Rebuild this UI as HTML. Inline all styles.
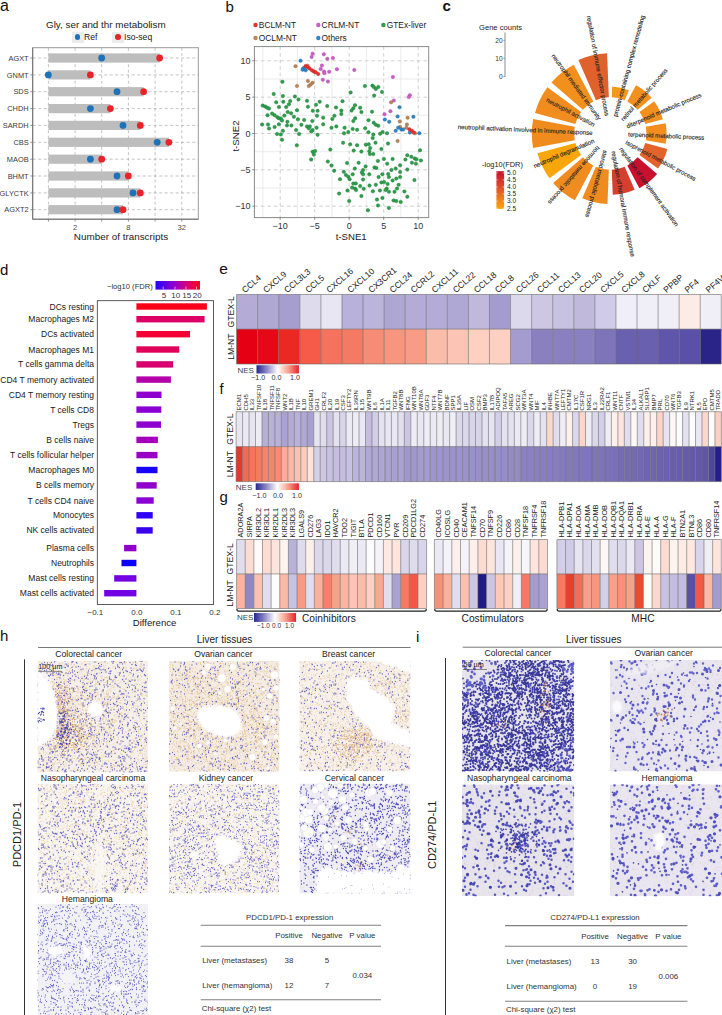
<!DOCTYPE html>
<html><head><meta charset="utf-8"><style>
html,body{margin:0;padding:0;background:#fff;}
body{width:722px;height:1015px;position:relative;overflow:hidden;font-family:"Liberation Sans",sans-serif;}
svg{font-family:"Liberation Sans",sans-serif;overflow:visible;}
.t{position:absolute;white-space:nowrap;line-height:1;color:#111;}
</style></head><body>
<div class="t" style="left:0px;top:-1.6px;font-size:16px;">a</div>
<div class="t" style="left:46px;top:19.6px;font-size:9.85px;color:#1a1a1a;">Gly, ser and thr metabolism</div>
<div style="position:absolute;left:72px;top:32px;width:12px;height:11px;background:#ececec"></div>
<div style="position:absolute;left:75.1px;top:34.2px;width:5.4px;height:5.4px;border-radius:50%;background:#1f72b8"></div>
<div class="t" style="left:84px;top:32.5px;font-size:8.6px;color:#1a1a1a;">Ref</div>
<div style="position:absolute;left:112px;top:32px;width:12px;height:11px;background:#ececec"></div>
<div style="position:absolute;left:115.2px;top:34.2px;width:5.4px;height:5.4px;border-radius:50%;background:#e8242b"></div>
<div class="t" style="left:124px;top:32.5px;font-size:8.6px;color:#1a1a1a;">Iso-seq</div>
<svg style="position:absolute;left:0;top:0" width="222" height="250" viewBox="0 0 222 250"><line x1="48.4" y1="47.7" x2="48.4" y2="219.2" stroke="#9a9a9a" stroke-width="0.6" stroke-dasharray="3,2.5"/><line x1="75.1" y1="47.7" x2="75.1" y2="219.2" stroke="#9a9a9a" stroke-width="0.6" stroke-dasharray="3,2.5"/><line x1="101.7" y1="47.7" x2="101.7" y2="219.2" stroke="#9a9a9a" stroke-width="0.6" stroke-dasharray="3,2.5"/><line x1="128.4" y1="47.7" x2="128.4" y2="219.2" stroke="#9a9a9a" stroke-width="0.6" stroke-dasharray="3,2.5"/><line x1="155.1" y1="47.7" x2="155.1" y2="219.2" stroke="#9a9a9a" stroke-width="0.6" stroke-dasharray="3,2.5"/><line x1="181.8" y1="47.7" x2="181.8" y2="219.2" stroke="#9a9a9a" stroke-width="0.6" stroke-dasharray="3,2.5"/><line x1="32.7" y1="58.0" x2="198.3" y2="58.0" stroke="#9a9a9a" stroke-width="0.6" stroke-dasharray="3,2.5"/><line x1="32.7" y1="74.9" x2="198.3" y2="74.9" stroke="#9a9a9a" stroke-width="0.6" stroke-dasharray="3,2.5"/><line x1="32.7" y1="91.7" x2="198.3" y2="91.7" stroke="#9a9a9a" stroke-width="0.6" stroke-dasharray="3,2.5"/><line x1="32.7" y1="108.6" x2="198.3" y2="108.6" stroke="#9a9a9a" stroke-width="0.6" stroke-dasharray="3,2.5"/><line x1="32.7" y1="125.4" x2="198.3" y2="125.4" stroke="#9a9a9a" stroke-width="0.6" stroke-dasharray="3,2.5"/><line x1="32.7" y1="142.3" x2="198.3" y2="142.3" stroke="#9a9a9a" stroke-width="0.6" stroke-dasharray="3,2.5"/><line x1="32.7" y1="159.2" x2="198.3" y2="159.2" stroke="#9a9a9a" stroke-width="0.6" stroke-dasharray="3,2.5"/><line x1="32.7" y1="176.0" x2="198.3" y2="176.0" stroke="#9a9a9a" stroke-width="0.6" stroke-dasharray="3,2.5"/><line x1="32.7" y1="192.9" x2="198.3" y2="192.9" stroke="#9a9a9a" stroke-width="0.6" stroke-dasharray="3,2.5"/><line x1="32.7" y1="209.7" x2="198.3" y2="209.7" stroke="#9a9a9a" stroke-width="0.6" stroke-dasharray="3,2.5"/><rect x="48.4" y="53.4" width="111.2" height="9.2" fill="#bdbdbd"/><circle cx="101.7" cy="58.0" r="3.4" fill="#1f72b8"/><circle cx="159.6" cy="58.0" r="3.4" fill="#e8242b"/><line x1="30.3" y1="58.0" x2="32.7" y2="58.0" stroke="#444" stroke-width="0.6"/><rect x="48.4" y="70.3" width="42.0" height="9.2" fill="#bdbdbd"/><circle cx="48.3" cy="74.9" r="3.4" fill="#1f72b8"/><circle cx="90.4" cy="74.9" r="3.4" fill="#e8242b"/><line x1="30.3" y1="74.9" x2="32.7" y2="74.9" stroke="#444" stroke-width="0.6"/><rect x="48.4" y="87.1" width="95.2" height="9.2" fill="#bdbdbd"/><circle cx="117" cy="91.7" r="3.4" fill="#1f72b8"/><circle cx="143.6" cy="91.7" r="3.4" fill="#e8242b"/><line x1="30.3" y1="91.7" x2="32.7" y2="91.7" stroke="#444" stroke-width="0.6"/><rect x="48.4" y="104.0" width="62.0" height="9.2" fill="#bdbdbd"/><circle cx="90.4" cy="108.6" r="3.4" fill="#1f72b8"/><circle cx="110.4" cy="108.6" r="3.4" fill="#e8242b"/><line x1="30.3" y1="108.6" x2="32.7" y2="108.6" stroke="#444" stroke-width="0.6"/><rect x="48.4" y="120.8" width="91.9" height="9.2" fill="#bdbdbd"/><circle cx="123" cy="125.4" r="3.4" fill="#1f72b8"/><circle cx="140.3" cy="125.4" r="3.4" fill="#e8242b"/><line x1="30.3" y1="125.4" x2="32.7" y2="125.4" stroke="#444" stroke-width="0.6"/><rect x="48.4" y="137.7" width="120.5" height="9.2" fill="#bdbdbd"/><circle cx="157.2" cy="142.3" r="3.4" fill="#1f72b8"/><circle cx="168.9" cy="142.3" r="3.4" fill="#e8242b"/><line x1="30.3" y1="142.3" x2="32.7" y2="142.3" stroke="#444" stroke-width="0.6"/><rect x="48.4" y="154.6" width="53.3" height="9.2" fill="#bdbdbd"/><circle cx="90.4" cy="159.2" r="3.4" fill="#1f72b8"/><circle cx="101.7" cy="159.2" r="3.4" fill="#e8242b"/><line x1="30.3" y1="159.2" x2="32.7" y2="159.2" stroke="#444" stroke-width="0.6"/><rect x="48.4" y="171.4" width="79.9" height="9.2" fill="#bdbdbd"/><circle cx="117" cy="176.0" r="3.4" fill="#1f72b8"/><circle cx="128.3" cy="176.0" r="3.4" fill="#e8242b"/><line x1="30.3" y1="176.0" x2="32.7" y2="176.0" stroke="#444" stroke-width="0.6"/><rect x="48.4" y="188.3" width="91.9" height="9.2" fill="#bdbdbd"/><circle cx="133" cy="192.9" r="3.4" fill="#1f72b8"/><circle cx="140.3" cy="192.9" r="3.4" fill="#e8242b"/><line x1="30.3" y1="192.9" x2="32.7" y2="192.9" stroke="#444" stroke-width="0.6"/><rect x="48.4" y="205.1" width="74.6" height="9.2" fill="#bdbdbd"/><circle cx="117" cy="209.7" r="3.4" fill="#1f72b8"/><circle cx="123" cy="209.7" r="3.4" fill="#e8242b"/><line x1="30.3" y1="209.7" x2="32.7" y2="209.7" stroke="#444" stroke-width="0.6"/><line x1="48.4" y1="219.2" x2="48.4" y2="221.6" stroke="#444" stroke-width="0.6"/><line x1="75.1" y1="219.2" x2="75.1" y2="221.6" stroke="#444" stroke-width="0.6"/><line x1="101.7" y1="219.2" x2="101.7" y2="221.6" stroke="#444" stroke-width="0.6"/><line x1="128.4" y1="219.2" x2="128.4" y2="221.6" stroke="#444" stroke-width="0.6"/><line x1="155.1" y1="219.2" x2="155.1" y2="221.6" stroke="#444" stroke-width="0.6"/><line x1="181.8" y1="219.2" x2="181.8" y2="221.6" stroke="#444" stroke-width="0.6"/><rect x="32.7" y="47.7" width="165.6" height="171.5" fill="none" stroke="#9a9a9a" stroke-width="1"/><path d="M32.7,47.7 V219.2 H198.3" fill="none" stroke="#6a6a6a" stroke-width="0.9"/><text x="28.6" y="60.7" text-anchor="end" font-size="7.4" fill="#3a3a3a">AGXT</text><text x="28.6" y="77.6" text-anchor="end" font-size="7.4" fill="#3a3a3a">GNMT</text><text x="28.6" y="94.4" text-anchor="end" font-size="7.4" fill="#3a3a3a">SDS</text><text x="28.6" y="111.3" text-anchor="end" font-size="7.4" fill="#3a3a3a">CHDH</text><text x="28.6" y="128.1" text-anchor="end" font-size="7.4" fill="#3a3a3a">SARDH</text><text x="28.6" y="145.0" text-anchor="end" font-size="7.4" fill="#3a3a3a">CBS</text><text x="28.6" y="161.9" text-anchor="end" font-size="7.4" fill="#3a3a3a">MAOB</text><text x="28.6" y="178.7" text-anchor="end" font-size="7.4" fill="#3a3a3a">BHMT</text><text x="28.6" y="195.6" text-anchor="end" font-size="7.4" fill="#3a3a3a">GLYCTK</text><text x="28.6" y="212.4" text-anchor="end" font-size="7.4" fill="#3a3a3a">AGXT2</text><text x="75" y="230" text-anchor="middle" font-size="7.6" fill="#4d4d4d">2</text><text x="128.3" y="230" text-anchor="middle" font-size="7.6" fill="#4d4d4d">8</text><text x="181.7" y="230" text-anchor="middle" font-size="7.6" fill="#4d4d4d">32</text><text x="121" y="239.6" text-anchor="middle" font-size="9.9" fill="#1a1a1a">Number of transcripts</text></svg><div class="t" style="left:225.5px;top:-1px;font-size:15px;">b</div>
<svg style="position:absolute;left:0;top:0" width="722" height="250"><circle cx="255.5" cy="25" r="2.2" fill="#e8302f"/><text x="258.8" y="28.0" font-size="8.4" fill="#1a1a1a">BCLM-NT</text><circle cx="318.3" cy="25" r="2.2" fill="#c761c4"/><text x="321.6" y="28.0" font-size="8.4" fill="#1a1a1a">CRLM-NT</text><circle cx="383.4" cy="25" r="2.2" fill="#2c9b4b"/><text x="386.7" y="28.0" font-size="8.4" fill="#1a1a1a">GTEx-liver</text><circle cx="255.5" cy="38" r="2.2" fill="#b8865a"/><text x="258.8" y="41.0" font-size="8.4" fill="#1a1a1a">OCLM-NT</text><circle cx="318.3" cy="38" r="2.2" fill="#2f86c6"/><text x="321.6" y="41.0" font-size="8.4" fill="#1a1a1a">Others</text><line x1="262.9" y1="46.6" x2="262.9" y2="217.6" stroke="#e4e4e4" stroke-width="0.7"/><line x1="297.4" y1="46.6" x2="297.4" y2="217.6" stroke="#e4e4e4" stroke-width="0.7"/><line x1="331.9" y1="46.6" x2="331.9" y2="217.6" stroke="#e4e4e4" stroke-width="0.7"/><line x1="366.4" y1="46.6" x2="366.4" y2="217.6" stroke="#e4e4e4" stroke-width="0.7"/><line x1="400.9" y1="46.6" x2="400.9" y2="217.6" stroke="#e4e4e4" stroke-width="0.7"/><line x1="254.4" y1="188.0" x2="428.7" y2="188.0" stroke="#e4e4e4" stroke-width="0.7"/><line x1="254.4" y1="151.7" x2="428.7" y2="151.7" stroke="#e4e4e4" stroke-width="0.7"/><line x1="254.4" y1="115.3" x2="428.7" y2="115.3" stroke="#e4e4e4" stroke-width="0.7"/><line x1="254.4" y1="79.0" x2="428.7" y2="79.0" stroke="#e4e4e4" stroke-width="0.7"/><line x1="280.2" y1="46.6" x2="280.2" y2="217.6" stroke="#bcbcbc" stroke-width="0.7" stroke-dasharray="3.5,3"/><line x1="254.4" y1="206.2" x2="428.7" y2="206.2" stroke="#bcbcbc" stroke-width="0.7" stroke-dasharray="3.5,3"/><line x1="314.7" y1="46.6" x2="314.7" y2="217.6" stroke="#bcbcbc" stroke-width="0.7" stroke-dasharray="3.5,3"/><line x1="254.4" y1="169.8" x2="428.7" y2="169.8" stroke="#bcbcbc" stroke-width="0.7" stroke-dasharray="3.5,3"/><line x1="349.2" y1="46.6" x2="349.2" y2="217.6" stroke="#bcbcbc" stroke-width="0.7" stroke-dasharray="3.5,3"/><line x1="254.4" y1="133.5" x2="428.7" y2="133.5" stroke="#bcbcbc" stroke-width="0.7" stroke-dasharray="3.5,3"/><line x1="383.7" y1="46.6" x2="383.7" y2="217.6" stroke="#bcbcbc" stroke-width="0.7" stroke-dasharray="3.5,3"/><line x1="254.4" y1="97.2" x2="428.7" y2="97.2" stroke="#bcbcbc" stroke-width="0.7" stroke-dasharray="3.5,3"/><line x1="418.2" y1="46.6" x2="418.2" y2="217.6" stroke="#bcbcbc" stroke-width="0.7" stroke-dasharray="3.5,3"/><line x1="254.4" y1="60.8" x2="428.7" y2="60.8" stroke="#bcbcbc" stroke-width="0.7" stroke-dasharray="3.5,3"/><circle cx="282.4" cy="81.8" r="1.75" fill="#2e9e4c" stroke="#1f7a37" stroke-width="0.4"/><circle cx="273.7" cy="94" r="1.75" fill="#2e9e4c" stroke="#1f7a37" stroke-width="0.4"/><circle cx="282.9" cy="96.1" r="1.75" fill="#2e9e4c" stroke="#1f7a37" stroke-width="0.4"/><circle cx="294.9" cy="96.5" r="1.75" fill="#2e9e4c" stroke="#1f7a37" stroke-width="0.4"/><circle cx="298.5" cy="99.4" r="1.75" fill="#2e9e4c" stroke="#1f7a37" stroke-width="0.4"/><circle cx="290.2" cy="101.1" r="1.75" fill="#2e9e4c" stroke="#1f7a37" stroke-width="0.4"/><circle cx="283.3" cy="101.8" r="1.75" fill="#2e9e4c" stroke="#1f7a37" stroke-width="0.4"/><circle cx="276.2" cy="102.3" r="1.75" fill="#2e9e4c" stroke="#1f7a37" stroke-width="0.4"/><circle cx="307" cy="100.8" r="1.75" fill="#2e9e4c" stroke="#1f7a37" stroke-width="0.4"/><circle cx="319.7" cy="101.7" r="1.75" fill="#2e9e4c" stroke="#1f7a37" stroke-width="0.4"/><circle cx="342.5" cy="101.2" r="1.75" fill="#2e9e4c" stroke="#1f7a37" stroke-width="0.4"/><circle cx="262.7" cy="105.6" r="1.75" fill="#2e9e4c" stroke="#1f7a37" stroke-width="0.4"/><circle cx="265.2" cy="106.5" r="1.75" fill="#2e9e4c" stroke="#1f7a37" stroke-width="0.4"/><circle cx="267.1" cy="107.7" r="1.75" fill="#2e9e4c" stroke="#1f7a37" stroke-width="0.4"/><circle cx="269" cy="108.6" r="1.75" fill="#2e9e4c" stroke="#1f7a37" stroke-width="0.4"/><circle cx="278.9" cy="107.1" r="1.75" fill="#2e9e4c" stroke="#1f7a37" stroke-width="0.4"/><circle cx="286.2" cy="107.1" r="1.75" fill="#2e9e4c" stroke="#1f7a37" stroke-width="0.4"/><circle cx="288.9" cy="104.3" r="1.75" fill="#2e9e4c" stroke="#1f7a37" stroke-width="0.4"/><circle cx="307.9" cy="106.8" r="1.75" fill="#2e9e4c" stroke="#1f7a37" stroke-width="0.4"/><circle cx="316" cy="104.8" r="1.75" fill="#2e9e4c" stroke="#1f7a37" stroke-width="0.4"/><circle cx="327.2" cy="106.1" r="1.75" fill="#2e9e4c" stroke="#1f7a37" stroke-width="0.4"/><circle cx="336" cy="107.5" r="1.75" fill="#2e9e4c" stroke="#1f7a37" stroke-width="0.4"/><circle cx="341.3" cy="110.6" r="1.75" fill="#2e9e4c" stroke="#1f7a37" stroke-width="0.4"/><circle cx="341.3" cy="113.9" r="1.75" fill="#2e9e4c" stroke="#1f7a37" stroke-width="0.4"/><circle cx="297" cy="110.2" r="1.75" fill="#2e9e4c" stroke="#1f7a37" stroke-width="0.4"/><circle cx="287.7" cy="112.1" r="1.75" fill="#2e9e4c" stroke="#1f7a37" stroke-width="0.4"/><circle cx="291.1" cy="113.3" r="1.75" fill="#2e9e4c" stroke="#1f7a37" stroke-width="0.4"/><circle cx="312.8" cy="110.8" r="1.75" fill="#2e9e4c" stroke="#1f7a37" stroke-width="0.4"/><circle cx="317.6" cy="110.8" r="1.75" fill="#2e9e4c" stroke="#1f7a37" stroke-width="0.4"/><circle cx="267.5" cy="115.2" r="1.75" fill="#2e9e4c" stroke="#1f7a37" stroke-width="0.4"/><circle cx="272.1" cy="113.6" r="1.75" fill="#2e9e4c" stroke="#1f7a37" stroke-width="0.4"/><circle cx="274.6" cy="115.2" r="1.75" fill="#2e9e4c" stroke="#1f7a37" stroke-width="0.4"/><circle cx="277.4" cy="117.3" r="1.75" fill="#2e9e4c" stroke="#1f7a37" stroke-width="0.4"/><circle cx="278.9" cy="118.3" r="1.75" fill="#2e9e4c" stroke="#1f7a37" stroke-width="0.4"/><circle cx="280.8" cy="118.5" r="1.75" fill="#2e9e4c" stroke="#1f7a37" stroke-width="0.4"/><circle cx="282" cy="120.5" r="1.75" fill="#2e9e4c" stroke="#1f7a37" stroke-width="0.4"/><circle cx="284.3" cy="115.6" r="1.75" fill="#2e9e4c" stroke="#1f7a37" stroke-width="0.4"/><circle cx="293.9" cy="116.8" r="1.75" fill="#2e9e4c" stroke="#1f7a37" stroke-width="0.4"/><circle cx="297.9" cy="119.3" r="1.75" fill="#2e9e4c" stroke="#1f7a37" stroke-width="0.4"/><circle cx="304.1" cy="119.9" r="1.75" fill="#2e9e4c" stroke="#1f7a37" stroke-width="0.4"/><circle cx="312.3" cy="121" r="1.75" fill="#2e9e4c" stroke="#1f7a37" stroke-width="0.4"/><circle cx="317" cy="115.8" r="1.75" fill="#2e9e4c" stroke="#1f7a37" stroke-width="0.4"/><circle cx="323.2" cy="117.7" r="1.75" fill="#2e9e4c" stroke="#1f7a37" stroke-width="0.4"/><circle cx="332.3" cy="118.9" r="1.75" fill="#2e9e4c" stroke="#1f7a37" stroke-width="0.4"/><circle cx="334.4" cy="115.8" r="1.75" fill="#2e9e4c" stroke="#1f7a37" stroke-width="0.4"/><circle cx="262.1" cy="124.5" r="1.75" fill="#2e9e4c" stroke="#1f7a37" stroke-width="0.4"/><circle cx="268" cy="124.5" r="1.75" fill="#2e9e4c" stroke="#1f7a37" stroke-width="0.4"/><circle cx="269" cy="128.5" r="1.75" fill="#2e9e4c" stroke="#1f7a37" stroke-width="0.4"/><circle cx="274.6" cy="127" r="1.75" fill="#2e9e4c" stroke="#1f7a37" stroke-width="0.4"/><circle cx="278.9" cy="124.3" r="1.75" fill="#2e9e4c" stroke="#1f7a37" stroke-width="0.4"/><circle cx="287.4" cy="121.8" r="1.75" fill="#2e9e4c" stroke="#1f7a37" stroke-width="0.4"/><circle cx="287" cy="125.4" r="1.75" fill="#2e9e4c" stroke="#1f7a37" stroke-width="0.4"/><circle cx="291.4" cy="125.4" r="1.75" fill="#2e9e4c" stroke="#1f7a37" stroke-width="0.4"/><circle cx="301.4" cy="124.8" r="1.75" fill="#2e9e4c" stroke="#1f7a37" stroke-width="0.4"/><circle cx="307" cy="126.4" r="1.75" fill="#2e9e4c" stroke="#1f7a37" stroke-width="0.4"/><circle cx="309.8" cy="126.4" r="1.75" fill="#2e9e4c" stroke="#1f7a37" stroke-width="0.4"/><circle cx="308.8" cy="128.3" r="1.75" fill="#2e9e4c" stroke="#1f7a37" stroke-width="0.4"/><circle cx="312.6" cy="130.1" r="1.75" fill="#2e9e4c" stroke="#1f7a37" stroke-width="0.4"/><circle cx="316.6" cy="127.7" r="1.75" fill="#2e9e4c" stroke="#1f7a37" stroke-width="0.4"/><circle cx="323.2" cy="124.3" r="1.75" fill="#2e9e4c" stroke="#1f7a37" stroke-width="0.4"/><circle cx="331.5" cy="127.7" r="1.75" fill="#2e9e4c" stroke="#1f7a37" stroke-width="0.4"/><circle cx="336.3" cy="126.4" r="1.75" fill="#2e9e4c" stroke="#1f7a37" stroke-width="0.4"/><circle cx="282.9" cy="130.8" r="1.75" fill="#2e9e4c" stroke="#1f7a37" stroke-width="0.4"/><circle cx="296.1" cy="130.1" r="1.75" fill="#2e9e4c" stroke="#1f7a37" stroke-width="0.4"/><circle cx="277.1" cy="133.9" r="1.75" fill="#2e9e4c" stroke="#1f7a37" stroke-width="0.4"/><circle cx="280.8" cy="134.5" r="1.75" fill="#2e9e4c" stroke="#1f7a37" stroke-width="0.4"/><circle cx="299.1" cy="133.9" r="1.75" fill="#2e9e4c" stroke="#1f7a37" stroke-width="0.4"/><circle cx="317.6" cy="134.8" r="1.75" fill="#2e9e4c" stroke="#1f7a37" stroke-width="0.4"/><circle cx="364.9" cy="86.1" r="1.75" fill="#2e9e4c" stroke="#1f7a37" stroke-width="0.4"/><circle cx="372.4" cy="85.6" r="1.75" fill="#2e9e4c" stroke="#1f7a37" stroke-width="0.4"/><circle cx="373.9" cy="87.1" r="1.75" fill="#2e9e4c" stroke="#1f7a37" stroke-width="0.4"/><circle cx="375.8" cy="89" r="1.75" fill="#2e9e4c" stroke="#1f7a37" stroke-width="0.4"/><circle cx="378.3" cy="86.9" r="1.75" fill="#2e9e4c" stroke="#1f7a37" stroke-width="0.4"/><circle cx="382" cy="91.9" r="1.75" fill="#2e9e4c" stroke="#1f7a37" stroke-width="0.4"/><circle cx="350.6" cy="92.4" r="1.75" fill="#2e9e4c" stroke="#1f7a37" stroke-width="0.4"/><circle cx="374.2" cy="95.6" r="1.75" fill="#2e9e4c" stroke="#1f7a37" stroke-width="0.4"/><circle cx="355" cy="105.2" r="1.75" fill="#2e9e4c" stroke="#1f7a37" stroke-width="0.4"/><circle cx="353.3" cy="108.3" r="1.75" fill="#2e9e4c" stroke="#1f7a37" stroke-width="0.4"/><circle cx="351.5" cy="110.6" r="1.75" fill="#2e9e4c" stroke="#1f7a37" stroke-width="0.4"/><circle cx="360.2" cy="107.7" r="1.75" fill="#2e9e4c" stroke="#1f7a37" stroke-width="0.4"/><circle cx="361.4" cy="112.1" r="1.75" fill="#2e9e4c" stroke="#1f7a37" stroke-width="0.4"/><circle cx="372" cy="111.7" r="1.75" fill="#2e9e4c" stroke="#1f7a37" stroke-width="0.4"/><circle cx="355.2" cy="118.3" r="1.75" fill="#2e9e4c" stroke="#1f7a37" stroke-width="0.4"/><circle cx="353.3" cy="121" r="1.75" fill="#2e9e4c" stroke="#1f7a37" stroke-width="0.4"/><circle cx="368.5" cy="120.2" r="1.75" fill="#2e9e4c" stroke="#1f7a37" stroke-width="0.4"/><circle cx="373.7" cy="122.7" r="1.75" fill="#2e9e4c" stroke="#1f7a37" stroke-width="0.4"/><circle cx="375.8" cy="124.8" r="1.75" fill="#2e9e4c" stroke="#1f7a37" stroke-width="0.4"/><circle cx="378.3" cy="125.8" r="1.75" fill="#2e9e4c" stroke="#1f7a37" stroke-width="0.4"/><circle cx="344.6" cy="127.7" r="1.75" fill="#2e9e4c" stroke="#1f7a37" stroke-width="0.4"/><circle cx="352.7" cy="128.9" r="1.75" fill="#2e9e4c" stroke="#1f7a37" stroke-width="0.4"/><circle cx="357.1" cy="129.8" r="1.75" fill="#2e9e4c" stroke="#1f7a37" stroke-width="0.4"/><circle cx="365.2" cy="128.3" r="1.75" fill="#2e9e4c" stroke="#1f7a37" stroke-width="0.4"/><circle cx="348.3" cy="132" r="1.75" fill="#2e9e4c" stroke="#1f7a37" stroke-width="0.4"/><circle cx="368.5" cy="132.3" r="1.75" fill="#2e9e4c" stroke="#1f7a37" stroke-width="0.4"/><circle cx="382.6" cy="132" r="1.75" fill="#2e9e4c" stroke="#1f7a37" stroke-width="0.4"/><circle cx="387" cy="133.3" r="1.75" fill="#2e9e4c" stroke="#1f7a37" stroke-width="0.4"/><circle cx="344" cy="133.3" r="1.75" fill="#2e9e4c" stroke="#1f7a37" stroke-width="0.4"/><circle cx="373.3" cy="134.5" r="1.75" fill="#2e9e4c" stroke="#1f7a37" stroke-width="0.4"/><circle cx="282" cy="139.7" r="1.75" fill="#2e9e4c" stroke="#1f7a37" stroke-width="0.4"/><circle cx="311.3" cy="131.5" r="1.75" fill="#2e9e4c" stroke="#1f7a37" stroke-width="0.4"/><circle cx="343.1" cy="142.8" r="1.75" fill="#2e9e4c" stroke="#1f7a37" stroke-width="0.4"/><circle cx="296.8" cy="145.3" r="1.75" fill="#2e9e4c" stroke="#1f7a37" stroke-width="0.4"/><circle cx="312.6" cy="151.8" r="1.75" fill="#2e9e4c" stroke="#1f7a37" stroke-width="0.4"/><circle cx="315.1" cy="150.9" r="1.75" fill="#2e9e4c" stroke="#1f7a37" stroke-width="0.4"/><circle cx="313.8" cy="154.6" r="1.75" fill="#2e9e4c" stroke="#1f7a37" stroke-width="0.4"/><circle cx="311.1" cy="159.5" r="1.75" fill="#2e9e4c" stroke="#1f7a37" stroke-width="0.4"/><circle cx="330.3" cy="149.6" r="1.75" fill="#2e9e4c" stroke="#1f7a37" stroke-width="0.4"/><circle cx="327.8" cy="161.5" r="1.75" fill="#2e9e4c" stroke="#1f7a37" stroke-width="0.4"/><circle cx="331.5" cy="165.5" r="1.75" fill="#2e9e4c" stroke="#1f7a37" stroke-width="0.4"/><circle cx="334.2" cy="170.8" r="1.75" fill="#2e9e4c" stroke="#1f7a37" stroke-width="0.4"/><circle cx="343.8" cy="171.8" r="1.75" fill="#2e9e4c" stroke="#1f7a37" stroke-width="0.4"/><circle cx="340" cy="179.2" r="1.75" fill="#2e9e4c" stroke="#1f7a37" stroke-width="0.4"/><circle cx="339.1" cy="193.6" r="1.75" fill="#2e9e4c" stroke="#1f7a37" stroke-width="0.4"/><circle cx="372.7" cy="138.1" r="1.75" fill="#2e9e4c" stroke="#1f7a37" stroke-width="0.4"/><circle cx="380.1" cy="133.7" r="1.75" fill="#2e9e4c" stroke="#1f7a37" stroke-width="0.4"/><circle cx="350.2" cy="144.3" r="1.75" fill="#2e9e4c" stroke="#1f7a37" stroke-width="0.4"/><circle cx="357.1" cy="145.2" r="1.75" fill="#2e9e4c" stroke="#1f7a37" stroke-width="0.4"/><circle cx="365.8" cy="144.7" r="1.75" fill="#2e9e4c" stroke="#1f7a37" stroke-width="0.4"/><circle cx="368.7" cy="144.3" r="1.75" fill="#2e9e4c" stroke="#1f7a37" stroke-width="0.4"/><circle cx="375.5" cy="142.7" r="1.75" fill="#2e9e4c" stroke="#1f7a37" stroke-width="0.4"/><circle cx="388" cy="143.5" r="1.75" fill="#2e9e4c" stroke="#1f7a37" stroke-width="0.4"/><circle cx="370.2" cy="148.1" r="1.75" fill="#2e9e4c" stroke="#1f7a37" stroke-width="0.4"/><circle cx="381.4" cy="149.1" r="1.75" fill="#2e9e4c" stroke="#1f7a37" stroke-width="0.4"/><circle cx="353.7" cy="150.6" r="1.75" fill="#2e9e4c" stroke="#1f7a37" stroke-width="0.4"/><circle cx="361.4" cy="151.6" r="1.75" fill="#2e9e4c" stroke="#1f7a37" stroke-width="0.4"/><circle cx="369.3" cy="151.2" r="1.75" fill="#2e9e4c" stroke="#1f7a37" stroke-width="0.4"/><circle cx="369.9" cy="154.1" r="1.75" fill="#2e9e4c" stroke="#1f7a37" stroke-width="0.4"/><circle cx="373.3" cy="154.1" r="1.75" fill="#2e9e4c" stroke="#1f7a37" stroke-width="0.4"/><circle cx="420" cy="150.2" r="1.75" fill="#2e9e4c" stroke="#1f7a37" stroke-width="0.4"/><circle cx="407.3" cy="155.2" r="1.75" fill="#2e9e4c" stroke="#1f7a37" stroke-width="0.4"/><circle cx="411.3" cy="156.8" r="1.75" fill="#2e9e4c" stroke="#1f7a37" stroke-width="0.4"/><circle cx="414.7" cy="158.4" r="1.75" fill="#2e9e4c" stroke="#1f7a37" stroke-width="0.4"/><circle cx="416.3" cy="159.3" r="1.75" fill="#2e9e4c" stroke="#1f7a37" stroke-width="0.4"/><circle cx="420.9" cy="160.5" r="1.75" fill="#2e9e4c" stroke="#1f7a37" stroke-width="0.4"/><circle cx="405.4" cy="159.5" r="1.75" fill="#2e9e4c" stroke="#1f7a37" stroke-width="0.4"/><circle cx="392.6" cy="159" r="1.75" fill="#2e9e4c" stroke="#1f7a37" stroke-width="0.4"/><circle cx="383.9" cy="159" r="1.75" fill="#2e9e4c" stroke="#1f7a37" stroke-width="0.4"/><circle cx="377.9" cy="160.9" r="1.75" fill="#2e9e4c" stroke="#1f7a37" stroke-width="0.4"/><circle cx="411.9" cy="162.7" r="1.75" fill="#2e9e4c" stroke="#1f7a37" stroke-width="0.4"/><circle cx="415.9" cy="163.7" r="1.75" fill="#2e9e4c" stroke="#1f7a37" stroke-width="0.4"/><circle cx="347.1" cy="163" r="1.75" fill="#2e9e4c" stroke="#1f7a37" stroke-width="0.4"/><circle cx="358.6" cy="162.8" r="1.75" fill="#2e9e4c" stroke="#1f7a37" stroke-width="0.4"/><circle cx="387.2" cy="163.7" r="1.75" fill="#2e9e4c" stroke="#1f7a37" stroke-width="0.4"/><circle cx="400.1" cy="165.3" r="1.75" fill="#2e9e4c" stroke="#1f7a37" stroke-width="0.4"/><circle cx="365.6" cy="166.4" r="1.75" fill="#2e9e4c" stroke="#1f7a37" stroke-width="0.4"/><circle cx="374.5" cy="167.4" r="1.75" fill="#2e9e4c" stroke="#1f7a37" stroke-width="0.4"/><circle cx="376.4" cy="168" r="1.75" fill="#2e9e4c" stroke="#1f7a37" stroke-width="0.4"/><circle cx="354.8" cy="168.6" r="1.75" fill="#2e9e4c" stroke="#1f7a37" stroke-width="0.4"/><circle cx="395.7" cy="168.6" r="1.75" fill="#2e9e4c" stroke="#1f7a37" stroke-width="0.4"/><circle cx="407.3" cy="169.6" r="1.75" fill="#2e9e4c" stroke="#1f7a37" stroke-width="0.4"/><circle cx="391.4" cy="169.9" r="1.75" fill="#2e9e4c" stroke="#1f7a37" stroke-width="0.4"/><circle cx="363.1" cy="170.1" r="1.75" fill="#2e9e4c" stroke="#1f7a37" stroke-width="0.4"/><circle cx="400.1" cy="172.1" r="1.75" fill="#2e9e4c" stroke="#1f7a37" stroke-width="0.4"/><circle cx="361.8" cy="172.4" r="1.75" fill="#2e9e4c" stroke="#1f7a37" stroke-width="0.4"/><circle cx="352.7" cy="174.3" r="1.75" fill="#2e9e4c" stroke="#1f7a37" stroke-width="0.4"/><circle cx="363.1" cy="174.3" r="1.75" fill="#2e9e4c" stroke="#1f7a37" stroke-width="0.4"/><circle cx="369.3" cy="174.3" r="1.75" fill="#2e9e4c" stroke="#1f7a37" stroke-width="0.4"/><circle cx="382.4" cy="174.3" r="1.75" fill="#2e9e4c" stroke="#1f7a37" stroke-width="0.4"/><circle cx="388.2" cy="174" r="1.75" fill="#2e9e4c" stroke="#1f7a37" stroke-width="0.4"/><circle cx="345.9" cy="174.9" r="1.75" fill="#2e9e4c" stroke="#1f7a37" stroke-width="0.4"/><circle cx="348.3" cy="176.7" r="1.75" fill="#2e9e4c" stroke="#1f7a37" stroke-width="0.4"/><circle cx="378.6" cy="177.1" r="1.75" fill="#2e9e4c" stroke="#1f7a37" stroke-width="0.4"/><circle cx="388.9" cy="177.1" r="1.75" fill="#2e9e4c" stroke="#1f7a37" stroke-width="0.4"/><circle cx="400.1" cy="177.1" r="1.75" fill="#2e9e4c" stroke="#1f7a37" stroke-width="0.4"/><circle cx="349.6" cy="179.2" r="1.75" fill="#2e9e4c" stroke="#1f7a37" stroke-width="0.4"/><circle cx="363.1" cy="179.6" r="1.75" fill="#2e9e4c" stroke="#1f7a37" stroke-width="0.4"/><circle cx="396.3" cy="178.6" r="1.75" fill="#2e9e4c" stroke="#1f7a37" stroke-width="0.4"/><circle cx="392.6" cy="180.5" r="1.75" fill="#2e9e4c" stroke="#1f7a37" stroke-width="0.4"/><circle cx="414.4" cy="180.1" r="1.75" fill="#2e9e4c" stroke="#1f7a37" stroke-width="0.4"/><circle cx="381.4" cy="182.4" r="1.75" fill="#2e9e4c" stroke="#1f7a37" stroke-width="0.4"/><circle cx="384.1" cy="182.1" r="1.75" fill="#2e9e4c" stroke="#1f7a37" stroke-width="0.4"/><circle cx="353.3" cy="183.6" r="1.75" fill="#2e9e4c" stroke="#1f7a37" stroke-width="0.4"/><circle cx="355.8" cy="183.4" r="1.75" fill="#2e9e4c" stroke="#1f7a37" stroke-width="0.4"/><circle cx="369.5" cy="185.5" r="1.75" fill="#2e9e4c" stroke="#1f7a37" stroke-width="0.4"/><circle cx="375.8" cy="184.8" r="1.75" fill="#2e9e4c" stroke="#1f7a37" stroke-width="0.4"/><circle cx="387.6" cy="183.9" r="1.75" fill="#2e9e4c" stroke="#1f7a37" stroke-width="0.4"/><circle cx="398.6" cy="184.8" r="1.75" fill="#2e9e4c" stroke="#1f7a37" stroke-width="0.4"/><circle cx="360.2" cy="186.1" r="1.75" fill="#2e9e4c" stroke="#1f7a37" stroke-width="0.4"/><circle cx="352.1" cy="187.6" r="1.75" fill="#2e9e4c" stroke="#1f7a37" stroke-width="0.4"/><circle cx="355" cy="188.6" r="1.75" fill="#2e9e4c" stroke="#1f7a37" stroke-width="0.4"/><circle cx="363.7" cy="188.8" r="1.75" fill="#2e9e4c" stroke="#1f7a37" stroke-width="0.4"/><circle cx="397" cy="188.6" r="1.75" fill="#2e9e4c" stroke="#1f7a37" stroke-width="0.4"/><circle cx="386.7" cy="188.6" r="1.75" fill="#2e9e4c" stroke="#1f7a37" stroke-width="0.4"/><circle cx="356.1" cy="190.1" r="1.75" fill="#2e9e4c" stroke="#1f7a37" stroke-width="0.4"/><circle cx="347.5" cy="190.5" r="1.75" fill="#2e9e4c" stroke="#1f7a37" stroke-width="0.4"/><circle cx="379.9" cy="190.5" r="1.75" fill="#2e9e4c" stroke="#1f7a37" stroke-width="0.4"/><circle cx="372.9" cy="191.3" r="1.75" fill="#2e9e4c" stroke="#1f7a37" stroke-width="0.4"/><circle cx="385.7" cy="190.1" r="1.75" fill="#2e9e4c" stroke="#1f7a37" stroke-width="0.4"/><circle cx="388.9" cy="191.7" r="1.75" fill="#2e9e4c" stroke="#1f7a37" stroke-width="0.4"/><circle cx="394.5" cy="191.7" r="1.75" fill="#2e9e4c" stroke="#1f7a37" stroke-width="0.4"/><circle cx="404.4" cy="191.5" r="1.75" fill="#2e9e4c" stroke="#1f7a37" stroke-width="0.4"/><circle cx="361.4" cy="196.1" r="1.75" fill="#2e9e4c" stroke="#1f7a37" stroke-width="0.4"/><circle cx="407.3" cy="196.7" r="1.75" fill="#2e9e4c" stroke="#1f7a37" stroke-width="0.4"/><circle cx="382.4" cy="197.9" r="1.75" fill="#2e9e4c" stroke="#1f7a37" stroke-width="0.4"/><circle cx="377" cy="199.6" r="1.75" fill="#2e9e4c" stroke="#1f7a37" stroke-width="0.4"/><circle cx="393.6" cy="200.4" r="1.75" fill="#2e9e4c" stroke="#1f7a37" stroke-width="0.4"/><circle cx="396.3" cy="201.1" r="1.75" fill="#2e9e4c" stroke="#1f7a37" stroke-width="0.4"/><circle cx="400.7" cy="201.9" r="1.75" fill="#2e9e4c" stroke="#1f7a37" stroke-width="0.4"/><circle cx="349.2" cy="201.1" r="1.75" fill="#2e9e4c" stroke="#1f7a37" stroke-width="0.4"/><circle cx="378" cy="205.4" r="1.75" fill="#2e9e4c" stroke="#1f7a37" stroke-width="0.4"/><circle cx="388.9" cy="207.9" r="1.75" fill="#2e9e4c" stroke="#1f7a37" stroke-width="0.4"/><circle cx="367.9" cy="210.2" r="1.75" fill="#2e9e4c" stroke="#1f7a37" stroke-width="0.4"/><circle cx="312.6" cy="53.7" r="1.75" fill="#c761c4" stroke="#a84aa5" stroke-width="0.4"/><circle cx="311.6" cy="57" r="1.75" fill="#c761c4" stroke="#a84aa5" stroke-width="0.4"/><circle cx="323.8" cy="54.2" r="1.75" fill="#c761c4" stroke="#a84aa5" stroke-width="0.4"/><circle cx="327.3" cy="58.8" r="1.75" fill="#c761c4" stroke="#a84aa5" stroke-width="0.4"/><circle cx="332.9" cy="58" r="1.75" fill="#c761c4" stroke="#a84aa5" stroke-width="0.4"/><circle cx="321.9" cy="65.6" r="1.75" fill="#c761c4" stroke="#a84aa5" stroke-width="0.4"/><circle cx="320.7" cy="69" r="1.75" fill="#c761c4" stroke="#a84aa5" stroke-width="0.4"/><circle cx="324" cy="71.6" r="1.75" fill="#c761c4" stroke="#a84aa5" stroke-width="0.4"/><circle cx="324.4" cy="73.2" r="1.75" fill="#c761c4" stroke="#a84aa5" stroke-width="0.4"/><circle cx="329.2" cy="71.8" r="1.75" fill="#c761c4" stroke="#a84aa5" stroke-width="0.4"/><circle cx="336.9" cy="69.2" r="1.75" fill="#c761c4" stroke="#a84aa5" stroke-width="0.4"/><circle cx="322.8" cy="79.7" r="1.75" fill="#c761c4" stroke="#a84aa5" stroke-width="0.4"/><circle cx="327.9" cy="81.5" r="1.75" fill="#c761c4" stroke="#a84aa5" stroke-width="0.4"/><circle cx="354.3" cy="69.9" r="1.75" fill="#c761c4" stroke="#a84aa5" stroke-width="0.4"/><circle cx="392.9" cy="76.9" r="1.75" fill="#c761c4" stroke="#a84aa5" stroke-width="0.4"/><circle cx="409.8" cy="95.2" r="1.75" fill="#c761c4" stroke="#a84aa5" stroke-width="0.4"/><circle cx="408.8" cy="97.1" r="1.75" fill="#c761c4" stroke="#a84aa5" stroke-width="0.4"/><circle cx="393.8" cy="100.5" r="1.75" fill="#c761c4" stroke="#a84aa5" stroke-width="0.4"/><circle cx="390.4" cy="111.2" r="1.75" fill="#c761c4" stroke="#a84aa5" stroke-width="0.4"/><circle cx="384.5" cy="114.3" r="1.75" fill="#c761c4" stroke="#a84aa5" stroke-width="0.4"/><circle cx="295.5" cy="66.2" r="1.75" fill="#b8865a" stroke="#96683f" stroke-width="0.4"/><circle cx="307.6" cy="65.7" r="1.75" fill="#b8865a" stroke="#96683f" stroke-width="0.4"/><circle cx="307.9" cy="80.9" r="1.75" fill="#b8865a" stroke="#96683f" stroke-width="0.4"/><circle cx="312.6" cy="82.8" r="1.75" fill="#b8865a" stroke="#96683f" stroke-width="0.4"/><circle cx="310.7" cy="84.4" r="1.75" fill="#b8865a" stroke="#96683f" stroke-width="0.4"/><circle cx="308.8" cy="86.1" r="1.75" fill="#b8865a" stroke="#96683f" stroke-width="0.4"/><circle cx="297" cy="85.9" r="1.75" fill="#b8865a" stroke="#96683f" stroke-width="0.4"/><circle cx="391.1" cy="102.3" r="1.75" fill="#b8865a" stroke="#96683f" stroke-width="0.4"/><circle cx="407.6" cy="117.7" r="1.75" fill="#b8865a" stroke="#96683f" stroke-width="0.4"/><circle cx="399.8" cy="121.4" r="1.75" fill="#b8865a" stroke="#96683f" stroke-width="0.4"/><circle cx="406.9" cy="124.5" r="1.75" fill="#b8865a" stroke="#96683f" stroke-width="0.4"/><circle cx="406.3" cy="127.7" r="1.75" fill="#b8865a" stroke="#96683f" stroke-width="0.4"/><circle cx="400.1" cy="127" r="1.75" fill="#b8865a" stroke="#96683f" stroke-width="0.4"/><circle cx="415" cy="133.3" r="1.75" fill="#b8865a" stroke="#96683f" stroke-width="0.4"/><circle cx="397.6" cy="141" r="1.75" fill="#b8865a" stroke="#96683f" stroke-width="0.4"/><circle cx="300.5" cy="60.7" r="1.75" fill="#2f86c6" stroke="#1f68a2" stroke-width="0.4"/><circle cx="303.2" cy="68.4" r="1.75" fill="#2f86c6" stroke="#1f68a2" stroke-width="0.4"/><circle cx="302.6" cy="69.7" r="1.75" fill="#2f86c6" stroke="#1f68a2" stroke-width="0.4"/><circle cx="305.7" cy="70.3" r="1.75" fill="#2f86c6" stroke="#1f68a2" stroke-width="0.4"/><circle cx="304.5" cy="67.5" r="1.75" fill="#2f86c6" stroke="#1f68a2" stroke-width="0.4"/><circle cx="399.5" cy="107.3" r="1.75" fill="#2f86c6" stroke="#1f68a2" stroke-width="0.4"/><circle cx="397.6" cy="116.4" r="1.75" fill="#2f86c6" stroke="#1f68a2" stroke-width="0.4"/><circle cx="413.4" cy="116.8" r="1.75" fill="#2f86c6" stroke="#1f68a2" stroke-width="0.4"/><circle cx="384.9" cy="119.5" r="1.75" fill="#2f86c6" stroke="#1f68a2" stroke-width="0.4"/><circle cx="389.2" cy="121.8" r="1.75" fill="#2f86c6" stroke="#1f68a2" stroke-width="0.4"/><circle cx="398.2" cy="127.7" r="1.75" fill="#2f86c6" stroke="#1f68a2" stroke-width="0.4"/><circle cx="401.3" cy="129.5" r="1.75" fill="#2f86c6" stroke="#1f68a2" stroke-width="0.4"/><circle cx="403.2" cy="129.5" r="1.75" fill="#2f86c6" stroke="#1f68a2" stroke-width="0.4"/><circle cx="395.7" cy="130.8" r="1.75" fill="#2f86c6" stroke="#1f68a2" stroke-width="0.4"/><circle cx="409.8" cy="132.6" r="1.75" fill="#2f86c6" stroke="#1f68a2" stroke-width="0.4"/><circle cx="419.4" cy="133.3" r="1.75" fill="#2f86c6" stroke="#1f68a2" stroke-width="0.4"/><circle cx="305.7" cy="66" r="1.75" fill="#e8302f" stroke="#c21e1e" stroke-width="0.4"/><circle cx="307.9" cy="67.2" r="1.75" fill="#e8302f" stroke="#c21e1e" stroke-width="0.4"/><circle cx="309.5" cy="68.4" r="1.75" fill="#e8302f" stroke="#c21e1e" stroke-width="0.4"/><circle cx="312" cy="70.3" r="1.75" fill="#e8302f" stroke="#c21e1e" stroke-width="0.4"/><circle cx="313.8" cy="71.6" r="1.75" fill="#e8302f" stroke="#c21e1e" stroke-width="0.4"/><circle cx="315.7" cy="72.2" r="1.75" fill="#e8302f" stroke="#c21e1e" stroke-width="0.4"/><circle cx="318.2" cy="74" r="1.75" fill="#e8302f" stroke="#c21e1e" stroke-width="0.4"/><circle cx="409.4" cy="129.3" r="1.75" fill="#e8302f" stroke="#c21e1e" stroke-width="0.4"/><circle cx="411.9" cy="130.8" r="1.75" fill="#e8302f" stroke="#c21e1e" stroke-width="0.4"/><circle cx="413.8" cy="132.6" r="1.75" fill="#e8302f" stroke="#c21e1e" stroke-width="0.4"/><rect x="254.4" y="46.6" width="174.3" height="171.0" fill="none" stroke="#8a8a8a" stroke-width="1"/><line x1="280.2" y1="217.6" x2="280.2" y2="219.79999999999998" stroke="#444" stroke-width="0.6"/><line x1="252.20000000000002" y1="206.2" x2="254.4" y2="206.2" stroke="#444" stroke-width="0.6"/><text x="280.2" y="229.4" text-anchor="middle" font-size="9" fill="#333">−10</text><text x="250.6" y="209.4" text-anchor="end" font-size="9" fill="#333">−10</text><line x1="314.7" y1="217.6" x2="314.7" y2="219.79999999999998" stroke="#444" stroke-width="0.6"/><line x1="252.20000000000002" y1="169.8" x2="254.4" y2="169.8" stroke="#444" stroke-width="0.6"/><text x="314.7" y="229.4" text-anchor="middle" font-size="9" fill="#333">−5</text><text x="250.6" y="173.0" text-anchor="end" font-size="9" fill="#333">−5</text><line x1="349.2" y1="217.6" x2="349.2" y2="219.79999999999998" stroke="#444" stroke-width="0.6"/><line x1="252.20000000000002" y1="133.5" x2="254.4" y2="133.5" stroke="#444" stroke-width="0.6"/><text x="349.2" y="229.4" text-anchor="middle" font-size="9" fill="#333">0</text><text x="250.6" y="136.7" text-anchor="end" font-size="9" fill="#333">0</text><line x1="383.7" y1="217.6" x2="383.7" y2="219.79999999999998" stroke="#444" stroke-width="0.6"/><line x1="252.20000000000002" y1="97.2" x2="254.4" y2="97.2" stroke="#444" stroke-width="0.6"/><text x="383.7" y="229.4" text-anchor="middle" font-size="9" fill="#333">5</text><text x="250.6" y="100.4" text-anchor="end" font-size="9" fill="#333">5</text><line x1="418.2" y1="217.6" x2="418.2" y2="219.79999999999998" stroke="#444" stroke-width="0.6"/><line x1="252.20000000000002" y1="60.8" x2="254.4" y2="60.8" stroke="#444" stroke-width="0.6"/><text x="418.2" y="229.4" text-anchor="middle" font-size="9" fill="#333">10</text><text x="250.6" y="64.0" text-anchor="end" font-size="9" fill="#333">10</text><text x="351.2" y="240" text-anchor="middle" font-size="9.6" fill="#1a1a1a">t-SNE1</text><text transform="translate(238.6,136) rotate(-90)" text-anchor="middle" font-size="9.7" fill="#1a1a1a">t-SNE2</text></svg><div class="t" style="left:442.5px;top:-2.5px;font-size:15px;font-weight:bold;">c</div>
<svg style="position:absolute;left:0;top:0" width="722" height="250"><path d="M595.92,100.28 L578.43,59.90 A80.2,80.2 0 0 1 607.08,53.36 L608.85,97.33 A36.2,36.2 0 0 0 595.92,100.28 Z" fill="#e0612b"/><path d="M611.75,97.33 L612.19,86.54 A47,47 0 0 1 628.98,90.37 L624.68,100.28 A36.2,36.2 0 0 0 611.75,97.33 Z" fill="#f4981d"/><path d="M627.30,101.54 L635.99,85.21 A54.7,54.7 0 0 1 651.66,97.71 L637.67,109.81 A36.2,36.2 0 0 0 627.30,101.54 Z" fill="#f2901d"/><path d="M639.49,112.08 L654.16,101.32 A54.4,54.4 0 0 1 662.81,119.28 L645.24,124.03 A36.2,36.2 0 0 0 639.49,112.08 Z" fill="#f2901d"/><path d="M645.89,126.87 L665.65,123.18 A56.3,56.3 0 0 1 665.65,143.81 L645.89,140.13 A36.2,36.2 0 0 0 645.89,126.87 Z" fill="#f28d1e"/><path d="M645.24,142.96 L667.44,148.98 A59.2,59.2 0 0 1 658.03,168.52 L639.49,154.92 A36.2,36.2 0 0 0 645.24,142.96 Z" fill="#e4632b"/><path d="M637.67,157.19 L657.11,174.00 A61.9,61.9 0 0 1 639.38,188.15 L627.30,165.46 A36.2,36.2 0 0 0 637.67,157.19 Z" fill="#c8112f"/><path d="M624.69,166.72 L634.66,189.75 A61.3,61.3 0 0 1 612.76,194.75 L611.75,169.67 A36.2,36.2 0 0 0 624.69,166.72 Z" fill="#d63e2e"/><path d="M608.85,169.67 L607.47,203.94 A70.5,70.5 0 0 1 582.29,198.20 L595.92,166.72 A36.2,36.2 0 0 0 608.85,169.67 Z" fill="#f08b1f"/><path d="M593.30,165.46 L574.84,200.16 A75.5,75.5 0 0 1 553.21,182.91 L582.93,157.19 A36.2,36.2 0 0 0 593.30,165.46 Z" fill="#f08b1f"/><path d="M581.12,154.92 L549.43,178.17 A75.5,75.5 0 0 1 537.43,153.24 L575.36,142.97 A36.2,36.2 0 0 0 581.12,154.92 Z" fill="#f8a60b"/><path d="M574.71,140.13 L533.13,147.89 A78.5,78.5 0 0 1 533.13,119.12 L574.71,126.87 A36.2,36.2 0 0 0 574.71,140.13 Z" fill="#f08c1e"/><path d="M575.36,124.04 L535.01,113.11 A78,78 0 0 1 547.41,87.36 L581.11,112.09 A36.2,36.2 0 0 0 575.36,124.04 Z" fill="#f08d1e"/><path d="M582.92,109.81 L551.47,82.59 A77.8,77.8 0 0 1 573.75,64.82 L593.30,101.54 A36.2,36.2 0 0 0 582.92,109.81 Z" fill="#f2901d"/><text transform="translate(607.10,115.99) rotate(79.64)" text-anchor="end" dy="2.1" font-size="6.1" fill="#222" stroke="#222" stroke-width="0.12">regulation of immune effector process</text><text transform="translate(615.01,116.34) rotate(-74.64)" text-anchor="start" dy="2.1" font-size="6.1" fill="#222" stroke="#222" stroke-width="0.12">protein-containing complex remodeling</text><text transform="translate(621.99,120.08) rotate(-48.93)" text-anchor="start" dy="2.1" font-size="6.1" fill="#222" stroke="#222" stroke-width="0.12">retinol metabolic process</text><text transform="translate(626.66,126.48) rotate(-23.22)" text-anchor="start" dy="2.1" font-size="6.1" fill="#222" stroke="#222" stroke-width="0.12">diterpenoid metabolic process</text><text transform="translate(628.08,134.28) rotate(2.50)" text-anchor="start" dy="2.1" font-size="6.1" fill="#222" stroke="#222" stroke-width="0.12">terpenoid metabolic process</text><text transform="translate(625.99,141.91) rotate(28.21)" text-anchor="start" dy="2.1" font-size="6.1" fill="#222" stroke="#222" stroke-width="0.12">isoprenoid metabolic process</text><text transform="translate(620.78,147.89) rotate(53.93)" text-anchor="start" dy="2.1" font-size="6.1" fill="#222" stroke="#222" stroke-width="0.12">regulation of complement activation</text><text transform="translate(613.50,151.01) rotate(79.64)" text-anchor="start" dy="2.1" font-size="6.1" fill="#222" stroke="#222" stroke-width="0.12">regulation of humoral immune response</text><text transform="translate(605.59,150.66) rotate(105.35)" text-anchor="start" dy="2.1" font-size="6.1" fill="#222" stroke="#222" stroke-width="0.12">steroid metabolic process</text><text transform="translate(598.61,146.92) rotate(131.07)" text-anchor="start" dy="2.1" font-size="6.1" fill="#222" stroke="#222" stroke-width="0.12">hormone metabolic process</text><text transform="translate(593.94,140.52) rotate(336.78)" text-anchor="end" dy="2.1" font-size="6.1" fill="#222" stroke="#222" stroke-width="0.12">neutrophil degranulation</text><text transform="translate(592.52,132.72) rotate(362.50)" text-anchor="end" dy="2.1" font-size="6.1" fill="#222" stroke="#222" stroke-width="0.12">neutrophil activation involved in immune response</text><text transform="translate(594.61,125.09) rotate(388.21)" text-anchor="end" dy="2.1" font-size="6.1" fill="#222" stroke="#222" stroke-width="0.12">neutrophil activation</text><text transform="translate(599.82,119.11) rotate(413.92)" text-anchor="end" dy="2.1" font-size="6.1" fill="#222" stroke="#222" stroke-width="0.12">neutrophil mediated immunity</text><line x1="505" y1="32.5" x2="505" y2="77" stroke="#8c8c8c" stroke-width="1"/><line x1="503.3" y1="40.4" x2="505" y2="40.4" stroke="#8c8c8c" stroke-width="0.8"/><text x="502.6" y="42.7" text-anchor="end" font-size="6.6" fill="#333">20</text><line x1="503.3" y1="58.4" x2="505" y2="58.4" stroke="#8c8c8c" stroke-width="0.8"/><text x="502.6" y="60.7" text-anchor="end" font-size="6.6" fill="#333">10</text><line x1="503.3" y1="76.6" x2="505" y2="76.6" stroke="#8c8c8c" stroke-width="0.8"/><text x="502.6" y="78.9" text-anchor="end" font-size="6.6" fill="#333">0</text><text x="479" y="30.2" font-size="7.6" fill="#1a1a1a">Gene counts</text><defs><linearGradient id="fdr" x1="0" y1="0" x2="0" y2="1"><stop offset="0" stop-color="#c8102e"/><stop offset="0.4" stop-color="#dc4a2c"/><stop offset="0.7" stop-color="#ec7a22"/><stop offset="1" stop-color="#f8a60b"/></linearGradient></defs><text x="482" y="166.6" font-size="7.45" fill="#1a1a1a">-log10(FDR)</text><rect x="496.4" y="171.2" width="7.7" height="37.7" fill="url(#fdr)"/><line x1="496.4" y1="172.9" x2="497.8" y2="172.9" stroke="#fff" stroke-width="0.6"/><line x1="502.7" y1="172.9" x2="504.1" y2="172.9" stroke="#fff" stroke-width="0.6"/><text x="507" y="175.2" font-size="6.5" fill="#1a1a1a">5.0</text><line x1="496.4" y1="179.9" x2="497.8" y2="179.9" stroke="#fff" stroke-width="0.6"/><line x1="502.7" y1="179.9" x2="504.1" y2="179.9" stroke="#fff" stroke-width="0.6"/><text x="507" y="182.2" font-size="6.5" fill="#1a1a1a">4.5</text><line x1="496.4" y1="187" x2="497.8" y2="187" stroke="#fff" stroke-width="0.6"/><line x1="502.7" y1="187" x2="504.1" y2="187" stroke="#fff" stroke-width="0.6"/><text x="507" y="189.3" font-size="6.5" fill="#1a1a1a">4.0</text><line x1="496.4" y1="194" x2="497.8" y2="194" stroke="#fff" stroke-width="0.6"/><line x1="502.7" y1="194" x2="504.1" y2="194" stroke="#fff" stroke-width="0.6"/><text x="507" y="196.3" font-size="6.5" fill="#1a1a1a">3.5</text><line x1="496.4" y1="201.1" x2="497.8" y2="201.1" stroke="#fff" stroke-width="0.6"/><line x1="502.7" y1="201.1" x2="504.1" y2="201.1" stroke="#fff" stroke-width="0.6"/><text x="507" y="203.4" font-size="6.5" fill="#1a1a1a">3.0</text><line x1="496.4" y1="208.2" x2="497.8" y2="208.2" stroke="#fff" stroke-width="0.6"/><line x1="502.7" y1="208.2" x2="504.1" y2="208.2" stroke="#fff" stroke-width="0.6"/><text x="507" y="210.5" font-size="6.5" fill="#1a1a1a">2.5</text></svg><div class="t" style="left:0px;top:261.5px;font-size:15px;">d</div>
<svg style="position:absolute;left:0;top:250" width="222" height="385" viewBox="0 250 222 385"><defs><linearGradient id="dg" x1="0" y1="0" x2="1" y2="0"><stop offset="0" stop-color="#2400ff"/><stop offset="0.45" stop-color="#9a00c8"/><stop offset="0.75" stop-color="#e0006a"/><stop offset="1" stop-color="#ff0018"/></linearGradient></defs><rect x="136.4" y="303.3" width="70.5" height="6.4" fill="#fb0018"/><text x="94" y="309.5" text-anchor="end" font-size="8.5" fill="#1a1a1a">DCs resting</text><rect x="136.4" y="316.0" width="68.2" height="6.4" fill="#dc0066"/><text x="94" y="322.2" text-anchor="end" font-size="8.5" fill="#1a1a1a">Macrophages M2</text><rect x="136.4" y="331.0" width="53.6" height="6.4" fill="#f30034"/><text x="94" y="337.2" text-anchor="end" font-size="8.5" fill="#1a1a1a">DCs activated</text><rect x="136.4" y="346.3" width="42.8" height="6.4" fill="#e0005a"/><text x="94" y="352.5" text-anchor="end" font-size="8.5" fill="#1a1a1a">Macrophages M1</text><rect x="136.4" y="361.2" width="36.7" height="6.4" fill="#d8006e"/><text x="94" y="367.4" text-anchor="end" font-size="8.5" fill="#1a1a1a">T cells gamma delta</text><rect x="136.4" y="376.4" width="34.5" height="6.4" fill="#b400a8"/><text x="94" y="382.6" text-anchor="end" font-size="8.5" fill="#1a1a1a">CD4 T memory activated</text><rect x="136.4" y="391.6" width="25.1" height="6.4" fill="#8e00d0"/><text x="94" y="397.8" text-anchor="end" font-size="8.5" fill="#1a1a1a">CD4 T memory resting</text><rect x="136.4" y="406.4" width="24.9" height="6.4" fill="#8a00d4"/><text x="94" y="412.6" text-anchor="end" font-size="8.5" fill="#1a1a1a">T cells CD8</text><rect x="136.4" y="421.4" width="24.6" height="6.4" fill="#8c00d0"/><text x="94" y="427.6" text-anchor="end" font-size="8.5" fill="#1a1a1a">Tregs</text><rect x="136.4" y="436.7" width="21.5" height="6.4" fill="#a400bc"/><text x="94" y="442.9" text-anchor="end" font-size="8.5" fill="#1a1a1a">B cells naive</text><rect x="136.4" y="451.9" width="21.1" height="6.4" fill="#9800c6"/><text x="94" y="458.1" text-anchor="end" font-size="8.5" fill="#1a1a1a">T cells follicular helper</text><rect x="136.4" y="466.8" width="21.1" height="6.4" fill="#1800ff"/><text x="94" y="473.0" text-anchor="end" font-size="8.5" fill="#1a1a1a">Macrophages M0</text><rect x="136.4" y="482.2" width="20.3" height="6.4" fill="#9000cc"/><text x="94" y="488.4" text-anchor="end" font-size="8.5" fill="#1a1a1a">B cells memory</text><rect x="136.4" y="497.3" width="17.3" height="6.4" fill="#8800d4"/><text x="94" y="503.5" text-anchor="end" font-size="8.5" fill="#1a1a1a">T cells CD4 naive</text><rect x="136.4" y="512.1" width="16.3" height="6.4" fill="#3000f4"/><text x="94" y="518.3" text-anchor="end" font-size="8.5" fill="#1a1a1a">Monocytes</text><rect x="136.4" y="527.2" width="16.3" height="6.4" fill="#3800ee"/><text x="94" y="533.4" text-anchor="end" font-size="8.5" fill="#1a1a1a">NK cells activated</text><rect x="124.1" y="544.9" width="12.3" height="6.4" fill="#9000c8"/><text x="94" y="551.1" text-anchor="end" font-size="8.5" fill="#1a1a1a">Plasma cells</text><rect x="121.5" y="559.8" width="14.9" height="6.4" fill="#0a00ff"/><text x="94" y="566.0" text-anchor="end" font-size="8.5" fill="#1a1a1a">Neutrophils</text><rect x="114.2" y="575.2" width="22.2" height="6.4" fill="#7400e2"/><text x="94" y="581.4" text-anchor="end" font-size="8.5" fill="#1a1a1a">Mast cells resting</text><rect x="104.2" y="590.0" width="32.2" height="6.4" fill="#7000e2"/><text x="94" y="596.2" text-anchor="end" font-size="8.5" fill="#1a1a1a">Mast cells activated</text><rect x="97.3" y="300.7" width="116.3" height="303.8" fill="none" stroke="#333" stroke-width="0.8"/><text x="95.4" y="614.6" text-anchor="middle" font-size="8" fill="#333">−0.1</text><text x="136.9" y="614.6" text-anchor="middle" font-size="8" fill="#333">0.0</text><text x="175.8" y="614.6" text-anchor="middle" font-size="8" fill="#333">0.1</text><text x="214.9" y="614.6" text-anchor="middle" font-size="8" fill="#333">0.2</text><text x="154.6" y="626.3" text-anchor="middle" font-size="9.6" fill="#1a1a1a">Difference</text><text x="107" y="289" font-size="7.6" fill="#333">−log10 (FDR)</text><rect x="155.5" y="281" width="44.5" height="8.6" fill="url(#dg)"/><line x1="163.2" y1="286.6" x2="163.2" y2="289.6" stroke="#fff" stroke-width="0.6"/><text x="163.9" y="298.2" text-anchor="middle" font-size="8" fill="#333">5</text><line x1="175" y1="286.6" x2="175" y2="289.6" stroke="#fff" stroke-width="0.6"/><text x="175.7" y="298.2" text-anchor="middle" font-size="8" fill="#333">10</text><line x1="186" y1="286.6" x2="186" y2="289.6" stroke="#fff" stroke-width="0.6"/><text x="186.7" y="298.2" text-anchor="middle" font-size="8" fill="#333">15</text><line x1="196.5" y1="286.6" x2="196.5" y2="289.6" stroke="#fff" stroke-width="0.6"/><text x="197.2" y="298.2" text-anchor="middle" font-size="8" fill="#333">20</text></svg><svg style="position:absolute;left:210px;top:255px" width="512" height="130" viewBox="210 255 512 130"><defs><linearGradient id="nes" x1="0" y1="0" x2="1" y2="0"><stop offset="0" stop-color="#262690"/><stop offset="0.25" stop-color="#8f8ac6"/><stop offset="0.5" stop-color="#ffffff"/><stop offset="0.75" stop-color="#f7a08c"/><stop offset="1" stop-color="#e4222a"/></linearGradient></defs><rect x="236.60" y="294.5" width="21.07" height="34.60" fill="#b4acd6"/><rect x="236.60" y="329.1" width="21.07" height="34.90" fill="#e60014"/><rect x="257.67" y="294.5" width="21.07" height="34.60" fill="#b0a8d4"/><rect x="257.67" y="329.1" width="21.07" height="34.90" fill="#e60816"/><rect x="278.75" y="294.5" width="21.07" height="34.60" fill="#a69ecf"/><rect x="278.75" y="329.1" width="21.07" height="34.90" fill="#ea2a22"/><rect x="299.82" y="294.5" width="21.07" height="34.60" fill="#dedbed"/><rect x="299.82" y="329.1" width="21.07" height="34.90" fill="#f65a48"/><rect x="320.90" y="294.5" width="21.07" height="34.60" fill="#e8e6f2"/><rect x="320.90" y="329.1" width="21.07" height="34.90" fill="#f5735e"/><rect x="341.97" y="294.5" width="21.07" height="34.60" fill="#b8b1d9"/><rect x="341.97" y="329.1" width="21.07" height="34.90" fill="#f57a64"/><rect x="363.04" y="294.5" width="21.07" height="34.60" fill="#bcb5db"/><rect x="363.04" y="329.1" width="21.07" height="34.90" fill="#f78c76"/><rect x="384.12" y="294.5" width="21.07" height="34.60" fill="#aea6d3"/><rect x="384.12" y="329.1" width="21.07" height="34.90" fill="#f8957e"/><rect x="405.19" y="294.5" width="21.07" height="34.60" fill="#b4acd6"/><rect x="405.19" y="329.1" width="21.07" height="34.90" fill="#f89c86"/><rect x="426.27" y="294.5" width="21.07" height="34.60" fill="#b4acd6"/><rect x="426.27" y="329.1" width="21.07" height="34.90" fill="#fbbcaa"/><rect x="447.34" y="294.5" width="21.07" height="34.60" fill="#b0a8d4"/><rect x="447.34" y="329.1" width="21.07" height="34.90" fill="#fcc4b4"/><rect x="468.41" y="294.5" width="21.07" height="34.60" fill="#c0b9dc"/><rect x="468.41" y="329.1" width="21.07" height="34.90" fill="#fdd0c2"/><rect x="489.49" y="294.5" width="21.07" height="34.60" fill="#a49ccf"/><rect x="489.49" y="329.1" width="21.07" height="34.90" fill="#fdd0c2"/><rect x="510.56" y="294.5" width="21.07" height="34.60" fill="#dcd9ed"/><rect x="510.56" y="329.1" width="21.07" height="34.90" fill="#a49ccf"/><rect x="531.63" y="294.5" width="21.07" height="34.60" fill="#cdc7e4"/><rect x="531.63" y="329.1" width="21.07" height="34.90" fill="#8a80c0"/><rect x="552.71" y="294.5" width="21.07" height="34.60" fill="#c8c2e2"/><rect x="552.71" y="329.1" width="21.07" height="34.90" fill="#8a80c0"/><rect x="573.78" y="294.5" width="21.07" height="34.60" fill="#c0b9dc"/><rect x="573.78" y="329.1" width="21.07" height="34.90" fill="#8880c0"/><rect x="594.86" y="294.5" width="21.07" height="34.60" fill="#d0cbe6"/><rect x="594.86" y="329.1" width="21.07" height="34.90" fill="#7e74ba"/><rect x="615.93" y="294.5" width="21.07" height="34.60" fill="#f0eff7"/><rect x="615.93" y="329.1" width="21.07" height="34.90" fill="#6a60b0"/><rect x="637.00" y="294.5" width="21.07" height="34.60" fill="#f0eff7"/><rect x="637.00" y="329.1" width="21.07" height="34.90" fill="#6a60b0"/><rect x="658.08" y="294.5" width="21.07" height="34.60" fill="#f0eff7"/><rect x="658.08" y="329.1" width="21.07" height="34.90" fill="#5f55aa"/><rect x="679.15" y="294.5" width="21.07" height="34.60" fill="#fdece6"/><rect x="679.15" y="329.1" width="21.07" height="34.90" fill="#5a50a8"/><rect x="700.23" y="294.5" width="21.07" height="34.60" fill="#f0eff7"/><rect x="700.23" y="329.1" width="21.07" height="34.90" fill="#2a2488"/><line x1="236.60" y1="294.5" x2="236.60" y2="364" stroke="#6a6a6a" stroke-width="0.6"/><line x1="257.67" y1="294.5" x2="257.67" y2="364" stroke="#6a6a6a" stroke-width="0.6"/><line x1="278.75" y1="294.5" x2="278.75" y2="364" stroke="#6a6a6a" stroke-width="0.6"/><line x1="299.82" y1="294.5" x2="299.82" y2="364" stroke="#6a6a6a" stroke-width="0.6"/><line x1="320.90" y1="294.5" x2="320.90" y2="364" stroke="#6a6a6a" stroke-width="0.6"/><line x1="341.97" y1="294.5" x2="341.97" y2="364" stroke="#6a6a6a" stroke-width="0.6"/><line x1="363.04" y1="294.5" x2="363.04" y2="364" stroke="#6a6a6a" stroke-width="0.6"/><line x1="384.12" y1="294.5" x2="384.12" y2="364" stroke="#6a6a6a" stroke-width="0.6"/><line x1="405.19" y1="294.5" x2="405.19" y2="364" stroke="#6a6a6a" stroke-width="0.6"/><line x1="426.27" y1="294.5" x2="426.27" y2="364" stroke="#6a6a6a" stroke-width="0.6"/><line x1="447.34" y1="294.5" x2="447.34" y2="364" stroke="#6a6a6a" stroke-width="0.6"/><line x1="468.41" y1="294.5" x2="468.41" y2="364" stroke="#6a6a6a" stroke-width="0.6"/><line x1="489.49" y1="294.5" x2="489.49" y2="364" stroke="#6a6a6a" stroke-width="0.6"/><line x1="510.56" y1="294.5" x2="510.56" y2="364" stroke="#6a6a6a" stroke-width="0.6"/><line x1="531.63" y1="294.5" x2="531.63" y2="364" stroke="#6a6a6a" stroke-width="0.6"/><line x1="552.71" y1="294.5" x2="552.71" y2="364" stroke="#6a6a6a" stroke-width="0.6"/><line x1="573.78" y1="294.5" x2="573.78" y2="364" stroke="#6a6a6a" stroke-width="0.6"/><line x1="594.86" y1="294.5" x2="594.86" y2="364" stroke="#6a6a6a" stroke-width="0.6"/><line x1="615.93" y1="294.5" x2="615.93" y2="364" stroke="#6a6a6a" stroke-width="0.6"/><line x1="637.00" y1="294.5" x2="637.00" y2="364" stroke="#6a6a6a" stroke-width="0.6"/><line x1="658.08" y1="294.5" x2="658.08" y2="364" stroke="#6a6a6a" stroke-width="0.6"/><line x1="679.15" y1="294.5" x2="679.15" y2="364" stroke="#6a6a6a" stroke-width="0.6"/><line x1="700.23" y1="294.5" x2="700.23" y2="364" stroke="#6a6a6a" stroke-width="0.6"/><line x1="721.30" y1="294.5" x2="721.30" y2="364" stroke="#6a6a6a" stroke-width="0.6"/><line x1="236.6" y1="294.5" x2="721.30" y2="294.5" stroke="#6a6a6a" stroke-width="0.6"/><line x1="236.6" y1="329.1" x2="721.30" y2="329.1" stroke="#6a6a6a" stroke-width="0.6"/><line x1="236.6" y1="364" x2="721.30" y2="364" stroke="#6a6a6a" stroke-width="0.6"/><text transform="translate(233.6,311.8) rotate(-90)" text-anchor="middle" font-size="8.7" fill="#1a1a1a">GTEX-L</text><text transform="translate(233.6,346.6) rotate(-90)" text-anchor="middle" font-size="8.7" fill="#1a1a1a">LM-NT</text><text transform="translate(245.1,293.3) rotate(-41)" font-size="8.6" fill="#1a1a1a">CCL4</text><text transform="translate(266.2,293.3) rotate(-41)" font-size="8.6" fill="#1a1a1a">CXCL9</text><text transform="translate(287.3,293.3) rotate(-41)" font-size="8.6" fill="#1a1a1a">CCL3L3</text><text transform="translate(308.4,293.3) rotate(-41)" font-size="8.6" fill="#1a1a1a">CCL5</text><text transform="translate(329.4,293.3) rotate(-41)" font-size="8.6" fill="#1a1a1a">CXCL16</text><text transform="translate(350.5,293.3) rotate(-41)" font-size="8.6" fill="#1a1a1a">CXCL10</text><text transform="translate(371.6,293.3) rotate(-41)" font-size="8.6" fill="#1a1a1a">CX3CR1</text><text transform="translate(392.7,293.3) rotate(-41)" font-size="8.6" fill="#1a1a1a">CCL24</text><text transform="translate(413.7,293.3) rotate(-41)" font-size="8.6" fill="#1a1a1a">CCRL2</text><text transform="translate(434.8,293.3) rotate(-41)" font-size="8.6" fill="#1a1a1a">CXCL11</text><text transform="translate(455.9,293.3) rotate(-41)" font-size="8.6" fill="#1a1a1a">CCL22</text><text transform="translate(476.9,293.3) rotate(-41)" font-size="8.6" fill="#1a1a1a">CCL18</text><text transform="translate(498.0,293.3) rotate(-41)" font-size="8.6" fill="#1a1a1a">CCL8</text><text transform="translate(519.1,293.3) rotate(-41)" font-size="8.6" fill="#1a1a1a">CCL26</text><text transform="translate(540.2,293.3) rotate(-41)" font-size="8.6" fill="#1a1a1a">CCL11</text><text transform="translate(561.2,293.3) rotate(-41)" font-size="8.6" fill="#1a1a1a">CCL13</text><text transform="translate(582.3,293.3) rotate(-41)" font-size="8.6" fill="#1a1a1a">CCL20</text><text transform="translate(603.4,293.3) rotate(-41)" font-size="8.6" fill="#1a1a1a">CXCL5</text><text transform="translate(624.5,293.3) rotate(-41)" font-size="8.6" fill="#1a1a1a">CXCL8</text><text transform="translate(645.5,293.3) rotate(-41)" font-size="8.6" fill="#1a1a1a">CKLF</text><text transform="translate(666.6,293.3) rotate(-41)" font-size="8.6" fill="#1a1a1a">PPBP</text><text transform="translate(687.7,293.3) rotate(-41)" font-size="8.6" fill="#1a1a1a">PF4</text><text transform="translate(708.8,293.3) rotate(-41)" font-size="8.6" fill="#1a1a1a">PF4V1</text><text x="237.4" y="372.7" font-size="8" fill="#444">NES</text><rect x="256.5" y="365.2" width="42.4" height="8.3" fill="url(#nes)"/><text x="258.2" y="379.9" text-anchor="middle" font-size="7.2" fill="#333">−1.0</text><text x="276.4" y="379.9" text-anchor="middle" font-size="7.2" fill="#333">0.0</text><text x="295.1" y="379.9" text-anchor="middle" font-size="7.2" fill="#333">1.0</text></svg><div class="t" style="left:219.3px;top:261.3px;font-size:15.5px;">e</div><svg style="position:absolute;left:210px;top:380px" width="512" height="120" viewBox="210 380 512 120"><rect x="236.10" y="411.7" width="6.47" height="34.90" fill="#e8e6f2"/><rect x="236.10" y="446.6" width="6.47" height="35.00" fill="#e8372a"/><rect x="242.57" y="411.7" width="6.47" height="34.90" fill="#ebe9f3"/><rect x="242.57" y="446.6" width="6.47" height="35.00" fill="#f26a52"/><rect x="249.04" y="411.7" width="6.47" height="34.90" fill="#e6e4f1"/><rect x="249.04" y="446.6" width="6.47" height="35.00" fill="#f47558"/><rect x="255.51" y="411.7" width="6.47" height="34.90" fill="#eeedf5"/><rect x="255.51" y="446.6" width="6.47" height="35.00" fill="#f47a60"/><rect x="261.98" y="411.7" width="6.47" height="34.90" fill="#b6afd8"/><rect x="261.98" y="446.6" width="6.47" height="35.00" fill="#f58468"/><rect x="268.45" y="411.7" width="6.47" height="34.90" fill="#b8b1d9"/><rect x="268.45" y="446.6" width="6.47" height="35.00" fill="#f5856a"/><rect x="274.92" y="411.7" width="6.47" height="34.90" fill="#b8b1d9"/><rect x="274.92" y="446.6" width="6.47" height="35.00" fill="#f68c72"/><rect x="281.39" y="411.7" width="6.47" height="34.90" fill="#aaa2d2"/><rect x="281.39" y="446.6" width="6.47" height="35.00" fill="#f9ad98"/><rect x="287.87" y="411.7" width="6.47" height="34.90" fill="#b4acd6"/><rect x="287.87" y="446.6" width="6.47" height="35.00" fill="#fbb9a6"/><rect x="294.34" y="411.7" width="6.47" height="34.90" fill="#b8b1d9"/><rect x="294.34" y="446.6" width="6.47" height="35.00" fill="#fbc2b2"/><rect x="300.81" y="411.7" width="6.47" height="34.90" fill="#b0a8d4"/><rect x="300.81" y="446.6" width="6.47" height="35.00" fill="#fcccbe"/><rect x="307.28" y="411.7" width="6.47" height="34.90" fill="#a8a0d0"/><rect x="307.28" y="446.6" width="6.47" height="35.00" fill="#fde2d8"/><rect x="313.75" y="411.7" width="6.47" height="34.90" fill="#e6e4f1"/><rect x="313.75" y="446.6" width="6.47" height="35.00" fill="#d4cfe8"/><rect x="320.22" y="411.7" width="6.47" height="34.90" fill="#e0ddee"/><rect x="320.22" y="446.6" width="6.47" height="35.00" fill="#cdc7e4"/><rect x="326.69" y="411.7" width="6.47" height="34.90" fill="#ccc6e3"/><rect x="326.69" y="446.6" width="6.47" height="35.00" fill="#c8c2e2"/><rect x="333.16" y="411.7" width="6.47" height="34.90" fill="#e4e1f0"/><rect x="333.16" y="446.6" width="6.47" height="35.00" fill="#c4bde0"/><rect x="339.63" y="411.7" width="6.47" height="34.90" fill="#d8d4ea"/><rect x="339.63" y="446.6" width="6.47" height="35.00" fill="#c4bde0"/><rect x="346.10" y="411.7" width="6.47" height="34.90" fill="#ecebf4"/><rect x="346.10" y="446.6" width="6.47" height="35.00" fill="#c8c2e2"/><rect x="352.57" y="411.7" width="6.47" height="34.90" fill="#eeedf5"/><rect x="352.57" y="446.6" width="6.47" height="35.00" fill="#bcb5db"/><rect x="359.04" y="411.7" width="6.47" height="34.90" fill="#e9e7f3"/><rect x="359.04" y="446.6" width="6.47" height="35.00" fill="#bcb5db"/><rect x="365.51" y="411.7" width="6.47" height="34.90" fill="#c4bde0"/><rect x="365.51" y="446.6" width="6.47" height="35.00" fill="#b0a8d4"/><rect x="371.98" y="411.7" width="6.47" height="34.90" fill="#d4cfe8"/><rect x="371.98" y="446.6" width="6.47" height="35.00" fill="#b0a8d4"/><rect x="378.45" y="411.7" width="6.47" height="34.90" fill="#e4e1f0"/><rect x="378.45" y="446.6" width="6.47" height="35.00" fill="#aea6d3"/><rect x="384.93" y="411.7" width="6.47" height="34.90" fill="#e9e7f3"/><rect x="384.93" y="446.6" width="6.47" height="35.00" fill="#aaa2d1"/><rect x="391.40" y="411.7" width="6.47" height="34.90" fill="#e9e7f3"/><rect x="391.40" y="446.6" width="6.47" height="35.00" fill="#a8a0d0"/><rect x="397.87" y="411.7" width="6.47" height="34.90" fill="#e2dfef"/><rect x="397.87" y="446.6" width="6.47" height="35.00" fill="#aaa2d1"/><rect x="404.34" y="411.7" width="6.47" height="34.90" fill="#ccc6e3"/><rect x="404.34" y="446.6" width="6.47" height="35.00" fill="#a098cc"/><rect x="410.81" y="411.7" width="6.47" height="34.90" fill="#eeedf5"/><rect x="410.81" y="446.6" width="6.47" height="35.00" fill="#a098cc"/><rect x="417.28" y="411.7" width="6.47" height="34.90" fill="#e9e7f3"/><rect x="417.28" y="446.6" width="6.47" height="35.00" fill="#a49cce"/><rect x="423.75" y="411.7" width="6.47" height="34.90" fill="#eeedf5"/><rect x="423.75" y="446.6" width="6.47" height="35.00" fill="#a49cce"/><rect x="430.22" y="411.7" width="6.47" height="34.90" fill="#ebe9f3"/><rect x="430.22" y="446.6" width="6.47" height="35.00" fill="#9e96cb"/><rect x="436.69" y="411.7" width="6.47" height="34.90" fill="#eeedf5"/><rect x="436.69" y="446.6" width="6.47" height="35.00" fill="#9d95cb"/><rect x="443.16" y="411.7" width="6.47" height="34.90" fill="#e9e7f3"/><rect x="443.16" y="446.6" width="6.47" height="35.00" fill="#9c94ca"/><rect x="449.63" y="411.7" width="6.47" height="34.90" fill="#f0eff6"/><rect x="449.63" y="446.6" width="6.47" height="35.00" fill="#9c93ca"/><rect x="456.10" y="411.7" width="6.47" height="34.90" fill="#dcd8ec"/><rect x="456.10" y="446.6" width="6.47" height="35.00" fill="#9b93c9"/><rect x="462.57" y="411.7" width="6.47" height="34.90" fill="#dcd8ec"/><rect x="462.57" y="446.6" width="6.47" height="35.00" fill="#9a92c9"/><rect x="469.04" y="411.7" width="6.47" height="34.90" fill="#d8d4ea"/><rect x="469.04" y="446.6" width="6.47" height="35.00" fill="#9991c9"/><rect x="475.51" y="411.7" width="6.47" height="34.90" fill="#d8d4ea"/><rect x="475.51" y="446.6" width="6.47" height="35.00" fill="#9990c8"/><rect x="481.99" y="411.7" width="6.47" height="34.90" fill="#e4e1f0"/><rect x="481.99" y="446.6" width="6.47" height="35.00" fill="#988fc8"/><rect x="488.46" y="411.7" width="6.47" height="34.90" fill="#e6e4f1"/><rect x="488.46" y="446.6" width="6.47" height="35.00" fill="#978ec8"/><rect x="494.93" y="411.7" width="6.47" height="34.90" fill="#d4cfe8"/><rect x="494.93" y="446.6" width="6.47" height="35.00" fill="#968ec7"/><rect x="501.40" y="411.7" width="6.47" height="34.90" fill="#e4e1f0"/><rect x="501.40" y="446.6" width="6.47" height="35.00" fill="#968dc7"/><rect x="507.87" y="411.7" width="6.47" height="34.90" fill="#e4e1f0"/><rect x="507.87" y="446.6" width="6.47" height="35.00" fill="#958cc6"/><rect x="514.34" y="411.7" width="6.47" height="34.90" fill="#ebe9f3"/><rect x="514.34" y="446.6" width="6.47" height="35.00" fill="#948bc6"/><rect x="520.81" y="411.7" width="6.47" height="34.90" fill="#eeedf5"/><rect x="520.81" y="446.6" width="6.47" height="35.00" fill="#8c82c3"/><rect x="527.28" y="411.7" width="6.47" height="34.90" fill="#dcd8ec"/><rect x="527.28" y="446.6" width="6.47" height="35.00" fill="#8b81c2"/><rect x="533.75" y="411.7" width="6.47" height="34.90" fill="#eeedf5"/><rect x="533.75" y="446.6" width="6.47" height="35.00" fill="#897fc1"/><rect x="540.22" y="411.7" width="6.47" height="34.90" fill="#e4e1f0"/><rect x="540.22" y="446.6" width="6.47" height="35.00" fill="#887ec1"/><rect x="546.69" y="411.7" width="6.47" height="34.90" fill="#fcd8cc"/><rect x="546.69" y="446.6" width="6.47" height="35.00" fill="#877dc0"/><rect x="553.16" y="411.7" width="6.47" height="34.90" fill="#e0ddee"/><rect x="553.16" y="446.6" width="6.47" height="35.00" fill="#867cbf"/><rect x="559.63" y="411.7" width="6.47" height="34.90" fill="#eeedf5"/><rect x="559.63" y="446.6" width="6.47" height="35.00" fill="#847abe"/><rect x="566.10" y="411.7" width="6.47" height="34.90" fill="#fdf0ec"/><rect x="566.10" y="446.6" width="6.47" height="35.00" fill="#8379be"/><rect x="572.57" y="411.7" width="6.47" height="34.90" fill="#dcd8ec"/><rect x="572.57" y="446.6" width="6.47" height="35.00" fill="#8278bd"/><rect x="579.05" y="411.7" width="6.47" height="34.90" fill="#fcd4c8"/><rect x="579.05" y="446.6" width="6.47" height="35.00" fill="#8076bc"/><rect x="585.52" y="411.7" width="6.47" height="34.90" fill="#eeedf5"/><rect x="585.52" y="446.6" width="6.47" height="35.00" fill="#7f75bb"/><rect x="591.99" y="411.7" width="6.47" height="34.90" fill="#dcd8ec"/><rect x="591.99" y="446.6" width="6.47" height="35.00" fill="#7e74ba"/><rect x="598.46" y="411.7" width="6.47" height="34.90" fill="#d4cfe8"/><rect x="598.46" y="446.6" width="6.47" height="35.00" fill="#7d73ba"/><rect x="604.93" y="411.7" width="6.47" height="34.90" fill="#eeedf5"/><rect x="604.93" y="446.6" width="6.47" height="35.00" fill="#7b71b9"/><rect x="611.40" y="411.7" width="6.47" height="34.90" fill="#fdf0ec"/><rect x="611.40" y="446.6" width="6.47" height="35.00" fill="#7a70b8"/><rect x="617.87" y="411.7" width="6.47" height="34.90" fill="#fde4dc"/><rect x="617.87" y="446.6" width="6.47" height="35.00" fill="#766cb6"/><rect x="624.34" y="411.7" width="6.47" height="34.90" fill="#e0ddee"/><rect x="624.34" y="446.6" width="6.47" height="35.00" fill="#746ab5"/><rect x="630.81" y="411.7" width="6.47" height="34.90" fill="#fdf8f6"/><rect x="630.81" y="446.6" width="6.47" height="35.00" fill="#7369b4"/><rect x="637.28" y="411.7" width="6.47" height="34.90" fill="#e0ddee"/><rect x="637.28" y="446.6" width="6.47" height="35.00" fill="#7167b3"/><rect x="643.75" y="411.7" width="6.47" height="34.90" fill="#fdf0ec"/><rect x="643.75" y="446.6" width="6.47" height="35.00" fill="#6f65b2"/><rect x="650.22" y="411.7" width="6.47" height="34.90" fill="#fdf0ec"/><rect x="650.22" y="446.6" width="6.47" height="35.00" fill="#6e64b1"/><rect x="656.69" y="411.7" width="6.47" height="34.90" fill="#fcd4c8"/><rect x="656.69" y="446.6" width="6.47" height="35.00" fill="#6c62b0"/><rect x="663.16" y="411.7" width="6.47" height="34.90" fill="#e6e4f1"/><rect x="663.16" y="446.6" width="6.47" height="35.00" fill="#6a60af"/><rect x="669.63" y="411.7" width="6.47" height="34.90" fill="#fdf8f6"/><rect x="669.63" y="446.6" width="6.47" height="35.00" fill="#685eae"/><rect x="676.11" y="411.7" width="6.47" height="34.90" fill="#fdfcfc"/><rect x="676.11" y="446.6" width="6.47" height="35.00" fill="#675dad"/><rect x="682.58" y="411.7" width="6.47" height="34.90" fill="#e4e1f0"/><rect x="682.58" y="446.6" width="6.47" height="35.00" fill="#655bac"/><rect x="689.05" y="411.7" width="6.47" height="34.90" fill="#fcfcfd"/><rect x="689.05" y="446.6" width="6.47" height="35.00" fill="#6359ab"/><rect x="695.52" y="411.7" width="6.47" height="34.90" fill="#e9e7f3"/><rect x="695.52" y="446.6" width="6.47" height="35.00" fill="#6258aa"/><rect x="701.99" y="411.7" width="6.47" height="34.90" fill="#fcd8cc"/><rect x="701.99" y="446.6" width="6.47" height="35.00" fill="#6056a9"/><rect x="708.46" y="411.7" width="6.47" height="34.90" fill="#fdfcfc"/><rect x="708.46" y="446.6" width="6.47" height="35.00" fill="#4e46a0"/><rect x="714.93" y="411.7" width="6.47" height="34.90" fill="#fcd0c2"/><rect x="714.93" y="446.6" width="6.47" height="35.00" fill="#242088"/><line x1="236.10" y1="411.7" x2="236.10" y2="481.6" stroke="#6a6a6a" stroke-width="0.6"/><line x1="242.57" y1="411.7" x2="242.57" y2="481.6" stroke="#6a6a6a" stroke-width="0.6"/><line x1="249.04" y1="411.7" x2="249.04" y2="481.6" stroke="#6a6a6a" stroke-width="0.6"/><line x1="255.51" y1="411.7" x2="255.51" y2="481.6" stroke="#6a6a6a" stroke-width="0.6"/><line x1="261.98" y1="411.7" x2="261.98" y2="481.6" stroke="#6a6a6a" stroke-width="0.6"/><line x1="268.45" y1="411.7" x2="268.45" y2="481.6" stroke="#6a6a6a" stroke-width="0.6"/><line x1="274.92" y1="411.7" x2="274.92" y2="481.6" stroke="#6a6a6a" stroke-width="0.6"/><line x1="281.39" y1="411.7" x2="281.39" y2="481.6" stroke="#6a6a6a" stroke-width="0.6"/><line x1="287.87" y1="411.7" x2="287.87" y2="481.6" stroke="#6a6a6a" stroke-width="0.6"/><line x1="294.34" y1="411.7" x2="294.34" y2="481.6" stroke="#6a6a6a" stroke-width="0.6"/><line x1="300.81" y1="411.7" x2="300.81" y2="481.6" stroke="#6a6a6a" stroke-width="0.6"/><line x1="307.28" y1="411.7" x2="307.28" y2="481.6" stroke="#6a6a6a" stroke-width="0.6"/><line x1="313.75" y1="411.7" x2="313.75" y2="481.6" stroke="#6a6a6a" stroke-width="0.6"/><line x1="320.22" y1="411.7" x2="320.22" y2="481.6" stroke="#6a6a6a" stroke-width="0.6"/><line x1="326.69" y1="411.7" x2="326.69" y2="481.6" stroke="#6a6a6a" stroke-width="0.6"/><line x1="333.16" y1="411.7" x2="333.16" y2="481.6" stroke="#6a6a6a" stroke-width="0.6"/><line x1="339.63" y1="411.7" x2="339.63" y2="481.6" stroke="#6a6a6a" stroke-width="0.6"/><line x1="346.10" y1="411.7" x2="346.10" y2="481.6" stroke="#6a6a6a" stroke-width="0.6"/><line x1="352.57" y1="411.7" x2="352.57" y2="481.6" stroke="#6a6a6a" stroke-width="0.6"/><line x1="359.04" y1="411.7" x2="359.04" y2="481.6" stroke="#6a6a6a" stroke-width="0.6"/><line x1="365.51" y1="411.7" x2="365.51" y2="481.6" stroke="#6a6a6a" stroke-width="0.6"/><line x1="371.98" y1="411.7" x2="371.98" y2="481.6" stroke="#6a6a6a" stroke-width="0.6"/><line x1="378.45" y1="411.7" x2="378.45" y2="481.6" stroke="#6a6a6a" stroke-width="0.6"/><line x1="384.93" y1="411.7" x2="384.93" y2="481.6" stroke="#6a6a6a" stroke-width="0.6"/><line x1="391.40" y1="411.7" x2="391.40" y2="481.6" stroke="#6a6a6a" stroke-width="0.6"/><line x1="397.87" y1="411.7" x2="397.87" y2="481.6" stroke="#6a6a6a" stroke-width="0.6"/><line x1="404.34" y1="411.7" x2="404.34" y2="481.6" stroke="#6a6a6a" stroke-width="0.6"/><line x1="410.81" y1="411.7" x2="410.81" y2="481.6" stroke="#6a6a6a" stroke-width="0.6"/><line x1="417.28" y1="411.7" x2="417.28" y2="481.6" stroke="#6a6a6a" stroke-width="0.6"/><line x1="423.75" y1="411.7" x2="423.75" y2="481.6" stroke="#6a6a6a" stroke-width="0.6"/><line x1="430.22" y1="411.7" x2="430.22" y2="481.6" stroke="#6a6a6a" stroke-width="0.6"/><line x1="436.69" y1="411.7" x2="436.69" y2="481.6" stroke="#6a6a6a" stroke-width="0.6"/><line x1="443.16" y1="411.7" x2="443.16" y2="481.6" stroke="#6a6a6a" stroke-width="0.6"/><line x1="449.63" y1="411.7" x2="449.63" y2="481.6" stroke="#6a6a6a" stroke-width="0.6"/><line x1="456.10" y1="411.7" x2="456.10" y2="481.6" stroke="#6a6a6a" stroke-width="0.6"/><line x1="462.57" y1="411.7" x2="462.57" y2="481.6" stroke="#6a6a6a" stroke-width="0.6"/><line x1="469.04" y1="411.7" x2="469.04" y2="481.6" stroke="#6a6a6a" stroke-width="0.6"/><line x1="475.51" y1="411.7" x2="475.51" y2="481.6" stroke="#6a6a6a" stroke-width="0.6"/><line x1="481.99" y1="411.7" x2="481.99" y2="481.6" stroke="#6a6a6a" stroke-width="0.6"/><line x1="488.46" y1="411.7" x2="488.46" y2="481.6" stroke="#6a6a6a" stroke-width="0.6"/><line x1="494.93" y1="411.7" x2="494.93" y2="481.6" stroke="#6a6a6a" stroke-width="0.6"/><line x1="501.40" y1="411.7" x2="501.40" y2="481.6" stroke="#6a6a6a" stroke-width="0.6"/><line x1="507.87" y1="411.7" x2="507.87" y2="481.6" stroke="#6a6a6a" stroke-width="0.6"/><line x1="514.34" y1="411.7" x2="514.34" y2="481.6" stroke="#6a6a6a" stroke-width="0.6"/><line x1="520.81" y1="411.7" x2="520.81" y2="481.6" stroke="#6a6a6a" stroke-width="0.6"/><line x1="527.28" y1="411.7" x2="527.28" y2="481.6" stroke="#6a6a6a" stroke-width="0.6"/><line x1="533.75" y1="411.7" x2="533.75" y2="481.6" stroke="#6a6a6a" stroke-width="0.6"/><line x1="540.22" y1="411.7" x2="540.22" y2="481.6" stroke="#6a6a6a" stroke-width="0.6"/><line x1="546.69" y1="411.7" x2="546.69" y2="481.6" stroke="#6a6a6a" stroke-width="0.6"/><line x1="553.16" y1="411.7" x2="553.16" y2="481.6" stroke="#6a6a6a" stroke-width="0.6"/><line x1="559.63" y1="411.7" x2="559.63" y2="481.6" stroke="#6a6a6a" stroke-width="0.6"/><line x1="566.10" y1="411.7" x2="566.10" y2="481.6" stroke="#6a6a6a" stroke-width="0.6"/><line x1="572.57" y1="411.7" x2="572.57" y2="481.6" stroke="#6a6a6a" stroke-width="0.6"/><line x1="579.05" y1="411.7" x2="579.05" y2="481.6" stroke="#6a6a6a" stroke-width="0.6"/><line x1="585.52" y1="411.7" x2="585.52" y2="481.6" stroke="#6a6a6a" stroke-width="0.6"/><line x1="591.99" y1="411.7" x2="591.99" y2="481.6" stroke="#6a6a6a" stroke-width="0.6"/><line x1="598.46" y1="411.7" x2="598.46" y2="481.6" stroke="#6a6a6a" stroke-width="0.6"/><line x1="604.93" y1="411.7" x2="604.93" y2="481.6" stroke="#6a6a6a" stroke-width="0.6"/><line x1="611.40" y1="411.7" x2="611.40" y2="481.6" stroke="#6a6a6a" stroke-width="0.6"/><line x1="617.87" y1="411.7" x2="617.87" y2="481.6" stroke="#6a6a6a" stroke-width="0.6"/><line x1="624.34" y1="411.7" x2="624.34" y2="481.6" stroke="#6a6a6a" stroke-width="0.6"/><line x1="630.81" y1="411.7" x2="630.81" y2="481.6" stroke="#6a6a6a" stroke-width="0.6"/><line x1="637.28" y1="411.7" x2="637.28" y2="481.6" stroke="#6a6a6a" stroke-width="0.6"/><line x1="643.75" y1="411.7" x2="643.75" y2="481.6" stroke="#6a6a6a" stroke-width="0.6"/><line x1="650.22" y1="411.7" x2="650.22" y2="481.6" stroke="#6a6a6a" stroke-width="0.6"/><line x1="656.69" y1="411.7" x2="656.69" y2="481.6" stroke="#6a6a6a" stroke-width="0.6"/><line x1="663.16" y1="411.7" x2="663.16" y2="481.6" stroke="#6a6a6a" stroke-width="0.6"/><line x1="669.63" y1="411.7" x2="669.63" y2="481.6" stroke="#6a6a6a" stroke-width="0.6"/><line x1="676.11" y1="411.7" x2="676.11" y2="481.6" stroke="#6a6a6a" stroke-width="0.6"/><line x1="682.58" y1="411.7" x2="682.58" y2="481.6" stroke="#6a6a6a" stroke-width="0.6"/><line x1="689.05" y1="411.7" x2="689.05" y2="481.6" stroke="#6a6a6a" stroke-width="0.6"/><line x1="695.52" y1="411.7" x2="695.52" y2="481.6" stroke="#6a6a6a" stroke-width="0.6"/><line x1="701.99" y1="411.7" x2="701.99" y2="481.6" stroke="#6a6a6a" stroke-width="0.6"/><line x1="708.46" y1="411.7" x2="708.46" y2="481.6" stroke="#6a6a6a" stroke-width="0.6"/><line x1="714.93" y1="411.7" x2="714.93" y2="481.6" stroke="#6a6a6a" stroke-width="0.6"/><line x1="721.40" y1="411.7" x2="721.40" y2="481.6" stroke="#6a6a6a" stroke-width="0.6"/><line x1="236.1" y1="411.7" x2="721.40" y2="411.7" stroke="#6a6a6a" stroke-width="0.6"/><line x1="236.1" y1="446.6" x2="721.40" y2="446.6" stroke="#6a6a6a" stroke-width="0.6"/><line x1="236.1" y1="481.6" x2="721.40" y2="481.6" stroke="#6a6a6a" stroke-width="0.6"/><text transform="translate(233.2,429.1) rotate(-90)" text-anchor="middle" font-size="8.7" fill="#1a1a1a">GTEX-L</text><text transform="translate(233.2,464.1) rotate(-90)" text-anchor="middle" font-size="8.7" fill="#1a1a1a">LM-NT</text><text transform="translate(241.44,410.6) rotate(-90)" font-size="6" fill="#1a1a1a">ECM1</text><text transform="translate(247.91,410.6) rotate(-90)" font-size="6" fill="#1a1a1a">CDH5</text><text transform="translate(254.38,410.6) rotate(-90)" font-size="6" fill="#1a1a1a">IL33</text><text transform="translate(260.85,410.6) rotate(-90)" font-size="6" fill="#1a1a1a">TNFSF10</text><text transform="translate(267.32,410.6) rotate(-90)" font-size="6" fill="#1a1a1a">IL18</text><text transform="translate(273.79,410.6) rotate(-90)" font-size="6" fill="#1a1a1a">TNFSF11</text><text transform="translate(280.26,410.6) rotate(-90)" font-size="6" fill="#1a1a1a">TNFSF8</text><text transform="translate(286.73,410.6) rotate(-90)" font-size="6" fill="#1a1a1a">WNT2</text><text transform="translate(293.20,410.6) rotate(-90)" font-size="6" fill="#1a1a1a">IL1B</text><text transform="translate(299.67,410.6) rotate(-90)" font-size="6" fill="#1a1a1a">TNF</text><text transform="translate(306.14,410.6) rotate(-90)" font-size="6" fill="#1a1a1a">IL10</text><text transform="translate(312.61,410.6) rotate(-90)" font-size="6" fill="#1a1a1a">GREM1</text><text transform="translate(319.08,410.6) rotate(-90)" font-size="6" fill="#1a1a1a">GH1</text><text transform="translate(325.55,410.6) rotate(-90)" font-size="6" fill="#1a1a1a">CRLF2</text><text transform="translate(332.02,410.6) rotate(-90)" font-size="6" fill="#1a1a1a">IL20</text><text transform="translate(338.50,410.6) rotate(-90)" font-size="6" fill="#1a1a1a">IL19</text><text transform="translate(344.97,410.6) rotate(-90)" font-size="6" fill="#1a1a1a">CSF3</text><text transform="translate(351.44,410.6) rotate(-90)" font-size="6" fill="#1a1a1a">LEFTY2</text><text transform="translate(357.91,410.6) rotate(-90)" font-size="6" fill="#1a1a1a">IL36RN</text><text transform="translate(364.38,410.6) rotate(-90)" font-size="6" fill="#1a1a1a">IL15</text><text transform="translate(370.85,410.6) rotate(-90)" font-size="6" fill="#1a1a1a">WNT9B</text><text transform="translate(377.32,410.6) rotate(-90)" font-size="6" fill="#1a1a1a">IL6</text><text transform="translate(383.79,410.6) rotate(-90)" font-size="6" fill="#1a1a1a">IL1A</text><text transform="translate(390.26,410.6) rotate(-90)" font-size="6" fill="#1a1a1a">IL11</text><text transform="translate(396.73,410.6) rotate(-90)" font-size="6" fill="#1a1a1a">TGFB2</text><text transform="translate(403.20,410.6) rotate(-90)" font-size="6" fill="#1a1a1a">WNT8B</text><text transform="translate(409.67,410.6) rotate(-90)" font-size="6" fill="#1a1a1a">IFNG</text><text transform="translate(416.14,410.6) rotate(-90)" font-size="6" fill="#1a1a1a">WNT10B</text><text transform="translate(422.61,410.6) rotate(-90)" font-size="6" fill="#1a1a1a">WNT8A</text><text transform="translate(429.08,410.6) rotate(-90)" font-size="6" fill="#1a1a1a">GDF3</text><text transform="translate(435.56,410.6) rotate(-90)" font-size="6" fill="#1a1a1a">NTF4</text><text transform="translate(442.03,410.6) rotate(-90)" font-size="6" fill="#1a1a1a">WNT7B</text><text transform="translate(448.50,410.6) rotate(-90)" font-size="6" fill="#1a1a1a">BDNF</text><text transform="translate(454.97,410.6) rotate(-90)" font-size="6" fill="#1a1a1a">SPP1</text><text transform="translate(461.44,410.6) rotate(-90)" font-size="6" fill="#1a1a1a">IL36A</text><text transform="translate(467.91,410.6) rotate(-90)" font-size="6" fill="#1a1a1a">LIF</text><text transform="translate(474.38,410.6) rotate(-90)" font-size="6" fill="#1a1a1a">OSM</text><text transform="translate(480.85,410.6) rotate(-90)" font-size="6" fill="#1a1a1a">CSF2</text><text transform="translate(487.32,410.6) rotate(-90)" font-size="6" fill="#1a1a1a">BMP3</text><text transform="translate(493.79,410.6) rotate(-90)" font-size="6" fill="#1a1a1a">IL17B</text><text transform="translate(500.26,410.6) rotate(-90)" font-size="6" fill="#1a1a1a">ADIPOQ</text><text transform="translate(506.73,410.6) rotate(-90)" font-size="6" fill="#1a1a1a">TAFA5</text><text transform="translate(513.20,410.6) rotate(-90)" font-size="6" fill="#1a1a1a">AREG</text><text transform="translate(519.67,410.6) rotate(-90)" font-size="6" fill="#1a1a1a">SCG2</text><text transform="translate(526.14,410.6) rotate(-90)" font-size="6" fill="#1a1a1a">WNT3A</text><text transform="translate(532.62,410.6) rotate(-90)" font-size="6" fill="#1a1a1a">WNT4</text><text transform="translate(539.09,410.6) rotate(-90)" font-size="6" fill="#1a1a1a">MIF</text><text transform="translate(545.56,410.6) rotate(-90)" font-size="6" fill="#1a1a1a">IL4</text><text transform="translate(552.03,410.6) rotate(-90)" font-size="6" fill="#1a1a1a">INHBE</text><text transform="translate(558.50,410.6) rotate(-90)" font-size="6" fill="#1a1a1a">WNT7A</text><text transform="translate(564.97,410.6) rotate(-90)" font-size="6" fill="#1a1a1a">LEFTY1</text><text transform="translate(571.44,410.6) rotate(-90)" font-size="6" fill="#1a1a1a">CMTM2</text><text transform="translate(577.91,410.6) rotate(-90)" font-size="6" fill="#1a1a1a">IL17C</text><text transform="translate(584.38,410.6) rotate(-90)" font-size="6" fill="#1a1a1a">CSF1R</text><text transform="translate(590.85,410.6) rotate(-90)" font-size="6" fill="#1a1a1a">NRG1</text><text transform="translate(597.32,410.6) rotate(-90)" font-size="6" fill="#1a1a1a">IL3</text><text transform="translate(603.79,410.6) rotate(-90)" font-size="6" fill="#1a1a1a">IL22RA2</text><text transform="translate(610.26,410.6) rotate(-90)" font-size="6" fill="#1a1a1a">CRLF1</text><text transform="translate(616.73,410.6) rotate(-90)" font-size="6" fill="#1a1a1a">WNT11</text><text transform="translate(623.20,410.6) rotate(-90)" font-size="6" fill="#1a1a1a">CNTF</text><text transform="translate(629.68,410.6) rotate(-90)" font-size="6" fill="#1a1a1a">VSTM1</text><text transform="translate(636.15,410.6) rotate(-90)" font-size="6" fill="#1a1a1a">IL34</text><text transform="translate(642.62,410.6) rotate(-90)" font-size="6" fill="#1a1a1a">ALKAL1</text><text transform="translate(649.09,410.6) rotate(-90)" font-size="6" fill="#1a1a1a">SLURP1</text><text transform="translate(655.56,410.6) rotate(-90)" font-size="6" fill="#1a1a1a">BMP7</text><text transform="translate(662.03,410.6) rotate(-90)" font-size="6" fill="#1a1a1a">PRL</text><text transform="translate(668.50,410.6) rotate(-90)" font-size="6" fill="#1a1a1a">CD70</text><text transform="translate(674.97,410.6) rotate(-90)" font-size="6" fill="#1a1a1a">WNT6</text><text transform="translate(681.44,410.6) rotate(-90)" font-size="6" fill="#1a1a1a">TGFB3</text><text transform="translate(687.91,410.6) rotate(-90)" font-size="6" fill="#1a1a1a">IL9</text><text transform="translate(694.38,410.6) rotate(-90)" font-size="6" fill="#1a1a1a">NTRK1</text><text transform="translate(700.85,410.6) rotate(-90)" font-size="6" fill="#1a1a1a">IL5</text><text transform="translate(707.32,410.6) rotate(-90)" font-size="6" fill="#1a1a1a">EPO</text><text transform="translate(713.79,410.6) rotate(-90)" font-size="6" fill="#1a1a1a">CMTM5</text><text transform="translate(720.26,410.6) rotate(-90)" font-size="6" fill="#1a1a1a">TRADD</text><text x="235.8" y="489.8" font-size="8" fill="#444">NES</text><rect x="255.7" y="483.3" width="43.2" height="6.7" fill="url(#nes)"/><text x="259.4" y="497.6" text-anchor="middle" font-size="7.2" fill="#333">−1.0</text><text x="278.0" y="497.6" text-anchor="middle" font-size="7.2" fill="#333">0.0</text><text x="297.0" y="497.6" text-anchor="middle" font-size="7.2" fill="#333">1.0</text></svg><div class="t" style="left:219.5px;top:382px;font-size:14.5px;">f</div><svg style="position:absolute;left:210px;top:480px" width="512" height="150" viewBox="210 480 512 150"><rect x="236.60" y="539.5" width="8.64" height="34.40" fill="#e0ddee"/><rect x="236.60" y="573.9" width="8.64" height="34.60" fill="#fcb4a0"/><rect x="245.24" y="539.5" width="8.64" height="34.40" fill="#fcdcd2"/><rect x="245.24" y="573.9" width="8.64" height="34.60" fill="#9088c4"/><rect x="253.87" y="539.5" width="8.64" height="34.40" fill="#fdfafa"/><rect x="253.87" y="573.9" width="8.64" height="34.60" fill="#fcc0b0"/><rect x="262.51" y="539.5" width="8.64" height="34.40" fill="#fcdcd2"/><rect x="262.51" y="573.9" width="8.64" height="34.60" fill="#e0ddee"/><rect x="271.15" y="539.5" width="8.64" height="34.40" fill="#fde4dc"/><rect x="271.15" y="573.9" width="8.64" height="34.60" fill="#fcfcfd"/><rect x="279.78" y="539.5" width="8.64" height="34.40" fill="#fdf4f0"/><rect x="279.78" y="573.9" width="8.64" height="34.60" fill="#fcb8a6"/><rect x="288.42" y="539.5" width="8.64" height="34.40" fill="#b8b1d9"/><rect x="288.42" y="573.9" width="8.64" height="34.60" fill="#c8c2e2"/><rect x="297.05" y="539.5" width="8.64" height="34.40" fill="#dedbed"/><rect x="297.05" y="573.9" width="8.64" height="34.60" fill="#f99a84"/><rect x="305.69" y="539.5" width="8.64" height="34.40" fill="#fdf0ec"/><rect x="305.69" y="573.9" width="8.64" height="34.60" fill="#e0ddee"/><rect x="314.33" y="539.5" width="8.64" height="34.40" fill="#dcd8ec"/><rect x="314.33" y="573.9" width="8.64" height="34.60" fill="#fbb09c"/><rect x="322.96" y="539.5" width="8.64" height="34.40" fill="#dcd8ec"/><rect x="322.96" y="573.9" width="8.64" height="34.60" fill="#f6806a"/><rect x="331.60" y="539.5" width="8.64" height="34.40" fill="#e0ddee"/><rect x="331.60" y="573.9" width="8.64" height="34.60" fill="#f9a08a"/><rect x="340.24" y="539.5" width="8.64" height="34.40" fill="#ebe9f3"/><rect x="340.24" y="573.9" width="8.64" height="34.60" fill="#fbb4a2"/><rect x="348.87" y="539.5" width="8.64" height="34.40" fill="#f0eff6"/><rect x="348.87" y="573.9" width="8.64" height="34.60" fill="#fcc4b4"/><rect x="357.51" y="539.5" width="8.64" height="34.40" fill="#ebe9f3"/><rect x="357.51" y="573.9" width="8.64" height="34.60" fill="#fcbcaa"/><rect x="366.15" y="539.5" width="8.64" height="34.40" fill="#fcfcfd"/><rect x="366.15" y="573.9" width="8.64" height="34.60" fill="#fcd0c2"/><rect x="374.78" y="539.5" width="8.64" height="34.40" fill="#f4f3f9"/><rect x="374.78" y="573.9" width="8.64" height="34.60" fill="#f9a890"/><rect x="383.42" y="539.5" width="8.64" height="34.40" fill="#fde8e2"/><rect x="383.42" y="573.9" width="8.64" height="34.60" fill="#e0ddee"/><rect x="392.05" y="539.5" width="8.64" height="34.40" fill="#fde4dc"/><rect x="392.05" y="573.9" width="8.64" height="34.60" fill="#aaa2d2"/><rect x="400.69" y="539.5" width="8.64" height="34.40" fill="#d8d4ea"/><rect x="400.69" y="573.9" width="8.64" height="34.60" fill="#f57a64"/><rect x="409.33" y="539.5" width="8.64" height="34.40" fill="#dedbed"/><rect x="409.33" y="573.9" width="8.64" height="34.60" fill="#f05a44"/><rect x="417.96" y="539.5" width="8.64" height="34.40" fill="#d8d4ea"/><rect x="417.96" y="573.9" width="8.64" height="34.60" fill="#fcd0c2"/><line x1="236.60" y1="539.5" x2="236.60" y2="608.5" stroke="#6a6a6a" stroke-width="0.6"/><line x1="245.24" y1="539.5" x2="245.24" y2="608.5" stroke="#6a6a6a" stroke-width="0.6"/><line x1="253.87" y1="539.5" x2="253.87" y2="608.5" stroke="#6a6a6a" stroke-width="0.6"/><line x1="262.51" y1="539.5" x2="262.51" y2="608.5" stroke="#6a6a6a" stroke-width="0.6"/><line x1="271.15" y1="539.5" x2="271.15" y2="608.5" stroke="#6a6a6a" stroke-width="0.6"/><line x1="279.78" y1="539.5" x2="279.78" y2="608.5" stroke="#6a6a6a" stroke-width="0.6"/><line x1="288.42" y1="539.5" x2="288.42" y2="608.5" stroke="#6a6a6a" stroke-width="0.6"/><line x1="297.05" y1="539.5" x2="297.05" y2="608.5" stroke="#6a6a6a" stroke-width="0.6"/><line x1="305.69" y1="539.5" x2="305.69" y2="608.5" stroke="#6a6a6a" stroke-width="0.6"/><line x1="314.33" y1="539.5" x2="314.33" y2="608.5" stroke="#6a6a6a" stroke-width="0.6"/><line x1="322.96" y1="539.5" x2="322.96" y2="608.5" stroke="#6a6a6a" stroke-width="0.6"/><line x1="331.60" y1="539.5" x2="331.60" y2="608.5" stroke="#6a6a6a" stroke-width="0.6"/><line x1="340.24" y1="539.5" x2="340.24" y2="608.5" stroke="#6a6a6a" stroke-width="0.6"/><line x1="348.87" y1="539.5" x2="348.87" y2="608.5" stroke="#6a6a6a" stroke-width="0.6"/><line x1="357.51" y1="539.5" x2="357.51" y2="608.5" stroke="#6a6a6a" stroke-width="0.6"/><line x1="366.15" y1="539.5" x2="366.15" y2="608.5" stroke="#6a6a6a" stroke-width="0.6"/><line x1="374.78" y1="539.5" x2="374.78" y2="608.5" stroke="#6a6a6a" stroke-width="0.6"/><line x1="383.42" y1="539.5" x2="383.42" y2="608.5" stroke="#6a6a6a" stroke-width="0.6"/><line x1="392.05" y1="539.5" x2="392.05" y2="608.5" stroke="#6a6a6a" stroke-width="0.6"/><line x1="400.69" y1="539.5" x2="400.69" y2="608.5" stroke="#6a6a6a" stroke-width="0.6"/><line x1="409.33" y1="539.5" x2="409.33" y2="608.5" stroke="#6a6a6a" stroke-width="0.6"/><line x1="417.96" y1="539.5" x2="417.96" y2="608.5" stroke="#6a6a6a" stroke-width="0.6"/><line x1="426.60" y1="539.5" x2="426.60" y2="608.5" stroke="#6a6a6a" stroke-width="0.6"/><line x1="236.6" y1="539.5" x2="426.60" y2="539.5" stroke="#6a6a6a" stroke-width="0.6"/><line x1="236.6" y1="573.9" x2="426.60" y2="573.9" stroke="#6a6a6a" stroke-width="0.6"/><line x1="236.6" y1="608.5" x2="426.60" y2="608.5" stroke="#6a6a6a" stroke-width="0.6"/><text transform="translate(243.42,537.5) rotate(-90)" font-size="7.3" fill="#1a1a1a">ADORA2A</text><text transform="translate(252.05,537.5) rotate(-90)" font-size="7.3" fill="#1a1a1a">SIRPA</text><text transform="translate(260.69,537.5) rotate(-90)" font-size="7.3" fill="#1a1a1a">KIR3DL2</text><text transform="translate(269.33,537.5) rotate(-90)" font-size="7.3" fill="#1a1a1a">KIR3DL1</text><text transform="translate(277.96,537.5) rotate(-90)" font-size="7.3" fill="#1a1a1a">KIR2DL1</text><text transform="translate(286.60,537.5) rotate(-90)" font-size="7.3" fill="#1a1a1a">KIR2DL3</text><text transform="translate(295.24,537.5) rotate(-90)" font-size="7.3" fill="#1a1a1a">KIR3DL3</text><text transform="translate(303.87,537.5) rotate(-90)" font-size="7.3" fill="#1a1a1a">LGALS9</text><text transform="translate(312.51,537.5) rotate(-90)" font-size="7.3" fill="#1a1a1a">CD276</text><text transform="translate(321.15,537.5) rotate(-90)" font-size="7.3" fill="#1a1a1a">LAG3</text><text transform="translate(329.78,537.5) rotate(-90)" font-size="7.3" fill="#1a1a1a">IDO1</text><text transform="translate(338.42,537.5) rotate(-90)" font-size="7.3" fill="#1a1a1a">HAVCR2</text><text transform="translate(347.05,537.5) rotate(-90)" font-size="7.3" fill="#1a1a1a">TDO2</text><text transform="translate(355.69,537.5) rotate(-90)" font-size="7.3" fill="#1a1a1a">TIGIT</text><text transform="translate(364.33,537.5) rotate(-90)" font-size="7.3" fill="#1a1a1a">BTLA</text><text transform="translate(372.96,537.5) rotate(-90)" font-size="7.3" fill="#1a1a1a">PDCD1</text><text transform="translate(381.60,537.5) rotate(-90)" font-size="7.3" fill="#1a1a1a">CD160</text><text transform="translate(390.24,537.5) rotate(-90)" font-size="7.3" fill="#1a1a1a">VTCN1</text><text transform="translate(398.87,537.5) rotate(-90)" font-size="7.3" fill="#1a1a1a">PVR</text><text transform="translate(407.51,537.5) rotate(-90)" font-size="7.3" fill="#1a1a1a">CD209</text><text transform="translate(416.15,537.5) rotate(-90)" font-size="7.3" fill="#1a1a1a">PDCD1LG2</text><text transform="translate(424.78,537.5) rotate(-90)" font-size="7.3" fill="#1a1a1a">CD274</text><path d="M236.9,609 Q236.9,611.2 238.6,611.2 L424.6,611.2 Q426.3,611.2 426.3,609" fill="none" stroke="#222" stroke-width="1.2"/><rect x="434.40" y="539.5" width="8.70" height="34.40" fill="#ebe9f3"/><rect x="434.40" y="573.9" width="8.70" height="34.60" fill="#f8907a"/><rect x="443.10" y="539.5" width="8.70" height="34.40" fill="#f4f3f9"/><rect x="443.10" y="573.9" width="8.70" height="34.60" fill="#fbb09c"/><rect x="451.80" y="539.5" width="8.70" height="34.40" fill="#fdf0ec"/><rect x="451.80" y="573.9" width="8.70" height="34.60" fill="#e0ddee"/><rect x="460.50" y="539.5" width="8.70" height="34.40" fill="#f4f3f9"/><rect x="460.50" y="573.9" width="8.70" height="34.60" fill="#fcc0b0"/><rect x="469.20" y="539.5" width="8.70" height="34.40" fill="#fdf0ec"/><rect x="469.20" y="573.9" width="8.70" height="34.60" fill="#ccc6e3"/><rect x="477.90" y="539.5" width="8.70" height="34.40" fill="#fcdcd2"/><rect x="477.90" y="573.9" width="8.70" height="34.60" fill="#1e1a88"/><rect x="486.60" y="539.5" width="8.70" height="34.40" fill="#fde4dc"/><rect x="486.60" y="573.9" width="8.70" height="34.60" fill="#ccc6e3"/><rect x="495.30" y="539.5" width="8.70" height="34.40" fill="#e9e7f3"/><rect x="495.30" y="573.9" width="8.70" height="34.60" fill="#fcc8b8"/><rect x="504.00" y="539.5" width="8.70" height="34.40" fill="#f4f3f9"/><rect x="504.00" y="573.9" width="8.70" height="34.60" fill="#fcd0c2"/><rect x="512.70" y="539.5" width="8.70" height="34.40" fill="#fdf0ec"/><rect x="512.70" y="573.9" width="8.70" height="34.60" fill="#f0eff6"/><rect x="521.40" y="539.5" width="8.70" height="34.40" fill="#f6f5fa"/><rect x="521.40" y="573.9" width="8.70" height="34.60" fill="#f57a64"/><rect x="530.10" y="539.5" width="8.70" height="34.40" fill="#fde4dc"/><rect x="530.10" y="573.9" width="8.70" height="34.60" fill="#a49ccf"/><rect x="538.80" y="539.5" width="8.70" height="34.40" fill="#fcdcd2"/><rect x="538.80" y="573.9" width="8.70" height="34.60" fill="#aaa2d2"/><line x1="434.40" y1="539.5" x2="434.40" y2="608.5" stroke="#6a6a6a" stroke-width="0.6"/><line x1="443.10" y1="539.5" x2="443.10" y2="608.5" stroke="#6a6a6a" stroke-width="0.6"/><line x1="451.80" y1="539.5" x2="451.80" y2="608.5" stroke="#6a6a6a" stroke-width="0.6"/><line x1="460.50" y1="539.5" x2="460.50" y2="608.5" stroke="#6a6a6a" stroke-width="0.6"/><line x1="469.20" y1="539.5" x2="469.20" y2="608.5" stroke="#6a6a6a" stroke-width="0.6"/><line x1="477.90" y1="539.5" x2="477.90" y2="608.5" stroke="#6a6a6a" stroke-width="0.6"/><line x1="486.60" y1="539.5" x2="486.60" y2="608.5" stroke="#6a6a6a" stroke-width="0.6"/><line x1="495.30" y1="539.5" x2="495.30" y2="608.5" stroke="#6a6a6a" stroke-width="0.6"/><line x1="504.00" y1="539.5" x2="504.00" y2="608.5" stroke="#6a6a6a" stroke-width="0.6"/><line x1="512.70" y1="539.5" x2="512.70" y2="608.5" stroke="#6a6a6a" stroke-width="0.6"/><line x1="521.40" y1="539.5" x2="521.40" y2="608.5" stroke="#6a6a6a" stroke-width="0.6"/><line x1="530.10" y1="539.5" x2="530.10" y2="608.5" stroke="#6a6a6a" stroke-width="0.6"/><line x1="538.80" y1="539.5" x2="538.80" y2="608.5" stroke="#6a6a6a" stroke-width="0.6"/><line x1="547.50" y1="539.5" x2="547.50" y2="608.5" stroke="#6a6a6a" stroke-width="0.6"/><line x1="434.4" y1="539.5" x2="547.50" y2="539.5" stroke="#6a6a6a" stroke-width="0.6"/><line x1="434.4" y1="573.9" x2="547.50" y2="573.9" stroke="#6a6a6a" stroke-width="0.6"/><line x1="434.4" y1="608.5" x2="547.50" y2="608.5" stroke="#6a6a6a" stroke-width="0.6"/><text transform="translate(441.25,537.5) rotate(-90)" font-size="7.3" fill="#1a1a1a">CD40LG</text><text transform="translate(449.95,537.5) rotate(-90)" font-size="7.3" fill="#1a1a1a">ICOSLG</text><text transform="translate(458.65,537.5) rotate(-90)" font-size="7.3" fill="#1a1a1a">CD40</text><text transform="translate(467.35,537.5) rotate(-90)" font-size="7.3" fill="#1a1a1a">CEACAM1</text><text transform="translate(476.05,537.5) rotate(-90)" font-size="7.3" fill="#1a1a1a">TNFSF14</text><text transform="translate(484.75,537.5) rotate(-90)" font-size="7.3" fill="#1a1a1a">CD70</text><text transform="translate(493.45,537.5) rotate(-90)" font-size="7.3" fill="#1a1a1a">TNFSF9</text><text transform="translate(502.15,537.5) rotate(-90)" font-size="7.3" fill="#1a1a1a">CD226</text><text transform="translate(510.85,537.5) rotate(-90)" font-size="7.3" fill="#1a1a1a">CD86</text><text transform="translate(519.55,537.5) rotate(-90)" font-size="7.3" fill="#1a1a1a">CD28</text><text transform="translate(528.25,537.5) rotate(-90)" font-size="7.3" fill="#1a1a1a">TNFSF18</text><text transform="translate(536.95,537.5) rotate(-90)" font-size="7.3" fill="#1a1a1a">TNFRSF4</text><text transform="translate(545.65,537.5) rotate(-90)" font-size="7.3" fill="#1a1a1a">TNFRSF18</text><path d="M434.7,609 Q434.7,611.2 436.4,611.2 L545.5,611.2 Q547.2,611.2 547.2,609" fill="none" stroke="#222" stroke-width="1.2"/><rect x="556.90" y="539.5" width="8.65" height="34.40" fill="#d4cfe8"/><rect x="556.90" y="573.9" width="8.65" height="34.60" fill="#f57a64"/><rect x="565.55" y="539.5" width="8.65" height="34.40" fill="#d0cbe6"/><rect x="565.55" y="573.9" width="8.65" height="34.60" fill="#e8402e"/><rect x="574.21" y="539.5" width="8.65" height="34.40" fill="#e6e4f1"/><rect x="574.21" y="573.9" width="8.65" height="34.60" fill="#f56c56"/><rect x="582.86" y="539.5" width="8.65" height="34.40" fill="#dcd8ec"/><rect x="582.86" y="573.9" width="8.65" height="34.60" fill="#f9a08a"/><rect x="591.51" y="539.5" width="8.65" height="34.40" fill="#e2dfef"/><rect x="591.51" y="573.9" width="8.65" height="34.60" fill="#f8957e"/><rect x="600.16" y="539.5" width="8.65" height="34.40" fill="#fdf8f6"/><rect x="600.16" y="573.9" width="8.65" height="34.60" fill="#d4cfe8"/><rect x="608.82" y="539.5" width="8.65" height="34.40" fill="#e0ddee"/><rect x="608.82" y="573.9" width="8.65" height="34.60" fill="#f9a08a"/><rect x="617.47" y="539.5" width="8.65" height="34.40" fill="#dcd8ec"/><rect x="617.47" y="573.9" width="8.65" height="34.60" fill="#f8907a"/><rect x="626.12" y="539.5" width="8.65" height="34.40" fill="#ebe9f3"/><rect x="626.12" y="573.9" width="8.65" height="34.60" fill="#f9a08a"/><rect x="634.77" y="539.5" width="8.65" height="34.40" fill="#ccc6e3"/><rect x="634.77" y="573.9" width="8.65" height="34.60" fill="#e84a34"/><rect x="643.43" y="539.5" width="8.65" height="34.40" fill="#fdf4f0"/><rect x="643.43" y="573.9" width="8.65" height="34.60" fill="#fdfafa"/><rect x="652.08" y="539.5" width="8.65" height="34.40" fill="#fdfafa"/><rect x="652.08" y="573.9" width="8.65" height="34.60" fill="#fcd8cc"/><rect x="660.73" y="539.5" width="8.65" height="34.40" fill="#fcdcd2"/><rect x="660.73" y="573.9" width="8.65" height="34.60" fill="#c8c2e2"/><rect x="669.38" y="539.5" width="8.65" height="34.40" fill="#fdf4f0"/><rect x="669.38" y="573.9" width="8.65" height="34.60" fill="#c4bde0"/><rect x="678.04" y="539.5" width="8.65" height="34.40" fill="#fdece6"/><rect x="678.04" y="573.9" width="8.65" height="34.60" fill="#c4bde0"/><rect x="686.69" y="539.5" width="8.65" height="34.40" fill="#fde8e2"/><rect x="686.69" y="573.9" width="8.65" height="34.60" fill="#5a50a8"/><rect x="695.34" y="539.5" width="8.65" height="34.40" fill="#d8d4ea"/><rect x="695.34" y="573.9" width="8.65" height="34.60" fill="#f05a44"/><rect x="703.99" y="539.5" width="8.65" height="34.40" fill="#f0eff6"/><rect x="703.99" y="573.9" width="8.65" height="34.60" fill="#fcb8a6"/><rect x="712.65" y="539.5" width="8.65" height="34.40" fill="#fde4dc"/><rect x="712.65" y="573.9" width="8.65" height="34.60" fill="#a49ccf"/><line x1="556.90" y1="539.5" x2="556.90" y2="608.5" stroke="#6a6a6a" stroke-width="0.6"/><line x1="565.55" y1="539.5" x2="565.55" y2="608.5" stroke="#6a6a6a" stroke-width="0.6"/><line x1="574.21" y1="539.5" x2="574.21" y2="608.5" stroke="#6a6a6a" stroke-width="0.6"/><line x1="582.86" y1="539.5" x2="582.86" y2="608.5" stroke="#6a6a6a" stroke-width="0.6"/><line x1="591.51" y1="539.5" x2="591.51" y2="608.5" stroke="#6a6a6a" stroke-width="0.6"/><line x1="600.16" y1="539.5" x2="600.16" y2="608.5" stroke="#6a6a6a" stroke-width="0.6"/><line x1="608.82" y1="539.5" x2="608.82" y2="608.5" stroke="#6a6a6a" stroke-width="0.6"/><line x1="617.47" y1="539.5" x2="617.47" y2="608.5" stroke="#6a6a6a" stroke-width="0.6"/><line x1="626.12" y1="539.5" x2="626.12" y2="608.5" stroke="#6a6a6a" stroke-width="0.6"/><line x1="634.77" y1="539.5" x2="634.77" y2="608.5" stroke="#6a6a6a" stroke-width="0.6"/><line x1="643.43" y1="539.5" x2="643.43" y2="608.5" stroke="#6a6a6a" stroke-width="0.6"/><line x1="652.08" y1="539.5" x2="652.08" y2="608.5" stroke="#6a6a6a" stroke-width="0.6"/><line x1="660.73" y1="539.5" x2="660.73" y2="608.5" stroke="#6a6a6a" stroke-width="0.6"/><line x1="669.38" y1="539.5" x2="669.38" y2="608.5" stroke="#6a6a6a" stroke-width="0.6"/><line x1="678.04" y1="539.5" x2="678.04" y2="608.5" stroke="#6a6a6a" stroke-width="0.6"/><line x1="686.69" y1="539.5" x2="686.69" y2="608.5" stroke="#6a6a6a" stroke-width="0.6"/><line x1="695.34" y1="539.5" x2="695.34" y2="608.5" stroke="#6a6a6a" stroke-width="0.6"/><line x1="703.99" y1="539.5" x2="703.99" y2="608.5" stroke="#6a6a6a" stroke-width="0.6"/><line x1="712.65" y1="539.5" x2="712.65" y2="608.5" stroke="#6a6a6a" stroke-width="0.6"/><line x1="721.30" y1="539.5" x2="721.30" y2="608.5" stroke="#6a6a6a" stroke-width="0.6"/><line x1="556.9" y1="539.5" x2="721.30" y2="539.5" stroke="#6a6a6a" stroke-width="0.6"/><line x1="556.9" y1="573.9" x2="721.30" y2="573.9" stroke="#6a6a6a" stroke-width="0.6"/><line x1="556.9" y1="608.5" x2="721.30" y2="608.5" stroke="#6a6a6a" stroke-width="0.6"/><text transform="translate(563.73,537.5) rotate(-90)" font-size="7.3" fill="#1a1a1a">HLA-DPB1</text><text transform="translate(572.38,537.5) rotate(-90)" font-size="7.3" fill="#1a1a1a">HLA-DPA1</text><text transform="translate(581.03,537.5) rotate(-90)" font-size="7.3" fill="#1a1a1a">HLA-DOA</text><text transform="translate(589.68,537.5) rotate(-90)" font-size="7.3" fill="#1a1a1a">HLA-DMA</text><text transform="translate(598.34,537.5) rotate(-90)" font-size="7.3" fill="#1a1a1a">HLA-DMB</text><text transform="translate(606.99,537.5) rotate(-90)" font-size="7.3" fill="#1a1a1a">HLA-DOB</text><text transform="translate(615.64,537.5) rotate(-90)" font-size="7.3" fill="#1a1a1a">HLA-DQB1</text><text transform="translate(624.29,537.5) rotate(-90)" font-size="7.3" fill="#1a1a1a">HLA-DQA1</text><text transform="translate(632.95,537.5) rotate(-90)" font-size="7.3" fill="#1a1a1a">HLA-DRB1</text><text transform="translate(641.60,537.5) rotate(-90)" font-size="7.3" fill="#1a1a1a">HLA-DRA</text><text transform="translate(650.25,537.5) rotate(-90)" font-size="7.3" fill="#1a1a1a">HLA-E</text><text transform="translate(658.91,537.5) rotate(-90)" font-size="7.3" fill="#1a1a1a">HLA-A</text><text transform="translate(667.56,537.5) rotate(-90)" font-size="7.3" fill="#1a1a1a">HLA-G</text><text transform="translate(676.21,537.5) rotate(-90)" font-size="7.3" fill="#1a1a1a">HLA-F</text><text transform="translate(684.86,537.5) rotate(-90)" font-size="7.3" fill="#1a1a1a">BTN2A1</text><text transform="translate(693.52,537.5) rotate(-90)" font-size="7.3" fill="#1a1a1a">BTNL3</text><text transform="translate(702.17,537.5) rotate(-90)" font-size="7.3" fill="#1a1a1a">CD86</text><text transform="translate(710.82,537.5) rotate(-90)" font-size="7.3" fill="#1a1a1a">CD80</text><text transform="translate(719.47,537.5) rotate(-90)" font-size="7.3" fill="#1a1a1a">TNFRSF14</text><path d="M557.1999999999999,609 Q557.1999999999999,611.2 558.9,611.2 L719.3,611.2 Q721.0,611.2 721.0,609" fill="none" stroke="#222" stroke-width="1.2"/><text transform="translate(233.3,558.9) rotate(-90)" text-anchor="middle" font-size="8.7" fill="#1a1a1a">GTEX-L</text><text transform="translate(233.3,593.4) rotate(-90)" text-anchor="middle" font-size="8.7" fill="#1a1a1a">LM-NT</text><text x="237" y="620.3" font-size="8" fill="#444">NES</text><rect x="254" y="613" width="42.1" height="8.9" fill="url(#nes)"/><text x="263.4" y="627.6" text-anchor="middle" font-size="6.5" fill="#333">−1.0</text><text x="276.6" y="627.6" text-anchor="middle" font-size="6.5" fill="#333">0.0</text><text x="289.5" y="627.6" text-anchor="middle" font-size="6.5" fill="#333">1.0</text><text x="302" y="622" font-size="10.2" fill="#1a1a1a">Coinhibitors</text><text x="492.7" y="622" text-anchor="middle" font-size="10.2" fill="#1a1a1a">Costimulators</text><text x="642.9" y="622" text-anchor="middle" font-size="10.2" fill="#1a1a1a">MHC</text></svg><div class="t" style="left:219.5px;top:488.5px;font-size:15px;">g</div><svg style="position:absolute;left:0;top:620px" width="440" height="395" viewBox="0 620 440 395"><defs><filter id="bl2" x="-50%" y="-50%" width="200%" height="200%"><feGaussianBlur stdDeviation="0.8"/></filter></defs><clipPath id="cp1"><rect x="37.5" y="661" width="110.5" height="111.5"/></clipPath><g clip-path="url(#cp1)"><rect x="37.5" y="661" width="110.5" height="111.5" fill="#f6f0ea"/><path transform="translate(37.5 661) scale(.5)" d="M135 4h0M190 17h0M139 22h0M47 80h0M14 45h0M211 175h0M197 85h0M86 84h0M10 80h0M51 97h0M22 97h0M35 145h0M5 25h0M118 80h0M213 162h0M113 28h0M73 144h0M176 6h0M177 3h0M121 47h0M52 95h0M185 25h0M6 157h0M76 79h0M41 53h0M39 96h0M145 168h0M56 38h0M14 13h0M162 88h0M86 37h0M210 149h0M167 164h0M38 37h0M79 76h0M118 1h0M70 205h0M15 126h0M34 27h0M125 25h0M75 104h0M82 114h0M43 100h0M7 189h0M99 100h0M143 56h0M54 6h0M73 103h0M129 85h0M27 69h0M119 96h0M129 82h0M108 184h0M60 155h0M92 126h0M46 24h0M63 215h0M70 81h0M178 46h0M181 42h0M49 50h0M68 93h0M87 122h0M164 175h0M7 3h0M118 69h0M46 85h0M201 72h0M95 145h0M57 104h0M117 70h0M151 198h0M181 170h0M211 110h0M53 212h0M117 46h0M147 43h0M163 102h0M49 163h0M164 100h0M161 110h0M120 58h0M65 45h0M125 148h0M87 66h0M32 30h0M184 40h0M69 54h0M82 86h0M76 143h0M215 98h0M31 104h0M183 136h0M108 91h0M147 135h0M112 60h0M181 189h0M72 78h0M206 140h0M172 96h0M178 14h0M92 105h0M212 175h0M155 177h0M88 103h0M48 145h0M58 221h0M21 61h0M26 82h0M0 25h0M77 181h0M131 103h0M208 54h0M158 72h0M59 159h0M171 56h0M104 123h0M38 79h0M187 26h0M58 52h0M201 168h0M182 214h0M52 37h0M117 183h0M99 48h0M55 136h0M88 210h0M151 84h0M103 150h0M182 140h0M87 32h0M54 84h0M186 76h0M19 193h0M43 146h0M95 117h0M19 142h0M45 158h0M63 90h0M130 145h0M50 189h0M186 150h0M183 70h0M107 206h0M213 56h0M15 141h0M24 139h0M99 31h0M165 105h0M106 109h0M109 108h0M114 17h0M24 199h0M146 153h0M103 143h0M116 87h0M207 10h0M74 57h0M220 131h0M187 192h0M101 46h0M40 95h0M37 91h0M216 31h0M39 81h0M52 117h0M64 60h0M208 210h0M69 192h0M76 143h0M113 92h0M67 125h0M137 102h0M91 36h0M83 12h0M16 105h0M159 83h0M41 167h0M55 90h0M153 90h0M45 133h0M41 72h0M140 5h0M132 64h0M5 185h0M36 201h0M62 83h0M34 176h0M49 55h0M46 142h0M54 171h0M219 83h0M86 198h0M63 94h0M14 148h0M209 133h0M183 175h0M12 180h0M106 34h0M4 171h0M79 130h0M1 141h0M29 211h0M108 65h0M27 41h0M139 65h0M54 67h0M49 158h0M137 100h0M221 222h0M212 212h0M178 88h0M76 89h0M68 35h0M11 57h0M217 61h0M77 2h0M88 73h0M131 205h0M193 133h0M113 65h0M198 18h0M180 215h0M1 130h0M47 115h0M53 9h0M98 158h0M147 188h0M215 156h0M89 215h0M172 36h0M46 148h0M165 207h0M209 70h0M40 9h0M23 203h0M77 200h0M158 164h0M219 193h0M103 25h0M138 66h0M200 201h0M114 206h0M39 172h0M52 104h0M119 209h0M186 198h0M8 98h0M30 27h0M20 211h0M118 202h0M84 183h0M133 38h0M51 150h0M67 219h0M124 163h0M23 197h0M59 52h0M102 125h0M8 13h0M101 85h0M38 93h0M96 149h0M106 127h0M86 88h0M216 59h0M77 179h0M116 40h0M65 66h0M68 100h0M161 74h0M108 212h0M192 19h0M164 4h0M116 94h0M191 140h0M214 162h0M63 123h0M17 7h0M110 105h0M2 14h0M75 41h0M109 132h0M98 189h0M162 95h0M145 122h0M168 153h0M170 19h0M191 182h0M5 207h0M89 21h0M213 175h0M105 58h0M184 177h0M193 102h0M24 200h0M169 114h0M127 177h0M176 196h0M37 104h0M69 72h0M31 196h0M88 67h0M220 70h0M73 82h0M15 107h0M41 93h0M162 61h0M62 22h0M70 173h0M90 206h0M112 37h0M2 110h0M143 59h0M10 105h0M61 105h0M44 53h0M108 61h0M170 145h0M133 12h0M10 56h0M169 14h0M183 222h0M208 31h0M38 174h0M107 78h0M75 116h0M124 131h0M40 139h0M0 202h0M2 155h0M23 197h0M98 16h0M63 72h0M37 153h0M32 144h0M218 168h0M73 139h0M47 89h0M26 182h0M68 108h0M89 88h0M130 148h0M9 139h0M113 174h0M132 121h0M166 105h0M72 23h0M164 191h0M200 92h0M209 65h0M139 66h0M167 124h0M64 166h0M80 33h0M131 117h0M159 208h0M87 44h0M101 134h0M26 193h0M155 38h0M79 128h0M81 70h0M9 132h0M149 211h0M27 178h0M32 51h0M53 86h0M146 217h0M105 65h0M32 163h0M83 137h0M36 68h0M0 126h0M29 170h0M175 218h0M161 80h0M111 167h0M184 161h0M77 117h0M29 14h0M76 117h0M106 209h0M21 174h0M35 174h0M44 140h0M28 193h0M62 127h0M188 25h0M183 140h0M30 204h0M22 192h0M175 196h0M32 210h0M134 134h0M29 158h0M38 91h0M108 153h0M50 91h0M175 54h0M41 41h0M35 58h0M199 4h0M206 182h0M53 73h0M75 157h0M92 190h0M62 64h0M86 196h0M65 102h0M30 43h0M187 72h0M89 35h0M25 53h0M34 103h0M111 210h0M28 79h0M64 97h0M80 195h0M57 195h0M135 222h0M54 43h0M138 129h0M162 49h0M179 156h0M213 52h0M150 115h0M82 182h0M174 98h0M101 42h0M55 8h0M196 79h0M200 133h0M104 115h0M25 220h0M187 34h0M30 89h0M129 194h0M190 181h0M4 182h0M152 117h0M174 1h0M136 221h0M119 223h0M56 74h0M190 63h0M159 201h0M61 106h0M95 59h0M48 59h0M137 87h0M93 61h0M204 48h0M76 89h0M89 32h0M125 166h0M101 93h0M75 216h0M8 145h0M124 207h0M191 60h0M41 111h0M53 153h0M48 71h0M76 155h0M42 151h0M58 61h0M152 73h0M146 62h0M114 11h0M99 164h0M86 118h0M175 59h0M155 46h0M98 22h0M105 6h0M123 137h0M97 155h0M198 133h0M150 74h0M129 178h0M58 99h0M29 126h0M152 50h0M77 94h0M13 54h0M97 196h0M77 136h0M168 46h0M8 201h0M77 220h0M20 164h0M24 70h0M46 65h0M15 74h0M105 70h0M36 122h0M44 48h0M60 102h0M85 95h0M57 176h0M120 130h0M40 143h0M43 7h0M76 221h0M80 216h0M115 62h0M45 93h0M181 45h0M96 165h0M120 120h0M56 80h0M55 84h0M178 187h0M185 213h0M39 50h0M79 138h0M127 217h0M136 139h0M129 188h0M191 3h0M12 178h0M30 103h0M138 62h0M115 106h0M91 92h0M194 16h0M31 41h0M154 28h0M95 137h0M50 205h0M140 70h0M22 195h0M38 130h0M166 3h0M111 203h0M139 187h0M66 145h0M88 104h0M80 96h0M51 132h0M102 17h0M127 141h0M98 103h0M64 25h0M49 3h0M75 91h0M129 41h0M112 3h0M46 96h0M132 157h0M106 151h0M67 20h0M164 193h0M192 93h0M162 115h0M53 136h0M20 39h0M96 55h0M34 44h0M106 74h0M92 70h0M74 117h0M64 65h0M153 11h0M214 188h0M175 149h0M39 108h0M21 83h0M61 67h0M30 145h0M40 170h0M47 121h0M140 159h0M130 156h0M215 116h0M167 73h0M43 147h0M54 165h0M96 99h0M140 193h0M93 188h0M212 58h0M156 170h0M115 118h0M53 122h0M60 74h0M219 199h0M145 158h0M120 68h0M104 109h0M39 87h0M61 75h0M121 76h0M86 53h0M50 205h0M102 82h0M11 193h0M53 121h0M75 95h0M82 108h0M135 85h0M108 76h0M78 105h0M148 152h0M161 52h0M44 199h0M109 20h0M113 182h0M31 148h0M82 62h0M124 126h0M181 140h0M80 140h0M143 184h0M50 150h0M46 50h0M112 70h0M32 126h0M214 169h0M52 34h0M38 141h0M8 59h0M172 213h0M201 131h0M167 139h0M198 104h0M42 163h0M55 65h0M147 20h0M13 149h0M119 88h0M36 222h0M104 64h0M197 46h0M68 56h0M192 213h0M187 179h0M21 186h0M139 140h0M77 82h0M127 131h0M117 203h0M196 94h0M104 4h0M127 31h0M25 220h0M114 92h0M86 134h0M16 86h0M128 164h0M136 9h0M156 41h0M120 202h0M67 7h0M38 156h0M25 23h0M209 172h0M29 169h0M128 64h0M68 180h0M107 138h0M46 211h0M53 103h0M20 92h0M30 49h0M152 83h0M42 19h0M30 214h0M83 52h0M26 98h0M62 80h0M92 130h0M214 111h0M73 60h0M24 94h0M61 93h0M104 222h0M29 58h0M194 214h0M98 209h0M212 97h0M83 88h0M195 90h0M36 154h0M52 172h0M77 49h0M165 221h0M124 103h0M103 184h0M33 181h0M22 210h0M171 86h0M9 67h0M148 158h0M213 220h0M192 15h0M27 186h0M30 159h0M6 20h0M106 86h0M33 204h0M95 35h0M169 205h0M192 162h0M201 102h0M207 157h0M51 91h0M105 131h0M139 161h0M189 59h0M27 197h0M164 53h0M85 150h0M37 95h0M2 45h0M100 121h0M54 63h0M77 150h0M116 213h0M72 99h0M183 114h0M204 202h0M114 50h0M91 56h0M90 202h0M106 193h0M216 220h0M55 153h0M54 112h0M40 37h0M25 85h0M140 105h0M93 163h0M24 3h0M81 78h0M206 28h0M142 74h0M170 70h0M220 27h0M8 219h0M121 75h0M107 67h0M79 0h0M83 58h0M77 61h0M98 173h0M179 79h0M131 206h0M122 194h0M71 104h0M19 79h0M124 105h0M137 113h0M5 76h0M58 113h0M159 46h0M166 97h0M91 70h0M166 54h0M47 40h0M58 157h0M104 110h0M52 12h0M111 169h0M136 76h0M70 63h0M178 215h0M160 13h0M161 39h0M173 4h0M67 196h0M118 33h0M95 129h0M32 135h0M8 26h0M33 166h0M38 68h0M81 28h0M94 116h0M44 185h0M112 17h0M114 120h0M42 144h0M54 98h0M120 40h0M195 173h0M44 38h0M33 1h0M5 210h0M72 10h0M4 54h0M66 75h0M173 29h0M147 51h0M0 159h0M101 162h0M103 42h0M57 207h0M90 65h0M163 135h0M217 46h0M82 57h0M29 150h0M54 211h0M4 127h0M40 78h0M167 30h0M139 83h0M49 168h0M210 16h0M141 42h0M43 43h0M87 173h0M173 217h0M49 130h0M64 161h0M42 54h0M158 120h0M4 146h0M44 213h0M19 207h0M32 48h0M162 98h0M65 162h0M55 42h0M194 34h0M41 101h0M135 148h0M40 26h0M64 119h0M69 123h0M163 114h0M148 155h0M154 52h0M56 121h0M51 80h0M143 83h0M115 122h0M125 178h0M7 136h0M190 221h0M132 83h0M11 179h0M94 47h0M43 49h0M134 87h0M99 74h0M110 162h0M212 204h0M124 76h0M6 222h0M99 126h0M35 154h0M40 107h0M162 51h0M1 150h0M33 82h0M30 41h0M27 101h0M175 69h0M26 134h0M107 68h0M88 215h0M123 177h0M221 214h0M89 124h0M70 59h0M159 92h0M139 166h0M52 121h0M54 78h0M76 55h0M95 129h0M89 73h0M110 201h0M145 130h0M124 55h0M71 130h0M87 132h0M115 167h0M218 102h0M28 201h0M115 124h0M157 163h0M129 62h0M127 42h0M31 28h0M176 201h0M47 122h0M116 30h0M107 122h0M42 55h0M33 77h0M68 91h0M161 147h0M82 147h0M62 72h0M48 36h0M133 18h0M156 118h0M73 137h0M113 18h0M4 41h0M69 167h0M51 152h0M52 151h0M69 184h0M33 92h0M191 39h0M124 164h0M103 52h0M66 124h0M67 81h0M95 29h0M83 99h0M218 70h0M3 11h0M58 147h0M36 70h0M173 5h0M114 113h0M85 137h0M140 33h0M152 179h0M97 64h0M216 40h0M166 79h0M122 140h0M39 116h0M82 77h0M218 196h0M109 128h0M61 124h0M81 55h0M98 150h0M49 51h0M35 156h0M92 77h0M171 208h0M152 172h0M200 38h0M131 211h0M179 65h0M81 86h0M101 135h0M58 24h0M97 193h0M15 182h0M153 65h0M203 36h0M105 73h0M121 169h0M8 82h0M154 134h0M162 28h0M80 54h0M34 188h0M60 76h0M152 166h0M78 196h0M210 84h0M183 164h0M194 176h0M81 130h0M144 118h0M5 164h0M85 74h0M178 93h0M61 85h0M13 127h0M215 195h0M151 186h0M36 1h0M121 167h0M140 45h0M207 164h0M105 24h0M110 171h0M135 99h0M124 152h0M36 127h0M33 137h0M175 14h0M28 170h0M142 106h0M141 134h0M37 60h0M45 223h0M14 140h0M6 177h0M101 89h0M10 209h0M26 153h0M133 48h0M203 23h0M162 192h0M110 107h0M122 141h0M113 168h0M94 107h0M58 9h0M220 132h0M157 129h0M38 147h0M74 190h0M80 102h0M2 32h0M86 141h0M205 12h0M125 93h0M31 138h0M29 100h0M48 128h0M94 28h0M4 54h0M39 205h0M157 205h0M41 154h0M193 14h0M202 91h0M91 57h0M107 193h0M42 215h0M215 198h0M190 164h0M45 6h0M118 63h0M38 156h0M127 83h0M30 191h0M93 171h0M55 118h0M94 1h0M64 49h0M99 11h0M56 148h0M199 56h0M75 143h0M142 201h0M107 154h0M36 188h0M137 48h0M34 164h0M44 177h0M30 177h0M91 32h0M79 70h0M54 167h0M1 28h0M29 113h0M54 107h0M7 60h0M189 157h0M86 166h0M79 38h0M180 181h0M142 95h0M157 3h0M99 105h0M51 99h0M100 92h0M65 129h0M137 116h0M183 48h0M16 135h0M93 171h0M163 67h0M74 127h0M142 117h0M154 103h0M51 78h0M37 144h0M94 37h0M53 41h0M152 207h0M143 223h0M54 28h0M162 100h0M89 115h0M39 73h0M44 122h0M135 192h0M52 193h0M171 32h0M196 10h0M48 219h0M133 22h0M151 123h0M102 222h0M42 221h0M83 181h0M46 101h0M166 175h0M122 67h0M116 48h0M66 159h0M131 116h0M74 53h0M166 84h0M208 6h0M150 43h0M16 74h0M159 211h0M31 103h0M215 173h0M98 44h0M84 22h0M157 176h0M86 174h0M16 149h0M115 20h0M28 70h0M57 101h0M154 219h0M185 88h0M47 133h0M65 107h0M143 134h0M138 67h0M136 83h0M33 122h0M140 60h0M39 148h0M115 132h0M62 23h0M132 9h0M213 131h0M59 166h0M177 212h0M155 156h0M199 14h0M182 130h0M216 177h0M160 165h0M199 194h0M217 136h0M200 103h0M101 90h0M53 13h0M53 191h0M135 3h0M19 169h0M113 104h0M103 134h0M99 55h0M61 109h0M1 211h0M220 62h0M73 138h0M103 133h0M51 194h0M80 52h0M1 176h0M206 177h0M202 56h0M64 39h0M48 48h0M37 29h0M79 62h0M154 123h0M62 152h0M36 14h0M83 134h0M108 97h0M131 2h0M64 120h0M113 66h0M39 131h0M193 142h0M78 101h0M30 207h0M10 14h0M90 26h0M199 207h0M67 158h0M114 152h0M61 30h0M87 117h0M171 121h0M152 73h0M45 60h0M194 41h0M88 176h0M38 99h0M71 58h0M177 202h0M76 136h0M195 165h0M51 136h0M42 106h0M155 183h0M75 164h0M97 99h0M179 171h0M194 54h0M121 62h0M74 122h0M177 108h0M154 1h0M154 91h0M132 132h0M51 4h0M136 211h0M109 191h0M66 74h0M143 13h0M175 128h0M152 53h0M95 29h0M155 57h0M19 62h0M88 6h0M77 132h0M123 105h0M36 118h0M90 44h0M121 130h0M182 29h0M121 28h0M177 21h0M44 92h0M143 126h0M25 210h0M64 19h0M64 20h0M13 95h0M206 118h0M143 13h0M177 3h0M42 128h0M93 20h0M54 192h0M70 109h0M62 171h0M218 119h0M74 167h0M147 119h0M61 79h0M89 217h0M147 157h0M118 165h0M62 6h0M140 84h0M6 130h0M50 23h0M131 135h0M196 216h0M49 175h0M7 175h0M26 71h0M142 14h0M205 184h0M149 146h0M87 62h0M54 96h0M142 66h0M57 117h0M83 17h0M6 79h0M84 222h0M71 39h0M65 90h0M65 78h0M131 190h0M198 81h0M112 12h0M47 85h0M90 89h0M59 180h0M3 207h0M3 22h0M176 60h0M104 57h0M190 64h0M41 148h0M49 152h0M206 58h0M67 116h0M198 210h0M162 154h0M112 104h0M58 101h0M99 149h0M120 64h0M46 163h0M88 161h0M199 154h0M210 190h0M174 194h0M16 9h0M69 23h0M141 81h0M64 35h0M206 6h0M73 214h0M44 92h0M53 58h0M20 163h0M132 99h0M30 97h0M167 84h0M205 81h0M70 168h0M162 201h0M176 141h0M138 213h0M219 89h0M209 44h0M145 15h0M89 6h0M180 175h0M128 138h0M110 58h0M81 179h0M58 108h0M154 136h0M31 21h0M14 128h0M58 134h0M73 163h0M136 118h0M41 215h0M143 128h0M59 156h0M172 92h0M49 103h0M56 70h0M199 46h0M67 198h0M95 115h0M24 216h0M59 19h0M68 134h0M15 144h0M191 207h0M109 70h0M145 30h0M65 68h0M129 74h0M154 118h0M203 145h0M118 203h0M47 117h0M51 150h0M113 95h0M26 5h0M193 62h0M91 86h0M16 169h0M70 74h0M115 74h0M94 194h0M215 203h0M98 14h0M107 154h0M96 8h0M69 64h0M191 134h0M104 174h0M48 98h0M9 159h0M194 141h0M182 37h0M143 137h0M177 143h0M54 38h0M93 150h0M86 100h0M57 89h0M32 208h0M211 68h0M125 103h0M133 136h0M168 106h0M101 75h0M148 76h0M136 122h0M165 211h0M168 164h0M26 178h0M87 168h0M124 116h0M114 37h0M93 205h0M198 79h0M152 37h0M98 75h0M46 193h0M141 173h0M68 93h0M135 87h0M161 152h0M166 184h0M188 202h0M60 53h0M113 70h0M155 119h0M52 60h0M169 109h0M170 140h0M96 108h0M199 90h0M36 157h0M3 73h0M4 102h0M119 45h0M154 70h0M205 169h0M214 181h0M114 135h0M178 33h0M64 74h0M61 108h0M81 143h0M128 35h0M37 71h0M114 63h0M189 93h0M73 166h0M4 17h0M49 223h0M37 169h0M34 214h0M104 202h0M43 148h0M191 37h0M203 111h0M1 152h0M25 159h0M195 156h0M139 105h0M195 68h0M174 85h0M76 134h0M173 115h0M214 134h0M111 35h0M37 56h0M65 83h0M164 83h0M85 152h0M145 93h0M130 200h0M142 100h0M104 16h0M68 220h0M173 2h0M17 95h0M104 195h0M208 101h0M73 137h0M208 78h0M37 81h0M15 128h0M210 153h0M145 140h0M154 138h0M73 72h0M69 55h0M167 203h0M19 66h0M17 92h0M17 214h0M46 181h0M141 73h0M163 89h0M105 132h0M43 137h0M197 15h0M135 82h0M97 148h0M145 192h0M60 113h0M204 113h0M218 156h0M217 42h0M141 87h0M112 105h0M59 211h0M146 46h0M139 179h0M190 85h0M201 29h0M76 151h0M60 130h0M218 180h0M33 136h0M145 213h0M36 122h0M41 156h0M141 77h0M21 8h0M126 193h0M136 110h0M148 94h0M56 118h0M166 20h0M71 137h0M217 29h0M76 208h0M211 61h0M57 69h0M200 180h0M53 133h0M161 104h0M100 145h0M201 166h0M197 25h0M203 120h0M153 142h0M87 19h0M64 157h0M72 93h0M65 71h0M105 106h0M11 31h0M204 80h0M132 133h0M207 63h0M4 2h0M27 120h0M118 176h0M12 112h0M65 26h0M7 122h0M79 110h0M12 199h0M94 59h0M141 38h0M128 87h0M148 181h0M56 91h0M32 170h0M133 157h0M25 22h0M79 177h0M218 210h0M145 26h0M169 187h0M82 154h0M33 176h0M60 134h0M52 97h0M118 87h0M140 171h0M44 5h0M40 221h0M57 135h0M131 168h0M93 92h0M1 111h0M80 100h0M42 189h0M178 52h0M217 68h0M35 11h0M38 47h0M133 37h0M124 78h0M95 216h0M38 154h0M68 69h0M6 171h0M34 205h0M147 123h0M40 88h0M139 16h0M152 128h0M49 138h0M49 121h0M15 214h0M12 184h0M53 64h0M165 16h0M18 206h0M50 83h0M219 206h0M9 157h0M105 140h0M161 70h0M115 210h0M82 131h0M68 6h0M40 141h0M166 107h0M36 55h0M128 60h0M95 78h0M85 167h0M29 35h0M79 93h0M98 97h0M41 211h0M113 152h0M93 169h0M93 137h0M165 5h0M18 66h0M36 86h0M57 68h0M147 60h0M141 152h0M202 141h0M49 126h0M87 105h0M204 185h0M111 165h0M59 100h0M116 190h0M66 77h0M157 65h0M216 22h0M123 207h0M63 61h0M64 203h0M149 38h0M103 140h0M164 136h0M161 71h0M81 58h0M28 75h0M123 111h0M117 145h0M47 54h0M146 150h0M65 119h0M106 140h0M192 179h0M11 217h0M207 154h0M146 205h0M39 107h0M141 70h0M62 152h0M89 149h0M36 17h0M153 151h0M19 164h0M187 169h0M77 31h0M0 13h0M170 179h0M180 107h0M7 130h0M101 172h0M127 120h0M123 120h0M159 98h0M197 209h0M62 106h0M51 112h0M139 162h0M89 70h0M71 91h0M11 130h0M199 47h0M14 196h0M60 82h0M76 74h0M90 203h0M131 134h0M73 99h0M114 165h0M29 138h0M91 97h0M135 134h0M60 56h0M44 102h0M0 126h0M54 85h0M118 152h0M35 176h0M15 47h0M95 143h0M84 187h0M56 203h0M202 198h0M64 54h0M168 217h0M87 187h0M215 52h0M62 67h0M46 146h0M208 89h0M66 112h0M64 117h0M90 139h0M128 142h0M7 165h0M216 69h0M97 147h0M68 109h0M180 188h0M85 148h0M29 56h0M69 79h0M78 69h0M96 118h0M47 108h0M111 156h0M38 143h0M57 84h0M139 150h0M137 33h0M169 159h0M26 27h0M80 81h0M71 115h0M77 141h0M174 145h0M108 119h0M86 205h0M105 103h0M67 38h0M220 204h0M175 106h0M126 16h0M32 171h0M123 5h0M25 133h0M106 203h0M185 190h0M135 34h0M94 156h0M24 7h0M126 93h0M195 59h0M42 175h0M138 95h0M77 61h0M80 75h0M212 81h0M61 5h0M60 89h0M151 12h0M157 88h0M48 70h0M103 16h0M4 203h0M212 80h0M88 167h0M82 183h0M105 27h0M24 185h0M135 107h0M82 151h0M47 142h0M116 116h0M5 150h0M18 200h0M111 154h0M99 29h0M92 220h0M174 183h0M79 97h0M218 211h0M11 50h0M173 57h0M105 38h0M64 75h0M210 129h0M47 132h0M143 200h0M85 148h0M118 154h0M85 209h0M40 81h0M39 194h0M75 175h0M162 70h0M99 182h0M57 123h0M96 82h0M101 5h0M153 180h0M177 118h0M87 24h0M92 84h0M90 107h0M48 157h0M112 167h0M131 114h0M55 50h0M172 21h0M208 12h0M80 207h0M23 93h0M39 148h0M53 207h0M65 74h0M217 186h0M179 69h0M55 175h0M142 85h0M43 138h0M45 101h0M46 148h0M34 179h0M3 70h0M194 161h0M41 49h0M129 77h0M110 103h0M59 133h0M129 30h0M38 33h0M48 184h0M217 126h0M143 106h0M203 137h0M131 177h0M147 159h0M27 115h0M205 47h0M56 164h0M143 125h0M112 196h0M54 145h0M14 31h0M73 131h0M53 128h0M145 141h0M45 84h0M71 181h0M27 108h0M128 99h0M165 75h0M145 145h0M63 172h0M40 86h0M17 74h0M161 157h0M207 38h0M53 66h0M107 115h0M120 172h0M22 46h0M127 73h0M151 70h0M3 52h0M164 62h0M28 137h0M112 77h0M111 159h0M196 198h0M31 128h0M208 171h0M65 145h0M143 186h0M87 65h0M53 29h0M6 127h0M33 206h0M206 160h0M134 72h0M52 103h0M162 132h0M113 139h0M84 154h0M211 147h0M60 192h0M42 88h0M192 200h0M133 190h0M73 174h0M50 178h0M156 210h0M82 202h0M5 107h0M202 189h0M119 9h0M57 78h0M82 11h0M188 204h0M145 34h0M91 167h0M47 191h0M212 43h0M92 104h0M126 47h0M90 97h0M128 157h0M12 92h0M33 45h0M172 213h0M51 145h0M11 38h0M208 125h0M107 132h0M73 87h0M76 109h0M166 107h0M87 128h0M42 24h0M70 127h0M97 123h0M99 76h0M35 55h0M147 38h0M89 61h0M85 207h0M2 173h0M188 82h0M44 149h0M26 62h0M207 69h0M124 23h0M142 63h0M210 189h0M112 9h0M46 144h0M87 106h0M125 3h0M13 206h0M87 77h0M168 186h0M162 77h0M7 72h0M68 189h0M69 96h0M150 122h0M190 124h0M97 110h0M40 111h0M96 176h0M201 144h0M36 95h0M104 110h0M170 91h0M69 85h0M130 108h0M192 159h0M117 18h0M204 105h0M216 154h0M116 119h0M73 176h0M66 141h0M116 187h0M3 150h0M60 9h0M81 217h0M123 201h0M34 101h0M151 122h0M63 100h0M47 122h0M52 208h0M73 77h0M44 199h0M46 93h0M19 149h0M50 118h0M163 8h0M82 74h0M100 98h0M90 92h0M33 174h0M73 129h0M201 197h0M17 118h0M84 35h0M66 100h0M200 181h0M18 57h0M44 167h0M66 15h0M138 127h0M155 75h0M66 99h0M63 130h0M95 72h0M80 110h0M219 87h0M59 86h0M18 168h0M48 142h0M34 47h0M160 102h0M146 78h0M97 105h0M39 169h0M71 177h0M87 182h0M208 92h0M54 112h0M168 63h0M158 112h0M153 37h0M201 32h0M54 89h0M202 40h0M129 86h0M191 173h0M53 138h0M146 147h0M62 80h0M123 164h0M150 216h0M192 102h0M182 40h0M142 87h0M69 132h0M168 138h0M75 61h0M64 169h0M14 74h0M219 132h0M21 131h0M12 168h0M126 85h0M71 200h0M7 44h0M98 64h0M165 124h0M39 123h0M42 103h0M171 114h0M150 49h0M85 96h0M170 75h0M139 146h0M25 145h0M71 84h0M32 74h0M134 76h0M1 132h0M86 11h0M35 44h0M164 44h0M56 60h0M218 111h0M217 170h0M80 141h0M45 139h0M174 201h0M128 2h0M97 35h0M106 150h0M17 91h0M92 47h0M196 97h0M135 86h0M82 30h0M36 183h0M156 12h0M38 167h0M50 165h0M167 118h0M61 192h0M40 88h0M180 86h0M44 111h0M53 83h0M2 113h0M198 109h0M23 187h0M43 101h0M168 179h0M123 126h0M162 88h0M75 152h0M67 219h0M65 112h0M41 95h0M4 93h0M138 76h0M100 22h0M114 209h0M135 79h0M89 157h0M143 144h0M140 53h0M46 90h0M49 91h0M161 23h0M175 100h0M77 134h0M118 194h0M46 204h0M39 140h0M128 141h0M186 190h0M74 54h0M217 42h0M156 12h0M172 175h0M137 100h0M119 81h0M117 3h0M106 94h0M179 191h0M70 129h0M141 67h0M204 145h0M95 166h0M75 166h0M208 184h0M23 23h0M141 68h0M29 110h0M77 92h0M40 84h0M87 153h0M116 136h0M26 44h0M3 113h0M39 12h0M164 191h0M102 72h0M61 154h0M47 185h0M111 39h0M55 195h0M217 191h0M166 42h0M0 154h0M180 70h0M41 50h0M185 220h0M60 138h0M114 24h0M189 7h0M137 199h0M108 171h0M175 105h0M138 32h0M13 141h0M80 64h0M84 124h0M184 213h0M142 193h0M108 106h0M199 206h0M135 72h0M70 17h0M26 158h0M31 159h0M50 49h0M212 173h0M34 186h0M37 139h0M188 206h0M94 62h0M92 190h0M9 63h0M15 36h0M219 64h0M118 138h0M49 128h0M23 85h0M127 69h0M11 137h0M73 7h0M183 166h0M29 220h0M59 71h0M106 50h0M93 51h0M120 204h0M158 163h0M35 123h0M24 210h0M78 116h0M57 197h0M194 82h0M33 143h0M145 177h0M90 135h0M39 199h0M42 163h0M49 165h0M191 184h0M40 114h0M124 132h0M82 22h0M71 140h0M1 41h0M91 99h0M206 63h0M218 53h0M52 207h0M137 206h0M58 44h0M86 195h0M39 175h0M41 118h0M210 210h0M60 30h0M74 8h0M150 5h0M21 219h0M220 157h0M71 195h0M105 72h0M200 79h0M39 127h0M79 97h0M49 219h0M121 179h0M66 68h0M122 5h0M31 142h0M128 183h0M101 1h0M69 37h0M205 76h0M197 171h0M111 98h0M218 155h0M5 107h0M145 23h0M57 128h0M105 63h0M181 81h0M217 126h0M161 45h0M99 152h0M165 218h0M99 118h0M85 80h0M43 160h0M153 155h0M46 54h0M168 103h0M28 21h0M42 32h0M116 120h0M35 140h0M133 66h0M215 213h0M174 181h0M102 199h0M181 104h0M26 17h0M42 74h0M200 47h0M95 179h0M154 37h0M59 17h0M10 192h0M32 28h0M41 117h0M157 107h0M118 70h0M58 164h0M180 170h0M173 11h0M40 44h0M59 121h0M23 168h0M29 181h0M214 140h0M53 113h0M53 69h0M43 128h0M114 0h0M138 162h0M116 93h0M85 41h0M210 186h0M72 97h0M48 123h0M141 220h0M192 4h0M4 55h0M95 55h0M199 120h0M23 170h0M181 215h0M91 69h0M147 133h0M145 83h0M127 25h0M213 207h0M85 189h0M60 119h0M198 173h0M52 94h0M172 62h0M106 180h0M151 207h0M116 202h0M32 65h0M57 180h0M196 136h0M147 56h0M129 133h0M79 177h0M18 135h0M25 81h0M152 142h0M65 166h0M138 71h0M40 118h0M97 160h0M122 126h0M101 214h0M64 84h0M218 42h0M128 115h0M131 86h0M167 128h0M188 95h0M115 48h0M136 43h0M196 136h0M155 121h0M162 208h0M54 185h0M147 135h0M154 72h0M27 3h0M180 53h0M74 195h0M135 33h0M126 169h0M43 91h0M192 93h0M38 150h0M132 89h0M97 54h0M173 108h0M205 10h0M203 152h0M123 218h0M106 198h0M216 207h0M133 90h0M127 130h0M38 179h0M28 136h0M133 89h0M136 144h0M116 147h0M134 156h0M37 109h0M75 37h0M208 31h0M58 40h0M201 78h0M7 107h0M192 25h0M1 216h0M171 220h0M69 99h0M68 95h0M107 0h0M62 141h0M117 195h0M81 55h0M120 30h0M86 124h0M23 59h0M83 109h0M133 14h0M71 116h0M104 72h0M110 144h0M193 159h0M88 84h0M150 119h0M119 216h0M76 170h0M16 187h0M159 136h0M117 44h0M98 78h0M119 145h0M149 53h0M191 2h0M42 148h0M153 210h0M153 108h0M105 90h0M25 95h0M47 21h0M102 115h0M103 63h0M133 152h0M50 177h0M128 161h0M147 216h0M81 142h0M94 202h0M55 71h0M114 143h0M24 81h0M154 110h0M51 160h0M1 147h0M96 197h0M71 54h0M192 88h0M150 93h0M92 39h0M157 205h0M107 71h0M174 107h0M103 106h0M71 25h0M75 28h0M44 69h0M142 106h0M108 69h0M114 151h0M144 100h0M82 218h0M35 218h0M138 116h0M13 97h0M18 184h0M36 10h0M54 77h0M154 210h0M52 109h0M171 96h0M113 170h0M37 28h0M94 169h0M17 170h0M129 32h0M214 77h0M54 184h0M23 166h0M54 116h0M43 45h0M145 133h0M70 106h0M66 65h0M43 28h0M117 173h0M86 13h0M90 93h0M36 75h0M69 1h0M141 172h0M148 76h0M64 21h0M159 33h0M188 25h0M63 137h0M135 102h0M44 25h0M155 177h0M184 80h0M160 8h0M60 75h0M154 199h0M24 32h0M69 152h0M69 102h0M91 176h0M151 179h0M96 122h0M111 50h0M114 123h0M179 205h0M195 119h0M40 75h0M38 42h0M70 130h0M54 151h0M79 174h0M59 199h0M100 121h0M25 192h0M46 98h0M50 103h0M167 197h0M69 114h0M94 155h0M0 130h0M176 208h0M130 118h0M112 194h0M172 38h0M61 166h0M13 103h0M207 97h0M184 59h0M18 145h0M190 112h0M90 68h0M165 119h0M13 209h0M62 101h0M40 65h0M133 112h0M7 105h0M175 57h0M36 154h0M25 98h0M12 56h0M138 127h0M85 62h0M43 66h0M106 156h0M116 137h0M98 62h0M33 56h0M110 94h0M79 219h0M102 29h0M41 153h0M13 200h0M3 185h0M48 129h0M4 135h0M203 80h0M149 121h0M124 146h0M208 6h0M70 203h0M133 43h0M22 65h0M62 117h0M95 156h0M65 206h0M68 207h0M137 187h0M133 87h0M169 39h0M45 90h0M200 214h0M136 171h0M220 38h0M169 79h0M29 130h0M62 155h0M106 41h0M127 111h0M198 63h0M168 121h0M1 19h0M94 115h0M70 11h0M53 60h0M50 120h0M112 92h0M79 12h0M47 24h0M118 189h0M39 221h0M16 193h0M49 28h0M188 209h0M111 0h0M103 7h0M116 136h0M104 133h0M56 25h0M6 91h0M92 124h0M172 92h0M5 184h0M170 170h0M53 43h0M82 219h0M51 65h0M81 143h0M95 88h0M64 187h0M111 214h0M70 168h0M116 181h0M89 132h0M86 63h0M172 222h0M133 37h0M63 98h0M76 128h0M53 201h0M13 222h0M159 193h0M168 172h0M152 85h0M159 81h0M66 166h0M116 76h0M34 38h0M61 48h0M47 198h0M202 140h0M40 148h0M61 35h0M48 15h0M66 56h0M65 135h0M57 137h0M85 181h0M47 103h0M51 104h0M89 203h0M15 102h0M47 95h0M32 159h0M139 41h0M97 52h0" stroke="#d9a76e" stroke-width="2.0" stroke-linecap="round" stroke-opacity="0.55"/><path transform="translate(37.5 661) scale(.5)" d="M82 148h0M75 138h0M73 170h0M44 148h0M57 174h0M37 63h0M47 43h0M44 15h0M67 141h0M39 140h0M95 161h0M53 93h0M41 90h0M75 132h0M53 105h0M50 142h0M92 190h0M59 96h0M43 145h0M105 124h0M91 147h0M31 126h0M41 108h0M36 157h0M63 75h0M25 166h0M27 153h0M60 41h0M53 181h0M75 100h0M83 156h0M77 167h0M84 160h0M44 105h0M65 74h0M39 139h0M12 149h0M43 80h0M21 154h0M63 177h0M81 140h0M66 156h0M91 171h0M115 113h0M55 78h0M38 142h0M32 155h0M52 117h0M14 127h0M43 170h0M83 142h0M35 67h0M50 100h0M72 114h0M50 104h0M44 166h0M67 110h0M43 134h0M89 86h0M99 172h0M69 152h0M46 148h0M58 156h0M45 75h0M46 159h0M60 61h0M88 155h0M61 85h0M54 80h0M47 150h0M45 65h0M58 134h0M114 158h0M43 96h0M51 141h0M58 167h0M49 184h0M38 153h0M85 176h0M59 109h0M57 144h0M72 168h0M84 158h0M54 120h0M70 121h0M52 44h0M90 151h0M44 98h0M34 133h0M37 172h0M85 139h0M67 138h0M38 122h0M87 155h0M82 134h0M42 68h0M49 81h0M66 133h0M55 138h0M89 161h0M107 128h0M93 171h0M85 197h0M57 172h0M58 62h0M49 172h0M61 105h0M56 93h0M63 167h0M74 120h0M50 187h0M34 136h0M54 94h0M75 127h0M33 84h0M43 63h0M50 92h0M60 68h0M66 119h0M87 168h0M39 87h0M44 76h0M57 53h0M80 171h0M82 175h0M40 157h0M74 139h0M47 87h0M31 145h0M53 103h0M30 92h0M52 147h0M51 134h0M51 169h0M39 58h0M32 81h0M55 153h0M21 151h0M85 161h0M106 166h0M76 129h0M81 151h0M41 87h0M46 77h0M62 42h0M45 69h0M44 145h0M45 127h0M39 79h0M64 159h0M43 88h0M54 140h0M60 146h0M79 165h0M56 141h0M42 21h0M39 115h0M79 140h0M51 99h0M64 45h0M70 163h0M88 134h0M69 117h0M84 145h0M58 81h0M42 72h0M54 98h0M45 70h0M27 68h0M82 155h0M67 137h0M85 161h0M52 124h0M59 101h0M51 123h0M75 157h0M57 150h0M47 69h0M70 152h0M49 120h0M107 150h0M49 50h0M70 131h0M48 133h0M44 60h0M47 139h0M48 123h0M49 150h0M64 144h0M29 136h0M53 118h0M35 99h0M52 163h0M47 128h0M102 176h0M92 154h0M48 79h0M70 127h0M19 100h0M49 168h0M37 114h0M86 158h0M52 133h0M42 78h0M40 70h0M96 142h0M65 158h0M65 157h0M49 157h0M41 71h0M57 116h0M45 124h0M85 153h0M50 166h0M95 126h0M82 151h0M100 155h0M81 166h0M75 131h0M29 109h0M41 100h0M59 49h0M62 150h0M72 164h0M37 110h0M82 160h0M52 133h0M32 25h0M65 62h0M81 114h0M101 157h0M88 150h0M122 144h0M66 128h0M49 138h0M67 138h0M72 147h0M74 117h0M62 172h0M56 133h0M51 109h0M64 150h0M43 82h0M49 72h0M60 157h0M98 168h0M44 166h0M41 84h0M77 172h0M40 90h0M62 150h0M41 142h0M102 105h0M40 58h0M49 105h0M76 104h0M55 65h0M73 137h0M70 116h0M77 173h0M43 203h0M111 160h0M53 69h0M74 177h0M75 132h0M54 128h0M25 114h0M68 136h0M38 50h0M61 117h0M35 173h0M60 140h0M79 150h0M55 132h0M37 106h0M47 69h0M76 149h0M100 177h0M52 60h0M59 58h0M43 77h0M49 119h0M90 158h0M45 79h0M77 161h0M52 86h0M56 175h0M47 97h0M54 144h0M58 166h0M77 77h0M36 92h0M63 167h0M56 165h0M103 109h0M63 153h0M61 75h0M109 119h0M55 76h0M55 173h0M73 150h0M36 104h0M57 100h0M71 127h0M37 62h0M83 128h0M43 87h0M56 62h0M44 72h0M43 105h0M43 52h0M35 118h0M48 86h0M37 122h0M41 33h0M25 172h0M55 153h0M81 167h0M24 80h0M28 176h0M50 148h0M40 140h0M82 146h0M53 129h0M52 98h0M58 116h0M43 98h0M38 67h0M36 56h0M54 135h0M48 177h0M42 94h0M40 188h0M102 147h0M44 128h0M36 68h0M52 150h0M48 97h0M39 138h0M41 105h0M68 169h0M44 48h0M50 119h0M108 135h0M52 77h0M83 128h0M48 85h0M56 119h0M35 84h0M66 129h0M48 169h0M81 143h0M57 127h0M28 130h0M36 61h0M54 53h0M58 174h0M42 51h0M50 151h0M77 128h0M39 132h0M54 69h0M80 183h0M62 166h0M62 147h0M40 115h0M49 186h0M64 147h0M98 117h0M108 130h0M87 137h0M43 76h0M99 128h0M35 72h0M56 54h0M55 57h0M60 107h0M73 164h0M54 175h0M59 111h0M36 82h0M61 127h0M53 169h0M88 133h0M59 168h0M28 138h0M41 140h0M55 127h0M57 152h0M66 94h0M80 165h0M36 92h0M64 148h0M52 99h0M61 165h0M68 146h0M86 135h0M68 106h0M39 83h0M30 52h0M64 165h0M44 117h0M43 140h0M40 105h0M50 59h0M89 130h0M65 160h0M44 146h0M67 127h0M94 117h0M62 169h0M39 92h0M43 98h0M32 94h0M60 184h0M46 160h0M96 123h0M15 143h0M69 140h0M71 147h0M53 56h0M62 132h0M45 62h0M68 138h0M52 142h0M38 80h0M36 170h0M40 132h0M51 127h0M81 147h0M84 175h0M38 161h0M60 129h0M64 140h0M57 152h0M42 99h0M54 94h0M59 98h0M55 96h0M78 161h0M39 84h0M55 163h0M48 134h0M98 154h0M61 53h0M80 178h0M55 122h0M47 98h0M96 141h0M60 135h0M50 167h0M85 116h0M65 116h0M48 79h0M68 156h0M47 130h0M78 139h0M50 134h0M67 106h0M45 32h0M62 142h0M56 104h0M49 22h0M51 86h0M43 159h0M54 155h0M54 115h0M51 162h0M73 173h0M56 181h0M50 108h0M55 109h0M48 184h0M86 197h0M11 167h0M54 70h0M103 144h0M66 162h0M32 174h0M67 173h0M67 173h0M61 176h0M61 117h0M83 146h0M53 155h0M61 138h0M88 109h0M49 144h0M43 122h0M91 130h0M74 166h0M51 161h0M45 115h0M43 136h0M67 141h0M83 111h0M75 109h0M100 165h0M85 157h0M67 129h0" stroke="#c98a4c" stroke-width="2.4" stroke-linecap="round" stroke-opacity="0.8"/><path transform="translate(37.5 661) scale(.5)" d="M163 111h0M20 4h0M136 18h0M84 175h0M178 175h0M161 50h0M3 37h0M137 98h0M172 180h0M185 3h0M163 176h0M194 195h0M31 55h0M137 22h0M124 16h0M174 2h0M117 111h0M115 217h0M147 149h0M1 200h0M105 145h0M187 182h0M209 1h0M168 3h0M114 58h0M28 102h0M218 137h0M133 137h0M34 71h0M94 46h0M148 191h0M23 53h0M157 204h0M10 142h0M218 133h0M21 156h0M177 214h0M52 202h0M146 78h0M146 155h0M17 103h0M166 91h0M165 59h0M39 148h0M17 87h0M88 153h0M20 43h0M1 51h0M173 191h0M38 43h0M107 140h0M4 68h0M50 167h0M86 40h0M49 23h0M205 76h0M161 209h0M75 146h0M131 82h0M22 29h0M29 219h0M43 27h0M18 18h0M119 165h0M217 62h0M108 105h0M10 151h0M110 222h0M117 36h0M138 156h0M210 213h0M101 193h0M15 100h0M73 61h0M100 69h0M200 32h0M41 27h0M60 130h0M128 23h0M5 74h0M22 170h0M135 100h0M169 217h0M180 153h0M152 1h0M104 125h0M111 115h0M125 195h0M128 138h0M109 148h0M155 185h0M190 172h0M170 152h0M97 60h0M82 177h0M158 203h0M165 52h0M4 54h0M196 55h0M191 88h0M131 92h0M155 87h0M50 193h0M25 176h0M5 23h0M212 97h0M150 218h0M121 15h0M58 65h0M54 117h0M187 195h0M52 160h0M106 134h0M184 177h0M167 160h0M171 66h0M153 86h0M170 37h0M162 177h0M65 40h0M199 160h0M54 84h0M185 160h0M42 68h0M124 146h0M116 71h0M127 18h0M162 98h0M181 113h0M159 101h0M7 23h0M204 97h0M20 4h0M219 121h0M52 29h0M185 159h0M175 85h0M33 141h0M80 122h0M170 17h0M145 72h0M208 199h0M92 120h0M110 67h0M52 152h0M163 190h0M74 222h0M114 118h0M110 177h0M121 85h0M55 0h0M194 201h0M22 39h0M217 53h0M89 196h0M98 106h0M178 152h0M71 1h0M109 143h0M207 88h0M36 68h0M137 97h0M17 88h0M203 131h0M102 84h0M214 53h0M98 166h0M198 204h0M173 41h0M196 137h0M189 164h0M53 164h0M112 223h0M100 87h0M5 44h0M21 93h0M27 167h0M202 163h0M124 160h0M88 186h0M157 176h0M29 139h0M177 19h0M98 187h0M88 196h0M127 126h0M25 184h0M210 51h0M180 130h0M140 40h0M106 45h0M147 20h0M170 144h0M140 86h0M126 114h0M107 101h0M205 0h0M55 219h0M148 159h0M57 24h0M107 44h0M69 0h0M66 35h0M195 135h0M100 216h0M160 8h0M46 28h0M26 137h0M105 65h0M47 189h0M78 159h0M57 135h0M124 92h0M142 94h0M115 63h0M28 209h0M80 95h0M110 195h0M2 45h0M134 206h0M66 24h0M195 38h0M102 139h0M136 181h0M101 182h0M85 134h0M18 211h0M3 155h0M97 7h0M47 42h0M180 21h0M117 162h0M32 57h0M38 111h0M11 197h0M149 213h0M73 108h0M48 82h0M11 218h0M162 145h0M85 122h0M57 222h0M147 209h0M140 212h0M89 137h0M16 145h0M17 65h0M172 152h0M144 120h0M89 137h0M215 157h0M119 25h0M214 27h0M205 179h0M29 64h0M31 149h0M49 65h0M115 132h0M218 134h0M29 181h0M18 214h0M153 97h0M190 211h0M139 48h0M206 18h0M144 132h0M29 66h0M139 90h0M71 86h0M169 133h0M79 79h0M1 120h0M70 22h0M57 159h0M182 145h0M159 148h0M11 34h0M201 68h0M22 79h0M77 31h0M119 153h0M156 33h0M205 217h0M124 197h0M127 132h0M164 24h0M51 187h0M2 32h0M7 89h0M55 52h0M209 21h0M97 59h0M208 169h0M14 150h0M103 170h0M195 71h0M175 175h0M169 206h0M99 110h0M62 37h0M180 53h0M62 10h0M33 23h0M80 23h0M208 85h0M215 157h0M127 39h0M48 147h0M173 117h0M107 92h0M193 84h0M4 196h0M70 30h0M25 7h0M97 105h0M102 116h0M118 159h0M200 216h0M93 147h0M131 17h0M124 45h0M50 171h0M27 200h0M165 121h0M42 55h0M196 8h0M105 197h0M41 49h0M200 126h0M110 42h0M110 199h0M146 25h0M136 142h0M25 194h0M221 35h0M186 41h0M21 167h0M94 58h0M30 24h0M53 88h0M80 112h0M13 162h0M99 45h0M142 148h0M158 33h0M155 45h0M1 97h0M78 169h0M53 137h0M212 18h0M173 30h0M62 130h0M40 180h0M91 84h0M105 186h0M72 55h0M100 28h0M23 104h0M74 38h0M135 0h0M14 41h0M27 202h0M74 142h0M55 175h0M112 94h0M193 49h0M11 33h0M178 98h0M59 83h0M173 198h0M219 138h0M196 52h0M143 187h0M99 59h0M25 155h0M159 220h0M55 13h0M14 44h0M170 127h0M205 16h0M184 209h0M70 153h0M7 20h0M115 171h0M34 96h0M119 149h0M185 23h0M109 50h0M66 124h0M24 80h0M117 192h0M35 176h0M213 14h0M79 4h0M32 120h0M98 178h0M95 8h0M66 190h0M69 3h0M59 8h0M195 172h0M78 151h0M26 216h0M25 54h0M199 19h0M165 122h0M9 64h0M89 205h0M4 90h0M156 30h0M16 135h0M31 197h0M10 101h0M213 115h0M196 7h0M130 107h0M166 193h0M103 200h0M149 157h0M1 213h0M122 90h0M47 54h0M190 57h0M99 130h0M10 77h0M204 211h0M82 181h0M110 70h0M119 187h0M80 150h0M113 148h0M151 130h0M115 2h0M146 104h0M207 214h0M27 9h0M19 152h0M107 79h0M177 60h0M40 197h0M180 155h0M217 154h0M180 127h0M20 94h0M182 178h0M112 88h0M151 40h0M54 146h0M169 110h0M10 16h0M108 187h0M69 54h0M72 220h0M14 3h0M1 63h0M97 119h0M143 103h0M82 11h0M196 132h0M33 123h0M2 125h0M8 55h0M192 133h0M199 96h0M78 3h0M163 143h0M216 29h0M76 158h0M100 154h0M19 204h0M12 176h0M41 87h0M6 207h0M90 62h0M3 19h0M61 25h0M124 10h0M38 111h0M159 48h0M76 136h0M84 140h0M188 19h0M50 217h0M89 215h0M214 221h0M187 223h0M20 161h0M214 28h0M106 101h0M139 170h0M20 68h0M214 146h0M92 151h0M187 14h0M179 21h0M65 198h0M79 131h0M91 135h0M140 44h0M36 81h0M5 213h0M120 108h0M154 66h0M6 32h0M111 131h0M47 173h0M133 110h0M160 89h0M52 178h0M185 138h0M87 17h0M176 183h0M45 166h0M133 125h0M63 81h0M95 164h0M52 92h0M170 6h0M9 194h0M159 76h0M145 47h0M48 165h0M189 48h0M187 176h0M108 27h0M110 189h0M76 167h0M82 213h0M85 119h0M62 42h0M214 61h0M40 152h0M167 67h0M165 219h0M74 20h0M201 18h0M12 220h0M130 85h0M200 163h0M68 110h0M115 31h0M9 5h0M184 40h0M152 145h0M103 210h0M102 20h0M149 1h0M119 57h0M183 192h0M179 188h0M50 76h0M185 168h0M112 183h0M159 90h0M79 101h0M195 61h0M19 89h0M45 47h0M118 26h0M201 76h0M69 77h0M166 199h0M118 15h0M104 145h0M34 37h0M168 178h0M201 220h0M109 73h0M175 106h0M48 160h0M87 107h0M158 81h0M142 109h0M111 215h0M92 57h0M95 78h0M202 105h0M182 126h0M134 155h0M39 135h0M142 15h0M82 77h0M170 191h0M40 219h0M152 85h0M198 141h0M107 126h0M118 34h0M9 131h0M186 208h0M192 27h0M168 215h0M122 156h0M98 112h0M33 131h0M63 201h0M197 154h0M30 10h0M210 21h0M149 117h0M40 50h0M48 167h0M33 155h0M43 212h0M27 26h0M200 100h0M204 157h0M41 145h0M124 47h0M135 203h0M147 126h0M8 191h0M168 208h0M42 84h0M83 200h0M14 148h0M160 102h0M57 6h0M139 143h0M189 38h0M34 193h0M88 145h0M5 142h0M17 57h0M13 41h0M176 217h0M43 24h0M201 30h0M37 193h0M197 167h0M61 11h0M173 66h0M110 76h0M30 184h0M141 51h0M12 67h0M6 69h0M14 33h0M144 32h0M127 67h0M127 215h0M140 172h0M71 153h0M202 150h0M202 166h0M16 91h0M143 185h0M214 220h0M72 141h0M114 204h0M217 220h0M89 35h0M35 170h0M147 205h0M4 19h0M41 111h0M102 20h0M10 31h0M133 160h0M60 104h0M37 86h0M123 196h0M66 45h0M147 184h0M56 13h0M146 87h0M27 80h0M107 83h0M99 185h0M28 3h0M24 126h0M108 195h0M164 74h0M166 135h0M183 150h0M94 31h0M207 150h0M161 11h0M204 72h0M209 178h0M135 184h0M45 34h0M50 181h0M184 98h0M49 128h0M147 37h0M180 82h0M42 47h0M169 94h0M59 195h0M141 77h0M134 76h0M13 109h0M83 190h0M34 2h0M75 147h0M134 146h0M156 204h0M132 220h0M60 86h0M107 147h0M117 54h0M47 136h0M113 186h0M119 193h0M49 64h0M99 204h0M94 63h0M195 101h0M63 209h0M51 163h0M1 204h0M161 12h0M70 18h0M19 213h0M70 99h0M38 43h0M13 152h0M97 177h0M90 53h0M55 188h0M170 140h0M22 198h0M144 161h0M165 120h0M92 51h0M123 147h0M164 210h0M91 121h0M39 72h0M47 73h0M115 30h0M116 198h0M17 8h0M198 9h0M65 34h0M155 173h0M87 163h0M151 4h0M98 33h0M50 95h0M215 44h0M53 136h0M93 142h0M65 99h0M132 38h0M207 99h0M182 174h0M149 128h0M220 200h0M3 29h0M18 155h0M104 70h0M140 212h0M100 203h0M166 24h0M184 52h0M198 124h0M171 136h0M107 137h0M46 141h0M121 87h0M211 195h0M27 143h0M81 194h0M176 45h0M0 134h0M125 120h0M175 170h0M172 14h0M23 117h0M164 130h0M101 36h0M18 139h0M177 111h0M218 163h0M56 220h0M31 140h0M8 176h0M184 174h0M71 154h0M115 188h0M155 32h0M165 166h0M153 139h0M74 184h0M213 8h0M133 48h0M184 222h0M80 164h0M127 11h0M206 136h0M54 222h0M126 171h0M38 24h0M146 104h0M142 190h0M132 166h0M165 3h0M156 15h0M129 133h0M1 77h0M12 208h0M167 201h0M101 24h0M162 75h0M54 107h0M51 216h0M101 76h0M63 188h0M122 5h0M113 29h0M162 98h0M217 128h0M178 174h0M33 139h0M10 173h0M25 161h0M69 202h0M91 43h0M185 181h0M14 55h0M201 59h0M139 206h0M196 2h0M41 133h0M132 108h0M127 70h0M42 26h0M90 201h0M97 35h0M134 148h0M53 145h0M195 123h0M61 189h0M141 126h0M111 165h0M205 216h0M79 182h0M152 64h0M175 78h0M47 123h0M25 17h0M91 51h0M109 19h0M51 130h0M67 198h0M73 113h0M116 15h0M148 181h0M109 114h0M86 220h0M171 195h0M92 209h0M90 116h0M114 139h0M172 211h0M82 34h0M131 60h0M210 58h0M16 166h0M30 7h0M175 194h0M25 54h0M18 74h0M14 19h0M190 86h0M59 66h0M32 182h0M116 124h0M144 35h0M173 222h0M214 84h0M135 18h0M220 94h0M4 134h0M165 61h0M217 42h0M17 65h0M160 162h0M58 166h0M131 89h0M78 208h0M26 28h0M11 200h0M122 13h0M103 202h0M18 212h0M131 58h0M162 134h0M191 30h0M40 65h0M132 58h0M195 39h0M182 64h0M77 12h0M189 221h0M19 206h0M59 198h0M149 128h0M82 101h0M213 75h0M189 81h0M181 123h0M116 58h0M11 166h0M57 217h0M171 161h0M137 191h0M22 72h0M172 73h0M62 180h0M151 172h0M80 218h0M36 82h0M76 98h0M137 98h0M0 47h0M21 213h0M190 206h0M37 181h0M31 29h0M105 51h0M203 109h0M103 84h0M193 129h0M23 212h0M145 222h0M178 109h0M106 107h0M126 200h0M186 217h0M1 121h0M180 82h0M169 214h0M181 147h0M202 168h0M182 175h0M198 148h0M103 151h0M191 114h0M25 114h0M94 219h0M66 67h0M13 78h0M182 48h0M199 212h0M91 16h0M18 71h0M91 198h0M83 158h0M19 24h0M207 221h0M140 103h0M174 113h0M164 13h0M88 126h0M69 178h0M217 213h0M183 72h0M62 80h0M169 65h0M164 106h0M175 112h0M138 101h0M121 42h0M89 75h0M116 212h0M69 13h0M47 9h0M8 196h0M145 21h0M19 110h0M3 142h0M128 7h0M8 189h0M134 52h0M164 28h0M1 158h0M61 180h0M186 119h0M28 134h0M126 116h0M64 56h0M143 25h0M44 157h0M178 87h0M121 180h0M8 35h0M207 66h0M178 72h0M40 109h0M79 51h0M87 69h0M7 92h0M54 59h0M154 216h0M28 214h0M163 194h0M141 120h0M32 136h0M114 34h0M30 181h0M144 36h0M18 18h0M47 207h0M66 72h0M180 84h0M54 46h0M142 112h0M137 205h0M90 188h0M7 117h0M2 148h0M124 193h0M188 144h0M91 88h0M2 33h0M49 103h0M28 19h0M217 160h0M109 213h0M93 90h0M166 96h0M63 214h0M24 30h0M72 58h0M136 184h0M129 210h0M22 192h0M207 216h0M53 188h0M139 186h0M177 36h0M75 27h0M87 75h0M172 23h0M152 152h0M147 98h0M173 200h0M10 7h0M216 99h0M217 201h0M80 112h0M128 137h0M213 104h0M92 205h0M39 129h0M189 7h0M208 19h0" stroke="#5555c6" stroke-width="2.6" stroke-linecap="round" stroke-opacity="0.85"/><path transform="translate(37.5 661) scale(.5)" d="M10 108h0M51 116h0M61 98h0M60 145h0M57 158h0M9 107h0M66 144h0M48 135h0M63 138h0M53 69h0M52 115h0M55 101h0M45 104h0M71 132h0M51 123h0M68 137h0M39 124h0M57 133h0M64 165h0M55 142h0M65 160h0M60 136h0M10 111h0M60 134h0M58 132h0M66 126h0M3 95h0M7 122h0M48 120h0M61 122h0M45 155h0M65 136h0M56 143h0M7 103h0M11 114h0M46 149h0M53 110h0M10 128h0M55 136h0M1 115h0M12 109h0M7 125h0M17 108h0M47 140h0M54 108h0M60 126h0M5 115h0M51 111h0M58 159h0M50 150h0M48 105h0M45 171h0M58 173h0M62 151h0M51 129h0M48 141h0M50 116h0M50 82h0M44 120h0M57 105h0M59 149h0M41 151h0M9 111h0M8 110h0M51 151h0M12 104h0M5 118h0M49 153h0M19 103h0M44 111h0M41 164h0M52 102h0M58 165h0M42 144h0M1 107h0M5 129h0M9 114h0M6 95h0M55 133h0M46 121h0M51 122h0M36 104h0M44 173h0M49 136h0M67 144h0M62 117h0M60 153h0M40 107h0M39 121h0M56 139h0M46 165h0M11 115h0M47 116h0M7 115h0M41 147h0M53 143h0M60 125h0M59 136h0M54 141h0M39 150h0M44 124h0M58 128h0M63 110h0M40 115h0M59 166h0M50 148h0M55 112h0M55 120h0M7 100h0M48 155h0M49 122h0M45 153h0M9 100h0M13 105h0M43 102h0M47 124h0M46 105h0M47 166h0M62 143h0M47 142h0" stroke="#3a3aa8" stroke-width="3.0" stroke-linecap="round" stroke-opacity="0.9"/><polygon points="37,669 42,673 48,680 54,692 57,705 58,718 56,730 50,740 42,745 37,747" fill="#fff" filter="url(#bl2)"/><ellipse cx="95.5" cy="709.5" rx="7.5" ry="7.8" fill="#fff" filter="url(#bl2)"/><path transform="translate(38 708) scale(.5)" d="M11 23h0M7 8h0M1 11h0M6 1h0M1 28h0M9 7h0M6 27h0M13 24h0M5 14h0M9 2h0M8 8h0M12 2h0M10 24h0M3 25h0M12 1h0M10 0h0M7 12h0M3 9h0M11 9h0M2 20h0M6 22h0M3 9h0M11 14h0M7 7h0M0 26h0" stroke="#3a3aa8" stroke-width="2.8" stroke-linecap="round" stroke-opacity="0.9"/></g><clipPath id="cp2"><rect x="169" y="661" width="110.6" height="110.8"/></clipPath><g clip-path="url(#cp2)"><rect x="169" y="661" width="110.6" height="110.8" fill="#f5ede3"/><path transform="translate(169 661) scale(.5)" d="M84 79h0M86 75h0M89 206h0M81 219h0M32 34h0M168 74h0M17 132h0M52 30h0M158 205h0M90 134h0M67 166h0M77 125h0M192 150h0M58 4h0M141 95h0M138 13h0M30 10h0M71 173h0M101 69h0M185 106h0M151 142h0M73 10h0M169 118h0M82 85h0M53 130h0M111 65h0M7 14h0M43 39h0M187 83h0M5 65h0M66 145h0M147 7h0M29 102h0M58 128h0M178 171h0M154 90h0M20 50h0M135 47h0M142 170h0M41 134h0M135 86h0M58 139h0M64 125h0M157 169h0M140 195h0M160 146h0M131 206h0M211 164h0M100 138h0M66 126h0M93 108h0M52 64h0M161 148h0M133 55h0M198 161h0M102 69h0M142 4h0M183 143h0M97 211h0M114 129h0M39 171h0M75 219h0M23 8h0M91 15h0M161 128h0M191 26h0M107 160h0M133 50h0M74 130h0M147 179h0M25 98h0M129 175h0M174 94h0M23 114h0M186 21h0M40 152h0M179 192h0M129 124h0M217 8h0M6 3h0M6 193h0M56 56h0M97 27h0M81 72h0M63 35h0M205 203h0M213 155h0M174 69h0M90 84h0M59 72h0M202 142h0M108 86h0M68 153h0M55 204h0M214 110h0M200 77h0M178 212h0M198 64h0M203 109h0M33 175h0M63 39h0M81 179h0M51 28h0M12 36h0M118 82h0M53 13h0M58 121h0M84 152h0M156 35h0M18 44h0M14 77h0M204 38h0M196 219h0M111 158h0M83 117h0M154 76h0M166 143h0M152 151h0M15 162h0M4 158h0M119 179h0M75 198h0M162 1h0M179 217h0M38 33h0M126 211h0M77 35h0M154 150h0M207 62h0M3 8h0M119 36h0M155 81h0M191 151h0M5 191h0M128 125h0M61 98h0M96 103h0M195 134h0M183 102h0M38 6h0M105 162h0M8 9h0M91 70h0M85 143h0M34 81h0M218 125h0M190 22h0M14 220h0M167 127h0M152 28h0M106 62h0M124 206h0M149 103h0M75 92h0M113 8h0M100 180h0M89 204h0M132 191h0M93 166h0M39 65h0M156 150h0M134 38h0M97 180h0M93 108h0M188 114h0M74 47h0M4 138h0M79 79h0M169 137h0M31 198h0M89 190h0M201 144h0M143 40h0M100 105h0M124 170h0M195 111h0M18 48h0M214 167h0M117 60h0M5 106h0M168 60h0M166 112h0M153 176h0M168 108h0M72 122h0M140 118h0M3 217h0M6 155h0M218 189h0M175 114h0M105 99h0M217 181h0M207 145h0M186 90h0M66 121h0M132 203h0M95 114h0M174 64h0M96 137h0M34 163h0M214 144h0M6 98h0M122 143h0M171 133h0M22 30h0M105 98h0M26 110h0M41 137h0M71 209h0M32 61h0M163 127h0M127 178h0M42 79h0M132 105h0M5 90h0M126 117h0M96 59h0M88 36h0M63 95h0M27 210h0M141 172h0M72 169h0M71 56h0M198 95h0M136 60h0M104 84h0M25 61h0M179 56h0M210 189h0M154 8h0M2 179h0M213 73h0M21 137h0M110 179h0M147 4h0M215 122h0M139 54h0M117 46h0M97 194h0M133 75h0M47 110h0M139 137h0M17 179h0M135 210h0M86 13h0M173 117h0M173 30h0M154 199h0M210 81h0M158 62h0M20 23h0M125 140h0M63 89h0M214 97h0M1 154h0M177 45h0M154 156h0M97 55h0M60 25h0M15 49h0M76 177h0M29 162h0M147 78h0M129 29h0M134 69h0M184 68h0M76 198h0M68 167h0M189 114h0M55 79h0M6 199h0M136 11h0M8 55h0M67 119h0M202 141h0M138 124h0M183 200h0M27 145h0M156 139h0M116 31h0M149 64h0M213 171h0M100 135h0M118 95h0M88 98h0M109 8h0M36 187h0M108 28h0M70 198h0M36 151h0M132 11h0M103 138h0M96 23h0M90 60h0M85 115h0M142 34h0M171 63h0M114 79h0M30 52h0M121 100h0M145 14h0M202 33h0M209 211h0M171 195h0M117 75h0M70 212h0M74 196h0M203 116h0M61 167h0M6 86h0M41 59h0M202 193h0M62 192h0M180 184h0M196 221h0M2 205h0M81 8h0M67 76h0M82 189h0M182 59h0M8 74h0M195 157h0M129 153h0M119 136h0M38 195h0M54 52h0M106 50h0M34 141h0M53 150h0M150 84h0M117 61h0M164 49h0M14 13h0M163 98h0M102 127h0M38 180h0M119 203h0M143 43h0M51 38h0M12 152h0M55 134h0M191 138h0M46 67h0M135 90h0M122 134h0M93 30h0M165 132h0M203 114h0M96 176h0M48 117h0M212 20h0M205 56h0M124 55h0M131 219h0M23 180h0M100 155h0M102 211h0M21 196h0M96 111h0M196 58h0M54 74h0M136 153h0M186 124h0M128 62h0M150 123h0M35 20h0M102 148h0M123 86h0M85 27h0M135 112h0M94 67h0M117 105h0M176 100h0M217 127h0M40 109h0M62 105h0M104 99h0M103 103h0M107 146h0M88 156h0M49 150h0M50 138h0M186 165h0M100 158h0M199 62h0M215 85h0M122 110h0M196 78h0M77 174h0M216 22h0M123 149h0M85 92h0M64 72h0M76 174h0M89 61h0M185 178h0M102 132h0M219 66h0M169 113h0M183 21h0M85 11h0M37 78h0M60 63h0M136 190h0M145 109h0M83 68h0M76 163h0M119 9h0M187 133h0M186 177h0M183 10h0M77 134h0M173 37h0M92 54h0M134 108h0M182 152h0M27 38h0M34 208h0M208 48h0M71 83h0M60 108h0M86 140h0M198 50h0M143 145h0M82 30h0M206 200h0M152 76h0M204 124h0M167 36h0M196 165h0M148 114h0M140 43h0M173 68h0M52 57h0M143 72h0M105 155h0M73 25h0M12 211h0M113 192h0M118 66h0M182 28h0M36 215h0M29 110h0M149 66h0M177 92h0M80 34h0M130 110h0M126 199h0M151 123h0M122 25h0M219 56h0M60 72h0M200 216h0M175 156h0M159 195h0M148 20h0M106 106h0M104 175h0M67 41h0M58 53h0M161 69h0M204 157h0M108 148h0M188 66h0M171 89h0M125 215h0M82 185h0M40 80h0M131 221h0M23 176h0M171 116h0M75 21h0M174 56h0M147 145h0M92 12h0M38 39h0M48 35h0M58 132h0M128 38h0M83 102h0M69 197h0M216 100h0M96 141h0M93 134h0M58 72h0M155 163h0M97 69h0M149 120h0M184 45h0M70 169h0M115 138h0M65 64h0M16 92h0M145 154h0M36 27h0M51 179h0M41 7h0M179 142h0M50 83h0M82 136h0M123 41h0M70 136h0M25 173h0M99 123h0M124 200h0M38 116h0M98 96h0M219 146h0M30 218h0M73 154h0M58 34h0M67 55h0M15 42h0M75 177h0M50 137h0M128 56h0M124 90h0M115 176h0M75 98h0M135 85h0M6 56h0M154 130h0M206 215h0M206 160h0M16 61h0M147 125h0M157 111h0M37 201h0M79 33h0M51 36h0M165 136h0M176 203h0M82 74h0M117 149h0M111 209h0M166 130h0M60 23h0M106 106h0M46 197h0M180 212h0M138 48h0M3 138h0M154 167h0M136 107h0M38 119h0M168 173h0M157 78h0M160 9h0M149 115h0M75 146h0M34 161h0M107 86h0M19 110h0M112 200h0M146 80h0M84 5h0M45 180h0M67 102h0M205 190h0M98 63h0M73 201h0M184 52h0M115 185h0M152 114h0M133 211h0M172 148h0M109 111h0M37 111h0M37 216h0M133 149h0M48 81h0M39 182h0M58 48h0M4 100h0M91 179h0M67 147h0M79 97h0M13 139h0M62 96h0M152 211h0M38 107h0M0 144h0M7 172h0M132 156h0M17 36h0M217 83h0M141 127h0M86 113h0M113 109h0M26 46h0M194 209h0M206 13h0M106 175h0M208 90h0M0 43h0M144 43h0M38 166h0M77 148h0M92 102h0M92 136h0M119 58h0M85 52h0M211 197h0M125 206h0M111 78h0M107 71h0M6 165h0M51 85h0M162 184h0M57 62h0M68 29h0M73 148h0M138 64h0M16 141h0M173 145h0M139 107h0M150 111h0M72 2h0M34 94h0M133 166h0M96 41h0M52 107h0M86 57h0M134 20h0M121 196h0M107 114h0M33 182h0M180 219h0M202 101h0M62 133h0M45 122h0M15 220h0M97 75h0M140 153h0M180 168h0M165 216h0M78 29h0M71 40h0M157 77h0M89 125h0M133 177h0M37 44h0M2 167h0M126 123h0M139 121h0M184 168h0M199 184h0M148 43h0M200 97h0M154 165h0M150 197h0M209 193h0M38 136h0M65 194h0M215 121h0M143 154h0M144 182h0M119 45h0M73 61h0M179 107h0M214 141h0M204 21h0M76 93h0M10 200h0M43 128h0M42 56h0M220 98h0M191 211h0M56 124h0M169 220h0M120 57h0M0 96h0M191 141h0M105 47h0M60 115h0M121 28h0M53 46h0M179 189h0M126 90h0M140 104h0M119 84h0M119 103h0M107 65h0M169 188h0M41 29h0M139 221h0M118 42h0M159 90h0M37 60h0M210 63h0M81 217h0M64 127h0M3 145h0M79 118h0M98 202h0M110 82h0M34 111h0M158 192h0M39 136h0M78 30h0M135 112h0M187 164h0M126 215h0M12 121h0M198 31h0M174 69h0M78 126h0M112 196h0M116 92h0M46 62h0M126 124h0M189 73h0M217 199h0M111 200h0M130 125h0M169 104h0M90 117h0M196 7h0M87 216h0M38 178h0M63 86h0M57 31h0M78 71h0M126 142h0M45 205h0M200 135h0M81 135h0M21 162h0M54 50h0M70 65h0M205 78h0M23 169h0M65 189h0M79 127h0M205 190h0M190 187h0M31 161h0M132 175h0M62 195h0M58 95h0M51 91h0M217 30h0M48 160h0M170 73h0M181 85h0M205 219h0M78 91h0M116 56h0M25 70h0M26 106h0M141 129h0M93 121h0M78 146h0M97 32h0M96 91h0M144 84h0M42 78h0M147 134h0M114 37h0M189 134h0M104 168h0M68 35h0M167 201h0M27 25h0M53 141h0M190 171h0M90 66h0M138 207h0M80 51h0M179 136h0M135 124h0M163 104h0M113 113h0M85 163h0M66 173h0M26 161h0M99 206h0M68 63h0M190 19h0M55 161h0M24 208h0M118 182h0M140 114h0M181 80h0M195 91h0M105 96h0M153 140h0M142 128h0M187 207h0M62 208h0M171 100h0M101 165h0M110 112h0M161 153h0M188 30h0M215 157h0M88 101h0M104 75h0M41 35h0M204 203h0M178 140h0M85 196h0M220 172h0M161 56h0M100 76h0M152 143h0M40 138h0M152 6h0M79 72h0M142 194h0M106 37h0M41 169h0M158 166h0M47 76h0M69 98h0M164 95h0M5 90h0M85 66h0M62 91h0M162 74h0M170 26h0M23 67h0M119 124h0M106 166h0M157 95h0M201 169h0M47 192h0M195 68h0M197 109h0M139 112h0M34 177h0M158 164h0M203 192h0M158 30h0M63 128h0M172 80h0M130 99h0M47 59h0M15 95h0M114 209h0M173 161h0M216 172h0M187 202h0M50 42h0M64 26h0M81 91h0M104 138h0M149 96h0M167 201h0M80 210h0M127 75h0M37 42h0M187 191h0M197 17h0M149 60h0M145 35h0M85 169h0M10 177h0M118 210h0M166 202h0M139 141h0M190 135h0M164 67h0M204 124h0M91 10h0M178 154h0M146 218h0M78 81h0M33 74h0M67 108h0M92 172h0M153 145h0M48 32h0M91 142h0M161 107h0M16 116h0M144 168h0M141 55h0M91 133h0M217 80h0M145 177h0M191 148h0M28 187h0M139 162h0M191 54h0M65 138h0M192 191h0M11 181h0M180 83h0M40 181h0M208 52h0M193 186h0M12 150h0M175 126h0M80 50h0M44 29h0M57 8h0M147 107h0M90 188h0M113 114h0M178 28h0M183 161h0M38 186h0M9 113h0M173 192h0M164 173h0M54 123h0M121 12h0M82 19h0M105 186h0M195 174h0M148 33h0M80 110h0M113 166h0M157 176h0M102 84h0M190 110h0M177 114h0M101 115h0M47 64h0M104 95h0M172 10h0M58 56h0M79 218h0M161 5h0M220 171h0M143 124h0M16 168h0M117 168h0M89 34h0M7 58h0M71 60h0M186 51h0M186 176h0M158 180h0M58 65h0M38 63h0M22 176h0M40 45h0M69 9h0M86 131h0M150 79h0M40 50h0M193 142h0M177 187h0M124 119h0M75 191h0M133 46h0M193 69h0M151 139h0M72 97h0M68 89h0M168 72h0M43 175h0M59 203h0M53 206h0M130 125h0M95 19h0M170 21h0M23 22h0M42 24h0M166 129h0M87 105h0M81 174h0M152 112h0M118 141h0M196 47h0M36 100h0M31 57h0M74 126h0M138 106h0M137 142h0M75 162h0M210 213h0M214 107h0M27 198h0M36 109h0M83 130h0M0 128h0M100 123h0M85 145h0M171 117h0M133 105h0M114 179h0M196 111h0M133 37h0M23 61h0M201 30h0M126 77h0M61 175h0M10 43h0M204 16h0M44 13h0M59 105h0M32 60h0M176 9h0M163 119h0M151 137h0M39 107h0M61 217h0M40 145h0M60 78h0M172 62h0M100 212h0M10 144h0M22 25h0M26 33h0M175 99h0M74 117h0M151 58h0M143 64h0M199 114h0M150 180h0M122 132h0M63 138h0M64 41h0M221 194h0M39 118h0M13 70h0M160 202h0M91 182h0M172 108h0M115 166h0M171 221h0M145 113h0M180 46h0M81 146h0M49 106h0M211 16h0M41 122h0M54 168h0M117 168h0M142 145h0M100 29h0M16 66h0M91 134h0M88 124h0M199 215h0M134 184h0M88 178h0M153 157h0M55 52h0M143 40h0M108 119h0M36 74h0M16 162h0M114 123h0M143 40h0M132 19h0M147 162h0M128 59h0M3 71h0M159 129h0M182 11h0M151 108h0M8 105h0M152 147h0M31 31h0M104 207h0M89 63h0M60 132h0M39 31h0M41 86h0M145 70h0M59 66h0M71 203h0M136 94h0M204 50h0M99 87h0M57 175h0M78 29h0M141 113h0M217 121h0M97 123h0M56 190h0M206 198h0M63 6h0M12 98h0M29 128h0M63 81h0M109 160h0M85 152h0M7 10h0M138 194h0M107 80h0M61 117h0M55 95h0M166 133h0M116 156h0M139 145h0M64 57h0M152 130h0M110 158h0M21 115h0M117 43h0M123 186h0M141 179h0M22 136h0M172 191h0M55 148h0M168 215h0M117 178h0M43 109h0M79 184h0M5 86h0M190 218h0M80 48h0M100 66h0M110 51h0M97 42h0M1 195h0M134 8h0M70 219h0M128 61h0M5 55h0M11 215h0M199 72h0M96 73h0M124 135h0M114 181h0M154 145h0M42 121h0M103 150h0M143 10h0M149 208h0M66 53h0M44 90h0M180 194h0M47 81h0M166 113h0M16 93h0M192 21h0M62 67h0M135 126h0M182 114h0M148 153h0M96 71h0M77 59h0M156 191h0M77 135h0M9 136h0M48 51h0M150 167h0M143 189h0M49 136h0M41 175h0M145 170h0M10 107h0M94 145h0M59 36h0M177 83h0M167 17h0M218 138h0M102 57h0M211 107h0M145 90h0M154 150h0M131 101h0M98 48h0M208 182h0M123 42h0M219 214h0M56 213h0M215 170h0M22 209h0M20 77h0M208 172h0M71 104h0M24 66h0M44 215h0M59 178h0M135 154h0M116 97h0M105 146h0M193 11h0M7 55h0M168 190h0M201 108h0M122 60h0M16 78h0M41 50h0M175 46h0M213 29h0M164 91h0M211 128h0M79 47h0M126 90h0M196 207h0M217 41h0M18 134h0M117 153h0M153 151h0M109 202h0M103 42h0M86 16h0M108 129h0M11 131h0M201 205h0M128 101h0M158 217h0M56 62h0M102 206h0M146 100h0M146 157h0M121 204h0M175 181h0M165 114h0M164 161h0M177 99h0M27 107h0M19 54h0M75 1h0M70 75h0M20 49h0M83 163h0M210 13h0M17 181h0M146 117h0M131 171h0M137 110h0M63 6h0M82 63h0M138 93h0M14 106h0M176 93h0M138 143h0M191 101h0M150 176h0M132 198h0M175 124h0M76 177h0M86 130h0M115 78h0M120 121h0M63 3h0M28 102h0M78 3h0M84 112h0M183 115h0M168 88h0M90 132h0M35 87h0M161 70h0M218 148h0M195 211h0M129 191h0M49 155h0M137 205h0M152 14h0M84 139h0M41 82h0M115 185h0M40 22h0M170 136h0M108 187h0M48 165h0M147 142h0M121 126h0M153 155h0M194 97h0M165 101h0M62 148h0M65 60h0M106 4h0M135 59h0M205 10h0M94 134h0M80 63h0M40 17h0M118 115h0M74 42h0M177 153h0M191 147h0M200 40h0M18 75h0M3 60h0M10 187h0M96 50h0M94 184h0M211 194h0M9 71h0M197 143h0M165 110h0M187 2h0M111 37h0M176 113h0M17 61h0M144 15h0M196 130h0M111 215h0M6 42h0M160 187h0M59 160h0M56 191h0M197 166h0M220 194h0M145 157h0M11 76h0M205 139h0M109 56h0M176 136h0M109 13h0M187 57h0M77 148h0M145 22h0M27 86h0M6 30h0M165 160h0M76 73h0M211 132h0M170 143h0M78 67h0M212 179h0M79 66h0M56 144h0M37 211h0M177 96h0M102 126h0M84 117h0M71 83h0M204 33h0M79 28h0M105 9h0M40 174h0M40 173h0M103 5h0M181 208h0M190 212h0M120 140h0M27 159h0M73 175h0M124 87h0M201 120h0M216 152h0M213 220h0M153 183h0M178 119h0M106 78h0M93 118h0M68 191h0M146 100h0M195 25h0M71 81h0M74 117h0M124 127h0M217 217h0M105 138h0M30 103h0M179 169h0M167 109h0M16 174h0M124 95h0M82 62h0M131 127h0M49 131h0M131 110h0M208 137h0M219 33h0M57 66h0M190 166h0M92 207h0M157 112h0M127 163h0M115 71h0M81 8h0M162 69h0M150 200h0M43 42h0M214 22h0M109 153h0M50 47h0M178 124h0M60 151h0M117 139h0M171 184h0M163 190h0M59 204h0M191 134h0M15 35h0M196 176h0M192 168h0M172 92h0M212 200h0M59 113h0M98 78h0M49 84h0M125 140h0M94 30h0M144 60h0M124 55h0M52 33h0M10 136h0M120 34h0M135 139h0M70 64h0M106 128h0M64 60h0M38 141h0M156 5h0M101 111h0M99 27h0M219 88h0M123 17h0M9 98h0M169 120h0M35 135h0M11 168h0M117 81h0M24 90h0M5 196h0M99 76h0M84 102h0M202 133h0M106 155h0M172 175h0M174 100h0M170 16h0M175 149h0M81 201h0M9 20h0M33 152h0M203 24h0M56 88h0M173 181h0M97 91h0M92 82h0M84 55h0M180 156h0M31 170h0M136 198h0M33 204h0M50 216h0M72 66h0M190 95h0M191 166h0M159 21h0M18 166h0M88 192h0M151 179h0M97 15h0M3 4h0M21 54h0M73 68h0M84 0h0M103 12h0M53 52h0M6 80h0M48 201h0M210 59h0M153 131h0M97 175h0M92 32h0M83 89h0M102 69h0M14 135h0M52 71h0M181 186h0M62 220h0M91 173h0M99 97h0M112 135h0M151 42h0M205 10h0M39 192h0M179 123h0M102 34h0M30 95h0M202 171h0M66 16h0M82 121h0M131 119h0M158 188h0M41 152h0M174 122h0M123 5h0M110 156h0M124 141h0M191 173h0M192 145h0M194 135h0M63 133h0M78 214h0M96 162h0M78 126h0M75 91h0M82 11h0M107 84h0M174 152h0M202 71h0M116 134h0M32 183h0M196 69h0M195 20h0M4 61h0M80 21h0M124 193h0M20 116h0M204 201h0M140 98h0M48 38h0M156 186h0M164 188h0M141 140h0M82 113h0M16 18h0M149 76h0M170 145h0M118 145h0M121 202h0M130 109h0M166 136h0M131 33h0M30 192h0M146 161h0M153 127h0M138 75h0M214 42h0M104 29h0M31 218h0M39 137h0M68 54h0M124 210h0M51 195h0M36 106h0M121 50h0M100 163h0M116 175h0M51 163h0M175 200h0M58 47h0M34 65h0M122 65h0M7 93h0M33 218h0M102 109h0M83 29h0M99 34h0M143 151h0M163 161h0M187 147h0M77 81h0M78 113h0M164 163h0M154 218h0M214 82h0M101 170h0M19 174h0M40 174h0M206 184h0M19 64h0M87 116h0M140 128h0M20 138h0M75 103h0M11 41h0M10 114h0M114 168h0M216 6h0M48 121h0M113 34h0M76 171h0M157 3h0M192 151h0M137 25h0M155 181h0M218 170h0M155 107h0M115 144h0M157 190h0M151 88h0M110 211h0M3 156h0M1 73h0M26 115h0M120 64h0M116 105h0M24 118h0M122 113h0M30 132h0M164 113h0M125 208h0M173 137h0M175 163h0M172 69h0M150 16h0M24 74h0M159 40h0M170 112h0M198 133h0M21 92h0M41 160h0M109 88h0M132 212h0M33 144h0M151 67h0M82 5h0M198 33h0M52 138h0M94 105h0M98 121h0M206 116h0M42 178h0M200 134h0M156 219h0M46 121h0M115 180h0M105 182h0M17 146h0M65 8h0M142 71h0M177 105h0M122 28h0M220 43h0M55 166h0M19 138h0M115 132h0M216 116h0M81 136h0M42 218h0M122 128h0M73 158h0M78 66h0M58 158h0M74 89h0M189 144h0M49 221h0M126 27h0M146 105h0M65 50h0M64 102h0M113 210h0M124 57h0M45 74h0M98 152h0M143 140h0M70 173h0M13 113h0M201 39h0M69 43h0M153 53h0M214 161h0M157 167h0M197 170h0M204 98h0M189 142h0M101 221h0M128 9h0M182 117h0M46 221h0M173 171h0M175 23h0M84 172h0M90 204h0M112 190h0M103 4h0M50 153h0M170 170h0M187 127h0M80 4h0M80 204h0M204 26h0M85 136h0M57 134h0M2 160h0M29 9h0M185 219h0M197 142h0M219 55h0M177 142h0M17 147h0M205 109h0M111 72h0M95 90h0M81 200h0M7 90h0M72 186h0M90 96h0M121 177h0M33 79h0M73 105h0M78 212h0M79 218h0M187 163h0M95 95h0M172 221h0M23 172h0M102 207h0M50 150h0M206 193h0M144 24h0M178 109h0M101 202h0M152 202h0M98 206h0M67 110h0M221 43h0M30 19h0M15 193h0M79 165h0M4 139h0M45 88h0M183 174h0M133 65h0M113 24h0M126 86h0M145 85h0M163 70h0M120 216h0M101 5h0M5 34h0M154 158h0M91 35h0M67 75h0M148 130h0M133 84h0M13 30h0M70 178h0M175 202h0M117 201h0M140 213h0M112 151h0M158 168h0M170 218h0M157 81h0M114 39h0M110 42h0M179 145h0M18 208h0M199 101h0M4 105h0M160 87h0M157 128h0M118 48h0M38 170h0M161 198h0M123 45h0M68 63h0M48 190h0M84 16h0M40 99h0M150 132h0M41 197h0M158 173h0M58 58h0M25 89h0M78 124h0M36 11h0M160 27h0M60 101h0M57 38h0M184 169h0M133 30h0M140 77h0M67 32h0M136 25h0M7 71h0M204 103h0M61 70h0M28 129h0M185 214h0M76 46h0M191 62h0M117 203h0M197 126h0M119 76h0M32 130h0M40 204h0M68 182h0M118 79h0M110 198h0M23 78h0M31 189h0M184 141h0M73 154h0M74 93h0M137 106h0M156 140h0M116 42h0M131 14h0M79 144h0M10 210h0M129 97h0M175 161h0M83 206h0M157 169h0M99 162h0M185 174h0M45 65h0M99 161h0M28 84h0M52 154h0M53 87h0M95 142h0M61 65h0M118 138h0M128 204h0M98 32h0M159 142h0M97 18h0M185 103h0M58 100h0M23 160h0M218 146h0M134 115h0M109 113h0M211 215h0M57 126h0M107 53h0M85 124h0M131 129h0M181 126h0M142 11h0M148 169h0M204 109h0M210 219h0M219 92h0M56 95h0M34 26h0M198 1h0M106 12h0M133 158h0M48 138h0M50 179h0M144 129h0M135 146h0M135 88h0M133 137h0M216 216h0M75 104h0M200 101h0M129 209h0M31 132h0M198 22h0M188 221h0M78 44h0M182 1h0M129 211h0M93 205h0M109 140h0M121 53h0M171 149h0M76 92h0M210 133h0M16 205h0M49 92h0M42 138h0M219 191h0M27 84h0M155 42h0M129 98h0M42 155h0M63 46h0M78 205h0M156 60h0M214 141h0M148 145h0M153 196h0M152 59h0M15 102h0M31 141h0M140 84h0M192 174h0M77 3h0M52 197h0M91 81h0M56 174h0M172 145h0M166 78h0M37 211h0M113 217h0M60 35h0M204 203h0M131 142h0M48 16h0M182 76h0M159 123h0M169 107h0M49 36h0M133 209h0M174 161h0M62 134h0M179 125h0M206 80h0M64 132h0M36 188h0M90 53h0M9 166h0M11 122h0M114 121h0M53 150h0M209 197h0M73 42h0M218 134h0M43 86h0M125 117h0M128 76h0M98 117h0M179 103h0M63 194h0M206 221h0M9 110h0M196 174h0M124 88h0M136 67h0M100 212h0M156 62h0M77 150h0M142 132h0M168 102h0M179 120h0M180 156h0M154 140h0M12 81h0M54 81h0M189 82h0M75 194h0M197 62h0M117 171h0M57 62h0M80 34h0M85 58h0M216 50h0M116 65h0M166 89h0M52 89h0M5 104h0M36 25h0M53 44h0M149 147h0M89 204h0M98 135h0M211 62h0M14 0h0M124 180h0M167 118h0M35 21h0M72 161h0M50 185h0M89 34h0M71 118h0M72 118h0M49 184h0M9 50h0M83 63h0M102 46h0M112 40h0M2 17h0M143 121h0M61 164h0M214 186h0M133 173h0M131 136h0M208 71h0M41 13h0M170 72h0M24 28h0M65 77h0M20 202h0M37 125h0M174 136h0M119 146h0M32 170h0M70 53h0M141 28h0M102 60h0M212 107h0M207 34h0M211 185h0M218 211h0M20 104h0M199 67h0M177 162h0M137 127h0M93 86h0M169 92h0M39 188h0M68 171h0M51 142h0M104 10h0M90 5h0M152 100h0M148 184h0M180 26h0M195 89h0M96 153h0M42 72h0M132 105h0M23 191h0M86 40h0M19 183h0M105 32h0M9 162h0M50 207h0M45 88h0M101 60h0M86 75h0M163 28h0M37 139h0M36 196h0M121 175h0M114 91h0M176 129h0M182 1h0M173 111h0M35 152h0M100 55h0M137 83h0M197 139h0M155 2h0M103 214h0M99 66h0M8 146h0M16 193h0M41 30h0M102 173h0M34 49h0M163 70h0M92 116h0M64 27h0M44 122h0M18 87h0M55 61h0M154 30h0M60 45h0M205 172h0M122 169h0M42 12h0M128 38h0M177 101h0M66 125h0M20 4h0M42 213h0M134 159h0M82 146h0M16 198h0M198 6h0M56 164h0M211 139h0M166 25h0M22 172h0M68 105h0M47 21h0M5 66h0M176 130h0M64 46h0M156 73h0M94 115h0M95 169h0M155 187h0M124 69h0M5 41h0M22 155h0M87 154h0M213 156h0M117 63h0M148 203h0M1 137h0M81 179h0M217 162h0M26 217h0M76 151h0M207 157h0M165 102h0M50 195h0M192 39h0M83 28h0M21 95h0M153 76h0M84 170h0M137 112h0M73 125h0M184 46h0M42 31h0M80 76h0M186 134h0M79 183h0M115 92h0M132 44h0M21 121h0M130 128h0M88 197h0M53 151h0M30 27h0M155 60h0M86 70h0M118 123h0M66 206h0M40 140h0M175 55h0M123 129h0M185 143h0M59 53h0M98 141h0M5 66h0M156 134h0M82 170h0M204 148h0M38 54h0M18 219h0M152 118h0M132 140h0M143 18h0M217 62h0M6 128h0M32 89h0M176 171h0M104 47h0M12 128h0M217 48h0M168 164h0M134 169h0M165 60h0M139 30h0M215 17h0M45 199h0M18 181h0M113 208h0M169 116h0M123 33h0M170 99h0M92 182h0M63 220h0M205 219h0M187 75h0M186 181h0M29 52h0M58 173h0M122 72h0M205 186h0M30 210h0M77 143h0M141 162h0M108 135h0M169 148h0M160 4h0M58 87h0M211 126h0M107 91h0M5 123h0M219 184h0M78 44h0M42 128h0M44 136h0M32 36h0M173 45h0M68 180h0M191 83h0M193 131h0M12 81h0M185 66h0M181 207h0M177 206h0M51 122h0M53 22h0M69 132h0M210 184h0M47 66h0M68 75h0M193 153h0M75 186h0M220 185h0M158 57h0M74 87h0M210 148h0M112 175h0M136 194h0M183 123h0M187 193h0M213 44h0M15 165h0M79 152h0M153 190h0M205 195h0M21 91h0M56 161h0M147 141h0M68 38h0M87 182h0M69 75h0M108 5h0M90 55h0M3 102h0M165 106h0M171 144h0M38 77h0M192 29h0M105 73h0M135 126h0M57 23h0M107 152h0M181 37h0M139 72h0M200 129h0M41 129h0M68 40h0M106 208h0M216 214h0M147 221h0M66 41h0M137 14h0M51 113h0M195 91h0M38 197h0M73 219h0M98 22h0M152 106h0M58 116h0M218 126h0M113 89h0M152 218h0M54 155h0M200 213h0M103 171h0M120 68h0M167 6h0M2 211h0M100 105h0M151 140h0M162 126h0M93 113h0M1 149h0M103 87h0M31 114h0M147 37h0M34 87h0M185 78h0M115 182h0M61 176h0M109 61h0M122 8h0M1 173h0M142 7h0M8 101h0M66 70h0M134 70h0M148 87h0M187 55h0M43 97h0M81 69h0M169 149h0M144 46h0M197 134h0M115 52h0M157 204h0M138 120h0M119 26h0M37 99h0M62 84h0M122 63h0M53 192h0M16 62h0M110 220h0M149 16h0M17 151h0M130 161h0M50 130h0M52 89h0M147 118h0M118 211h0M126 80h0M190 63h0M67 24h0M209 221h0M196 88h0M38 41h0M1 186h0M183 85h0M114 82h0M31 125h0M155 86h0M14 120h0M149 51h0M33 71h0M27 143h0M49 35h0M112 137h0M113 162h0M18 189h0M201 125h0M124 31h0M180 131h0M139 75h0M218 148h0M58 4h0M52 48h0M23 171h0M131 87h0M9 204h0M115 115h0M36 195h0M83 185h0M57 123h0M40 211h0M106 85h0M15 196h0M183 134h0M197 173h0M79 104h0M145 34h0M56 73h0M66 102h0M147 151h0M96 115h0M114 115h0M72 11h0M199 220h0M43 195h0M100 17h0M60 77h0M76 108h0M210 14h0M175 195h0M202 32h0M215 112h0M197 12h0M95 98h0M112 86h0M51 124h0M92 90h0M113 128h0M40 91h0M120 116h0M58 56h0M129 158h0M101 144h0M105 104h0M38 59h0M48 14h0M95 173h0M16 135h0M119 157h0M50 149h0M45 127h0M72 135h0M49 172h0M103 218h0M57 187h0M52 86h0M186 133h0M180 213h0M185 208h0M141 220h0M197 43h0M6 40h0M218 220h0M197 66h0M180 220h0M83 155h0M199 182h0M219 55h0M90 85h0M92 100h0M173 58h0M121 141h0M82 15h0M5 149h0M3 21h0M136 31h0M51 214h0M176 139h0M113 128h0M9 27h0M135 123h0M69 84h0M164 155h0M172 206h0M45 111h0M2 13h0M36 42h0M215 72h0M170 162h0M21 134h0M17 87h0M45 37h0M215 213h0M106 197h0M184 130h0M36 24h0M197 163h0M94 83h0M36 194h0M72 97h0M141 186h0M72 124h0M72 27h0M175 132h0M122 112h0M208 51h0M20 84h0M184 63h0M4 117h0M204 142h0M126 206h0M196 22h0M149 78h0M162 37h0M152 170h0M24 132h0M98 73h0M130 141h0M106 165h0M158 147h0M175 159h0M77 83h0M54 71h0M56 16h0M7 8h0M105 194h0M108 74h0M198 109h0M33 18h0M171 115h0M98 131h0M200 111h0M220 206h0M12 197h0M167 6h0M65 31h0M33 43h0M158 124h0M75 124h0M218 109h0M127 129h0M28 77h0M114 21h0M110 92h0M53 204h0M50 48h0M80 56h0M111 210h0M87 133h0M65 60h0M17 86h0M115 51h0M194 174h0M23 12h0M40 107h0M138 152h0M159 88h0M118 6h0M169 35h0M33 80h0M41 23h0M140 73h0M54 47h0M93 189h0M36 169h0M71 181h0M102 78h0M217 11h0M136 184h0M18 50h0M133 173h0M125 91h0M171 179h0M147 148h0M127 122h0M97 150h0M18 17h0M195 182h0M195 161h0M149 148h0M202 10h0M9 178h0M45 183h0M132 200h0M34 131h0M168 207h0M171 108h0M86 16h0M103 64h0M150 155h0M73 10h0M53 4h0M169 212h0M10 122h0M106 40h0M52 88h0M56 111h0M211 97h0M134 69h0M207 85h0M43 134h0M110 51h0M49 118h0M180 158h0M198 129h0M19 53h0M205 163h0M181 92h0M64 168h0M95 106h0M27 80h0M172 104h0M58 100h0M32 125h0M13 197h0M50 41h0M176 145h0M87 102h0M164 185h0M43 20h0M139 12h0M184 54h0M184 143h0M179 13h0M67 204h0M143 108h0M143 103h0M158 89h0M88 217h0M32 104h0M179 50h0M71 87h0M59 161h0M161 1h0M94 152h0M38 211h0M128 144h0M44 213h0M125 57h0M11 120h0M201 147h0M20 215h0M172 156h0M162 150h0M188 121h0M56 117h0M75 170h0M100 171h0M95 202h0M87 129h0M154 217h0M158 142h0M134 121h0M190 152h0M11 78h0M59 180h0M33 74h0M61 124h0M45 79h0M139 41h0M103 205h0M187 68h0M206 119h0M135 73h0M8 119h0M193 116h0M140 178h0M53 49h0M17 154h0M55 136h0M135 217h0M214 159h0M44 102h0M206 146h0M37 57h0M52 124h0M40 200h0M176 78h0M53 73h0M34 96h0M205 33h0M110 50h0M112 175h0M185 82h0M132 163h0M41 16h0M74 100h0M68 33h0M26 88h0M184 113h0M9 111h0M139 36h0M52 183h0M167 37h0M108 120h0M144 49h0M192 221h0M0 208h0M43 100h0M179 45h0M169 213h0M22 35h0M15 89h0M156 40h0M135 91h0M200 127h0M103 126h0M167 95h0M59 129h0M65 107h0M85 123h0M65 213h0M123 195h0M71 5h0M99 131h0M118 60h0M177 79h0M164 60h0M87 112h0M173 121h0M135 138h0M40 38h0M139 218h0M9 52h0M37 18h0M122 136h0M161 21h0M135 74h0M75 149h0M103 80h0M104 152h0M70 113h0M106 198h0M184 172h0M218 47h0M38 48h0M147 15h0M180 111h0M36 195h0M194 30h0M212 163h0M65 94h0M214 159h0M171 205h0M142 160h0M209 22h0M49 42h0M4 85h0M23 175h0M32 163h0M49 105h0M14 55h0M35 158h0M104 108h0M178 27h0M219 84h0M73 174h0M215 6h0M145 97h0M137 166h0M171 14h0M31 58h0M176 163h0M195 168h0M28 46h0M191 133h0M32 94h0M127 59h0M99 127h0M124 139h0M38 196h0M185 214h0M169 196h0M152 59h0M20 133h0M19 195h0M201 165h0M99 157h0M137 202h0M73 62h0M202 49h0M74 54h0M43 184h0M156 169h0M196 30h0M206 125h0M25 89h0M33 136h0M53 35h0M217 123h0M84 78h0M187 176h0M122 177h0M189 170h0M12 106h0M113 173h0M70 105h0M111 138h0M184 67h0M78 102h0M33 16h0M182 5h0M129 98h0M106 195h0M196 216h0M204 138h0M128 100h0M65 186h0M23 9h0M200 44h0M20 29h0M169 88h0M52 80h0M5 102h0M51 66h0M93 77h0M14 134h0M90 110h0M106 109h0M78 176h0M185 36h0M88 95h0M90 128h0M18 103h0M139 76h0M78 145h0M199 49h0M119 74h0M207 193h0M148 60h0M138 47h0M41 170h0M209 125h0M65 144h0M27 24h0M111 58h0M206 172h0M148 36h0M28 92h0M28 155h0M41 21h0M34 123h0M111 196h0M130 141h0M66 26h0M110 97h0M125 106h0M203 23h0M108 186h0M116 101h0M201 11h0M107 119h0M103 4h0M44 97h0M74 50h0M27 56h0M11 191h0M171 112h0M193 140h0M161 28h0M135 79h0M181 14h0M83 141h0M69 179h0M82 43h0M37 200h0M182 125h0M75 33h0M86 99h0M4 145h0M45 150h0M106 119h0M6 85h0M64 81h0M184 35h0M87 153h0M13 93h0M92 114h0M26 39h0M42 64h0M205 134h0M150 125h0M66 30h0M127 124h0M132 56h0M130 54h0M134 176h0M74 59h0M198 103h0M53 164h0M101 67h0M206 134h0M91 58h0M152 164h0M108 58h0M125 119h0M52 156h0M11 60h0M37 36h0M126 10h0M140 155h0M32 103h0M108 100h0M49 181h0M74 162h0M76 50h0M177 159h0M137 1h0M170 143h0M141 184h0M108 90h0M159 135h0M165 154h0M177 154h0M123 92h0M164 71h0M84 166h0M22 52h0M93 67h0M32 112h0M104 127h0M82 214h0M153 178h0M29 159h0M64 177h0M193 121h0M52 158h0M21 2h0M162 130h0M104 203h0M26 182h0M150 87h0M188 116h0M124 57h0M83 144h0M128 114h0M72 190h0M209 167h0M94 53h0M65 100h0M47 147h0M171 123h0M7 166h0M167 32h0M25 110h0M161 31h0M99 189h0M117 104h0M65 100h0M109 102h0M190 65h0M145 108h0M206 89h0M28 33h0M143 156h0M93 139h0M85 14h0M67 24h0M61 182h0M171 91h0M19 1h0M94 171h0M97 110h0M44 77h0M43 147h0M100 76h0M217 77h0M133 145h0M52 22h0M150 120h0M82 201h0M57 50h0M12 190h0M23 13h0M10 98h0M164 117h0M175 29h0M4 139h0M34 33h0M63 18h0M114 43h0M58 215h0M131 220h0M220 176h0M205 65h0M136 106h0M112 88h0M196 1h0M73 79h0M79 108h0M33 123h0M139 40h0M144 170h0M51 139h0M204 100h0M117 163h0M80 113h0M17 125h0M175 74h0M72 166h0M138 91h0M179 70h0M76 165h0M7 47h0M178 3h0M119 203h0M23 135h0M88 146h0M160 193h0M14 47h0M206 1h0M31 116h0M21 198h0M84 195h0M135 75h0M34 157h0M160 120h0M111 87h0" stroke="#d9a76e" stroke-width="2.0" stroke-linecap="round" stroke-opacity="0.55"/><path transform="translate(169 661) scale(.5)" d="M108 99h0M206 108h0M176 132h0M131 42h0M220 18h0M65 117h0M6 110h0M59 137h0M151 126h0M154 178h0M42 134h0M95 37h0M59 97h0M173 159h0M47 112h0M161 100h0M141 60h0M180 156h0M84 174h0M165 91h0M164 192h0M100 66h0M67 193h0M30 112h0M59 35h0M158 9h0M38 99h0M78 176h0M213 117h0M64 164h0M181 171h0M191 185h0M184 65h0M24 106h0M41 120h0M143 116h0M103 127h0M116 91h0M20 30h0M192 135h0M68 73h0M30 135h0M38 140h0M41 78h0M166 43h0M64 106h0M119 199h0M49 181h0M49 82h0M216 173h0M212 11h0M125 122h0M84 141h0M146 79h0M195 15h0M127 72h0M88 92h0M190 0h0M25 37h0M16 194h0M4 76h0M144 113h0M50 140h0M55 91h0M44 132h0M138 77h0M77 201h0M39 128h0M20 38h0M72 183h0M5 127h0M131 40h0M167 10h0M2 139h0M99 215h0M191 12h0M180 174h0M147 211h0M81 87h0M186 157h0M69 122h0M162 113h0M87 134h0M181 109h0M28 107h0M91 155h0M45 191h0M32 14h0M91 114h0M152 82h0M109 133h0M117 123h0M116 203h0M65 78h0M136 108h0M106 134h0M37 139h0M135 102h0M30 81h0M165 97h0M111 124h0M149 176h0M69 159h0M79 128h0M83 135h0M155 80h0M44 136h0M90 92h0M105 83h0M37 135h0M53 94h0M208 168h0M54 47h0M1 60h0M58 47h0M88 185h0M102 56h0M166 42h0M44 184h0M98 26h0M14 171h0M208 63h0M148 151h0M42 23h0M11 120h0M61 87h0M90 145h0M202 87h0M23 47h0M111 121h0M149 92h0M150 110h0M215 133h0M126 152h0M166 81h0M180 70h0M108 142h0M81 19h0M184 208h0M100 23h0M205 170h0M196 182h0M10 160h0M195 74h0M23 191h0M135 109h0M83 136h0M91 94h0M72 97h0M123 70h0M3 103h0M158 181h0M98 83h0M57 78h0M185 52h0M86 95h0M33 83h0M96 153h0M143 64h0M66 147h0M185 58h0M108 163h0M121 182h0M118 20h0M120 214h0M214 18h0M92 41h0M175 207h0M114 31h0M14 118h0M63 187h0M95 160h0M113 27h0M68 164h0M102 140h0M57 34h0M163 163h0M212 169h0M133 62h0M115 59h0M105 34h0M183 212h0M31 172h0M72 125h0M143 59h0M130 83h0M93 118h0M168 58h0M24 71h0M147 128h0M156 110h0M17 110h0M92 93h0M120 151h0M185 118h0M44 123h0M106 138h0M87 163h0M117 74h0M188 125h0M19 170h0M72 190h0M166 174h0M200 125h0M51 122h0M173 152h0M57 89h0M84 141h0M63 63h0M75 108h0M23 164h0M68 157h0M80 126h0M196 92h0M214 40h0M132 131h0M44 65h0M60 108h0M76 153h0M105 134h0M55 34h0M34 147h0M102 119h0M90 138h0M111 20h0M117 119h0M150 190h0M149 220h0M143 77h0M24 87h0M103 110h0M22 72h0M51 122h0M39 166h0M134 176h0M194 108h0M93 103h0M117 138h0M216 202h0M61 58h0M56 101h0M164 84h0M82 115h0M87 68h0M88 168h0M213 211h0M138 83h0M36 191h0M94 153h0M117 165h0M154 165h0M64 25h0M172 160h0M97 97h0M197 117h0M54 168h0M155 109h0M149 59h0M6 210h0M85 150h0M113 83h0M82 84h0M87 218h0M94 91h0M74 139h0M147 110h0M79 116h0M150 127h0M124 143h0M10 142h0M110 188h0M118 97h0M37 27h0M55 106h0M57 109h0M27 78h0M122 107h0M126 158h0M75 142h0M60 140h0M117 82h0M191 113h0M77 149h0M155 195h0M168 83h0M32 70h0M91 201h0M117 166h0M137 133h0M139 122h0M146 67h0M198 120h0M130 186h0M149 44h0M135 87h0M106 187h0M51 103h0M136 68h0M111 85h0M120 114h0M179 151h0M153 124h0M58 46h0M166 91h0M113 97h0M124 89h0M162 102h0M117 121h0M127 138h0M86 63h0M141 19h0M148 131h0M74 84h0M29 170h0M143 131h0M156 123h0M132 123h0M95 97h0M27 76h0M41 87h0M139 56h0M89 4h0M158 116h0M150 102h0M11 214h0M64 106h0M107 154h0M139 85h0M7 24h0M104 108h0M79 14h0M194 147h0M209 74h0M109 117h0M140 104h0M187 130h0M139 88h0M94 117h0M166 153h0M80 70h0M136 45h0M197 96h0M107 124h0M97 134h0M62 135h0M46 84h0M96 82h0M83 192h0M71 95h0M136 117h0" stroke="#c98a4c" stroke-width="2.0" stroke-linecap="round" stroke-opacity="0.55"/><path transform="translate(169 661) scale(.5)" d="M176 137h0M161 64h0M21 123h0M202 20h0M83 25h0M196 132h0M135 161h0M181 55h0M156 66h0M70 219h0M211 207h0M196 13h0M70 119h0M93 197h0M39 212h0M133 53h0M205 97h0M156 187h0M98 172h0M139 78h0M165 57h0M125 162h0M193 59h0M57 95h0M125 127h0M118 154h0M27 28h0M163 3h0M65 34h0M147 170h0M81 63h0M133 191h0M198 220h0M187 113h0M130 196h0M130 135h0M50 139h0M34 18h0M178 215h0M2 186h0M14 89h0M93 209h0M192 37h0M12 2h0M123 10h0M192 182h0M153 68h0M120 137h0M170 189h0M63 42h0M83 112h0M159 34h0M120 153h0M87 208h0M50 57h0M19 96h0M155 29h0M63 156h0M85 117h0M123 42h0M202 62h0M68 96h0M97 66h0M20 16h0M18 197h0M79 167h0M72 150h0M110 182h0M140 11h0M55 6h0M77 41h0M66 83h0M83 91h0M113 6h0M46 8h0M210 68h0M118 217h0M182 16h0M124 16h0M69 22h0M69 106h0M54 126h0M192 4h0M84 204h0M196 206h0M136 122h0M201 58h0M140 195h0M139 81h0M125 155h0M31 157h0M159 47h0M185 145h0M57 25h0M139 109h0M168 114h0M48 33h0M4 121h0M135 62h0M122 10h0M36 182h0M193 116h0M13 70h0M43 150h0M216 111h0M158 8h0M67 30h0M79 180h0M87 87h0M173 152h0M90 108h0M117 102h0M174 26h0M0 146h0M135 97h0M88 157h0M16 61h0M33 17h0M19 205h0M38 46h0M10 17h0M47 165h0M83 170h0M212 175h0M212 16h0M179 6h0M196 74h0M101 55h0M107 151h0M203 38h0M77 7h0M129 215h0M129 54h0M21 45h0M93 196h0M166 191h0M139 27h0M102 116h0M28 179h0M110 120h0M76 7h0M31 5h0M205 131h0M162 19h0M154 26h0M199 75h0M31 49h0M148 91h0M221 38h0M205 44h0M154 171h0M83 14h0M153 192h0M126 158h0M215 52h0M65 172h0M188 52h0M172 189h0M126 54h0M157 191h0M99 125h0M214 137h0M42 16h0M146 98h0M73 124h0M114 55h0M31 3h0M27 48h0M81 48h0M80 23h0M39 138h0M138 8h0M123 128h0M109 88h0M73 174h0M212 208h0M98 194h0M148 158h0M85 67h0M201 59h0M31 37h0M189 127h0M7 183h0M158 114h0M146 173h0M31 66h0M32 176h0M36 111h0M22 203h0M166 110h0M97 150h0M96 181h0M213 186h0M49 209h0M174 142h0M65 137h0M62 48h0M145 122h0M206 203h0M125 23h0M62 20h0M98 214h0M14 28h0M166 215h0M206 164h0M136 68h0M180 89h0M171 200h0M139 44h0M81 144h0M116 106h0M34 35h0M174 120h0M196 89h0M166 144h0M67 186h0M185 220h0M136 42h0M165 133h0M205 175h0M179 203h0M53 45h0M13 87h0M94 133h0M1 166h0M58 199h0M201 218h0M76 221h0M83 17h0M148 37h0M211 38h0M6 44h0M161 89h0M113 200h0M88 181h0M73 179h0M178 135h0M39 112h0M182 91h0M144 90h0M50 190h0M133 174h0M109 158h0M163 3h0M203 55h0M30 89h0M1 185h0M221 118h0M190 188h0M113 128h0M36 35h0M136 192h0M36 20h0M159 9h0M3 135h0M18 109h0M137 189h0M200 219h0M98 19h0M103 10h0M125 152h0M161 44h0M149 71h0M99 200h0M141 42h0M153 214h0M30 141h0M35 125h0M193 171h0M136 141h0M127 91h0M164 167h0M11 187h0M69 11h0M216 98h0M24 4h0M188 61h0M173 30h0M171 215h0M119 109h0M33 187h0M219 185h0M194 149h0M181 126h0M168 136h0M156 50h0M91 143h0M78 156h0M10 202h0M92 38h0M217 160h0M189 218h0M94 60h0M209 22h0M207 168h0M132 47h0M7 38h0M78 109h0M24 208h0M197 196h0M46 60h0M23 89h0M148 47h0M207 114h0M89 65h0M193 96h0M170 193h0M209 178h0M167 3h0M159 137h0M130 85h0M211 148h0M103 209h0M184 155h0M66 216h0M32 91h0M70 212h0M5 40h0M190 150h0M121 213h0M133 114h0M169 64h0M47 211h0M206 83h0M1 200h0M176 74h0M175 7h0M31 147h0M79 183h0M60 192h0M198 197h0M90 63h0M76 111h0M20 171h0M83 101h0M136 95h0M176 18h0M75 120h0M104 96h0M69 2h0M33 98h0M56 86h0M209 50h0M83 160h0M215 48h0M121 19h0M40 52h0M124 104h0M121 10h0M45 149h0M86 206h0M51 31h0M35 143h0M6 205h0M12 153h0M119 210h0M213 53h0M49 118h0M75 83h0M86 36h0M47 168h0M33 12h0M183 84h0M25 105h0M102 201h0M77 131h0M171 95h0M123 34h0M204 209h0M51 192h0M150 17h0M62 86h0M127 36h0M144 206h0M58 51h0M63 172h0M114 55h0M30 7h0M94 81h0M164 190h0M198 46h0M125 208h0M216 53h0M172 202h0M24 62h0M199 186h0M41 97h0M199 158h0M147 109h0M111 87h0M122 132h0M126 176h0M68 156h0M211 27h0M94 32h0M33 53h0M9 16h0M198 135h0M23 10h0M186 181h0M97 1h0M171 166h0M150 205h0M160 47h0M194 136h0M129 156h0M144 169h0M153 122h0M217 196h0M155 205h0M98 141h0M165 210h0M215 127h0M10 62h0M124 179h0M174 174h0M103 217h0M58 117h0M121 219h0M205 28h0M67 170h0M13 21h0M54 112h0M142 15h0M95 202h0M132 215h0M51 127h0M144 174h0M212 38h0M81 174h0M88 112h0M3 79h0M64 201h0M93 27h0M133 51h0M103 161h0M143 157h0M34 29h0M91 15h0M125 11h0M13 148h0M41 220h0M83 49h0M144 155h0M184 16h0M138 45h0M10 105h0M39 215h0M151 204h0M93 179h0M31 24h0M35 146h0M197 107h0M90 26h0M137 65h0M21 123h0M150 30h0M50 193h0M69 155h0M125 86h0M209 86h0M117 68h0M87 81h0M121 172h0M138 61h0M191 112h0M178 5h0M92 19h0M106 0h0M174 96h0M30 112h0M74 187h0M190 113h0M63 193h0M198 70h0M150 6h0M176 72h0M27 189h0M61 174h0M190 129h0M204 51h0M50 146h0M127 193h0M169 80h0M18 18h0M183 219h0M73 117h0M191 154h0M85 146h0M27 129h0M101 127h0M172 22h0M208 78h0M73 34h0M16 73h0M65 60h0M111 207h0M190 142h0M16 39h0M65 92h0M201 39h0M165 210h0M124 77h0M101 12h0M169 50h0M6 147h0M64 146h0M126 52h0M120 124h0M61 73h0M137 4h0M212 115h0M95 81h0M192 193h0M163 178h0M113 32h0M138 23h0M20 200h0M91 187h0M38 125h0M180 113h0M172 86h0M94 155h0M77 104h0M67 143h0M183 13h0M149 180h0M86 195h0M211 174h0M127 195h0M132 87h0M88 13h0M16 155h0M144 175h0M59 165h0M212 69h0M188 32h0M118 143h0M141 113h0M9 101h0M121 84h0M36 181h0M124 14h0M93 12h0M86 56h0M88 211h0M75 192h0M108 216h0M3 161h0M83 169h0M216 80h0M75 87h0M127 45h0M170 211h0M178 189h0M4 42h0M10 130h0M100 100h0M100 43h0M138 74h0M46 94h0M48 1h0M118 85h0M105 169h0M19 19h0M83 167h0M38 143h0M27 148h0M204 64h0M211 162h0M216 195h0M50 173h0M56 189h0M96 121h0M65 19h0M176 14h0M178 195h0M9 128h0M130 87h0M6 28h0M147 118h0M157 188h0M82 206h0M126 177h0M192 166h0M68 54h0M216 74h0M173 16h0M198 107h0M173 191h0M120 115h0M27 191h0M84 34h0M102 112h0M220 114h0M5 140h0M79 64h0M203 198h0M137 46h0M17 112h0" stroke="#5555c6" stroke-width="2.6" stroke-linecap="round" stroke-opacity="0.85"/><polygon points="197,713.2 199.3,708.5 207.1,705.4 219.6,705.4 232.2,708.5 240,714.8 242.3,725.7 238.4,733.6 227.5,737.5 215,735.1 205.6,730.4 199.3,722.6 197,717.9" fill="#fff" filter="url(#bl2)"/><circle cx="207.9" cy="666.3" r="3.1" fill="#fff" stroke="#e8ddd0" stroke-width="0.4"/><circle cx="204" cy="672.5" r="2.5" fill="#fff" stroke="#e8ddd0" stroke-width="0.4"/><circle cx="233" cy="667" r="3.5" fill="#fff" stroke="#e8ddd0" stroke-width="0.4"/><circle cx="222" cy="678" r="4.2" fill="#fff" stroke="#e8ddd0" stroke-width="0.4"/><circle cx="227.5" cy="689" r="3.5" fill="#fff" stroke="#e8ddd0" stroke-width="0.4"/><circle cx="219.6" cy="692.9" r="2" fill="#fff" stroke="#e8ddd0" stroke-width="0.4"/><circle cx="274.4" cy="674.9" r="4" fill="#fff" stroke="#e8ddd0" stroke-width="0.4"/><circle cx="276" cy="688" r="3" fill="#fff" stroke="#e8ddd0" stroke-width="0.4"/><circle cx="269.7" cy="696" r="3" fill="#fff" stroke="#e8ddd0" stroke-width="0.4"/><circle cx="263.5" cy="689.7" r="2" fill="#fff" stroke="#e8ddd0" stroke-width="0.4"/><circle cx="172.7" cy="708.5" r="2.5" fill="#fff" stroke="#e8ddd0" stroke-width="0.4"/><circle cx="175" cy="728" r="2" fill="#fff" stroke="#e8ddd0" stroke-width="0.4"/><circle cx="180.5" cy="724" r="2" fill="#fff" stroke="#e8ddd0" stroke-width="0.4"/><circle cx="266.6" cy="718" r="3" fill="#fff" stroke="#e8ddd0" stroke-width="0.4"/><circle cx="272.9" cy="721.8" r="3" fill="#fff" stroke="#e8ddd0" stroke-width="0.4"/><circle cx="265" cy="742.2" r="3" fill="#fff" stroke="#e8ddd0" stroke-width="0.4"/><circle cx="276" cy="736.7" r="2.5" fill="#fff" stroke="#e8ddd0" stroke-width="0.4"/><circle cx="252.5" cy="757" r="3.5" fill="#fff" stroke="#e8ddd0" stroke-width="0.4"/><circle cx="199.3" cy="746" r="2.5" fill="#fff" stroke="#e8ddd0" stroke-width="0.4"/><circle cx="207.9" cy="743" r="2" fill="#fff" stroke="#e8ddd0" stroke-width="0.4"/><circle cx="225" cy="740.6" r="2" fill="#fff" stroke="#e8ddd0" stroke-width="0.4"/><circle cx="215" cy="754" r="2" fill="#fff" stroke="#e8ddd0" stroke-width="0.4"/><circle cx="268" cy="768" r="2" fill="#fff" stroke="#e8ddd0" stroke-width="0.4"/></g><clipPath id="cp3"><rect x="299.4" y="661" width="111" height="110.5"/></clipPath><g clip-path="url(#cp3)"><rect x="299.4" y="661" width="111" height="110.5" fill="#f7f1ea"/><path transform="translate(299.4 661) scale(.5)" d="M157 48h0M106 158h0M30 199h0M79 115h0M126 206h0M141 68h0M73 131h0M218 100h0M90 146h0M130 182h0M88 73h0M15 33h0M169 44h0M197 205h0M18 90h0M72 86h0M191 150h0M78 48h0M83 42h0M32 47h0M172 90h0M200 216h0M186 114h0M33 145h0M185 93h0M128 179h0M221 71h0M102 107h0M80 154h0M136 91h0M152 164h0M120 172h0M219 131h0M12 115h0M117 11h0M124 210h0M7 74h0M23 188h0M13 158h0M211 69h0M168 95h0M200 91h0M134 75h0M28 28h0M130 75h0M52 146h0M48 172h0M67 33h0M53 125h0M24 106h0M76 107h0M86 127h0M195 190h0M7 86h0M100 212h0M174 182h0M118 167h0M166 137h0M170 195h0M141 54h0M31 71h0M48 56h0M84 29h0M119 125h0M202 213h0M94 78h0M181 42h0M177 218h0M139 40h0M190 53h0M22 80h0M161 123h0M207 143h0M144 148h0M144 205h0M174 180h0M31 144h0M132 218h0M41 184h0M171 144h0M207 71h0M149 156h0M50 152h0M142 157h0M203 103h0M1 164h0M144 165h0M133 130h0M73 135h0M157 127h0M91 48h0M136 81h0M180 50h0M178 52h0M187 99h0M143 10h0M208 82h0M157 141h0M13 81h0M169 177h0M121 93h0M97 22h0M20 209h0M59 146h0M30 203h0M112 200h0M149 156h0M197 112h0M91 139h0M154 188h0M103 168h0M180 64h0M39 36h0M42 214h0M51 197h0M82 217h0M1 141h0M191 67h0M90 147h0M109 194h0M213 97h0M65 42h0M47 16h0M144 151h0M100 79h0M217 109h0M195 218h0M32 160h0M145 56h0M84 190h0M10 2h0M165 7h0M221 25h0M186 78h0M218 46h0M18 33h0M194 78h0M204 46h0M134 25h0M168 22h0M73 165h0M96 135h0M80 220h0M19 151h0M29 164h0M108 211h0M212 63h0M126 169h0M106 130h0M120 46h0M194 135h0M204 100h0M160 23h0M80 210h0M132 147h0M175 205h0M68 195h0M196 41h0M142 19h0M82 101h0M172 184h0M159 101h0M56 124h0M131 4h0M136 13h0M104 141h0M95 70h0M202 189h0M44 122h0M86 171h0M129 102h0M9 82h0M188 98h0M100 54h0M113 39h0M134 204h0M64 158h0M86 167h0M98 30h0M123 160h0M41 100h0M7 53h0M138 152h0M13 124h0M184 53h0M108 52h0M36 17h0M27 44h0M140 8h0M61 32h0M157 178h0M138 143h0M198 118h0M72 36h0M102 45h0M90 63h0M107 119h0M86 162h0M219 149h0M121 194h0M56 189h0M123 79h0M134 112h0M115 152h0M141 4h0M0 1h0M200 31h0M36 44h0M98 3h0M182 40h0M58 157h0M81 145h0M83 216h0M152 178h0M202 107h0M79 158h0M105 45h0M184 210h0M184 155h0M76 60h0M90 107h0M14 28h0M179 203h0M85 36h0M173 90h0M200 50h0M113 118h0M146 120h0M40 42h0M172 126h0M117 166h0M180 165h0M109 11h0M27 56h0M211 21h0M199 10h0M190 117h0M1 121h0M84 17h0M215 56h0M142 212h0M120 77h0M20 104h0M77 159h0M95 166h0M209 107h0M161 176h0M48 96h0M213 12h0M17 167h0M191 132h0M74 64h0M203 114h0M101 10h0M40 102h0M133 112h0M207 119h0M147 167h0M99 160h0M83 131h0M208 110h0M197 58h0M115 199h0M21 205h0M202 100h0M155 143h0M161 191h0M11 61h0M151 80h0M141 174h0M167 143h0M198 104h0M154 90h0M128 173h0M121 170h0M141 141h0M73 140h0M197 147h0M88 174h0M20 6h0M133 3h0M54 48h0M219 80h0M149 151h0M102 85h0M31 71h0M172 58h0M90 37h0M126 46h0M2 102h0M99 152h0M168 35h0M101 89h0M110 149h0M45 108h0M138 132h0M159 167h0M203 114h0M174 123h0M206 21h0M114 219h0M172 81h0M116 174h0M128 120h0M136 147h0M171 174h0M138 84h0M113 51h0M119 153h0M203 78h0M87 156h0M72 86h0M94 17h0M180 160h0M206 144h0M3 138h0M145 121h0M201 93h0M104 135h0M173 146h0M139 137h0M93 57h0M114 10h0M219 107h0M213 121h0M76 118h0M135 189h0M221 43h0M78 158h0M212 100h0M80 65h0M44 177h0M6 61h0M129 15h0M150 73h0M151 181h0M79 177h0M127 101h0M97 184h0M172 26h0M140 101h0M218 21h0M145 119h0M201 31h0M45 127h0M114 91h0M132 7h0M153 107h0M188 208h0M169 50h0M5 13h0M183 39h0M5 61h0M123 144h0M138 199h0M150 178h0M204 199h0M189 81h0M50 136h0M23 92h0M194 14h0M101 30h0M146 130h0M142 40h0M78 167h0M218 176h0M111 25h0M137 182h0M100 59h0M43 76h0M20 218h0M26 172h0M172 30h0M181 94h0M78 124h0M18 179h0M194 217h0M47 173h0M39 172h0M218 211h0M216 35h0M197 89h0M24 74h0M173 9h0M152 160h0M154 135h0M26 88h0M161 44h0M191 41h0M97 154h0M66 20h0M86 140h0M175 20h0M181 74h0M156 191h0M196 97h0M187 17h0M101 140h0M43 42h0M107 128h0M16 177h0M131 3h0M78 161h0M214 157h0M186 54h0M80 198h0M144 221h0M59 33h0M195 54h0M174 54h0M10 75h0M116 153h0M161 45h0M30 159h0M143 17h0M209 178h0M110 103h0M200 190h0M145 200h0M89 147h0M46 7h0M190 118h0M104 162h0M30 122h0M78 100h0M204 111h0M194 78h0M158 49h0M100 135h0M5 123h0M117 152h0M180 168h0M155 108h0M148 148h0M68 124h0M46 60h0M154 195h0M174 65h0M45 173h0M32 29h0M124 189h0M113 2h0M102 2h0M94 148h0M165 198h0M142 108h0M184 149h0M7 48h0M217 186h0M74 131h0M130 161h0M36 182h0M207 27h0M16 188h0M189 181h0M217 101h0M210 83h0M160 13h0M45 36h0M43 205h0M68 54h0M191 111h0M187 176h0M220 164h0M53 125h0M150 12h0M93 213h0M11 39h0M155 133h0M144 32h0M149 208h0M4 142h0M93 199h0M141 28h0M152 155h0M182 42h0M23 54h0M109 22h0M15 74h0M8 123h0M158 128h0M183 135h0M109 69h0M98 100h0M192 80h0M153 100h0M125 47h0M124 132h0M150 185h0M171 45h0M23 164h0M165 116h0M32 52h0M186 62h0M142 157h0M198 148h0M120 101h0M177 112h0M7 15h0M63 150h0M187 163h0M109 155h0M13 39h0M201 104h0M120 41h0M52 41h0M189 122h0M72 126h0M33 87h0M13 12h0M149 203h0M11 41h0M49 30h0M196 122h0M192 3h0M105 144h0M31 92h0M215 106h0M26 153h0M135 12h0M158 48h0M207 126h0M63 87h0M59 1h0M167 32h0M6 71h0M1 162h0M169 51h0M96 83h0M145 52h0M60 159h0M140 90h0M9 95h0M47 113h0M138 192h0M129 6h0M164 3h0M15 189h0M152 46h0M190 21h0M201 204h0M97 154h0M68 64h0M129 104h0M32 139h0M12 24h0M179 35h0M145 129h0M196 48h0M64 163h0M65 217h0M162 24h0M204 136h0M129 31h0M114 14h0M132 109h0M138 204h0M146 14h0M191 6h0M152 66h0M185 69h0M21 164h0M10 154h0M147 19h0M121 135h0M158 16h0M213 40h0M1 80h0M13 17h0M23 185h0M89 4h0M127 171h0M137 32h0M172 159h0M166 193h0M197 64h0M198 29h0M89 186h0M94 93h0M35 25h0M121 33h0M92 125h0M139 110h0M62 214h0M205 158h0M211 111h0M36 212h0M64 115h0M54 211h0M89 189h0M101 90h0M185 148h0M157 49h0M71 84h0M203 28h0M95 156h0M124 161h0M132 20h0M141 169h0M15 188h0M95 114h0M107 142h0M169 34h0M148 158h0M217 19h0M150 32h0M209 73h0M104 157h0M174 105h0M189 138h0M167 163h0M22 49h0M219 7h0M133 177h0M108 167h0M9 52h0M38 126h0M17 211h0M5 171h0M119 128h0M207 91h0M119 199h0M81 109h0M206 59h0M124 164h0M210 215h0M130 46h0M178 48h0M45 174h0M101 147h0M20 20h0M95 151h0M70 69h0M77 76h0M24 63h0M184 66h0M129 166h0M160 136h0M196 76h0M125 114h0M99 159h0M186 62h0M165 50h0M117 61h0M71 95h0M38 203h0M218 199h0M78 45h0M127 153h0M98 120h0M85 25h0M6 94h0M127 110h0M161 67h0M44 89h0M199 75h0M140 165h0M212 112h0M131 93h0M132 123h0M206 130h0M76 66h0M160 10h0M40 120h0M9 4h0M209 56h0M105 2h0M69 146h0M120 129h0M212 141h0M157 31h0M137 165h0M176 194h0M124 167h0M26 176h0M119 105h0M216 133h0M58 109h0M211 58h0M48 178h0M101 61h0M45 15h0M23 220h0M86 169h0M194 219h0M216 108h0M216 144h0M50 127h0M110 193h0M143 171h0M221 30h0M57 33h0M91 152h0M101 175h0M78 181h0M57 96h0M184 206h0M51 63h0M190 168h0M218 116h0M209 217h0M149 56h0M142 151h0M130 185h0M3 63h0M116 131h0M186 17h0M0 62h0M142 172h0M40 56h0M209 27h0M190 51h0M62 84h0M68 207h0M41 211h0M181 22h0M166 43h0M1 13h0M2 71h0M115 103h0M143 133h0M206 94h0M95 94h0M65 203h0M25 218h0M190 117h0M82 129h0M213 28h0M134 164h0M151 100h0M8 31h0M85 178h0M65 209h0M3 71h0M153 124h0M102 154h0M176 45h0M67 37h0M201 178h0M215 62h0M185 153h0M5 74h0M88 141h0M148 10h0M114 38h0M188 220h0M203 30h0M146 95h0M19 202h0M147 43h0M204 73h0M198 135h0M140 16h0M208 49h0M84 5h0M159 5h0M61 95h0M56 121h0M188 93h0M5 167h0M64 132h0M213 85h0M62 105h0M168 128h0M83 168h0M84 26h0M142 5h0M91 137h0M11 11h0M109 143h0M88 193h0M160 73h0M8 169h0M92 1h0M205 61h0M122 137h0M160 127h0M152 20h0M159 19h0M153 174h0M194 85h0M49 129h0M77 4h0M198 202h0M32 114h0M39 64h0M4 49h0M126 167h0M192 12h0M57 121h0M113 184h0M121 140h0M55 190h0M192 144h0M108 33h0M16 207h0M143 169h0M107 3h0M169 85h0M196 24h0M86 131h0M107 216h0M175 91h0M90 155h0M121 93h0M28 172h0M123 154h0M31 65h0M100 199h0M31 172h0M102 8h0M129 218h0M50 34h0M132 100h0M211 108h0M17 65h0M204 168h0M117 66h0M109 62h0M220 216h0M69 33h0M15 134h0M140 166h0M64 178h0M84 97h0M120 31h0M124 32h0M142 159h0M186 178h0M210 63h0M120 109h0M202 11h0M75 33h0M59 111h0M79 153h0M145 167h0M221 11h0M162 190h0M22 88h0M5 189h0M203 185h0M17 58h0M56 185h0M63 13h0M103 155h0M121 146h0M187 118h0M97 144h0M165 129h0M106 101h0M117 111h0M154 118h0M58 98h0M97 19h0M206 118h0M41 67h0M125 182h0M37 195h0M210 200h0M0 137h0M120 131h0M210 105h0M144 150h0M163 145h0M207 101h0M19 207h0M77 156h0M169 51h0M149 109h0M165 218h0M67 69h0M44 127h0M156 215h0M193 103h0M101 181h0M93 57h0M178 44h0M157 65h0M113 96h0M154 55h0M62 189h0M63 108h0M216 46h0M151 86h0M182 135h0M111 139h0M191 160h0M24 207h0M184 113h0M129 8h0M92 98h0M104 29h0M190 31h0M151 102h0M124 153h0M3 120h0M166 147h0M195 91h0M40 54h0M78 91h0M82 84h0M46 152h0M64 11h0M41 121h0M11 77h0M214 55h0M88 133h0M83 36h0M82 178h0M7 57h0M1 95h0M117 137h0M131 118h0M89 140h0M1 189h0M45 187h0M22 49h0M120 139h0M185 123h0M35 84h0M138 146h0M53 196h0M53 136h0M115 158h0M77 201h0M194 172h0M163 147h0M129 145h0M188 18h0M8 207h0M24 158h0M170 166h0M155 46h0M139 32h0M123 147h0M209 109h0M60 51h0M215 86h0M49 184h0M172 43h0M151 140h0M96 11h0M82 157h0M126 127h0M116 189h0M125 55h0M26 141h0M84 80h0M18 127h0M54 63h0M63 173h0M76 1h0M174 71h0M210 121h0M171 63h0M127 22h0M201 116h0M15 88h0M185 52h0M96 186h0M22 106h0M133 174h0M20 163h0M66 64h0M198 119h0M47 69h0M26 131h0M61 185h0M180 42h0M164 113h0M171 195h0M164 198h0M118 188h0M48 83h0M65 89h0M76 93h0M180 2h0M44 105h0M148 132h0M146 81h0M38 67h0M29 204h0M182 108h0M171 151h0M3 84h0M174 58h0M70 97h0M157 154h0M180 42h0M161 34h0M96 56h0M4 173h0M84 141h0M63 149h0M163 156h0M99 146h0M43 190h0M33 118h0M117 149h0M139 71h0M140 180h0M82 155h0M196 196h0M126 139h0M174 44h0M62 93h0M195 138h0M203 50h0M70 141h0M203 21h0M135 111h0M213 55h0M90 149h0M180 199h0M8 111h0M220 14h0M100 160h0M56 51h0M22 82h0M57 28h0M58 109h0M88 181h0M115 127h0M17 54h0M132 211h0M134 158h0M138 59h0M131 220h0M135 92h0M212 96h0M33 159h0M75 166h0M122 132h0M39 203h0M215 129h0M106 151h0M91 68h0M74 142h0M35 128h0M174 117h0M38 55h0M208 218h0M191 100h0M59 97h0M123 71h0M43 16h0M32 14h0M109 154h0M10 188h0M146 100h0M209 189h0M139 110h0M137 6h0M163 43h0M183 21h0M81 154h0M11 1h0M107 152h0M211 58h0M40 159h0M127 169h0M148 182h0M199 170h0M79 176h0M172 41h0M142 11h0M204 46h0M26 66h0M193 76h0M191 93h0M191 53h0M214 118h0M3 49h0M109 180h0M107 6h0M146 63h0M189 83h0M158 25h0M129 144h0M46 221h0M194 105h0M67 195h0M88 74h0M87 192h0M34 206h0M21 73h0M66 136h0M21 127h0M77 126h0M115 140h0M155 32h0M35 56h0M220 54h0M38 214h0M18 105h0M11 129h0M169 84h0M52 190h0M157 183h0M178 130h0M174 129h0M190 151h0M169 8h0M214 86h0M2 3h0M218 35h0M105 170h0M189 172h0M82 3h0M200 126h0M66 193h0M68 201h0M42 35h0M217 101h0M125 7h0M171 49h0M171 159h0M70 145h0M144 36h0M128 217h0M44 134h0M166 172h0M129 150h0M200 178h0M193 105h0M186 69h0M22 184h0M216 98h0M218 106h0M39 36h0M19 106h0M130 150h0M68 129h0M126 133h0M208 52h0M138 146h0M134 152h0M124 193h0M158 11h0M162 138h0M94 35h0M218 71h0M203 117h0M133 145h0M165 4h0M217 213h0M208 196h0M77 16h0M113 190h0M35 146h0M119 153h0M120 60h0M57 219h0M140 53h0M88 135h0M104 116h0M185 41h0M22 179h0M77 56h0M13 36h0M17 70h0M141 207h0M7 154h0M89 206h0M206 88h0M147 58h0M157 50h0M130 172h0M156 150h0M215 22h0M60 29h0M62 220h0M50 16h0M185 26h0M164 24h0M36 100h0M166 123h0M16 209h0M126 157h0M110 174h0M215 123h0M208 68h0M197 106h0M149 118h0M92 175h0M60 79h0M45 142h0M8 132h0M146 54h0M123 42h0M112 19h0M41 124h0M137 100h0M135 154h0M28 144h0M69 145h0M68 18h0M171 164h0M8 128h0M136 219h0M177 177h0M129 149h0M160 129h0M197 161h0M152 16h0M107 126h0M78 166h0M24 10h0M170 39h0M13 123h0M150 166h0M122 3h0M164 156h0M123 60h0M9 180h0M33 158h0M213 44h0M184 184h0M102 14h0M211 28h0M136 127h0M63 155h0M127 189h0M103 154h0M8 199h0M0 22h0M112 137h0M199 184h0M147 56h0M177 117h0M133 49h0M221 13h0M145 140h0M165 190h0M68 164h0M201 181h0M34 110h0M42 126h0M157 70h0M212 192h0M65 55h0M24 72h0M111 151h0M117 59h0M213 166h0M33 121h0M133 145h0M130 49h0M98 195h0M175 90h0M106 41h0M182 133h0M21 184h0M104 141h0M218 162h0M151 145h0M207 49h0M115 202h0M111 204h0M80 202h0M194 219h0M72 91h0M182 128h0M71 55h0M71 97h0M82 83h0M42 119h0M189 97h0M94 209h0M140 56h0M32 202h0M120 217h0M138 36h0M10 165h0M142 143h0M9 36h0M71 161h0M95 7h0M170 147h0M76 89h0M155 60h0M122 160h0M183 62h0M122 4h0M114 124h0M30 3h0M212 115h0M182 44h0M41 175h0M104 204h0M101 142h0M115 176h0M190 35h0M107 174h0M8 109h0M181 126h0M170 75h0M59 29h0M185 84h0M69 143h0M69 109h0M180 16h0M207 177h0M107 172h0M104 84h0M163 40h0M136 198h0M194 104h0M217 173h0M170 78h0M213 99h0M101 171h0M87 26h0M203 114h0M172 62h0M119 178h0M118 159h0M200 10h0M209 219h0M52 177h0M127 50h0M109 72h0M175 39h0M114 181h0M65 61h0M56 19h0M216 91h0M44 49h0M83 139h0M8 93h0M154 191h0M55 40h0M14 118h0M19 111h0M181 48h0M125 97h0M125 23h0M90 74h0M188 218h0M193 90h0M76 9h0M221 35h0M175 149h0M142 158h0M47 181h0M152 140h0M67 87h0M1 161h0M197 170h0M1 3h0M105 213h0M107 178h0M111 60h0M49 30h0M172 130h0M81 38h0M85 98h0M67 210h0M24 147h0M111 115h0M164 169h0M13 91h0M89 140h0M30 109h0M194 188h0M62 147h0M117 170h0M25 156h0M109 138h0M104 95h0M165 48h0M160 107h0M47 20h0M198 114h0M108 162h0M68 86h0M67 183h0M147 29h0M173 101h0M95 121h0M36 85h0M155 183h0M166 59h0M80 195h0M39 158h0M210 107h0M63 165h0M41 44h0M157 45h0M170 65h0M126 38h0M146 169h0M91 62h0M124 156h0M155 52h0M57 134h0M5 18h0M158 184h0M13 63h0M116 144h0M137 136h0M68 128h0M221 79h0M185 68h0M191 61h0M59 109h0M0 37h0M94 202h0M216 119h0M85 133h0M63 174h0M102 150h0M94 78h0M52 70h0M221 103h0M201 35h0M149 128h0M13 114h0M84 103h0M193 11h0M183 203h0M67 198h0M220 191h0M16 58h0M21 124h0M113 15h0M94 152h0M194 75h0M69 193h0M34 142h0M120 141h0M41 172h0M107 139h0M48 192h0M42 36h0M216 132h0M191 137h0M2 139h0M182 36h0M61 196h0M156 131h0M211 128h0M113 123h0M1 40h0M111 144h0M216 164h0M121 129h0M134 180h0M47 181h0M177 90h0M68 141h0M76 123h0M61 218h0M19 25h0M17 137h0M196 100h0M105 111h0M5 33h0M163 148h0M120 212h0M188 76h0M200 93h0M221 72h0M18 145h0M165 92h0M109 98h0M106 26h0M33 34h0M8 20h0M55 159h0M176 134h0M173 141h0M1 148h0M136 84h0M141 161h0M22 132h0M196 15h0M175 126h0M153 53h0M84 164h0M113 2h0M184 185h0M218 181h0M176 188h0M152 50h0M92 101h0M16 207h0M110 205h0M9 56h0M85 47h0M72 17h0M119 138h0M87 208h0M214 113h0M62 197h0M203 165h0M184 204h0M114 78h0M130 91h0M84 151h0M44 214h0M218 109h0M204 189h0M89 13h0M66 72h0M67 214h0M89 94h0M136 207h0M49 162h0M200 18h0M189 100h0M133 208h0M168 49h0M20 137h0M191 52h0M18 153h0M12 91h0M158 161h0M62 92h0M184 101h0M38 134h0M107 139h0M97 191h0M68 184h0M213 115h0M137 77h0M46 143h0M120 158h0M207 88h0M121 24h0M55 96h0M183 8h0M144 77h0M192 138h0M89 142h0M104 65h0M85 197h0M219 211h0M94 165h0M72 37h0M181 113h0M153 156h0M50 170h0M180 108h0M147 50h0M215 114h0M126 85h0M34 47h0M20 104h0M106 65h0M55 80h0M102 94h0M179 171h0M4 74h0M156 50h0M13 167h0M135 185h0M34 16h0M197 88h0M215 79h0M111 181h0M189 45h0M27 58h0M3 72h0M201 1h0M129 174h0M156 213h0M182 34h0M162 19h0M160 160h0M24 17h0M50 169h0M70 45h0M174 119h0M126 132h0M122 17h0M215 63h0M84 159h0M174 50h0M165 85h0M139 146h0M192 50h0M220 36h0M172 129h0M38 17h0M125 71h0M113 123h0M204 123h0M48 116h0M120 173h0M112 164h0M118 44h0M122 152h0M45 145h0M10 56h0M32 205h0M134 54h0M24 154h0M153 58h0M140 180h0M203 132h0M71 161h0M203 112h0M156 28h0M163 20h0M194 30h0M200 137h0M13 8h0M193 204h0M51 170h0M23 97h0M65 87h0M128 161h0M27 117h0M106 141h0M180 139h0M49 82h0M43 156h0M115 143h0M138 158h0M100 127h0M92 146h0M210 24h0M14 215h0M106 187h0M155 209h0M126 171h0M116 84h0M52 196h0M115 148h0M112 191h0M130 147h0M166 39h0M186 188h0M134 123h0M202 121h0M209 159h0M25 98h0M158 75h0M209 153h0M153 110h0M155 114h0M127 135h0M191 171h0M128 166h0M207 120h0M115 142h0M48 82h0M27 179h0M212 98h0M213 135h0M62 149h0M39 88h0M163 35h0M176 58h0M175 152h0M81 10h0M25 101h0M102 218h0M174 14h0M26 209h0M39 152h0M124 201h0M100 112h0M62 166h0M45 116h0M182 33h0M30 57h0M144 45h0M86 166h0M74 174h0M202 96h0M194 103h0M152 36h0M199 34h0M53 45h0M186 43h0M38 153h0M125 135h0M68 95h0M222 103h0M190 206h0M16 173h0M84 75h0M115 118h0M63 121h0M200 54h0M142 152h0M140 86h0M30 123h0M93 203h0M220 94h0M156 75h0M106 138h0M141 34h0M206 108h0M135 150h0M211 156h0M192 180h0M119 114h0M157 180h0M164 60h0M156 97h0M143 93h0M162 123h0M37 89h0M187 77h0M175 11h0M104 209h0M55 31h0M221 109h0M16 113h0M97 206h0M154 193h0M13 211h0M157 73h0M124 148h0M175 178h0M112 198h0M145 166h0M119 23h0M84 57h0M70 45h0M90 108h0M74 210h0M166 195h0M115 113h0M202 51h0M36 44h0M0 92h0M165 74h0M147 94h0M96 204h0M11 195h0M95 157h0M102 173h0M33 102h0M145 173h0M117 162h0M127 191h0M137 147h0M1 122h0M61 143h0M173 54h0M205 75h0M205 28h0M70 168h0M155 183h0M98 18h0M132 134h0M161 130h0M109 0h0M177 172h0M143 155h0M84 51h0M163 151h0M179 211h0M208 41h0M20 99h0M192 139h0M192 210h0M157 88h0M110 147h0M138 132h0M55 51h0M55 88h0M79 57h0M104 145h0M183 36h0M5 108h0M46 173h0M219 155h0M96 122h0M88 119h0M180 21h0M222 215h0M93 156h0M117 164h0M12 189h0M214 42h0M63 86h0M207 101h0M88 28h0M9 121h0M110 152h0M128 41h0M100 149h0M92 1h0M149 61h0M163 41h0M179 41h0M108 135h0M180 121h0M88 192h0M123 38h0M218 29h0M53 73h0M216 116h0M63 109h0M148 152h0M110 42h0M115 10h0M102 40h0M104 107h0M85 107h0M196 167h0M165 98h0M179 94h0M26 61h0M101 89h0M82 96h0M80 56h0M196 201h0M38 74h0M176 169h0M200 74h0M32 5h0M161 74h0M183 197h0M96 59h0M8 99h0M94 110h0M51 105h0M20 3h0M206 134h0M72 86h0M191 53h0M128 15h0M150 148h0M66 166h0M158 211h0M36 207h0M128 205h0M85 10h0M74 171h0M65 97h0M121 123h0M189 24h0M180 212h0M99 180h0M135 60h0M160 172h0M167 101h0M55 108h0M127 190h0M12 124h0M1 100h0M82 121h0M133 140h0M209 190h0M123 151h0M3 103h0M206 81h0M136 150h0M102 21h0M170 141h0M198 136h0M86 151h0M17 55h0M125 51h0M114 83h0M91 131h0M79 193h0M207 51h0M93 174h0M221 210h0M188 144h0M212 121h0M195 6h0M20 191h0M83 185h0M52 94h0M132 65h0M201 122h0M157 114h0M146 172h0M62 108h0M55 39h0M147 119h0M122 55h0M173 31h0M115 173h0M179 202h0M131 214h0M65 113h0M178 113h0M95 143h0M186 100h0M91 1h0M189 49h0M116 141h0M153 122h0M122 8h0M162 4h0M136 159h0M143 15h0M171 146h0M140 76h0M136 220h0M125 149h0M120 128h0M125 114h0M134 43h0M130 110h0M42 218h0M130 154h0M77 141h0M47 51h0M74 58h0M207 12h0M101 101h0M206 117h0M210 54h0M44 186h0M158 182h0M180 78h0M171 151h0M141 36h0M120 180h0M59 160h0M165 167h0M72 168h0M100 112h0M174 38h0M44 8h0M141 36h0M60 59h0M80 32h0M126 199h0M183 138h0M142 141h0M151 57h0M190 45h0M151 125h0M203 217h0M95 176h0M19 159h0M66 178h0M77 8h0M168 151h0M112 156h0M66 77h0M201 146h0M128 180h0M156 73h0M96 1h0M68 169h0M149 184h0M72 178h0M43 71h0M203 132h0M126 211h0M103 138h0M59 90h0M190 167h0M104 195h0M8 74h0M79 125h0M139 20h0M94 68h0M109 206h0M90 102h0M148 218h0M106 10h0M110 145h0M78 169h0M146 41h0M61 124h0M177 158h0M120 15h0M33 148h0M18 206h0M56 192h0M72 139h0M46 139h0M175 172h0M217 81h0M137 178h0M106 215h0M131 43h0M89 183h0M34 186h0M175 177h0M201 3h0M110 61h0M155 152h0M40 17h0M69 20h0M28 96h0M161 213h0M41 87h0M115 162h0M155 207h0M72 106h0M94 97h0M144 191h0M74 203h0M194 85h0M94 14h0M134 184h0M51 125h0M138 92h0M91 204h0M72 126h0M112 206h0M148 159h0M182 46h0M49 131h0M181 81h0M214 131h0M76 210h0M49 213h0M84 67h0M78 123h0M58 14h0M27 17h0M121 61h0M8 128h0M48 132h0M81 217h0M57 198h0M135 175h0M87 155h0M113 159h0M55 170h0M211 28h0M217 52h0M13 141h0M159 129h0M171 72h0M62 102h0M200 83h0M170 125h0M140 146h0M108 116h0M212 117h0M148 118h0M62 202h0M93 177h0M164 101h0M135 173h0M12 2h0M149 58h0M207 17h0M22 139h0M185 44h0M91 106h0M27 15h0M19 116h0M190 29h0M163 177h0M156 65h0M105 97h0M101 15h0M198 193h0M117 138h0M106 131h0M25 137h0M47 6h0M220 100h0M52 214h0M100 87h0M202 137h0M143 61h0M107 76h0M69 45h0M104 185h0M203 112h0M211 92h0M125 95h0M22 105h0M29 65h0M73 172h0M113 163h0M19 213h0M122 84h0M201 104h0M67 130h0M201 93h0M99 10h0M205 136h0M52 185h0M177 54h0M93 180h0M141 191h0M135 56h0M133 161h0M123 11h0M38 78h0M102 192h0M151 158h0M181 93h0M181 129h0M61 35h0M192 85h0M91 137h0M107 135h0M102 131h0M148 148h0M117 188h0M152 182h0M96 117h0M181 60h0M145 210h0M111 95h0M153 198h0M109 106h0M121 77h0M76 174h0M206 105h0M170 56h0M16 8h0M27 16h0M188 91h0M47 35h0M61 57h0M106 162h0M130 51h0M183 45h0M105 159h0M63 153h0M80 138h0M189 1h0M183 199h0M58 93h0M166 104h0M200 100h0M184 141h0M181 45h0M72 91h0M221 3h0M88 90h0M102 209h0M41 118h0M72 179h0M32 49h0M82 187h0M5 28h0M141 27h0M104 194h0M198 109h0M33 83h0M91 171h0M106 143h0M176 36h0M114 198h0M115 166h0M191 186h0M104 89h0M92 138h0M64 75h0M51 175h0M90 176h0M24 28h0M211 128h0M77 55h0M75 135h0M176 21h0M70 27h0M117 109h0M4 135h0M202 28h0M24 142h0M209 101h0M94 133h0M70 151h0M75 173h0M34 144h0M171 220h0M193 219h0M162 215h0M98 198h0M84 193h0M169 8h0M137 135h0M37 136h0M77 10h0M165 66h0M179 170h0M188 122h0M203 57h0M125 151h0M209 107h0M96 56h0M183 178h0M151 19h0M161 112h0M190 118h0M99 123h0M152 108h0M193 179h0M103 30h0M205 43h0M111 158h0M206 42h0M158 164h0M68 153h0M204 219h0M122 199h0M157 185h0M104 64h0M54 59h0M55 4h0M140 61h0M30 176h0M153 50h0M140 191h0M189 176h0M184 166h0M158 171h0M209 216h0M144 61h0M195 43h0M113 26h0M132 99h0M61 145h0M10 28h0M22 217h0M25 107h0M87 164h0M29 136h0M121 132h0M171 65h0M60 26h0M218 157h0M206 60h0M121 89h0M54 55h0M121 151h0M15 7h0M131 162h0M91 74h0M159 159h0M0 55h0M35 189h0M106 8h0M182 62h0M67 126h0M140 216h0M41 143h0M56 78h0M112 83h0M187 216h0M212 62h0M27 152h0M14 188h0M104 33h0M186 26h0M221 35h0M77 141h0M82 211h0M71 162h0M0 58h0M99 146h0M189 126h0M215 115h0M52 193h0M110 130h0M103 167h0M93 140h0M191 26h0M103 209h0M12 190h0M181 30h0M64 8h0M51 90h0M149 41h0M204 59h0M100 182h0M205 62h0M209 157h0M81 16h0M32 27h0M65 158h0M209 77h0M65 136h0M75 71h0M210 48h0M30 179h0M210 72h0M150 220h0M24 84h0M201 173h0M78 10h0M132 138h0M92 65h0M97 142h0M150 158h0M143 96h0M160 153h0M215 140h0M165 63h0M4 133h0M28 124h0M64 29h0M1 216h0M36 211h0M91 143h0M71 25h0M76 129h0" stroke="#d9a76e" stroke-width="2.0" stroke-linecap="round" stroke-opacity="0.5"/><path transform="translate(299.4 661) scale(.5)" d="M110 166h0M140 173h0M93 170h0M104 159h0M118 147h0M126 200h0M94 165h0M119 147h0M132 184h0M100 149h0M129 168h0M89 156h0M159 142h0M121 163h0M92 158h0M127 129h0M107 152h0M131 142h0M134 172h0M133 154h0M103 183h0M100 138h0M121 156h0M120 145h0M104 187h0M104 150h0M138 149h0M134 174h0M113 164h0M146 158h0M152 152h0M114 155h0M134 148h0M119 164h0M112 199h0M98 155h0M131 137h0M117 160h0M114 163h0M115 192h0M104 200h0M123 153h0M135 134h0M121 166h0M138 122h0M118 154h0M97 194h0M149 148h0M102 140h0M77 211h0M120 177h0M99 170h0M159 168h0M113 151h0M89 149h0M137 170h0M74 183h0M142 177h0M110 182h0M73 168h0M129 175h0M108 193h0M139 173h0M115 168h0M107 173h0M75 207h0M127 146h0M101 157h0M95 179h0M109 172h0M122 172h0M131 171h0M94 151h0M108 191h0M117 183h0M83 204h0M128 164h0M113 168h0M128 164h0M136 173h0M105 151h0M129 156h0M95 192h0M97 154h0M81 167h0M84 196h0M78 191h0M107 155h0M110 209h0M90 168h0M99 191h0M92 209h0M128 183h0M109 162h0M95 170h0M83 202h0M135 149h0M88 168h0M76 167h0M120 167h0M152 145h0M133 172h0M117 177h0M124 150h0M97 150h0M81 134h0M110 177h0M136 135h0M101 170h0M102 153h0M137 145h0M74 159h0M92 176h0M82 188h0M95 172h0M111 171h0M138 181h0M93 167h0M105 199h0M118 172h0M101 173h0M87 186h0M133 158h0M130 158h0M91 151h0M104 168h0M92 180h0M144 145h0M136 181h0M135 172h0M110 199h0M78 177h0M101 178h0M133 156h0M115 149h0M116 157h0M125 143h0M112 154h0M89 150h0M115 168h0M139 148h0M126 149h0M101 166h0M99 185h0M164 159h0M117 179h0M127 168h0M111 140h0M139 163h0M66 172h0M102 160h0M158 170h0M119 182h0M110 159h0M109 153h0M68 167h0M107 177h0M91 189h0M106 170h0M133 156h0M147 144h0M137 179h0M78 154h0M144 168h0M74 169h0M102 188h0M71 180h0M128 168h0M110 179h0M88 169h0M154 156h0M75 181h0M90 172h0M135 156h0M136 155h0M144 128h0M125 190h0M139 152h0M152 189h0M153 143h0M85 147h0M99 161h0M79 196h0M63 165h0M89 187h0M107 170h0M139 185h0M113 153h0M135 142h0M146 170h0M113 183h0M110 169h0M139 168h0M117 180h0M130 159h0M113 140h0M146 181h0M111 191h0M85 187h0M165 173h0M110 193h0M126 164h0M91 184h0M120 149h0M135 153h0M91 173h0M120 183h0M80 181h0M99 168h0M76 188h0M113 196h0M125 174h0M155 136h0M103 177h0M93 139h0M92 192h0M95 156h0M93 156h0M133 164h0M114 168h0M102 191h0M126 149h0M104 180h0M108 184h0M96 173h0M129 159h0M150 168h0M143 148h0M140 160h0M107 175h0M115 172h0M124 191h0M71 179h0M130 154h0M98 178h0M106 167h0M114 189h0M114 148h0M88 168h0M118 187h0M121 139h0M81 173h0M143 175h0M123 143h0M107 178h0M98 181h0M84 212h0M117 145h0M135 160h0M114 167h0M135 158h0M134 157h0M71 144h0M109 172h0M114 140h0M93 190h0M145 143h0M141 170h0M85 165h0M124 135h0M84 155h0M80 162h0M133 146h0M83 182h0M143 140h0M129 149h0M142 152h0M141 159h0M98 197h0M113 149h0M111 168h0M165 161h0M111 150h0M139 152h0M112 157h0M110 170h0M161 183h0M98 187h0M132 162h0M139 162h0M137 124h0M112 201h0M129 166h0M99 187h0M101 161h0M107 176h0M130 145h0M135 172h0M132 147h0M104 153h0M125 157h0M94 170h0M120 158h0M119 193h0M118 164h0M128 188h0M86 184h0M71 192h0M85 150h0M54 172h0" stroke="#c98a4c" stroke-width="2.2" stroke-linecap="round" stroke-opacity="0.7"/><path transform="translate(299.4 661) scale(.5)" d="M39 215h0M81 95h0M61 39h0M159 41h0M69 81h0M120 17h0M10 61h0M46 22h0M146 126h0M77 176h0M94 61h0M17 95h0M172 68h0M16 78h0M144 196h0M56 63h0M17 106h0M144 197h0M202 212h0M144 65h0M88 134h0M161 171h0M194 124h0M46 76h0M3 102h0M26 81h0M220 192h0M86 177h0M19 66h0M123 167h0M56 20h0M192 110h0M20 64h0M87 116h0M184 21h0M146 148h0M159 131h0M21 102h0M69 149h0M24 155h0M74 219h0M117 118h0M93 34h0M27 176h0M56 182h0M111 80h0M104 77h0M22 197h0M98 95h0M32 55h0M123 115h0M57 111h0M133 84h0M96 204h0M163 68h0M213 111h0M178 1h0M25 34h0M154 13h0M158 134h0M143 88h0M137 19h0M135 214h0M152 167h0M101 208h0M171 142h0M211 187h0M117 94h0M46 219h0M149 128h0M158 143h0M33 149h0M43 8h0M125 113h0M0 31h0M5 37h0M179 54h0M124 130h0M56 218h0M90 12h0M153 137h0M69 48h0M89 67h0M27 219h0M21 37h0M53 130h0M23 94h0M185 93h0M101 174h0M76 90h0M130 147h0M32 74h0M85 141h0M78 219h0M219 214h0M146 119h0M170 197h0M178 26h0M11 61h0M81 95h0M176 64h0M157 63h0M170 141h0M14 59h0M85 95h0M63 127h0M195 12h0M21 220h0M201 39h0M109 133h0M199 157h0M176 151h0M87 17h0M158 197h0M68 198h0M86 191h0M87 60h0M42 193h0M148 28h0M22 94h0M45 162h0M27 82h0M74 29h0M120 21h0M55 81h0M52 183h0M162 210h0M24 67h0M35 171h0M95 93h0M111 137h0M186 160h0M51 8h0M191 158h0M123 11h0M66 4h0M132 60h0M115 26h0M205 217h0M52 57h0M26 7h0M201 28h0M199 26h0M61 48h0M219 2h0M30 132h0M113 31h0M206 157h0M210 88h0M76 154h0M70 88h0M114 126h0M18 153h0M115 165h0M101 126h0M89 218h0M166 26h0M30 17h0M15 144h0M14 163h0M20 57h0M13 55h0M164 122h0M6 23h0M95 69h0M74 10h0M189 27h0M26 171h0M195 34h0M10 36h0M5 122h0M17 55h0M153 86h0M90 113h0M151 79h0M44 157h0M144 20h0M22 170h0M60 90h0M213 210h0M107 197h0M83 202h0M157 179h0M108 202h0M4 168h0M118 3h0M76 148h0M33 124h0M104 107h0M39 215h0M131 82h0M38 214h0M51 53h0M52 47h0M83 149h0M170 136h0M141 56h0M69 152h0M220 1h0M58 165h0M187 68h0M92 2h0M174 82h0M190 14h0M50 138h0M19 19h0M24 154h0M14 53h0M53 203h0M216 193h0M177 35h0M123 37h0M97 140h0M58 193h0M43 60h0M163 202h0M209 7h0M78 56h0M135 84h0M43 152h0M207 169h0M40 31h0M217 38h0M112 131h0M120 180h0M27 155h0M54 219h0M155 210h0M90 53h0M34 95h0M1 63h0M95 30h0M83 7h0M114 1h0M121 57h0M24 210h0M151 49h0M72 40h0M211 205h0M124 75h0M212 160h0M112 145h0M16 181h0M196 154h0M44 25h0M166 172h0M174 153h0M64 48h0M167 108h0M15 145h0M222 10h0M186 62h0M120 180h0M49 61h0M27 52h0M158 216h0M186 165h0M155 70h0M198 68h0M221 174h0M79 27h0M32 179h0M16 130h0M4 175h0M78 209h0M77 112h0M35 18h0M94 44h0M8 10h0M92 76h0M215 77h0M202 187h0M25 170h0M107 121h0M67 219h0M172 193h0M215 60h0M40 187h0M180 155h0M127 206h0M86 14h0M104 101h0M86 163h0M171 168h0M207 100h0M32 59h0M169 189h0M174 83h0M216 81h0M185 208h0M130 154h0M36 176h0M4 84h0M122 206h0M20 219h0M64 94h0M152 100h0M61 14h0M36 9h0M41 57h0M54 103h0M130 23h0M184 159h0M71 100h0M206 146h0M116 48h0M9 36h0M100 57h0M11 103h0M21 16h0M146 107h0M35 48h0M177 37h0M126 168h0M142 49h0M100 13h0M142 33h0M118 113h0M180 51h0M174 206h0M181 142h0M70 138h0M180 10h0M45 11h0M156 203h0M1 192h0M34 123h0M216 144h0M31 40h0M173 47h0M95 212h0M37 47h0M165 165h0M205 131h0M194 144h0M217 69h0M184 124h0M191 156h0M171 164h0M34 144h0M185 179h0M11 176h0M76 83h0M192 41h0M137 69h0M34 72h0M107 18h0M21 165h0M5 160h0M11 79h0M96 208h0M170 116h0M217 133h0M41 155h0M25 6h0M120 213h0M115 25h0M106 71h0M73 46h0M111 2h0M139 41h0M207 74h0M66 151h0M181 83h0M100 176h0M143 27h0M20 195h0M36 171h0M49 50h0M209 146h0M18 143h0M72 139h0M173 138h0M56 203h0M126 188h0M200 187h0M115 217h0M23 204h0M80 142h0M203 192h0M60 53h0M49 119h0M26 118h0M40 130h0M193 100h0M179 7h0M139 198h0M108 7h0M169 81h0M126 51h0M201 35h0M16 209h0M154 158h0M171 183h0M222 33h0M119 94h0M170 155h0M10 116h0M184 72h0M186 42h0M0 44h0M187 205h0M69 169h0M33 186h0M103 18h0M165 46h0M44 91h0M163 169h0M103 189h0M59 81h0M103 71h0M215 213h0M97 91h0M191 31h0M108 82h0M59 158h0M51 115h0M190 34h0M137 182h0M206 21h0M82 65h0M106 116h0M212 211h0M205 209h0M73 66h0M104 107h0M11 219h0M52 211h0M177 160h0M220 142h0M139 23h0M4 192h0M4 199h0M123 125h0M168 119h0M72 2h0M67 42h0M137 119h0M103 172h0M95 7h0M44 102h0M120 49h0M194 94h0M155 64h0M99 32h0M155 172h0M59 212h0M5 61h0M44 137h0M30 197h0M112 155h0M151 168h0M48 103h0M144 156h0M69 66h0M52 205h0M158 9h0M194 184h0M198 111h0M77 149h0M162 218h0M29 178h0M116 185h0M205 203h0M161 24h0M12 125h0M173 31h0M213 205h0M20 166h0M51 94h0M73 165h0M6 60h0M74 185h0M61 138h0M181 217h0M137 167h0M217 39h0M141 138h0M212 43h0M30 11h0M128 2h0M30 95h0M107 104h0M180 91h0M122 170h0M55 95h0M70 183h0M142 204h0M68 106h0M123 76h0M65 178h0M41 104h0M6 141h0M194 113h0M4 160h0M221 28h0M202 186h0M71 64h0M216 211h0M220 151h0M163 144h0M121 58h0M51 210h0M3 70h0M12 123h0M139 74h0M142 157h0M59 169h0M114 148h0M174 19h0M121 30h0M105 91h0M15 211h0M97 56h0M180 157h0M24 177h0M187 159h0M211 1h0M112 219h0M125 88h0M72 48h0M220 71h0M200 164h0M187 220h0M158 206h0M181 64h0M3 173h0M8 178h0M29 44h0M26 159h0M42 70h0M116 185h0M121 51h0M73 32h0M94 195h0M79 83h0M211 100h0M10 164h0M205 182h0M69 4h0M64 50h0M125 100h0M190 83h0M77 55h0M149 38h0M10 85h0M130 158h0M102 36h0M179 56h0M99 177h0M162 70h0M112 131h0M20 111h0M132 30h0M109 163h0M190 46h0M222 187h0M27 176h0M180 144h0M217 158h0" stroke="#5555c6" stroke-width="2.6" stroke-linecap="round" stroke-opacity="0.85"/><polygon points="350,677 360,678 369,681 370,688 377,692 384,696 392,703 396,708 393,714 392,723 400,728 408,730 411,735 411,746 400,745 385,741 373,738 370,728 360,720 355,714 350,705 346,698 346,688" fill="#fff" filter="url(#bl2)"/><polygon points="378,660 412,660 412,673 404,671 395,667 385,665" fill="#fff" filter="url(#bl2)"/></g><clipPath id="cp4"><rect x="37.5" y="784" width="110.5" height="109.5"/></clipPath><g clip-path="url(#cp4)"><rect x="37.5" y="784" width="110.5" height="109.5" fill="#f8f4ef"/><path transform="translate(37.5 784) scale(.5)" d="M0 29h0M28 123h0M182 141h0M9 108h0M111 85h0M135 74h0M21 116h0M152 167h0M187 213h0M218 125h0M20 105h0M123 118h0M59 47h0M47 83h0M194 211h0M61 185h0M19 130h0M59 171h0M218 117h0M113 137h0M68 205h0M120 90h0M64 106h0M100 22h0M40 183h0M26 164h0M90 115h0M169 107h0M84 90h0M127 211h0M199 95h0M41 71h0M153 202h0M193 48h0M158 126h0M75 17h0M75 82h0M119 102h0M171 16h0M131 69h0M145 181h0M117 85h0M121 9h0M22 190h0M7 104h0M168 106h0M174 133h0M51 156h0M86 153h0M94 197h0M47 202h0M195 48h0M189 14h0M211 108h0M95 31h0M98 54h0M112 63h0M58 213h0M55 63h0M134 136h0M188 63h0M84 121h0M172 85h0M24 32h0M175 206h0M59 44h0M167 10h0M216 151h0M82 54h0M34 20h0M11 91h0M18 99h0M218 92h0M182 79h0M66 108h0M182 205h0M134 201h0M28 162h0M141 106h0M62 164h0M113 189h0M213 84h0M168 140h0M123 46h0M16 202h0M214 47h0M206 142h0M96 112h0M103 79h0M1 48h0M189 172h0M139 184h0M19 199h0M59 84h0M181 13h0M57 198h0M175 197h0M28 67h0M175 101h0M64 89h0M10 5h0M100 199h0M140 33h0M46 20h0M146 188h0M106 62h0M200 140h0M182 203h0M101 193h0M146 5h0M46 72h0M164 36h0M216 162h0M216 69h0M202 129h0M144 124h0M127 19h0M206 139h0M99 73h0M16 155h0M112 101h0M19 103h0M198 109h0M173 97h0M204 55h0M116 31h0M104 46h0M106 158h0M56 187h0M88 112h0M157 59h0M78 125h0M195 121h0M208 219h0M163 92h0M100 46h0M177 94h0M11 53h0M43 34h0M87 202h0M106 172h0M211 9h0M80 96h0M159 119h0M215 27h0M192 13h0M110 67h0M176 23h0M134 186h0M24 108h0M3 165h0M131 216h0M55 27h0M206 111h0M158 11h0M115 102h0M68 75h0M76 41h0M40 192h0M79 7h0M21 15h0M125 168h0M35 100h0M165 86h0M207 55h0M93 62h0M21 76h0M80 109h0M151 57h0M196 125h0M176 47h0M201 74h0M203 218h0M52 201h0M42 107h0M53 86h0M26 77h0M79 28h0M112 80h0M73 125h0M63 201h0M173 131h0M10 103h0M191 54h0M54 133h0M107 93h0M27 39h0M1 172h0M82 54h0M159 94h0M45 30h0M33 212h0M56 9h0M220 19h0M117 6h0M78 23h0M1 110h0M188 41h0M149 36h0M220 45h0M105 210h0M92 146h0M112 119h0M45 11h0M43 212h0M108 28h0M47 8h0M158 43h0M183 59h0M115 216h0M198 59h0M93 213h0M180 76h0M168 74h0M128 46h0M113 136h0M60 145h0M113 147h0M194 172h0M132 145h0M178 101h0M79 14h0M30 75h0M162 22h0M50 167h0M147 87h0M21 124h0M116 86h0M218 92h0M37 99h0M149 70h0M140 20h0M99 103h0M152 189h0M100 76h0M182 119h0M86 54h0M220 168h0M183 127h0M135 156h0M72 137h0M155 22h0M39 76h0M188 15h0M143 38h0M165 91h0M205 49h0M180 93h0M36 111h0M184 188h0M53 177h0M178 81h0M74 86h0M90 185h0M215 79h0M82 193h0M166 116h0M134 32h0M151 64h0M68 175h0M206 72h0M144 177h0M104 211h0M81 19h0M180 72h0M181 78h0M3 173h0M10 153h0M81 103h0M30 173h0M166 192h0M167 196h0M13 49h0M171 137h0M9 25h0M86 32h0M7 134h0M56 23h0M66 32h0M196 192h0M127 46h0M167 157h0M153 176h0M36 89h0M43 192h0M14 176h0M82 170h0M112 146h0M106 69h0M45 38h0M35 210h0M87 67h0M31 121h0M23 16h0M9 206h0M20 207h0M80 185h0M164 199h0M59 60h0M83 11h0M35 110h0M150 88h0M62 93h0M13 141h0M109 176h0M77 159h0M184 171h0M23 54h0M78 10h0M139 177h0M117 83h0M173 210h0M1 34h0M159 34h0M146 50h0M207 17h0M194 44h0M80 90h0M91 200h0M139 161h0M79 0h0M181 25h0M50 62h0M73 15h0M77 38h0M24 127h0M124 72h0M120 215h0M187 93h0M104 34h0M212 142h0M88 133h0M187 62h0M80 160h0M161 198h0M24 27h0M202 140h0M86 111h0M168 14h0M167 12h0M1 100h0M179 0h0M78 17h0M77 39h0M211 18h0M130 108h0M164 175h0M219 62h0M213 132h0M103 172h0M216 112h0M114 55h0M149 196h0M58 182h0M169 137h0M38 24h0M211 60h0M139 120h0M194 133h0M106 112h0M29 156h0M175 142h0M150 18h0M106 206h0M21 40h0M90 121h0M174 30h0M20 110h0M39 208h0M79 213h0M119 78h0M120 65h0M14 183h0M164 111h0M106 185h0M103 137h0M196 154h0M61 100h0M11 166h0M49 180h0M171 147h0M59 204h0M98 149h0M63 160h0M39 181h0M155 195h0M110 56h0M38 64h0M109 131h0M172 76h0M163 106h0M117 51h0M94 82h0M49 36h0M152 68h0M48 181h0M65 85h0M81 80h0M121 191h0M208 82h0M198 119h0M157 97h0M35 217h0M63 9h0M188 120h0M65 49h0M54 120h0M107 17h0M104 143h0M168 13h0M215 75h0M30 140h0M111 39h0M152 137h0M129 148h0M90 151h0M220 44h0M45 7h0M218 143h0M183 93h0M212 121h0M69 145h0M53 82h0M10 167h0M111 50h0M201 185h0M10 203h0M117 36h0M203 65h0M197 55h0M44 73h0M5 63h0M90 96h0M194 140h0M54 41h0M212 178h0M109 206h0M73 94h0M27 183h0M214 134h0M99 96h0M213 187h0M164 140h0M26 4h0M141 164h0M177 188h0M202 197h0M77 88h0M170 171h0M190 40h0M58 13h0M147 110h0M34 13h0M115 192h0M15 48h0M4 200h0M78 153h0M90 49h0M142 128h0M176 144h0M194 199h0M29 136h0M81 144h0M151 12h0M110 209h0M173 193h0M103 127h0M7 9h0M94 207h0M6 61h0M191 135h0M39 1h0M187 141h0M63 205h0M186 176h0M189 130h0M105 59h0M208 25h0M2 32h0M185 8h0M127 132h0M53 34h0M49 11h0M214 22h0M25 152h0M99 96h0M94 78h0M142 216h0M139 143h0M44 158h0M186 129h0M133 190h0M184 138h0M148 137h0M66 82h0M87 40h0M16 191h0M11 174h0M147 200h0M119 87h0M163 57h0M194 98h0M45 45h0M67 48h0M198 70h0M39 55h0M143 146h0M51 217h0M47 98h0M151 39h0M135 35h0M107 46h0M135 23h0M76 213h0M208 170h0M127 59h0M174 50h0M124 145h0M210 184h0M40 122h0M160 202h0M158 54h0M190 60h0M157 91h0M107 206h0M90 202h0M114 166h0M132 48h0M140 107h0M211 142h0M181 155h0M138 100h0M148 208h0M82 21h0M7 40h0M104 191h0M111 99h0M74 38h0M159 30h0M215 178h0M134 196h0M161 72h0M216 9h0M212 6h0M73 50h0M7 99h0M176 160h0M209 160h0M174 41h0M29 61h0M121 194h0M60 202h0M145 41h0M31 60h0M175 30h0M91 37h0M178 103h0M146 207h0M197 133h0M132 70h0M103 210h0M56 117h0M91 5h0M214 2h0M50 25h0M187 197h0M36 70h0M83 168h0M21 122h0M55 165h0M117 61h0M45 105h0M180 133h0M176 169h0M36 29h0M141 97h0M194 18h0M178 64h0M171 85h0M55 75h0M73 209h0M100 89h0M140 109h0M114 210h0M96 36h0M26 171h0M92 219h0M81 66h0M133 110h0M92 94h0M217 159h0M143 29h0M173 48h0M124 133h0M178 128h0M184 18h0M59 187h0M69 81h0M87 198h0M193 131h0M181 76h0M147 115h0M189 2h0M82 209h0M116 147h0M214 123h0M97 83h0M213 41h0M197 14h0M27 26h0M128 21h0M14 155h0M124 117h0M214 53h0M127 214h0M55 107h0M106 216h0M17 57h0M193 186h0M127 13h0M109 2h0M71 187h0M190 128h0M146 56h0M157 43h0M40 108h0M51 52h0M146 168h0M190 4h0M175 167h0M177 56h0M6 171h0M100 146h0M33 86h0M7 3h0M92 180h0M153 94h0M111 109h0M43 58h0M33 64h0M194 54h0M149 135h0M76 171h0M76 11h0M34 60h0M18 4h0M88 92h0M144 67h0M150 87h0M187 160h0M131 89h0M63 146h0M89 204h0M24 183h0M2 14h0M68 204h0M67 197h0M181 167h0M203 101h0M79 192h0M67 55h0M28 9h0M183 117h0M104 193h0M198 9h0M124 164h0M11 138h0M174 19h0M171 203h0M187 145h0M3 57h0M97 17h0M31 40h0M54 190h0M38 47h0M194 3h0M216 67h0M181 204h0M165 37h0M89 34h0M13 119h0M78 114h0M10 48h0M51 207h0M168 75h0M143 24h0M35 197h0M172 104h0M140 217h0M165 86h0M197 103h0M195 129h0M87 189h0M41 88h0M178 115h0M99 102h0M189 122h0M87 33h0M136 69h0M106 158h0M86 100h0M6 75h0M111 142h0M94 69h0M18 142h0M31 62h0M123 182h0M76 5h0M134 72h0M207 70h0M208 190h0M71 6h0M39 178h0M19 177h0M170 91h0M188 184h0M58 67h0M181 196h0M19 125h0M157 128h0M139 62h0M167 107h0M75 49h0M165 3h0M191 156h0M206 14h0M217 158h0M36 91h0M102 189h0M5 169h0M69 58h0M192 165h0M38 106h0M62 181h0M113 156h0M117 109h0M84 165h0M88 99h0M182 111h0M145 23h0M97 205h0M178 183h0M58 17h0M200 174h0M134 67h0M177 105h0M186 99h0M32 150h0M0 91h0M180 5h0M113 4h0M179 159h0M58 13h0M106 67h0M218 194h0M74 214h0M107 30h0M192 70h0M46 192h0M191 37h0M94 5h0M65 1h0M136 59h0M70 115h0M93 209h0M171 169h0M88 142h0M3 100h0M146 144h0M59 78h0M97 10h0M73 40h0M5 201h0M26 175h0M140 14h0M115 182h0M173 88h0M156 162h0M39 11h0M52 188h0M207 68h0M46 107h0M24 107h0M45 110h0M90 190h0M193 209h0M214 211h0M176 84h0M106 139h0M153 124h0M10 55h0M156 178h0M112 144h0M144 122h0M147 43h0M208 47h0M190 163h0M184 166h0M185 123h0M217 165h0M105 8h0M3 111h0M217 29h0M14 160h0M118 38h0M173 117h0M9 217h0M37 121h0M77 48h0M148 179h0M140 125h0M187 218h0M15 142h0M71 179h0M64 190h0M28 149h0M184 15h0M31 50h0M21 125h0M151 85h0M98 180h0M70 190h0M145 94h0M120 191h0M32 81h0M186 100h0M44 208h0M59 212h0M39 78h0M38 72h0M57 0h0M133 16h0M157 105h0M170 101h0M52 207h0M219 182h0M122 5h0M66 213h0M167 30h0M114 41h0M88 2h0M207 43h0M39 186h0M26 69h0M167 149h0M107 85h0M219 120h0M161 117h0M211 168h0M2 179h0M48 99h0M5 22h0M146 66h0M188 2h0M15 11h0M170 15h0M200 46h0M146 14h0M135 53h0M174 83h0M212 45h0M126 208h0M78 187h0M16 194h0M29 127h0M69 10h0M139 39h0M134 17h0M104 129h0M167 25h0M105 1h0M94 35h0M156 55h0M199 177h0M190 44h0M171 171h0M136 68h0M190 192h0M136 39h0M17 24h0M208 8h0M212 147h0M80 127h0M161 43h0M94 136h0M133 214h0M20 10h0M35 131h0M106 66h0M12 139h0M200 122h0M78 27h0M14 177h0M170 28h0M77 101h0M200 77h0M11 104h0M107 145h0M174 93h0M58 49h0M191 13h0M185 65h0M49 145h0M137 95h0M17 45h0M34 56h0M67 62h0M147 17h0M145 191h0M34 18h0M40 139h0M19 2h0M83 100h0M88 15h0M185 123h0M28 102h0M122 137h0M30 129h0M87 153h0M78 48h0M43 189h0M160 193h0M123 87h0M105 48h0M43 144h0M79 83h0M30 74h0M113 177h0M55 16h0M179 107h0M132 86h0M212 22h0M73 89h0M13 43h0M153 58h0M184 185h0M69 84h0M76 50h0M217 88h0M115 51h0M190 217h0M192 10h0M163 162h0M123 58h0M81 47h0M147 73h0M24 198h0M84 127h0M87 158h0M101 17h0M200 82h0M178 168h0M64 85h0M175 85h0M94 189h0M9 1h0M191 196h0M14 34h0M106 152h0M158 183h0M83 50h0M132 26h0M157 160h0M58 88h0M131 190h0M145 61h0M101 174h0M46 2h0M72 151h0M10 23h0M148 176h0M110 89h0M37 2h0M145 56h0M187 129h0M120 2h0M204 176h0M26 6h0M122 117h0M192 112h0M146 22h0M177 101h0M137 80h0M103 4h0M187 87h0M118 166h0M108 189h0M26 5h0M19 163h0M133 113h0M61 185h0M20 85h0M80 78h0M171 185h0M190 35h0M221 5h0M35 173h0M30 170h0M111 27h0M82 32h0M145 101h0M139 113h0M131 24h0M81 85h0M17 58h0M118 115h0M135 185h0M19 90h0M175 72h0M83 216h0M154 25h0M90 10h0M207 42h0M126 106h0M115 172h0M84 81h0M70 125h0M103 107h0M156 83h0M43 157h0M102 166h0M35 59h0M9 5h0M177 55h0M208 35h0M149 16h0M147 21h0M107 166h0M60 82h0M134 108h0M158 116h0M108 59h0M180 170h0M189 216h0M153 171h0M21 32h0M146 118h0M65 192h0M149 191h0M167 124h0M41 195h0M2 198h0M141 119h0M148 75h0M173 149h0M61 198h0M49 90h0M52 2h0M121 86h0M211 203h0M102 150h0M47 33h0M165 176h0M71 167h0M19 128h0M113 112h0M200 174h0M51 61h0M190 5h0M31 45h0M2 1h0M172 106h0M113 173h0M195 146h0M145 74h0M5 68h0M174 172h0M126 5h0M193 62h0M20 186h0M186 105h0M116 153h0M125 160h0M196 27h0M140 10h0M47 204h0M116 215h0M217 47h0M129 82h0M208 158h0M113 122h0M211 119h0M92 13h0M106 109h0M47 29h0M170 48h0M52 49h0M183 139h0M209 113h0M33 126h0M214 13h0M113 174h0M64 91h0M174 154h0M26 216h0M114 65h0M160 69h0M3 157h0M138 205h0M126 44h0M55 170h0M206 180h0M57 170h0M154 4h0M20 26h0M136 23h0M191 219h0M172 14h0M14 13h0M195 22h0M73 174h0M145 194h0M143 7h0M150 24h0M89 122h0M141 133h0M71 133h0M134 42h0M90 32h0M121 115h0M104 215h0M138 170h0M87 149h0M186 211h0M131 10h0M122 76h0M127 67h0M220 103h0M112 5h0M124 78h0M151 47h0M41 218h0M11 75h0M172 86h0M133 127h0M33 84h0M55 57h0M181 51h0M210 34h0M169 58h0M190 143h0M22 65h0M129 178h0M29 52h0M184 69h0M173 102h0M53 108h0M218 110h0M142 218h0M100 135h0M76 27h0M72 6h0M119 42h0M183 106h0M165 128h0M55 50h0M199 78h0M93 10h0M179 6h0M62 123h0M209 20h0M92 93h0M56 200h0M110 47h0M201 209h0M59 31h0M205 45h0M13 119h0M11 194h0M7 53h0M126 78h0M112 191h0M155 44h0M14 119h0M173 139h0M59 90h0M61 179h0M143 70h0M126 215h0M112 82h0M12 185h0M178 73h0M2 99h0M27 11h0M140 57h0M166 57h0M11 12h0M58 165h0M154 81h0M186 163h0M160 163h0M43 178h0M30 117h0M146 121h0M90 139h0M14 130h0M43 17h0M40 85h0M32 3h0M134 165h0M38 40h0M5 177h0M112 17h0M6 152h0M34 100h0M91 39h0M157 166h0M217 155h0M147 199h0M113 87h0M187 166h0M94 96h0M203 74h0M164 10h0M142 113h0M58 187h0M66 6h0M132 144h0M154 115h0M153 64h0M122 140h0M99 196h0M71 56h0M219 40h0M177 119h0M201 89h0M82 87h0M201 147h0M217 210h0M25 73h0M65 181h0M134 40h0M199 185h0M96 134h0M97 170h0M206 10h0M208 138h0M143 217h0M219 90h0M69 155h0M122 1h0M32 139h0M95 157h0M88 155h0M203 134h0M167 193h0M216 78h0M166 11h0M122 79h0M206 91h0M28 176h0M47 150h0M164 138h0M184 109h0M91 191h0M35 7h0M81 66h0M86 41h0M123 132h0M152 141h0M69 2h0M48 196h0M110 203h0M53 207h0M202 98h0M216 167h0M123 205h0M152 214h0M214 107h0M123 119h0M156 88h0M212 3h0M215 44h0M195 104h0M76 78h0M40 190h0M86 207h0M46 120h0M82 26h0M192 36h0M118 5h0M73 137h0M200 213h0M204 96h0M136 112h0M101 138h0M114 169h0M98 8h0M40 61h0M209 37h0M31 68h0M85 82h0M111 43h0M101 130h0M134 156h0M173 171h0M142 146h0M178 56h0M197 22h0M198 43h0M205 102h0M49 53h0M191 49h0M179 128h0M203 65h0M69 167h0M108 72h0M219 126h0M58 158h0M69 114h0M141 70h0M99 140h0M26 104h0M5 137h0M6 38h0M161 20h0M216 142h0M121 34h0M182 147h0M47 152h0M10 39h0M171 206h0M76 196h0M76 61h0M36 29h0M89 18h0M149 52h0M47 131h0M108 131h0M220 173h0M80 108h0M129 193h0M153 211h0M166 178h0M122 118h0M69 8h0M162 77h0M62 152h0M139 135h0M0 217h0M180 114h0M99 182h0M50 3h0M25 152h0M84 8h0M190 139h0M132 76h0M98 20h0M50 168h0M194 158h0M184 42h0M12 113h0M133 55h0M133 80h0M41 96h0M119 78h0M123 196h0M139 133h0M114 183h0M173 212h0M143 213h0M105 77h0M140 155h0M104 194h0M15 125h0M165 23h0M48 49h0M163 104h0M187 202h0M2 8h0M104 178h0M97 59h0M13 8h0M30 182h0M164 40h0M184 58h0M150 48h0M17 70h0M129 17h0M21 99h0M47 40h0M53 130h0M206 170h0M31 115h0M168 115h0M115 131h0M40 53h0M101 141h0M85 98h0M12 144h0M88 38h0M216 113h0M213 123h0M17 71h0M160 8h0M13 40h0M136 102h0M112 104h0M103 218h0M40 9h0M172 8h0M100 167h0M37 207h0M192 25h0M100 170h0M121 47h0M100 162h0M86 109h0M92 32h0M47 47h0M86 17h0M36 10h0M94 143h0M3 116h0M10 203h0M153 66h0M190 4h0M62 74h0M139 40h0M30 152h0M54 189h0M127 163h0M174 116h0M152 155h0M160 7h0M32 38h0M51 138h0M214 74h0M105 74h0M23 164h0M213 125h0M188 72h0M144 11h0M43 178h0M70 80h0M9 184h0M213 171h0M171 135h0M88 136h0M200 211h0M120 81h0M167 93h0M42 172h0M10 165h0M211 174h0M76 77h0M101 16h0M63 38h0M77 80h0M149 184h0M152 163h0M89 93h0M51 202h0M158 211h0M140 173h0M101 7h0M59 35h0M100 69h0M174 140h0M219 33h0M2 77h0M16 53h0M4 131h0M207 59h0M2 158h0M93 29h0M54 129h0M219 176h0M81 180h0M52 151h0M104 28h0M18 129h0M52 94h0M125 22h0M63 52h0M55 104h0M199 5h0M85 175h0M218 70h0M108 29h0M63 68h0M181 114h0M51 89h0M167 171h0M76 48h0M168 33h0M63 89h0M184 67h0M58 23h0M143 29h0M138 46h0M9 113h0M110 198h0M85 183h0M69 115h0M62 13h0M154 12h0M121 161h0M182 54h0M100 48h0M41 212h0M163 110h0M196 92h0M117 94h0M198 150h0M12 56h0M217 102h0M76 33h0M33 200h0M110 181h0M152 86h0M54 6h0M154 108h0M10 23h0M67 39h0M21 166h0M49 194h0M1 26h0M51 58h0M207 139h0M37 173h0M28 190h0M198 197h0M139 62h0M100 13h0M210 65h0M58 37h0M184 26h0M215 148h0M197 137h0M215 44h0M34 214h0M112 57h0M34 62h0M179 204h0M37 86h0M52 218h0M90 42h0M174 87h0M162 131h0M66 108h0M25 88h0M5 66h0M76 177h0M26 150h0M151 96h0M40 73h0M172 64h0M116 179h0M89 111h0M118 162h0M161 99h0M133 85h0M14 91h0M11 18h0M56 115h0M127 178h0M137 184h0M199 54h0M27 58h0M148 112h0M120 3h0M198 35h0M184 51h0M92 104h0M195 207h0M139 137h0M186 203h0M111 24h0M56 79h0M91 128h0M57 126h0M69 93h0M100 182h0M138 114h0M160 73h0M39 70h0M87 20h0M21 133h0M96 81h0M51 46h0M204 92h0M85 155h0M33 194h0M132 143h0M150 88h0M74 36h0M106 38h0M126 78h0M132 5h0M30 21h0M10 159h0M19 115h0M78 19h0M63 155h0M160 173h0M58 169h0M64 136h0M117 53h0M116 138h0M103 171h0M64 204h0M74 79h0M1 36h0M58 125h0M179 106h0M164 98h0M85 30h0M70 12h0M121 134h0M133 26h0M206 63h0M120 24h0M54 70h0M94 70h0M41 215h0M192 164h0M109 181h0M78 49h0M220 158h0M93 78h0M91 81h0M7 62h0M178 208h0M215 166h0M138 170h0M81 102h0M68 31h0M135 120h0M187 79h0M213 211h0M143 158h0M183 22h0M188 40h0M97 207h0M164 101h0M44 74h0M19 29h0M41 132h0M4 206h0M210 140h0M209 35h0M170 130h0M53 116h0M87 152h0M14 88h0M186 190h0M86 213h0M110 191h0M147 27h0M148 7h0M145 53h0M93 34h0M196 17h0M18 191h0M133 115h0M115 127h0M174 177h0M126 203h0M13 47h0M125 51h0M195 91h0M200 68h0M204 131h0M112 24h0M23 109h0M61 212h0M161 98h0M151 189h0M213 160h0M47 192h0M196 49h0M64 137h0M137 184h0M112 83h0M12 41h0M164 107h0M202 13h0M25 90h0M128 45h0M157 84h0M12 93h0M127 122h0M114 31h0M106 79h0M92 28h0M208 118h0M155 6h0M58 15h0M210 149h0M107 41h0M17 173h0M124 148h0M170 213h0M55 99h0M170 126h0M14 116h0M174 206h0M71 31h0M84 66h0M61 215h0M158 110h0M46 21h0M25 14h0M43 110h0M189 45h0M35 77h0M50 43h0M101 70h0M83 140h0M195 77h0M143 86h0M140 22h0M212 122h0M104 101h0M51 29h0M64 85h0M31 89h0M29 52h0M45 90h0M81 96h0M203 91h0M27 54h0M211 129h0M14 144h0M159 30h0M129 72h0M129 94h0M94 128h0M153 201h0M177 172h0M127 188h0M172 139h0M43 127h0M198 68h0M146 143h0M116 93h0M5 67h0M87 110h0M15 163h0M70 98h0M184 111h0M96 149h0M84 161h0M181 59h0M163 181h0M15 34h0M155 46h0M166 159h0M76 51h0M214 111h0M19 130h0M60 84h0M2 126h0M119 9h0M74 70h0M119 129h0M81 82h0M49 217h0M41 46h0M167 71h0M1 214h0M53 174h0M90 3h0M36 148h0M24 185h0M75 39h0M216 144h0M188 99h0M155 164h0M208 99h0M98 123h0M99 14h0M157 159h0M24 100h0M150 115h0M114 189h0M128 132h0M47 110h0M65 182h0M199 51h0M217 68h0M180 196h0M7 122h0M82 181h0M173 110h0M194 163h0M138 142h0M55 34h0M27 12h0M30 13h0M106 75h0M97 101h0M207 97h0M62 157h0M73 22h0M35 126h0M202 197h0M97 104h0M165 16h0M25 146h0M3 68h0M69 90h0M202 123h0M38 162h0M170 87h0M138 93h0M211 62h0M88 123h0M67 134h0M25 42h0M220 154h0M103 26h0M42 32h0M47 71h0M198 82h0M184 68h0M188 34h0M216 163h0M204 142h0M88 7h0M98 106h0M130 77h0M76 11h0M217 187h0M114 39h0M206 68h0M28 19h0M198 215h0M126 67h0M46 146h0M216 122h0M14 16h0M213 27h0M74 101h0M139 42h0M70 46h0M42 48h0M50 68h0M37 25h0M8 139h0M76 11h0M219 201h0M206 103h0M51 39h0M79 74h0M205 91h0M188 98h0M101 9h0M219 100h0M29 129h0M169 108h0M210 12h0M138 209h0M191 159h0M128 139h0M115 1h0M179 68h0M33 20h0M196 152h0M90 100h0M197 178h0M86 192h0M60 33h0M216 154h0M186 158h0M51 17h0M204 145h0M174 102h0M161 211h0M132 189h0M214 62h0M205 38h0M70 40h0M12 105h0M93 57h0M179 214h0M58 146h0M104 133h0M201 83h0M140 93h0M17 27h0M87 65h0M3 91h0M36 173h0M23 55h0M104 202h0M14 214h0M65 115h0M140 54h0M194 150h0M145 108h0M200 133h0M84 184h0M56 19h0M159 42h0M143 146h0M181 6h0M108 83h0M4 200h0" stroke="#d9a76e" stroke-width="2.0" stroke-linecap="round" stroke-opacity="0.5"/><path transform="translate(37.5 784) scale(.5)" d="M181 8h0M106 2h0M60 107h0M27 22h0M187 19h0M203 43h0M112 111h0M66 200h0M32 70h0M59 204h0M128 72h0M207 190h0M17 94h0M218 30h0M167 164h0M180 25h0M150 200h0M81 210h0M94 147h0M148 160h0M125 69h0M105 56h0M183 96h0M83 192h0M180 155h0M106 82h0M123 81h0M143 120h0M22 216h0M143 61h0M95 79h0M4 170h0M82 157h0M89 5h0M89 3h0M72 101h0M133 37h0M147 93h0M146 192h0M30 96h0M12 122h0M143 126h0M190 60h0M199 87h0M186 20h0M46 97h0M160 28h0M201 34h0M138 126h0M3 12h0M35 153h0M36 99h0M200 35h0M216 27h0M127 58h0M53 30h0M200 112h0M210 179h0M156 45h0M121 81h0M161 43h0M83 57h0M175 217h0M154 155h0M143 57h0M61 73h0M133 75h0M69 56h0M72 141h0M143 50h0M45 191h0M98 218h0M151 1h0M108 10h0M126 63h0M139 93h0M23 127h0M208 5h0M210 88h0M173 61h0M141 157h0M198 62h0M186 73h0M118 112h0M173 46h0M130 184h0M54 61h0M182 90h0M26 145h0M214 21h0M90 140h0M186 196h0M40 175h0M95 65h0M175 68h0M148 130h0M49 97h0M159 19h0M129 93h0M151 22h0M146 187h0M46 167h0M215 86h0M76 52h0M72 193h0M169 65h0M11 216h0M159 200h0M173 142h0M65 208h0M199 132h0M141 144h0M120 39h0M99 105h0M8 49h0M218 188h0M61 43h0M10 56h0M193 199h0M221 112h0M91 70h0M152 171h0M128 51h0M128 3h0M195 197h0M151 7h0M19 78h0M139 211h0M19 43h0M192 80h0M151 135h0M159 194h0M67 62h0M104 64h0M77 83h0M110 216h0M24 80h0M144 104h0M69 117h0M173 204h0M156 198h0M19 170h0M212 156h0M157 86h0M1 49h0M217 200h0M191 98h0M121 77h0M11 184h0M8 167h0M189 2h0M60 109h0M106 83h0M88 202h0M212 75h0M208 57h0M203 160h0M104 204h0M51 76h0M141 27h0M39 163h0M156 17h0M163 45h0M15 214h0M133 128h0M67 22h0M32 142h0M81 160h0M29 55h0M68 35h0M54 27h0M91 102h0M178 83h0M17 44h0M171 111h0M214 197h0M9 199h0M61 165h0M58 4h0M214 35h0M55 104h0M191 54h0M149 207h0M169 104h0M159 130h0M35 3h0M31 166h0M210 66h0M5 164h0M42 84h0M144 51h0M78 165h0M211 82h0M95 194h0M20 204h0M31 98h0M34 81h0M115 42h0M52 195h0M208 208h0M42 137h0M190 162h0M73 18h0M127 65h0M114 94h0M202 111h0M159 204h0M96 116h0M163 148h0M171 197h0M50 103h0M73 70h0M193 115h0M210 186h0M6 148h0M111 117h0M187 194h0M41 77h0M53 134h0M213 158h0M108 40h0M70 161h0M22 190h0M164 157h0M135 184h0M108 52h0M47 55h0M206 217h0M167 97h0M73 97h0M80 118h0M169 56h0M39 38h0M114 91h0M13 9h0M80 116h0M173 131h0M79 164h0M5 84h0M131 83h0M13 109h0M187 23h0M8 128h0M6 100h0M84 105h0M206 80h0M114 141h0M121 212h0M181 209h0M111 1h0M201 24h0M205 200h0M215 190h0M25 76h0M198 121h0M186 75h0M1 96h0M160 191h0M72 124h0M218 108h0M22 126h0M19 19h0M123 73h0M87 213h0M132 71h0M192 142h0M17 30h0M217 178h0M100 74h0M175 193h0M120 77h0M150 41h0M183 41h0M72 47h0M218 74h0M211 132h0M3 131h0M158 44h0M20 195h0M31 47h0M126 55h0M186 122h0M191 89h0M37 215h0M45 148h0M79 101h0M48 216h0M152 7h0M174 37h0M27 174h0M156 203h0M35 125h0M45 159h0M83 91h0M89 125h0M217 21h0M154 206h0M65 10h0M94 24h0M130 200h0M70 158h0M117 206h0M140 213h0M75 157h0M212 71h0M138 43h0M159 179h0M180 211h0M162 192h0M9 202h0M36 21h0M198 159h0M6 164h0M171 189h0M142 89h0M22 104h0M109 32h0M28 113h0M216 137h0M4 111h0M97 198h0M14 88h0M214 173h0M98 11h0M28 35h0M36 56h0M125 156h0M62 38h0M45 106h0M94 58h0M161 152h0M195 19h0M81 166h0M57 29h0M177 168h0M148 4h0M25 148h0M194 96h0M149 179h0M61 189h0M63 53h0M69 53h0M208 206h0M84 47h0M144 150h0M59 210h0M140 63h0M93 169h0M104 115h0M82 73h0M209 28h0M88 47h0M111 85h0M161 83h0M92 55h0M61 165h0M124 100h0M191 5h0M150 212h0M94 59h0M173 55h0M197 164h0M10 192h0M172 40h0M74 86h0M113 190h0M77 77h0M88 2h0M111 105h0M175 9h0M41 214h0M159 59h0M200 115h0M202 62h0M172 131h0M25 191h0M86 123h0M100 145h0M27 164h0M127 68h0M33 99h0M180 24h0M148 18h0M103 154h0M150 191h0M9 123h0M103 44h0M30 213h0M66 124h0M158 58h0M15 128h0M191 139h0M29 188h0M0 182h0M214 54h0M40 36h0M204 109h0M135 208h0M107 95h0M113 47h0M40 158h0M189 179h0M149 60h0M175 145h0M72 16h0M162 17h0M20 208h0M157 204h0M132 120h0M105 108h0M170 140h0M55 160h0M48 99h0M62 31h0M197 140h0M37 6h0M137 214h0M187 163h0M102 74h0M148 209h0M179 104h0M11 127h0M89 118h0M202 38h0M135 50h0M2 129h0M177 193h0M100 176h0M176 123h0M162 51h0M6 86h0M52 193h0M200 209h0M25 218h0M104 204h0M105 140h0M147 88h0M46 70h0M90 78h0M166 37h0M162 143h0M8 25h0M89 162h0M96 109h0M201 0h0M155 214h0M177 158h0M62 54h0M57 67h0M202 112h0M90 119h0M106 31h0M166 152h0M128 96h0M22 165h0M217 201h0M165 128h0M148 116h0M205 59h0M88 14h0M20 42h0M9 61h0M19 24h0M121 142h0M117 72h0M118 103h0M77 6h0M42 2h0M115 151h0M201 19h0M122 87h0M184 200h0M83 39h0M167 145h0M78 111h0M89 20h0M133 111h0M185 125h0M183 110h0M17 179h0M39 27h0M108 188h0M86 108h0M107 128h0M219 195h0M40 217h0M113 32h0M37 211h0M153 69h0M138 159h0M96 146h0M31 45h0M63 24h0M42 40h0M220 168h0M42 60h0M1 194h0M146 48h0M166 37h0M82 85h0M64 24h0M68 151h0M35 76h0M153 136h0M155 84h0M196 140h0M138 195h0M85 20h0M211 7h0M92 186h0M206 123h0M190 189h0M57 121h0M152 209h0M184 58h0M12 126h0M182 116h0M212 211h0M70 95h0M201 63h0M49 194h0M13 94h0M122 46h0M81 15h0M116 133h0M149 140h0M43 65h0M189 67h0M203 5h0M204 138h0M51 103h0M71 120h0M16 209h0M38 164h0M176 95h0M20 171h0M37 100h0M103 45h0M204 32h0M140 95h0M24 164h0M5 158h0M55 214h0M166 28h0M124 38h0M125 123h0M107 114h0M80 120h0M128 56h0M112 153h0M20 42h0M204 18h0M123 194h0M9 91h0M153 202h0M136 46h0M19 139h0M133 47h0M113 20h0M52 96h0M119 202h0M91 56h0M195 73h0M103 124h0M141 35h0M39 133h0M9 155h0M143 147h0M42 2h0M152 171h0M128 40h0M112 80h0M176 194h0M39 191h0M157 71h0M40 63h0M157 93h0M15 141h0M175 29h0M44 184h0M200 76h0M109 65h0M155 205h0M146 22h0M75 54h0M153 211h0M192 23h0M195 188h0M35 45h0M191 62h0M144 81h0M207 62h0M48 204h0M74 109h0M156 7h0M70 108h0M85 20h0M77 129h0M29 170h0M154 34h0M210 163h0M86 55h0M124 34h0M100 125h0M72 215h0M155 5h0M117 97h0M207 185h0M147 109h0M130 209h0M92 53h0M147 66h0M210 121h0M102 11h0M157 153h0M156 58h0M5 13h0M165 7h0M33 48h0M216 90h0M199 23h0M66 47h0M180 91h0M115 46h0M16 176h0M175 162h0M4 81h0M56 49h0M80 2h0M140 31h0M176 130h0M198 184h0M181 124h0M8 106h0M193 82h0M208 107h0M30 53h0M148 32h0M37 64h0M144 88h0M208 38h0M33 16h0M221 47h0M156 209h0M168 158h0M85 90h0M71 18h0M143 131h0M91 76h0M138 217h0M186 172h0M68 63h0M99 151h0M86 111h0M14 20h0M146 200h0M94 110h0M6 209h0M21 213h0M180 51h0M117 95h0M126 90h0M136 94h0M51 204h0M33 105h0M39 100h0M192 183h0M182 49h0M174 76h0M56 137h0M219 192h0M140 141h0M28 207h0M117 161h0M123 142h0M98 179h0M88 125h0M175 97h0M156 48h0M11 181h0M111 192h0M200 115h0M208 137h0M17 87h0M184 179h0M215 20h0M180 69h0M132 86h0M116 99h0M177 210h0M196 10h0M51 202h0M52 117h0M198 95h0M166 38h0M100 54h0M40 80h0M179 41h0M45 171h0M214 149h0M180 208h0M34 178h0M57 148h0M142 62h0M118 10h0M13 159h0M85 25h0M177 88h0M166 98h0M39 111h0M97 175h0M197 182h0M173 103h0M146 132h0M27 167h0M158 99h0M155 176h0M176 215h0M165 156h0M178 5h0M110 113h0M177 167h0M96 47h0M172 119h0M170 167h0M38 165h0M140 61h0M39 65h0M49 171h0M62 186h0M108 26h0M99 107h0M93 136h0M57 101h0M46 196h0M153 121h0M77 75h0M23 88h0M62 66h0M88 138h0M118 213h0M164 147h0M208 93h0M37 9h0M9 120h0M90 100h0M155 9h0M35 123h0M211 54h0M207 48h0M52 7h0M76 94h0M33 198h0M47 126h0M153 42h0M26 54h0M82 216h0M88 63h0M24 136h0M190 62h0M33 6h0M69 210h0M48 132h0M176 211h0M29 179h0M23 180h0M71 166h0M76 128h0M33 191h0M3 102h0M59 119h0M9 148h0M144 158h0M38 10h0M155 31h0M112 27h0M7 10h0M211 5h0M105 62h0M200 135h0M71 122h0M146 127h0M171 130h0M81 22h0M74 200h0M218 151h0M97 4h0M91 36h0M29 84h0M189 8h0M149 74h0M94 46h0M55 107h0M154 99h0M86 21h0M13 180h0M44 115h0M42 154h0M36 83h0M159 15h0M169 105h0M63 135h0M147 122h0M37 99h0M167 81h0M73 125h0M62 113h0M61 93h0M2 9h0M153 34h0M179 107h0M44 166h0M145 44h0M46 74h0M33 1h0M17 182h0M209 168h0M192 119h0M16 159h0M55 104h0M89 17h0M9 35h0M85 49h0M212 120h0M53 150h0M131 125h0M59 181h0M67 174h0M107 72h0M220 111h0M93 3h0M190 154h0M170 161h0M130 117h0M171 109h0M214 74h0M189 113h0M22 150h0M178 94h0M103 132h0M71 194h0M91 213h0M81 123h0M62 170h0M80 192h0M217 110h0M108 56h0M69 95h0M76 178h0M12 89h0" stroke="#5555c6" stroke-width="2.7" stroke-linecap="round" stroke-opacity="0.85"/><ellipse cx="99" cy="868" rx="5" ry="28" fill="#fbf8f4" opacity="0.8" filter="url(#bl2)"/></g><clipPath id="cp5"><rect x="169" y="784" width="110.5" height="109.5"/></clipPath><g clip-path="url(#cp5)"><rect x="169" y="784" width="110.5" height="109.5" fill="#f8f5f1"/><path transform="translate(169 784) scale(.5)" d="M18 204h0M75 207h0M211 163h0M175 182h0M95 197h0M182 31h0M84 63h0M27 104h0M216 213h0M206 133h0M138 2h0M43 28h0M196 147h0M103 46h0M12 21h0M98 35h0M155 179h0M198 198h0M210 84h0M27 36h0M143 57h0M102 81h0M72 190h0M18 203h0M59 87h0M104 217h0M108 165h0M160 100h0M136 21h0M98 202h0M74 115h0M174 157h0M70 34h0M190 178h0M34 39h0M27 183h0M124 121h0M91 126h0M167 189h0M156 136h0M87 93h0M57 54h0M95 180h0M83 47h0M191 168h0M167 104h0M156 111h0M53 135h0M157 70h0M122 148h0M128 177h0M100 71h0M169 103h0M27 76h0M92 78h0M124 45h0M185 180h0M127 185h0M104 215h0M37 129h0M15 159h0M25 194h0M154 28h0M140 39h0M153 121h0M190 205h0M122 192h0M137 189h0M116 128h0M74 18h0M53 96h0M97 140h0M195 47h0M48 84h0M25 4h0M0 6h0M41 29h0M196 150h0M186 216h0M127 146h0M159 37h0M30 125h0M84 109h0M36 203h0M214 97h0M219 125h0M110 39h0M151 195h0M151 3h0M51 66h0M170 64h0M205 127h0M178 202h0M118 28h0M4 94h0M78 69h0M105 163h0M140 154h0M73 173h0M134 75h0M193 200h0M166 96h0M121 116h0M194 74h0M46 133h0M188 156h0M83 32h0M171 140h0M5 17h0M204 7h0M149 149h0M125 46h0M44 124h0M76 185h0M182 159h0M186 203h0M182 127h0M84 49h0M175 25h0M150 161h0M142 0h0M94 1h0M98 156h0M29 109h0M139 97h0M102 165h0M132 89h0M176 176h0M170 59h0M156 177h0M28 76h0M116 84h0M172 56h0M204 24h0M91 180h0M44 28h0M136 186h0M4 89h0M193 149h0M91 11h0M207 4h0M10 125h0M123 193h0M130 163h0M7 211h0M145 187h0M204 216h0M161 87h0M131 210h0M185 152h0M107 116h0M168 88h0M120 179h0M132 184h0M157 23h0M147 206h0M217 76h0M129 135h0M32 198h0M93 107h0M85 207h0M120 42h0M140 81h0M118 197h0M164 122h0M174 62h0M123 146h0M80 183h0M22 62h0M180 197h0M43 219h0M220 59h0M92 120h0M142 136h0M151 113h0M144 65h0M87 3h0M212 99h0M218 120h0M217 196h0M183 8h0M60 3h0M110 208h0M41 126h0M86 26h0M79 127h0M137 196h0M90 90h0M10 217h0M52 6h0M220 112h0M157 181h0M80 206h0M59 97h0M68 92h0M193 197h0M30 218h0M94 9h0M81 20h0M184 149h0M95 92h0M104 51h0M197 151h0M174 211h0M114 145h0M180 95h0M54 59h0M56 65h0M190 92h0M109 158h0M85 194h0M17 22h0M32 55h0M196 128h0M132 217h0M87 158h0M194 144h0M194 209h0M219 108h0M45 14h0M37 150h0M9 88h0M194 69h0M41 139h0M111 176h0M217 177h0M57 204h0M190 32h0M38 175h0M65 48h0M177 147h0M66 159h0M44 212h0M59 4h0M28 142h0M213 49h0M196 110h0M191 39h0M4 52h0M48 116h0M114 130h0M120 126h0M47 69h0M189 216h0M51 180h0M209 6h0M142 102h0M30 115h0M75 103h0M60 64h0M169 36h0M103 194h0M198 215h0M62 131h0M204 92h0M204 137h0M119 66h0M119 157h0M206 111h0M53 61h0M78 36h0M199 131h0M166 156h0M33 80h0M55 22h0M140 98h0M46 56h0M83 27h0M86 160h0M149 161h0M200 14h0M155 50h0M106 164h0M81 137h0M220 136h0M38 204h0M179 107h0M41 23h0M178 29h0M165 110h0M137 109h0M3 53h0M188 48h0M68 151h0M213 9h0M147 57h0M171 88h0M215 164h0M75 206h0M49 18h0M4 211h0M166 137h0M170 187h0M201 144h0M81 100h0M11 38h0M127 198h0M98 83h0M20 32h0M18 145h0M105 4h0M102 17h0M192 152h0M73 155h0M194 92h0M203 48h0M203 182h0M69 24h0M105 92h0M9 27h0M65 117h0M3 132h0M34 29h0M12 218h0M176 147h0M192 129h0M9 53h0M41 146h0M80 91h0M209 86h0M52 205h0M144 42h0M123 176h0M105 11h0M1 40h0M142 208h0M208 215h0M66 123h0M75 93h0M125 35h0M207 111h0M154 121h0M149 171h0M24 27h0M81 35h0M120 94h0M66 54h0M64 162h0M52 43h0M101 98h0M220 196h0M100 50h0M208 9h0M162 189h0M91 161h0M154 197h0M25 41h0M164 49h0M11 217h0M16 204h0M164 199h0M184 201h0M104 28h0M103 131h0M97 213h0M69 102h0M198 147h0M155 151h0M59 6h0M92 121h0M2 105h0M194 137h0M138 73h0M156 145h0M93 87h0M214 44h0M7 144h0M204 189h0M154 117h0M118 4h0M52 52h0M133 62h0M72 207h0M108 192h0M119 140h0M141 212h0M173 119h0M101 61h0M137 24h0M6 157h0M127 3h0M68 20h0M139 207h0M19 35h0M99 101h0M41 154h0M97 159h0M93 34h0M176 176h0M42 56h0M96 70h0M134 64h0M138 59h0M113 59h0M183 160h0M61 13h0M171 42h0M114 159h0M72 186h0M48 175h0M177 33h0M26 158h0M42 100h0M103 147h0M181 116h0M43 10h0M101 108h0M39 60h0M175 139h0M147 7h0M211 31h0M4 41h0M147 87h0M41 89h0M113 212h0M106 23h0M122 49h0M182 24h0M44 27h0M158 33h0M182 18h0M78 218h0M31 192h0M221 90h0M86 53h0M210 197h0M171 134h0M15 168h0M209 6h0M76 162h0M31 128h0M59 64h0M196 25h0M179 6h0M38 33h0M44 69h0M198 3h0M54 19h0M137 37h0M112 110h0M216 160h0M188 151h0M25 38h0M101 130h0M16 166h0M69 201h0M169 3h0M67 211h0M50 25h0M88 122h0M121 19h0M56 90h0M0 134h0M29 169h0M158 37h0M6 56h0M62 58h0M88 87h0M42 51h0M76 28h0M79 11h0M97 101h0M81 80h0M34 36h0M110 144h0M171 138h0M220 91h0M53 214h0M22 58h0M199 37h0M49 4h0M5 13h0M199 44h0M105 128h0M19 44h0M152 100h0M149 199h0M145 116h0M210 126h0M159 77h0M120 105h0M79 176h0M149 210h0M187 76h0M77 162h0M128 162h0M128 215h0M191 45h0M114 126h0M124 175h0M63 151h0M118 32h0M121 84h0M35 141h0M153 200h0M106 72h0M174 100h0M129 146h0M80 82h0M11 95h0M129 13h0M9 61h0M24 102h0M40 125h0M163 28h0M201 153h0M132 157h0M85 104h0M191 37h0M13 202h0M86 1h0M124 68h0M21 140h0M28 185h0M31 136h0M146 134h0M75 149h0M58 126h0M200 127h0M17 142h0M25 58h0M187 127h0M216 211h0M134 3h0M113 54h0M3 53h0M158 19h0M217 190h0M177 194h0M43 138h0M2 6h0M27 65h0M160 202h0M170 182h0M136 148h0M139 209h0M93 21h0M198 195h0M182 123h0M161 157h0M88 80h0M74 178h0M195 210h0M114 187h0M33 23h0M210 157h0M161 156h0M191 132h0M80 52h0M48 214h0M179 98h0M17 4h0M172 118h0M84 113h0M134 143h0M219 110h0M24 38h0M165 69h0M21 60h0M31 103h0M147 2h0M165 49h0M104 206h0M146 30h0M72 195h0M112 109h0M187 118h0M211 135h0M175 34h0M137 219h0M207 65h0M99 85h0M74 89h0M140 170h0M189 114h0M168 49h0M76 92h0M121 71h0M133 183h0M211 13h0M29 87h0M187 148h0M99 33h0M190 212h0M146 71h0M196 43h0M97 134h0M27 75h0M220 106h0M83 133h0M188 46h0M133 199h0M0 97h0M111 11h0M111 181h0M216 194h0M117 7h0M91 51h0M62 48h0M46 47h0M118 137h0M77 65h0M64 44h0M92 72h0M141 6h0M62 21h0M53 43h0M33 88h0M206 169h0M9 8h0M186 60h0M39 101h0M221 212h0M216 128h0M7 6h0M156 160h0M111 99h0M12 160h0M93 96h0M65 152h0M195 132h0M103 176h0M33 77h0M93 173h0M20 110h0M219 191h0M113 132h0M106 4h0M3 89h0M28 196h0M51 25h0M200 162h0M135 204h0M100 22h0M15 180h0M132 92h0M219 182h0M154 189h0M93 111h0M108 37h0M28 217h0M14 64h0M58 85h0M147 91h0M67 97h0M151 34h0M216 74h0M135 87h0M54 78h0M187 137h0M64 214h0M59 31h0M112 14h0M152 119h0M141 154h0M88 65h0M193 93h0M157 115h0M139 103h0M82 63h0M38 108h0M63 78h0M36 219h0M63 18h0M20 56h0M177 152h0M182 171h0M25 131h0M104 193h0M80 138h0M201 136h0M60 56h0M197 210h0M148 31h0M7 93h0M3 128h0M73 137h0M14 18h0M142 182h0M84 10h0M186 61h0M66 86h0M12 173h0M18 22h0M87 71h0M38 160h0M72 99h0M177 160h0M80 34h0M94 171h0M28 119h0M83 50h0M108 50h0M34 180h0M194 58h0M196 67h0M33 59h0M215 149h0M114 189h0M158 183h0M119 160h0M93 217h0M190 18h0M140 66h0M92 129h0M187 11h0M126 141h0M95 178h0M171 217h0M187 158h0M43 63h0M85 215h0M32 199h0M160 137h0M152 64h0M143 5h0M150 163h0M152 41h0M219 52h0M7 77h0M112 154h0M166 204h0M71 213h0M60 103h0M184 66h0M32 122h0M199 70h0M165 145h0M194 168h0M85 209h0M151 109h0M95 187h0M205 98h0M33 35h0M156 104h0M3 50h0M106 52h0M64 218h0M159 86h0M92 138h0M87 158h0M213 70h0M174 154h0M125 32h0M60 49h0M88 137h0M59 182h0M132 175h0M182 85h0M24 11h0M151 173h0M78 211h0M129 133h0M150 173h0M50 38h0M60 67h0M55 196h0M153 65h0M207 16h0M216 178h0M46 9h0M65 131h0M145 28h0M221 18h0M151 113h0M103 60h0M46 51h0M71 86h0M186 174h0M104 109h0M92 69h0M113 157h0M103 100h0M13 165h0M49 193h0M174 89h0M42 217h0M183 23h0M136 188h0M83 171h0M196 169h0M10 118h0M11 108h0M107 48h0M152 215h0M174 215h0M16 35h0M46 25h0M33 44h0M22 124h0M123 26h0M60 40h0M181 162h0M42 75h0M50 12h0M119 89h0M2 6h0M100 75h0M194 80h0M73 63h0M142 59h0M176 105h0M152 149h0M62 62h0M168 67h0M210 82h0M140 26h0M1 26h0M130 36h0M85 184h0M98 46h0M121 34h0M216 168h0M143 75h0M196 183h0M148 3h0M173 14h0M140 61h0M56 7h0M209 156h0M63 93h0M65 97h0M10 201h0M207 137h0M146 108h0M20 172h0M166 78h0M33 31h0M112 156h0M135 189h0M83 198h0M6 176h0M128 39h0M54 176h0M195 18h0M46 187h0M4 7h0M37 89h0M208 49h0M147 194h0M106 177h0M12 145h0M175 84h0M111 94h0M120 65h0M154 212h0M143 175h0M205 82h0M118 190h0M68 14h0M182 86h0M221 68h0M135 149h0M137 27h0M99 5h0M200 16h0M72 69h0M187 167h0M195 157h0M54 153h0M93 144h0M5 150h0M191 99h0M143 26h0M128 199h0M178 219h0M209 144h0M187 145h0M56 59h0M204 208h0M50 59h0M8 125h0M54 74h0M146 7h0M108 111h0M149 99h0M151 103h0M205 169h0M7 95h0M113 49h0M14 56h0M132 161h0M57 21h0M179 128h0M160 21h0M180 155h0M142 145h0M112 56h0M38 112h0M117 61h0M5 4h0M188 142h0M196 142h0M3 28h0M60 58h0M168 49h0M145 31h0M72 15h0M100 13h0M51 205h0M93 121h0M16 151h0M8 102h0M8 79h0M53 103h0M135 71h0M157 176h0M110 53h0M192 69h0M73 31h0M92 84h0M26 40h0M3 136h0M22 219h0M148 208h0M127 63h0M52 95h0M186 116h0M88 191h0M123 9h0M212 162h0M56 98h0M196 21h0M108 129h0M169 11h0M89 135h0M138 157h0M188 93h0M197 212h0M82 79h0M104 150h0M76 132h0M57 76h0M52 107h0M215 2h0M70 209h0M115 161h0M213 104h0M156 156h0M15 90h0M212 26h0M45 15h0M88 30h0M109 2h0M132 169h0M140 208h0M176 200h0M5 73h0M205 139h0M152 161h0M116 6h0M151 46h0M102 54h0M91 157h0M30 37h0M172 152h0M14 83h0M65 208h0M184 46h0M219 33h0M121 9h0M43 111h0M106 153h0M148 55h0M36 11h0M37 5h0M53 99h0M17 128h0M47 152h0M204 140h0M198 11h0M54 167h0M125 197h0M163 142h0M105 38h0M117 177h0M68 7h0M61 44h0M190 72h0M171 6h0M73 38h0M87 126h0M110 115h0M9 214h0M7 98h0M76 70h0M23 109h0M116 16h0M94 115h0M23 147h0M194 145h0M37 189h0M158 16h0M191 182h0M193 98h0M96 21h0M160 89h0M1 180h0M167 149h0M159 4h0M202 9h0M31 65h0M48 167h0M30 124h0M51 39h0M208 175h0M150 112h0M167 14h0M56 190h0M32 72h0M153 198h0M160 167h0M22 63h0M50 183h0M17 71h0M35 21h0M189 196h0M82 53h0M129 90h0M114 153h0M207 109h0M157 98h0M49 103h0M173 49h0M150 60h0M168 43h0M112 82h0M77 76h0M117 158h0M82 194h0M43 210h0M70 68h0M141 209h0M150 178h0M161 199h0M67 34h0M34 66h0M199 183h0M183 135h0M71 172h0M45 211h0M69 20h0M9 62h0M112 192h0M55 213h0M106 117h0M135 60h0M215 90h0M209 56h0M84 204h0M135 5h0M170 32h0M131 60h0M103 62h0M145 139h0M38 66h0M131 60h0M10 154h0M115 76h0M199 121h0M112 179h0M126 3h0M135 47h0M84 28h0M110 197h0M22 176h0M70 59h0M31 179h0M33 107h0M62 93h0M202 188h0M104 88h0M40 208h0M135 96h0M112 66h0M61 190h0M44 170h0M152 189h0M64 42h0M83 68h0M44 103h0M128 116h0M215 119h0M176 182h0M179 64h0M141 99h0M77 88h0M120 162h0M127 167h0M106 44h0M56 102h0M162 180h0M213 122h0M162 152h0M144 206h0M60 180h0M50 85h0M37 68h0M74 187h0M9 211h0M187 123h0M162 161h0M219 194h0M194 7h0M178 54h0M27 66h0M132 103h0M139 191h0M198 12h0M86 156h0M158 47h0M71 124h0M42 155h0M55 15h0M123 60h0M23 21h0M178 98h0M152 57h0M193 167h0M208 142h0M167 174h0M196 172h0M9 145h0M168 121h0M142 169h0M53 54h0M41 141h0M27 100h0M88 212h0M211 26h0M171 117h0M98 59h0M137 18h0M85 43h0M38 94h0M170 106h0M34 206h0M5 105h0M126 162h0M215 161h0M21 131h0M155 62h0M90 111h0M192 69h0M140 125h0M126 206h0M117 29h0M64 109h0M114 165h0M151 12h0M121 21h0M19 209h0M199 170h0M137 134h0M34 31h0M142 90h0M36 168h0M184 169h0M219 208h0M217 124h0M42 81h0M171 136h0M158 173h0M101 184h0M129 76h0M123 98h0M208 203h0M85 148h0M144 95h0M61 157h0M7 47h0M29 4h0M47 111h0M172 136h0M102 93h0M81 173h0M39 49h0M75 82h0M122 63h0M90 25h0M186 180h0M121 89h0M139 132h0M102 119h0M135 192h0M157 100h0M29 134h0M100 9h0M123 79h0M192 71h0M80 108h0M116 73h0M73 88h0M95 57h0M16 39h0M154 211h0M44 12h0M120 2h0M215 98h0M154 70h0M9 44h0M74 171h0M123 211h0M15 89h0M107 41h0M55 204h0M174 93h0M198 62h0M139 133h0M26 197h0M158 21h0M179 197h0M14 70h0M25 26h0M31 109h0M32 74h0M145 217h0M213 130h0M87 24h0M151 212h0M82 23h0M43 115h0M5 46h0M107 29h0M1 8h0M120 95h0M87 28h0M161 202h0M32 98h0M53 43h0M97 49h0M172 199h0M182 207h0M69 51h0M207 199h0M171 109h0M56 93h0M70 70h0M119 5h0M202 131h0M13 207h0M63 53h0M129 73h0M191 11h0M125 144h0M190 113h0M14 182h0M42 102h0M170 153h0M38 207h0M136 176h0M18 121h0M95 196h0M176 125h0M112 75h0M95 35h0M52 128h0M138 69h0M193 155h0M138 34h0M155 217h0M81 213h0M108 208h0M116 77h0M218 62h0M220 202h0M110 81h0M207 69h0M126 166h0M157 4h0M6 201h0M195 51h0M67 69h0M134 165h0M17 3h0M15 69h0M205 203h0M146 129h0M208 206h0M192 37h0M102 118h0M138 165h0M117 183h0M189 191h0M76 93h0M208 124h0M150 69h0M205 152h0M0 51h0M54 137h0M199 79h0M37 104h0M152 86h0M107 97h0M36 133h0M177 83h0M178 150h0M190 214h0M189 126h0M19 190h0M14 203h0M46 171h0M22 126h0M81 1h0M19 129h0M23 175h0M26 58h0M217 180h0M61 135h0M8 208h0M109 119h0M171 75h0M202 60h0M172 131h0M188 143h0M156 91h0M117 67h0M152 214h0M221 39h0M141 116h0M146 199h0M47 168h0M53 169h0M80 153h0M111 171h0M109 66h0M110 13h0M1 95h0M154 180h0M102 66h0M83 125h0M45 50h0M83 111h0M76 173h0M158 177h0M97 183h0M40 50h0M154 147h0M193 9h0M45 178h0M217 106h0M116 65h0M201 203h0M87 81h0M23 59h0M13 67h0M173 106h0M116 93h0M151 206h0M152 186h0M127 167h0M189 159h0M158 8h0M82 14h0M33 133h0M33 37h0M214 177h0M100 219h0M27 174h0M155 117h0M113 90h0M216 7h0M172 159h0M98 126h0M154 31h0M180 143h0M143 21h0M134 162h0M0 187h0M108 19h0M46 43h0M56 105h0M155 176h0M87 51h0M195 129h0M142 20h0M5 25h0M99 85h0M7 170h0M178 193h0M9 168h0M47 155h0M64 95h0M140 23h0M114 115h0M133 133h0M152 206h0M130 23h0M87 185h0M68 212h0M171 165h0M202 175h0M177 122h0M125 126h0M82 116h0M151 98h0M161 74h0M221 185h0M64 111h0M152 49h0M178 149h0M106 49h0M180 123h0M111 178h0M18 35h0M203 190h0M24 1h0M54 145h0M5 48h0M140 4h0M162 131h0M5 34h0M90 89h0M177 18h0M68 156h0M100 15h0M199 75h0M182 173h0M3 87h0M119 133h0M106 127h0M0 95h0M133 205h0M108 127h0M14 130h0M110 50h0M179 79h0M195 72h0M164 9h0M205 134h0M44 180h0M183 51h0M85 6h0M97 9h0M141 47h0M219 142h0M190 151h0M182 46h0M38 97h0M198 112h0M93 2h0M36 211h0M167 85h0M158 217h0M156 126h0M50 207h0M206 60h0M134 35h0M174 36h0M204 198h0M101 41h0M91 109h0M67 115h0M187 80h0M78 106h0M67 126h0M124 199h0M64 126h0M120 190h0M157 204h0M46 86h0M17 86h0M12 164h0M131 178h0M63 32h0M155 133h0M144 144h0M34 45h0M180 28h0M30 3h0M50 37h0M197 137h0M145 169h0M165 157h0M77 87h0M29 15h0M102 12h0M45 63h0M66 53h0M175 131h0M44 110h0M146 37h0M33 190h0M182 119h0M51 173h0M187 79h0M69 138h0M16 72h0M158 187h0M27 70h0M76 91h0M1 161h0M72 94h0M73 113h0M151 26h0M159 29h0M122 207h0M158 170h0M199 43h0M139 193h0M130 105h0M111 23h0M116 65h0M193 179h0M33 128h0M202 64h0M81 134h0M190 95h0M125 111h0M181 166h0M41 202h0M35 3h0M113 109h0M34 62h0M135 203h0M98 4h0M81 72h0M88 44h0M120 88h0M212 194h0M182 172h0M170 92h0M20 76h0M122 197h0M24 166h0M27 4h0M39 13h0M44 1h0M39 126h0M204 19h0M62 86h0M59 75h0M143 5h0M90 29h0M68 205h0M21 187h0M152 29h0M36 86h0M198 179h0M184 74h0M102 109h0M173 66h0M11 33h0M106 25h0M166 105h0M21 32h0M208 18h0M39 200h0M6 143h0M75 89h0M119 138h0M100 86h0M181 174h0M218 164h0M183 47h0M71 17h0M15 81h0M93 40h0M55 162h0M202 88h0M199 23h0M25 215h0M94 131h0M36 84h0M129 194h0M121 84h0M48 147h0M207 196h0M178 145h0M46 73h0M41 69h0M76 59h0M63 207h0M188 110h0M108 15h0M153 215h0M157 180h0M157 212h0M177 98h0M77 62h0M220 144h0M163 216h0M73 109h0M62 138h0M64 33h0M119 66h0M41 147h0M11 12h0M31 66h0M176 115h0M75 82h0M88 41h0M43 79h0M172 114h0M55 7h0M23 133h0M185 136h0M119 182h0M123 194h0M56 98h0M60 90h0M62 28h0M89 171h0M58 126h0M0 115h0M115 90h0M193 215h0M216 216h0M74 54h0M200 105h0M96 25h0M92 188h0M208 107h0M20 160h0M156 33h0M39 88h0M158 83h0M103 52h0M187 139h0M27 124h0M95 105h0M106 215h0M122 145h0M88 9h0M152 158h0M29 153h0M163 177h0M70 87h0M17 200h0M22 82h0M160 30h0M167 134h0M193 4h0M203 94h0M183 24h0M140 188h0M121 103h0M17 9h0M2 70h0M111 167h0M181 26h0M105 126h0M216 146h0M97 138h0M116 56h0M128 76h0M199 53h0M31 96h0M10 88h0M151 37h0M124 4h0M129 60h0M155 121h0M179 117h0M177 26h0M115 212h0M4 104h0M41 52h0M158 121h0M142 70h0M117 209h0M139 209h0M177 190h0M135 115h0M65 168h0M136 40h0M150 75h0M166 139h0M161 183h0M91 112h0M130 104h0M201 28h0M67 81h0M128 94h0M120 82h0M123 14h0M170 97h0M13 143h0M23 59h0M76 134h0M149 46h0M126 196h0M83 25h0M162 193h0M85 84h0M22 80h0M87 155h0M209 171h0M140 109h0M89 54h0M165 165h0M63 54h0M177 96h0M84 87h0M80 184h0M97 17h0M30 128h0M68 8h0M36 82h0M177 22h0" stroke="#d9a76e" stroke-width="2.0" stroke-linecap="round" stroke-opacity="0.45"/><path transform="translate(169 784) scale(.5)" d="M62 38h0M16 110h0M121 43h0M199 124h0M91 170h0M43 150h0M6 76h0M127 31h0M199 161h0M165 115h0M95 177h0M72 207h0M12 122h0M210 21h0M208 170h0M220 13h0M131 146h0M78 148h0M60 187h0M163 211h0M160 162h0M153 39h0M40 131h0M89 67h0M7 148h0M146 93h0M51 54h0M125 111h0M87 16h0M153 169h0M116 160h0M197 156h0M42 80h0M169 165h0M116 7h0M66 124h0M112 83h0M118 97h0M48 102h0M42 137h0M125 34h0M179 149h0M207 9h0M92 83h0M7 81h0M200 74h0M21 16h0M20 55h0M63 127h0M25 199h0M163 193h0M42 182h0M120 15h0M7 90h0M196 162h0M207 47h0M138 115h0M199 29h0M81 216h0M156 5h0M54 2h0M58 179h0M8 156h0M8 149h0M92 61h0M131 197h0M5 134h0M96 144h0M55 183h0M151 126h0M143 209h0M139 134h0M169 66h0M156 46h0M211 115h0M71 148h0M180 37h0M121 167h0M100 46h0M85 202h0M185 34h0M151 137h0M77 38h0M164 151h0M220 161h0M209 98h0M133 202h0M68 138h0M180 133h0M118 145h0M174 174h0M37 177h0M70 97h0M90 67h0M205 145h0M84 180h0M64 48h0M168 173h0M164 204h0M128 143h0M24 1h0M48 131h0M105 134h0M1 167h0M164 146h0M83 52h0M204 110h0M49 1h0M107 31h0M176 47h0M103 125h0M214 112h0M103 167h0M191 164h0M93 81h0M148 116h0M7 73h0M155 211h0M3 139h0M37 216h0M214 113h0M56 120h0M215 29h0M61 90h0M195 104h0M32 198h0M148 67h0M108 108h0M33 94h0M51 173h0M28 136h0M153 128h0M94 200h0M90 142h0M61 84h0M100 211h0M128 96h0M31 143h0M117 211h0M40 91h0M97 21h0M8 67h0M10 68h0M161 185h0M9 217h0M158 4h0M143 135h0M115 191h0M31 112h0M148 67h0M114 191h0M89 115h0M61 147h0M104 15h0M177 176h0M6 161h0M159 187h0M157 144h0M170 30h0M199 181h0M161 156h0M35 67h0M145 67h0M52 77h0M69 85h0M161 19h0M212 61h0M86 184h0M53 201h0M147 7h0M11 25h0M161 214h0M41 148h0M198 66h0M176 122h0M23 58h0M120 106h0M51 196h0M170 4h0M148 62h0M56 193h0M101 45h0M12 185h0M36 189h0M195 49h0M26 16h0M128 165h0M145 40h0M162 19h0M41 10h0M14 138h0M43 189h0M183 151h0M90 42h0M198 196h0M196 216h0M133 208h0M22 33h0M13 190h0M215 71h0M216 204h0M9 148h0M97 184h0M91 140h0M111 92h0M45 94h0M187 214h0M186 117h0M32 148h0M127 24h0M42 154h0M97 126h0M219 193h0M16 62h0M41 81h0M35 48h0M159 148h0M35 60h0M32 182h0M156 187h0M14 57h0M29 136h0M2 198h0M94 207h0M196 60h0M198 187h0M45 55h0M50 145h0M59 82h0M30 188h0M187 17h0M199 34h0M55 46h0M0 128h0M107 209h0M219 15h0M91 171h0M216 116h0M209 9h0M193 175h0M139 95h0M4 151h0M100 183h0M162 70h0M195 45h0M103 210h0M115 73h0M85 109h0M76 109h0M88 78h0M207 27h0M186 218h0M196 184h0M92 148h0M177 24h0M113 206h0M153 63h0M138 44h0M33 202h0M22 149h0M175 67h0M97 75h0M190 154h0M32 103h0M2 150h0M25 79h0M17 110h0M46 160h0M190 118h0M219 183h0M104 169h0M42 31h0M85 44h0M130 108h0M110 23h0M153 120h0M153 140h0M200 15h0M147 8h0M35 171h0M38 78h0M140 154h0M116 144h0M90 152h0M171 152h0M78 91h0M72 207h0M16 25h0M182 16h0M38 82h0M37 166h0M75 209h0M47 86h0M45 89h0M47 96h0M83 174h0M195 103h0M202 6h0M117 35h0M22 120h0M49 109h0M188 74h0M7 12h0M201 112h0M141 6h0M180 9h0M193 173h0M156 76h0M113 165h0M69 66h0M10 90h0M33 110h0M64 63h0M84 61h0M96 196h0M56 151h0M28 123h0M84 63h0M135 4h0M193 134h0M57 122h0M220 73h0M211 210h0M148 120h0M215 80h0M90 180h0M85 65h0M187 92h0M216 73h0M100 134h0M99 88h0M166 15h0M188 66h0M102 103h0M127 154h0M28 60h0M40 137h0M19 157h0M113 76h0M203 208h0M111 210h0M51 210h0M158 182h0M35 57h0M185 45h0M219 103h0M59 40h0M168 164h0M93 129h0M75 123h0M10 21h0M188 103h0M157 130h0M182 122h0M106 32h0M154 178h0M166 140h0M190 39h0M3 175h0M21 186h0M204 78h0M198 90h0M181 195h0M81 124h0M220 42h0M149 64h0M80 157h0M198 173h0M186 217h0M136 109h0M149 210h0M118 12h0M202 132h0M147 105h0M185 6h0M17 0h0M10 160h0M156 43h0M202 212h0M137 172h0M50 127h0M134 156h0M196 43h0M195 111h0M3 193h0M91 10h0M202 19h0M204 25h0M103 11h0M154 49h0M43 111h0M126 26h0M176 165h0M26 156h0M39 64h0M220 167h0M118 45h0M162 199h0M172 190h0M181 43h0M22 142h0M133 12h0M41 104h0M62 36h0M141 48h0M25 170h0M62 65h0M135 137h0M16 68h0M111 129h0M0 208h0M209 120h0M78 147h0M50 12h0M207 139h0M176 23h0M34 7h0M140 0h0M39 52h0M192 77h0M178 95h0M201 195h0M52 74h0M182 158h0M200 64h0M115 47h0M176 180h0M82 211h0M37 112h0M196 166h0M67 151h0M63 35h0M49 88h0M176 71h0M55 111h0M3 189h0M6 163h0M172 10h0M175 80h0M190 128h0M60 141h0M140 74h0M92 207h0M12 124h0M79 214h0M34 140h0M30 178h0M80 201h0M182 150h0M90 49h0M95 136h0M191 107h0M210 101h0M40 31h0M21 165h0M36 46h0M125 84h0M101 60h0M155 130h0M80 47h0M159 118h0M180 168h0M195 118h0M68 63h0M190 92h0M121 61h0M33 163h0M83 175h0M198 4h0M4 151h0M180 15h0M132 19h0M209 189h0M39 177h0M132 66h0M170 2h0M20 206h0M1 134h0M3 173h0M97 44h0M220 50h0M206 87h0M75 69h0M157 29h0M165 42h0M136 67h0M186 142h0M44 165h0M149 86h0M186 11h0M10 113h0M152 127h0M92 50h0M196 77h0M64 217h0M3 174h0M72 199h0M103 204h0M16 210h0M179 100h0M101 195h0M0 91h0M178 51h0M41 180h0M135 39h0M2 163h0M92 120h0M160 111h0M60 98h0M187 167h0M85 206h0M146 44h0M157 24h0M37 185h0M34 155h0M47 14h0M88 73h0M2 12h0M203 122h0M220 186h0M197 129h0M3 6h0M59 192h0M129 31h0M87 84h0M98 5h0M186 15h0M123 190h0M196 79h0M71 208h0M68 99h0M191 112h0M0 217h0M216 118h0M78 167h0M46 0h0M143 24h0M121 62h0M170 205h0M19 61h0M47 112h0M174 146h0M26 38h0M183 145h0M29 133h0M118 77h0M134 177h0M143 186h0M159 178h0M71 92h0M140 150h0M170 21h0M149 22h0M75 98h0M146 191h0M74 48h0M140 62h0M54 142h0M210 18h0M60 120h0M39 117h0M1 82h0M144 188h0M150 96h0M177 195h0M9 187h0M62 13h0M63 188h0M71 24h0M143 81h0M93 148h0M207 102h0M142 43h0M21 57h0M28 112h0M203 141h0M197 72h0M93 155h0M195 74h0M73 43h0M172 176h0M216 62h0M153 75h0M96 8h0M5 25h0M210 81h0M109 129h0M80 5h0M195 49h0M209 191h0M33 57h0M172 51h0M209 122h0M167 88h0M216 99h0M59 168h0M43 73h0M32 207h0M84 81h0M117 27h0M145 12h0M153 201h0M73 105h0M205 153h0M23 13h0M62 50h0M184 184h0M178 208h0M199 152h0M110 173h0M56 40h0M24 149h0M131 26h0M33 137h0M55 141h0M215 114h0M84 203h0M107 85h0M88 27h0M18 107h0M155 22h0M162 38h0M52 121h0M122 55h0M155 201h0M146 182h0M217 103h0M106 111h0M211 122h0M100 134h0M116 153h0M168 155h0M5 216h0M77 17h0M71 34h0M48 169h0M133 142h0M166 127h0M67 183h0M150 182h0M158 53h0M42 92h0M110 21h0M203 58h0M205 191h0M37 164h0M47 72h0M125 166h0M195 212h0M173 1h0M168 22h0M30 53h0M200 158h0M112 90h0M33 109h0M87 122h0M143 10h0M67 160h0M140 92h0M85 158h0M161 138h0M49 107h0M40 169h0M77 38h0M132 108h0M21 135h0M161 151h0M179 152h0M31 90h0M210 138h0M12 153h0M81 110h0M201 38h0M56 104h0M81 91h0M44 82h0M49 63h0M163 11h0M217 165h0M61 7h0M48 194h0M154 22h0M170 152h0M102 3h0M5 73h0M217 204h0M220 16h0M32 157h0M55 142h0M38 162h0M58 4h0M12 175h0M4 50h0M208 51h0M192 103h0M136 46h0M74 42h0M218 115h0M15 207h0M92 35h0M207 214h0M40 165h0M131 30h0M110 56h0M207 91h0M189 155h0M58 20h0M49 127h0M50 107h0M161 168h0M181 148h0M10 110h0M131 107h0M100 107h0M199 152h0M14 200h0M49 175h0M119 195h0M103 154h0M59 84h0M16 40h0M161 163h0M37 65h0M106 43h0M134 38h0M59 130h0M125 210h0M212 140h0M39 96h0M111 144h0M211 33h0M211 186h0M75 54h0M75 125h0M154 18h0M33 81h0M57 2h0M42 90h0M121 161h0M112 135h0M158 18h0M62 139h0M218 34h0M139 18h0M16 93h0M49 53h0M165 71h0M165 133h0M186 174h0M14 89h0M79 173h0M30 168h0M214 158h0M134 26h0M151 181h0M18 123h0M137 93h0M173 43h0M170 150h0M66 161h0M192 161h0M119 38h0M51 92h0M32 96h0M136 67h0M138 47h0M9 83h0M136 86h0M128 32h0M201 198h0M93 59h0M71 186h0M175 46h0M113 215h0M166 43h0M198 172h0M203 12h0M155 28h0M215 121h0M208 125h0M128 191h0M204 137h0M30 53h0M98 132h0M115 119h0M73 44h0M174 159h0M5 63h0M161 66h0M82 170h0M103 27h0M30 99h0M90 211h0M204 190h0M33 96h0M100 184h0M119 212h0M158 211h0M188 15h0M63 90h0M51 42h0M11 132h0M110 138h0M84 51h0M17 144h0M53 29h0M62 218h0M183 106h0M215 45h0M95 183h0M2 25h0M167 170h0M24 190h0M18 111h0M16 5h0M221 92h0M17 150h0M174 52h0M45 124h0M24 190h0M49 77h0M35 124h0M100 179h0M215 98h0M214 35h0M24 179h0M96 75h0M109 133h0M29 51h0M18 173h0M188 115h0M179 110h0M40 156h0M84 151h0M29 147h0M73 215h0M146 92h0M45 3h0M163 103h0M39 178h0M173 30h0M143 197h0M210 29h0M74 143h0M2 165h0M156 49h0M49 182h0M36 45h0M69 93h0M187 163h0M3 96h0M65 150h0M196 40h0M163 42h0M130 198h0M138 188h0M204 101h0M190 186h0M220 16h0M109 71h0M189 155h0M171 213h0M103 29h0M168 123h0M21 108h0M18 87h0M17 79h0M158 148h0M119 117h0M73 196h0M159 59h0M11 12h0M207 185h0M57 198h0M193 137h0M84 156h0M126 15h0M45 185h0M184 86h0M185 209h0M76 121h0M70 163h0M158 97h0M35 181h0M214 3h0M130 52h0M114 156h0M52 169h0M185 157h0M191 184h0M68 83h0M94 84h0M214 192h0M180 30h0M115 104h0M91 100h0M178 83h0M182 177h0M26 74h0M45 218h0M207 27h0M32 116h0M121 83h0M149 28h0M25 125h0M165 123h0M42 2h0M98 172h0M31 198h0M139 69h0M46 160h0M219 214h0M184 166h0M101 53h0M216 39h0M165 89h0M164 74h0M27 192h0M132 192h0M148 148h0M80 52h0M38 155h0M187 205h0M130 22h0M161 49h0M196 217h0M78 112h0M135 105h0M39 29h0M23 84h0M84 185h0M201 190h0M14 56h0M12 107h0M13 136h0M145 182h0M137 129h0M10 92h0M123 162h0M64 105h0M164 162h0M146 177h0M104 12h0M61 128h0M197 204h0M206 116h0M59 7h0M61 67h0M8 19h0M106 118h0M193 93h0M24 105h0M26 184h0M88 61h0M106 162h0M81 14h0M169 24h0M165 93h0M181 177h0M159 42h0M54 14h0M196 124h0M41 125h0M65 21h0M99 58h0M85 106h0M95 123h0M104 50h0M50 6h0M190 208h0M47 204h0M2 131h0M96 200h0M219 78h0M220 36h0M98 89h0M78 0h0M194 51h0M135 52h0M145 26h0M117 24h0M104 48h0M42 32h0M19 18h0M207 92h0M165 147h0M104 97h0M19 44h0M170 40h0M100 204h0M34 115h0M46 2h0M78 102h0M95 151h0M123 208h0M144 148h0M68 162h0M1 110h0M42 25h0M75 171h0M136 77h0M58 86h0M13 81h0M59 18h0M190 118h0M200 12h0M154 136h0M96 100h0M209 36h0M70 105h0M219 121h0M166 93h0M134 138h0M53 116h0M121 91h0M117 12h0M183 53h0M145 210h0M202 113h0M195 122h0M95 101h0M168 136h0M85 167h0M128 86h0M157 154h0M87 105h0M123 105h0M66 151h0M38 143h0M172 75h0M95 13h0M88 167h0M202 53h0M198 203h0M150 129h0M87 203h0M185 3h0M190 50h0M217 144h0M143 102h0M78 96h0M32 131h0M130 183h0M115 199h0M174 206h0M106 68h0M110 92h0M154 186h0M204 19h0M161 115h0M59 99h0M176 176h0M99 6h0M208 53h0M87 168h0M22 84h0M169 217h0M106 21h0M8 219h0M12 169h0M153 147h0M194 68h0M90 138h0M183 116h0M85 1h0M32 118h0M43 176h0M51 129h0M57 159h0M107 55h0M117 91h0M1 126h0M217 88h0M101 161h0M194 73h0M125 162h0M39 39h0M214 170h0M9 55h0M109 121h0M152 140h0M93 178h0M180 23h0M45 213h0M70 175h0M138 156h0M11 18h0M42 156h0M219 190h0M110 100h0M45 149h0M194 9h0M65 98h0M142 69h0M121 60h0M108 85h0M138 145h0M62 98h0M178 16h0M141 154h0M147 10h0M141 91h0M8 164h0M203 174h0M158 165h0M46 129h0M36 106h0M108 173h0M98 188h0M22 165h0M208 192h0M218 128h0M210 60h0M10 1h0M111 71h0M193 197h0M29 12h0M176 81h0M161 213h0M2 214h0M27 192h0M183 112h0M156 81h0M71 135h0M54 133h0M172 120h0M179 0h0M46 184h0M111 77h0M165 131h0M56 56h0M51 183h0M58 151h0M123 94h0M54 11h0M100 1h0M128 178h0M2 41h0M33 92h0M99 211h0M99 60h0M19 167h0M87 151h0M94 4h0M155 203h0M25 57h0M53 50h0M206 38h0M112 112h0M52 77h0M194 194h0M119 120h0M88 203h0M117 63h0M122 205h0M188 63h0M212 129h0M184 104h0M123 45h0M153 130h0M85 151h0M50 93h0M59 164h0M13 46h0M213 105h0M7 134h0M205 181h0M57 21h0M68 105h0M164 145h0M99 141h0M2 172h0M157 23h0M138 198h0M151 20h0M210 101h0M113 176h0M142 8h0M113 180h0M211 105h0M41 209h0M103 115h0M185 163h0M150 91h0M165 64h0M12 146h0M213 137h0M147 110h0M115 149h0M178 31h0M109 111h0M186 207h0M158 214h0M123 93h0M1 23h0M18 211h0M202 200h0M94 55h0M21 188h0M148 49h0M121 142h0M30 12h0M80 126h0M187 51h0M91 77h0M139 212h0M116 163h0M141 165h0M167 125h0M195 52h0M217 75h0M32 19h0M163 24h0M65 66h0M24 167h0M109 208h0M86 54h0M166 153h0M99 163h0M56 84h0M123 215h0M135 100h0M218 157h0M155 92h0M85 204h0M78 20h0M153 95h0M169 137h0M53 171h0M37 41h0M7 170h0M59 117h0M218 89h0M65 106h0M55 90h0M152 125h0M102 141h0M199 157h0M16 127h0M150 117h0M207 174h0M30 167h0M51 179h0M97 180h0M131 51h0M14 47h0M163 149h0M91 130h0M150 18h0M21 76h0M100 178h0M163 4h0M86 135h0M37 118h0M185 63h0M52 122h0M213 72h0M86 101h0M128 167h0M36 217h0M96 102h0M221 77h0M75 216h0M6 146h0M128 165h0M195 216h0M20 119h0M125 110h0M80 208h0M18 55h0M50 168h0M177 133h0M106 149h0M119 88h0M109 172h0M5 186h0M94 122h0M12 25h0M130 18h0M41 209h0M37 16h0M154 94h0M4 92h0M79 137h0M162 120h0M45 125h0M107 87h0M26 48h0M187 87h0M32 114h0M216 23h0M200 60h0M42 152h0M69 4h0M5 4h0M172 67h0M208 11h0M92 212h0M217 155h0M198 38h0" stroke="#5050c6" stroke-width="2.5" stroke-linecap="round" stroke-opacity="0.85"/><polygon points="215,836.7 221.5,835 228.2,837.5 236.5,841.7 241.6,848.3 239,856.7 231.5,863.3 224.8,866.7 219.8,863.3 218.2,855 215,846.7" fill="#fff" filter="url(#bl2)"/><ellipse cx="195" cy="855" rx="4" ry="3" fill="#fff" filter="url(#bl2)"/></g><clipPath id="cp6"><rect x="299.4" y="783.5" width="111" height="110"/></clipPath><g clip-path="url(#cp6)"><rect x="299.4" y="783.5" width="111" height="110" fill="#efedf3"/><path transform="translate(299.4 783.5) scale(.5)" d="M75 132h0M66 52h0M178 74h0M90 78h0M150 108h0M192 170h0M18 102h0M176 4h0M89 195h0M122 214h0M31 174h0M193 109h0M111 57h0M19 38h0M19 207h0M43 165h0M143 111h0M40 105h0M69 56h0M46 29h0M85 5h0M169 119h0M88 62h0M71 86h0M175 149h0M141 64h0M114 51h0M200 135h0M190 152h0M10 39h0M220 75h0M204 60h0M35 156h0M123 43h0M46 185h0M35 85h0M41 155h0M100 108h0M48 180h0M3 189h0M181 15h0M97 89h0M93 11h0M82 188h0M95 151h0M128 95h0M135 13h0M46 201h0M101 57h0M222 56h0M64 40h0M72 127h0M27 166h0M159 16h0M105 24h0M186 56h0M214 146h0M88 115h0M119 131h0M69 38h0M217 42h0M108 115h0M61 70h0M42 169h0M154 112h0M158 71h0M133 143h0M210 40h0M206 133h0M80 211h0M113 101h0M23 6h0M23 124h0M162 38h0M173 14h0M188 140h0M143 208h0M38 134h0M118 143h0M80 206h0M45 6h0M199 175h0M5 98h0M30 70h0M194 15h0M25 26h0M16 54h0M51 22h0M7 108h0M162 169h0M43 129h0M30 5h0M217 79h0M195 218h0M212 83h0M1 87h0M210 0h0M94 168h0M101 217h0M44 160h0M139 35h0M9 202h0M19 2h0M213 210h0M83 52h0M67 163h0M92 149h0M18 115h0M64 104h0M33 109h0M146 14h0M105 91h0M83 116h0M101 94h0M36 166h0M211 166h0M161 193h0M12 183h0M114 140h0M103 136h0M23 86h0M125 193h0M105 101h0M51 3h0M209 219h0M99 190h0M38 177h0M104 15h0M16 86h0M147 158h0M95 25h0M98 143h0M45 95h0M69 45h0M63 195h0M165 32h0M43 110h0M113 178h0M83 163h0M204 50h0M211 101h0M118 154h0M190 187h0M40 98h0M140 196h0M157 31h0M61 181h0M200 143h0M146 95h0M101 47h0M41 96h0M172 113h0M211 203h0M67 43h0M135 207h0M69 147h0M27 1h0M62 103h0M47 189h0M200 2h0M152 46h0M132 177h0M169 172h0M139 204h0M47 43h0M192 78h0M20 8h0M144 82h0M117 61h0M48 143h0M63 35h0M207 215h0M191 148h0M45 14h0M103 124h0M211 71h0M58 210h0M213 97h0M92 177h0M194 66h0M93 117h0M69 154h0M6 62h0M44 45h0M59 107h0M28 14h0M203 97h0M48 104h0M161 35h0M112 183h0M204 200h0M67 50h0M211 34h0M175 128h0M17 15h0M118 146h0M151 17h0M99 127h0M25 169h0M147 213h0M192 188h0M219 54h0M194 142h0M109 120h0M195 128h0M93 200h0M103 103h0M210 197h0M53 9h0M127 84h0M122 93h0M59 204h0M53 46h0M177 4h0M67 87h0M116 109h0M167 165h0M212 180h0M34 118h0M107 217h0M219 181h0M16 204h0M177 171h0M171 45h0M173 33h0M113 8h0M73 106h0M81 124h0M82 8h0M67 94h0M186 142h0M202 43h0M69 115h0M7 169h0M186 211h0M28 126h0M123 89h0M2 207h0M69 99h0M32 91h0M195 211h0M182 185h0M61 131h0M130 215h0M58 68h0M19 122h0M78 84h0M71 86h0M146 67h0M119 53h0M193 60h0M217 186h0M133 192h0M43 44h0M106 209h0M115 79h0M117 206h0M181 48h0M46 186h0M143 166h0M24 205h0M84 51h0M122 80h0M63 207h0M212 213h0M189 77h0M174 173h0M126 99h0M3 63h0M153 26h0M47 92h0M20 124h0M40 217h0M82 117h0M3 92h0M2 195h0M118 150h0M91 189h0M136 47h0M139 19h0M56 181h0M61 88h0M113 133h0M209 158h0M18 117h0M69 60h0M32 104h0M23 191h0M21 196h0M212 96h0M79 190h0M50 24h0M29 152h0M4 136h0M9 191h0M64 104h0M1 185h0M105 80h0M168 161h0M68 162h0M22 10h0M15 70h0M125 41h0M135 46h0M87 92h0M184 46h0M185 41h0M51 196h0M162 100h0M175 67h0M159 216h0M141 73h0M89 215h0M196 196h0M128 69h0M201 213h0M191 183h0M28 58h0M216 10h0M141 50h0M44 161h0M135 72h0M44 219h0M111 187h0M53 199h0M81 31h0M54 185h0M171 137h0M135 76h0M122 148h0M34 141h0M43 87h0M124 89h0M35 177h0M146 157h0M187 75h0M58 162h0M221 62h0M219 94h0M204 206h0M31 219h0M192 122h0M163 66h0M49 181h0M94 89h0M113 48h0M195 94h0M17 178h0M75 85h0M180 154h0M15 167h0M214 113h0M171 46h0M164 115h0M147 160h0M165 158h0M84 48h0M112 134h0M91 158h0M195 199h0M35 133h0M171 5h0M9 185h0M71 22h0M89 119h0M85 27h0M153 58h0M113 119h0M86 111h0M112 180h0M146 218h0M147 37h0M74 42h0M185 180h0M137 119h0M166 100h0M52 83h0M18 104h0M140 112h0M87 68h0M73 56h0M2 144h0M188 168h0M123 204h0M30 34h0M130 33h0M108 96h0M56 143h0M172 80h0M111 112h0M8 208h0M207 150h0M87 184h0M6 212h0M14 169h0M51 139h0M160 1h0M88 139h0M141 203h0M106 197h0M95 151h0M17 187h0M209 79h0M175 44h0M99 27h0M120 149h0M9 141h0M10 146h0M109 79h0M123 202h0M219 198h0M24 199h0M42 149h0M70 77h0M11 128h0M28 104h0M107 111h0M217 108h0M163 96h0M167 148h0M101 58h0M49 111h0M81 146h0M98 176h0M82 13h0M83 117h0M101 82h0M89 176h0M213 6h0M101 63h0M198 210h0M211 121h0M139 172h0M100 110h0M88 194h0M9 181h0M167 46h0M68 6h0M203 73h0M88 3h0M88 58h0M3 82h0M13 79h0M21 198h0M126 94h0M129 196h0M22 106h0M171 193h0M96 128h0M152 30h0M60 97h0M135 18h0M8 22h0M116 45h0M42 80h0M97 108h0M126 66h0M147 131h0M195 193h0M47 84h0M190 4h0M32 125h0M205 133h0M143 220h0M9 31h0M131 176h0M218 33h0M45 81h0M143 134h0M109 129h0M45 9h0M192 66h0M26 172h0M66 99h0M191 204h0M218 101h0M59 120h0M62 188h0M131 6h0M111 89h0M199 120h0M9 40h0M95 52h0M216 38h0M141 215h0M61 161h0M42 92h0M165 18h0M129 197h0M0 70h0M186 34h0M112 218h0M122 210h0M80 210h0M188 219h0M97 202h0M126 107h0M65 121h0M16 95h0M70 189h0" stroke="#c8bfd6" stroke-width="2.0" stroke-linecap="round" stroke-opacity="0.4"/><path transform="translate(299.4 783.5) scale(.5)" d="M118 165h0M120 167h0M68 66h0M85 79h0M129 125h0M125 84h0M123 129h0M117 157h0M117 121h0M146 123h0M50 73h0M98 97h0M97 96h0M116 163h0M46 88h0M120 165h0M126 157h0M122 171h0M122 166h0M91 82h0M61 67h0M122 170h0M61 78h0M74 66h0M123 167h0M167 145h0M121 176h0M118 174h0M177 143h0M58 68h0M198 147h0M63 87h0M67 78h0M98 94h0M189 131h0M140 162h0M122 171h0M63 68h0M101 96h0M109 167h0M190 143h0M124 162h0M113 163h0M181 145h0M126 162h0M107 91h0M128 161h0M59 71h0M119 159h0M61 69h0M138 120h0M119 176h0M122 158h0M124 134h0M183 147h0M107 86h0M103 109h0M113 151h0M53 64h0M130 112h0M58 90h0M101 100h0M123 135h0M57 56h0M71 66h0M133 160h0M190 138h0M123 171h0M61 80h0M126 163h0M135 125h0M76 77h0M89 98h0M112 173h0M92 94h0M70 85h0M102 97h0M176 145h0M123 122h0M95 97h0M134 179h0M128 166h0M89 107h0M46 66h0M74 57h0M105 153h0M121 177h0M111 93h0M101 92h0M55 66h0M100 98h0M123 120h0M123 157h0" stroke="#a5612c" stroke-width="2.4" stroke-linecap="round" stroke-opacity="0.6"/><path transform="translate(299.4 783.5) scale(.5)" d="M138 51h0M206 13h0M113 98h0M122 87h0M19 171h0M192 219h0M126 40h0M147 170h0M23 56h0M151 11h0M218 210h0M37 201h0M15 99h0M192 5h0M82 33h0M201 169h0M213 198h0M14 96h0M167 66h0M93 216h0M136 163h0M5 52h0M205 129h0M178 37h0M179 149h0M93 168h0M212 118h0M74 201h0M165 102h0M210 113h0M41 6h0M136 210h0M68 218h0M15 203h0M64 138h0M28 103h0M55 100h0M98 140h0M48 151h0M63 81h0M14 161h0M107 158h0M137 36h0M197 215h0M97 176h0M206 122h0M12 47h0M91 107h0M54 69h0M98 90h0M132 127h0M50 82h0M18 28h0M167 16h0M218 190h0M4 42h0M65 65h0M210 53h0M114 44h0M53 132h0M171 117h0M101 136h0M173 157h0M125 15h0M211 162h0M85 121h0M39 76h0M59 74h0M59 71h0M145 155h0M112 53h0M29 68h0M219 93h0M164 159h0M34 201h0M82 198h0M192 214h0M150 41h0M119 200h0M73 100h0M194 191h0M114 212h0M88 9h0M221 52h0M179 68h0M8 153h0M98 59h0M112 170h0M80 196h0M8 60h0M100 186h0M154 10h0M40 188h0M31 118h0M27 163h0M59 145h0M100 162h0M29 142h0M170 212h0M143 155h0M180 45h0M55 151h0M191 168h0M110 190h0M68 6h0M116 127h0M72 210h0M84 169h0M158 159h0M163 78h0M200 191h0M128 3h0M56 138h0M199 60h0M112 3h0M204 144h0M133 81h0M3 9h0M133 122h0M185 213h0M163 31h0M151 97h0M19 95h0M95 150h0M87 90h0M168 69h0M29 186h0M202 134h0M126 136h0M48 37h0M178 193h0M23 147h0M96 162h0M36 116h0M134 77h0M38 174h0M171 88h0M52 174h0M190 73h0M39 112h0M61 51h0M127 28h0M161 215h0M4 195h0M139 171h0M182 54h0M196 183h0M43 147h0M146 175h0M199 214h0M160 175h0M34 157h0M94 38h0M190 120h0M3 64h0M49 201h0M188 54h0M127 38h0M36 70h0M47 161h0M124 143h0M183 134h0M99 160h0M201 189h0M94 48h0M137 105h0M164 9h0M174 133h0M14 23h0M170 219h0M179 49h0M102 182h0M195 68h0M92 94h0M110 132h0M130 185h0M199 14h0M136 7h0M77 56h0M103 88h0M168 100h0M194 111h0M89 121h0M46 43h0M123 128h0M53 43h0M93 32h0M41 159h0M211 62h0M26 114h0M95 82h0M64 31h0M156 19h0M143 68h0M42 60h0M159 213h0M113 22h0M189 11h0M9 100h0M37 64h0M87 91h0M16 94h0M217 200h0M86 150h0M60 182h0M165 33h0M127 176h0M153 215h0M147 135h0M186 135h0M180 153h0M186 74h0M129 114h0M127 72h0M211 154h0M121 129h0M117 129h0M107 122h0M125 53h0M204 69h0M72 143h0M29 72h0M26 37h0M0 107h0M74 172h0M115 87h0M1 53h0M113 83h0M128 197h0M176 50h0M17 141h0M108 104h0M161 151h0M147 45h0M29 171h0M22 208h0M182 134h0M180 172h0M42 139h0M196 41h0M219 174h0M148 143h0M13 57h0M80 197h0M28 3h0M66 100h0M146 161h0M104 175h0M54 219h0M177 134h0M103 135h0M121 72h0M148 197h0M65 200h0M158 180h0M54 188h0M27 214h0M175 13h0M156 134h0M127 217h0M54 177h0M139 198h0M11 181h0M147 60h0M36 185h0M219 54h0M196 220h0M128 31h0M97 43h0M25 62h0M122 75h0M207 96h0M10 120h0M206 33h0M120 186h0M34 114h0M34 110h0M135 89h0M12 133h0M52 48h0M79 216h0M67 47h0M37 32h0M204 159h0M151 170h0M211 92h0M105 126h0M47 98h0M142 201h0M3 12h0M160 144h0M26 64h0M88 130h0M93 194h0M171 52h0M23 30h0M68 8h0M62 60h0M147 44h0M162 3h0M118 74h0M192 48h0M157 111h0M99 40h0M147 150h0M191 122h0M86 80h0M105 133h0M211 121h0M121 28h0M12 149h0M84 164h0M107 154h0M64 89h0M112 79h0M77 78h0M199 146h0M151 79h0M28 89h0M69 172h0M151 170h0M159 96h0M23 118h0M72 38h0M67 153h0M32 40h0M160 166h0M143 115h0M12 34h0M205 103h0M77 148h0M124 98h0M190 131h0M70 216h0M201 66h0M11 114h0M43 95h0M204 152h0M40 11h0M91 126h0M98 1h0M56 98h0M115 95h0M38 143h0M209 184h0M132 74h0M85 89h0M114 135h0M46 48h0M95 61h0M24 5h0M175 62h0M219 155h0M57 130h0M190 139h0M125 37h0M40 89h0M39 2h0M85 82h0M112 95h0M196 30h0M67 57h0M203 34h0M61 197h0M27 153h0M131 3h0M74 95h0M38 45h0M207 85h0M94 174h0M50 159h0M175 168h0M155 64h0M157 102h0M164 42h0M96 87h0M84 188h0M155 75h0M42 211h0M160 172h0M109 159h0M202 71h0M75 28h0M119 135h0M52 180h0M115 136h0M118 74h0M211 190h0M215 78h0M106 171h0M121 182h0M212 10h0M81 204h0M148 62h0M97 219h0M191 127h0M76 136h0M76 130h0M159 56h0M147 146h0M93 134h0M198 28h0M2 55h0M10 134h0M41 87h0M221 217h0M1 176h0M137 113h0M123 111h0M186 73h0M86 87h0M176 175h0M106 33h0M54 203h0M137 208h0M217 180h0M142 184h0M186 148h0M134 10h0M29 176h0M92 20h0M126 50h0M85 88h0M30 40h0M131 11h0M133 12h0M141 34h0M203 48h0M166 44h0M1 128h0M142 106h0M92 15h0M26 64h0M130 214h0M179 34h0M104 10h0M201 172h0M182 149h0M101 125h0M219 111h0M39 14h0M211 87h0M110 156h0M183 135h0M123 28h0M174 106h0M76 50h0M56 59h0M109 180h0M27 125h0M155 112h0M165 90h0M79 49h0M217 159h0M78 117h0M142 59h0M196 141h0M41 5h0M156 114h0M50 170h0M11 32h0M76 40h0M28 178h0M90 214h0M18 63h0M64 3h0M4 115h0M80 189h0M42 105h0M211 122h0M155 217h0M1 80h0M174 83h0M53 200h0M129 67h0M222 61h0M164 10h0M111 45h0M158 160h0M209 49h0M95 61h0M198 126h0M120 219h0M65 168h0M34 37h0M42 29h0M109 209h0M49 126h0M215 122h0M25 104h0M126 8h0M186 89h0M211 213h0M124 181h0M86 186h0M183 154h0M185 65h0M44 152h0M165 117h0M158 178h0M37 78h0M75 132h0M32 87h0M207 46h0M145 88h0M0 67h0M185 175h0M191 130h0M36 111h0M136 85h0M51 10h0M163 202h0M103 150h0M154 160h0M70 182h0M96 55h0M153 93h0M25 212h0M69 97h0M194 4h0M194 40h0M101 66h0M73 150h0M173 7h0M154 186h0M24 208h0M213 203h0M106 213h0M13 216h0M49 174h0M151 7h0M122 141h0M30 31h0M53 190h0M213 139h0M90 172h0M183 177h0M216 137h0M26 97h0M204 174h0M164 2h0M73 144h0M92 108h0M94 79h0M209 110h0M130 170h0M211 92h0M3 136h0M8 81h0M73 8h0M44 190h0M181 197h0M23 146h0M201 50h0M27 143h0M2 154h0M127 162h0M119 109h0M79 20h0M184 28h0M198 111h0M173 143h0M61 86h0M31 41h0M136 71h0M101 135h0M91 119h0M33 101h0M105 85h0M59 193h0M212 80h0M93 188h0M147 211h0M87 35h0M41 143h0M160 72h0M166 100h0M158 55h0M176 60h0M217 167h0M118 134h0M141 9h0M56 162h0M166 62h0M119 149h0M203 26h0M59 89h0M169 93h0M207 182h0M70 40h0M17 54h0M212 210h0M171 123h0M216 115h0M61 104h0M118 148h0M210 198h0M111 171h0M33 170h0M36 174h0M122 151h0M30 78h0M142 62h0M18 167h0M183 132h0M101 121h0M201 25h0M10 110h0M78 178h0M39 152h0M221 83h0M19 122h0M29 189h0M105 91h0M29 197h0M133 156h0M139 150h0M9 94h0M149 44h0M30 56h0M180 150h0M24 9h0M30 179h0M47 31h0M35 49h0M160 81h0M18 23h0M204 71h0M99 206h0M82 218h0M47 82h0M65 42h0M46 108h0M214 77h0M47 13h0M189 62h0M63 121h0M40 149h0M77 192h0M86 148h0M168 35h0M85 43h0M104 156h0M86 12h0M159 47h0M136 95h0M93 93h0M150 193h0M162 10h0M161 42h0M180 90h0M214 182h0M166 147h0M33 13h0M18 72h0M175 32h0M101 58h0M118 40h0M144 74h0M55 175h0M97 119h0M196 208h0M137 146h0M77 137h0M185 50h0M136 216h0M63 184h0M27 83h0M193 26h0M45 5h0M97 77h0M170 180h0M33 104h0M154 145h0M199 159h0M8 31h0M84 85h0M148 178h0M189 114h0M139 88h0M6 70h0M58 206h0M192 142h0M59 2h0M122 211h0M198 185h0M44 175h0M115 33h0M22 149h0M186 46h0M24 11h0M106 23h0M140 2h0M183 75h0M43 103h0M194 185h0M118 147h0M154 10h0M150 45h0M150 218h0M193 42h0M73 100h0M163 202h0M134 129h0M84 30h0M60 1h0M94 148h0M75 131h0M154 74h0M75 198h0M56 86h0M219 117h0M161 100h0M181 129h0M128 104h0M71 46h0M124 130h0M105 100h0M15 15h0M31 106h0M72 70h0M175 155h0M194 196h0M201 172h0M65 13h0M101 198h0M61 28h0M76 171h0M5 70h0M221 183h0M41 13h0M44 22h0M194 39h0M125 187h0M172 34h0M143 45h0M74 124h0M201 4h0M49 92h0M71 147h0M4 140h0M122 173h0M105 203h0M34 150h0M76 101h0M182 80h0M193 141h0M120 210h0M12 49h0M195 165h0M139 40h0M156 84h0M212 57h0M120 203h0M140 4h0M53 161h0M219 156h0M53 48h0M192 177h0M44 155h0M114 157h0M117 139h0M71 68h0M138 118h0M33 39h0M6 121h0M75 48h0M183 122h0M150 48h0M79 37h0M178 97h0M53 194h0M110 184h0M122 76h0M111 21h0M114 190h0M124 157h0M96 139h0M216 113h0M143 152h0M91 108h0M79 14h0M157 154h0M166 46h0M71 201h0M3 19h0M87 125h0M55 152h0M104 166h0M211 196h0M109 120h0M213 163h0M102 5h0M81 200h0M118 157h0M141 42h0M130 98h0M194 5h0M170 168h0M88 40h0M30 93h0M41 47h0M143 13h0M160 47h0M86 68h0M46 55h0M71 48h0M133 130h0M41 59h0M27 30h0M178 194h0M200 214h0M222 184h0M90 61h0M74 157h0M85 198h0M93 130h0M114 80h0M28 208h0M178 150h0M104 48h0M220 106h0M45 6h0M28 165h0M6 62h0M129 83h0M208 104h0M55 128h0M34 92h0M14 19h0M32 81h0M7 42h0M198 214h0M36 124h0M137 215h0M26 218h0M102 47h0M136 99h0M213 61h0M205 3h0M153 210h0M201 94h0M144 215h0M16 84h0M32 39h0M161 50h0M217 185h0M185 178h0M214 126h0M195 2h0M60 184h0M89 189h0M185 95h0M216 59h0M167 9h0M122 70h0M155 116h0M97 110h0M40 88h0M195 191h0M135 133h0M125 8h0M55 81h0M133 60h0M166 182h0M90 9h0M6 44h0M221 112h0M103 68h0M102 73h0M1 139h0M30 160h0M3 54h0M116 202h0M188 180h0M189 217h0M82 145h0M41 136h0M78 214h0M124 211h0M150 76h0M115 50h0M91 1h0M21 114h0M60 145h0M157 7h0M6 35h0M89 187h0M130 80h0M58 14h0M150 203h0M25 87h0M120 7h0M46 99h0M205 43h0M58 153h0M19 136h0M157 143h0M64 164h0M209 114h0M74 94h0M167 180h0M67 179h0M88 113h0M48 129h0M123 132h0M62 7h0M179 175h0M43 62h0M1 132h0M190 62h0M82 5h0M164 57h0M23 86h0M124 216h0M47 188h0M166 173h0M145 118h0M144 157h0M196 148h0M171 20h0M112 64h0M48 30h0M125 126h0M94 81h0M16 72h0M166 131h0M212 151h0M129 165h0M57 183h0M91 167h0M191 140h0M176 105h0M182 14h0M195 179h0M96 158h0M126 89h0M49 143h0M162 55h0M166 185h0M98 95h0M57 85h0M143 193h0M43 187h0M185 203h0M97 9h0M101 166h0M109 210h0M43 96h0M94 186h0M123 136h0M33 149h0M126 209h0M134 50h0M141 207h0M114 81h0M23 120h0M148 61h0M140 214h0M189 46h0M72 138h0M96 59h0M150 42h0M208 69h0M124 198h0M201 95h0M112 33h0M139 3h0M131 212h0M138 110h0M199 116h0M130 30h0M69 64h0M191 188h0M62 90h0M134 47h0M182 103h0M178 89h0M23 182h0M42 131h0M130 166h0M64 12h0M132 65h0M220 191h0M214 208h0M201 194h0M147 166h0M27 87h0M152 71h0M122 163h0M176 45h0M72 48h0M107 28h0M33 95h0M175 2h0M108 76h0M102 2h0M83 122h0M58 53h0M168 144h0M46 215h0M184 73h0M159 70h0M219 138h0M63 177h0M47 142h0M124 159h0M169 180h0M60 89h0M173 4h0M210 44h0M91 194h0M186 214h0M75 188h0M63 189h0M3 85h0M214 67h0M121 170h0M128 179h0M164 152h0M175 77h0M80 104h0M11 173h0M51 91h0M44 67h0M160 12h0M114 204h0M27 8h0M21 138h0M86 205h0M204 73h0M151 73h0M107 34h0M183 154h0M168 129h0M56 84h0M105 12h0M186 12h0M71 133h0M43 56h0M65 155h0M22 110h0M222 146h0M178 16h0M60 210h0M218 130h0M81 174h0M74 51h0M194 10h0M37 6h0M30 77h0M201 181h0M17 149h0M110 143h0M12 190h0M123 159h0M193 204h0M190 141h0M82 70h0M190 15h0M206 116h0M199 139h0M194 120h0M181 146h0M42 52h0M131 18h0M66 73h0M180 32h0M146 101h0M134 136h0M17 40h0M110 153h0M152 8h0M155 103h0M106 76h0M181 6h0M86 73h0M135 101h0M111 112h0M96 2h0M71 70h0M47 202h0M154 2h0M94 20h0M216 98h0M210 13h0M44 116h0M219 89h0M103 188h0M46 196h0M86 171h0M13 11h0M143 84h0M59 10h0M73 217h0M81 45h0M55 96h0M172 111h0M48 105h0M203 157h0M172 204h0M89 3h0M112 210h0M25 174h0M189 217h0M145 117h0M145 117h0M76 133h0M141 79h0M54 84h0M121 51h0M191 148h0M113 88h0M74 177h0M157 60h0M170 148h0M162 141h0M102 215h0M177 214h0M55 58h0M72 148h0M134 39h0M204 219h0M201 177h0M203 209h0M99 52h0M95 208h0M28 188h0M213 26h0M174 8h0M211 32h0M161 142h0M122 160h0M42 203h0M203 137h0M201 128h0M153 135h0M183 180h0M220 17h0M90 83h0M98 15h0M105 124h0M152 186h0M54 98h0M12 160h0M79 87h0M215 156h0M49 93h0M127 165h0M146 69h0M164 162h0M191 133h0M197 88h0M52 162h0M171 191h0M64 142h0M211 127h0M75 158h0M55 61h0M213 133h0M24 216h0M38 82h0M11 147h0M48 58h0M216 92h0M119 189h0M107 8h0M213 7h0M4 83h0M199 105h0M188 5h0M37 15h0M80 81h0M214 200h0M83 177h0M146 88h0M163 147h0M189 40h0M43 126h0M85 175h0M124 195h0M85 67h0M165 138h0M111 203h0M154 89h0M183 27h0M166 198h0M144 43h0M195 63h0M112 134h0M84 72h0M11 77h0M99 216h0M33 12h0M145 168h0M183 213h0M46 194h0M0 151h0M149 71h0M102 154h0M43 44h0M4 201h0M102 76h0M168 10h0M130 26h0M96 204h0M191 46h0M11 165h0M132 93h0M2 50h0M186 164h0M98 72h0M207 93h0M4 7h0M60 216h0M158 69h0M169 27h0M148 197h0M155 9h0M181 86h0M105 220h0M194 120h0M192 172h0M196 42h0M18 132h0M183 63h0M139 80h0M108 151h0M64 121h0M5 109h0M155 109h0M123 72h0M102 164h0M10 215h0M131 87h0M221 142h0M81 138h0M100 66h0M73 51h0M218 149h0M62 38h0M157 136h0M207 59h0M122 81h0M68 145h0M49 160h0M150 50h0M207 54h0M56 69h0M164 96h0M9 3h0M140 166h0M84 81h0M67 15h0M222 190h0M144 69h0M71 51h0M171 22h0M211 158h0M105 189h0M35 204h0M30 114h0M121 150h0M101 128h0M94 31h0M145 110h0M166 185h0M203 7h0M110 105h0M111 124h0M162 66h0M143 70h0M14 53h0M15 125h0M112 183h0M186 97h0M52 178h0M174 94h0M134 66h0M214 219h0M67 180h0M198 42h0M198 192h0M16 51h0M135 127h0M95 64h0M178 107h0M142 170h0M10 109h0M97 211h0M11 140h0M131 154h0M0 125h0M111 169h0M149 41h0M154 71h0M120 122h0M84 53h0M146 176h0M209 77h0M210 202h0M94 136h0M24 141h0M193 137h0M189 125h0M171 148h0M201 186h0M79 205h0M172 178h0M194 145h0M183 201h0M166 220h0M23 107h0M31 211h0M59 180h0M150 63h0M142 85h0M69 25h0M26 177h0M178 56h0M117 75h0M108 19h0M167 52h0M59 64h0M48 167h0M40 157h0M43 174h0M138 138h0M82 214h0M75 200h0M124 204h0M128 0h0M132 160h0M150 111h0M217 42h0M9 199h0M213 6h0M96 126h0M98 139h0M140 183h0M21 117h0M115 114h0M184 39h0M130 121h0M8 82h0M6 32h0M174 108h0M18 111h0M165 148h0M96 16h0M221 53h0M153 15h0M59 116h0M93 74h0M9 158h0M7 79h0M57 36h0M24 31h0M180 65h0M83 15h0M94 59h0M206 28h0M172 31h0M84 161h0M67 110h0M117 13h0M31 39h0M200 99h0M12 128h0M202 201h0M215 15h0M92 202h0M41 132h0M67 149h0M34 34h0M130 189h0M91 15h0M168 90h0M49 101h0M15 88h0M30 92h0M132 34h0M213 49h0M189 125h0M217 193h0M185 82h0M87 163h0M114 149h0M92 213h0M118 5h0M20 59h0M119 116h0M43 19h0M162 40h0M8 146h0M88 16h0M125 105h0M209 150h0M116 154h0M219 115h0M50 56h0M98 160h0M115 193h0M162 68h0M88 81h0M1 16h0M205 162h0M155 91h0M73 45h0M68 53h0M44 201h0M93 50h0M165 185h0M71 137h0M103 66h0M68 205h0M113 202h0M217 119h0M198 49h0M36 125h0M94 73h0M65 59h0M61 198h0M122 29h0M216 7h0M176 215h0M92 109h0M110 137h0M33 174h0M176 103h0M170 149h0M65 41h0M35 85h0M49 89h0M53 63h0M206 174h0M169 190h0M75 9h0M213 9h0M107 86h0M81 104h0M75 126h0M157 188h0M99 194h0M38 82h0M188 69h0M186 37h0M198 212h0M4 71h0M96 138h0M66 170h0M81 1h0M126 170h0M120 217h0M53 215h0M199 126h0M170 141h0M217 63h0M71 14h0M156 89h0M97 5h0M189 151h0M11 75h0M133 172h0M88 120h0M139 139h0M205 1h0M55 215h0M92 20h0M36 67h0M201 113h0M144 160h0M176 96h0M190 128h0M211 35h0M193 196h0M86 209h0M113 112h0M179 84h0M150 183h0M213 212h0M119 98h0M128 212h0M156 56h0M113 26h0M14 106h0M219 55h0M10 28h0M163 163h0M217 46h0M211 15h0M13 149h0M80 197h0M68 76h0M13 184h0M83 103h0M211 88h0M105 25h0M149 147h0M2 151h0" stroke="#3c3cb4" stroke-width="2.8" stroke-linecap="round" stroke-opacity="0.9"/><circle cx="322.9" cy="803.8" r="1.5" fill="#fff" stroke="#d6d0e2" stroke-width="0.4"/><circle cx="331.1" cy="802.4" r="2.8" fill="#fff" stroke="#d6d0e2" stroke-width="0.4"/><circle cx="321.8" cy="794.6" r="1.6" fill="#fff" stroke="#d6d0e2" stroke-width="0.4"/><circle cx="302.8" cy="818.0" r="4.3" fill="#fff" stroke="#d6d0e2" stroke-width="0.4"/><circle cx="325.2" cy="784.8" r="3.6" fill="#fff" stroke="#d6d0e2" stroke-width="0.4"/><circle cx="320.3" cy="808.4" r="4.0" fill="#fff" stroke="#d6d0e2" stroke-width="0.4"/><circle cx="315.4" cy="801.7" r="3.0" fill="#fff" stroke="#d6d0e2" stroke-width="0.4"/><circle cx="308.7" cy="819.7" r="4.1" fill="#fff" stroke="#d6d0e2" stroke-width="0.4"/><circle cx="337.3" cy="823.5" r="2.7" fill="#fff" stroke="#d6d0e2" stroke-width="0.4"/><circle cx="333.2" cy="793.9" r="2.6" fill="#fff" stroke="#d6d0e2" stroke-width="0.4"/><circle cx="366.6" cy="828.6" r="2.8" fill="#fff" stroke="#d6d0e2" stroke-width="0.4"/><circle cx="324.4" cy="810.6" r="4.4" fill="#fff" stroke="#d6d0e2" stroke-width="0.4"/><circle cx="321.8" cy="828.3" r="4.1" fill="#fff" stroke="#d6d0e2" stroke-width="0.4"/><circle cx="369.2" cy="792.7" r="4.3" fill="#fff" stroke="#d6d0e2" stroke-width="0.4"/><circle cx="394.8" cy="821.6" r="2.1" fill="#fff" stroke="#d6d0e2" stroke-width="0.4"/><circle cx="397.4" cy="820.5" r="4.2" fill="#fff" stroke="#d6d0e2" stroke-width="0.4"/><circle cx="342.6" cy="799.8" r="4.1" fill="#fff" stroke="#d6d0e2" stroke-width="0.4"/><circle cx="348.6" cy="820.1" r="3.8" fill="#fff" stroke="#d6d0e2" stroke-width="0.4"/><circle cx="301.7" cy="808.6" r="1.9" fill="#fff" stroke="#d6d0e2" stroke-width="0.4"/><circle cx="354.5" cy="841.6" r="3.3" fill="#fff" stroke="#d6d0e2" stroke-width="0.4"/><circle cx="380.1" cy="844.0" r="4.3" fill="#fff" stroke="#d6d0e2" stroke-width="0.4"/><circle cx="299.5" cy="833.7" r="1.9" fill="#fff" stroke="#d6d0e2" stroke-width="0.4"/><circle cx="343.4" cy="837.8" r="3.4" fill="#fff" stroke="#d6d0e2" stroke-width="0.4"/><circle cx="323.0" cy="797.1" r="2.0" fill="#fff" stroke="#d6d0e2" stroke-width="0.4"/><circle cx="335.7" cy="846.6" r="2.5" fill="#fff" stroke="#d6d0e2" stroke-width="0.4"/><circle cx="327.8" cy="846.8" r="4.4" fill="#fff" stroke="#d6d0e2" stroke-width="0.4"/><circle cx="306.3" cy="812.4" r="4.4" fill="#fff" stroke="#d6d0e2" stroke-width="0.4"/><circle cx="325.6" cy="837.2" r="3.7" fill="#fff" stroke="#d6d0e2" stroke-width="0.4"/><circle cx="365.7" cy="848.1" r="2.7" fill="#fff" stroke="#d6d0e2" stroke-width="0.4"/><circle cx="320.5" cy="787.3" r="4.2" fill="#fff" stroke="#d6d0e2" stroke-width="0.4"/><circle cx="388.1" cy="791.4" r="2.9" fill="#fff" stroke="#d6d0e2" stroke-width="0.4"/><circle cx="303.5" cy="799.4" r="4" fill="#fff" stroke="#d6d0e2" stroke-width="0.4"/><circle cx="308.3" cy="832.5" r="5.5" fill="#fff" stroke="#d6d0e2" stroke-width="0.4"/><circle cx="304.3" cy="827.8" r="3.5" fill="#fff" stroke="#d6d0e2" stroke-width="0.4"/><circle cx="332.7" cy="793.8" r="5" fill="#fff" stroke="#d6d0e2" stroke-width="0.4"/><circle cx="321.7" cy="808" r="4" fill="#fff" stroke="#d6d0e2" stroke-width="0.4"/><circle cx="345.4" cy="807.3" r="3.5" fill="#fff" stroke="#d6d0e2" stroke-width="0.4"/><circle cx="372.2" cy="791.5" r="4" fill="#fff" stroke="#d6d0e2" stroke-width="0.4"/><circle cx="389.6" cy="793" r="3.5" fill="#fff" stroke="#d6d0e2" stroke-width="0.4"/><circle cx="365.9" cy="824.6" r="3" fill="#fff" stroke="#d6d0e2" stroke-width="0.4"/><circle cx="383.3" cy="842" r="3" fill="#fff" stroke="#d6d0e2" stroke-width="0.4"/><circle cx="389.6" cy="829.4" r="3" fill="#fff" stroke="#d6d0e2" stroke-width="0.4"/><circle cx="400.6" cy="868" r="4" fill="#fff" stroke="#d6d0e2" stroke-width="0.4"/><circle cx="392.7" cy="848.3" r="3" fill="#fff" stroke="#d6d0e2" stroke-width="0.4"/><circle cx="370.6" cy="859.4" r="3.5" fill="#fff" stroke="#d6d0e2" stroke-width="0.4"/><circle cx="310" cy="812" r="3.5" fill="#fff" stroke="#d6d0e2" stroke-width="0.4"/><circle cx="315" cy="790" r="3.5" fill="#fff" stroke="#d6d0e2" stroke-width="0.4"/><circle cx="326" cy="818" r="3" fill="#fff" stroke="#d6d0e2" stroke-width="0.4"/><circle cx="340" cy="786" r="3" fill="#fff" stroke="#d6d0e2" stroke-width="0.4"/><circle cx="301" cy="845" r="3" fill="#fff" stroke="#d6d0e2" stroke-width="0.4"/><circle cx="312" cy="850" r="3" fill="#fff" stroke="#d6d0e2" stroke-width="0.4"/><circle cx="330" cy="830" r="2.5" fill="#fff" stroke="#d6d0e2" stroke-width="0.4"/><circle cx="352" cy="795" r="3" fill="#fff" stroke="#d6d0e2" stroke-width="0.4"/><polygon points="316,894 316,880 322,869 332,868 345,871 355,873 365,870 380,872 395,871 405,869 411,866 411,894" fill="#fff" filter="url(#bl2)"/><circle cx="325.6" cy="875.2" r="7" fill="#fff" filter="url(#bl2)"/><path transform="translate(316 872) scale(.5)" d="M165 13h0M115 34h0M136 40h0M163 40h0M5 19h0M92 3h0M1 37h0M187 35h0M60 31h0M57 33h0M53 34h0M188 43h0M168 40h0M135 24h0M175 4h0M70 27h0M91 35h0M37 3h0M24 42h0M25 10h0M72 27h0M149 3h0M177 34h0M61 8h0M113 26h0M51 7h0M146 30h0M152 10h0M137 3h0M1 8h0" stroke="#7070c8" stroke-width="2.0" stroke-linecap="round" stroke-opacity="0.6"/></g><clipPath id="cp7"><rect x="37.5" y="904" width="110.5" height="111"/></clipPath><g clip-path="url(#cp7)"><rect x="37.5" y="904" width="110.5" height="111" fill="#f2f1f5"/><path transform="translate(37.5 904) scale(.5)" d="M16 181h0M142 44h0M130 199h0M100 44h0M79 10h0M180 108h0M179 124h0M215 185h0M134 51h0M185 75h0M140 140h0M160 92h0M166 191h0M164 30h0M29 99h0M41 79h0M45 205h0M174 221h0M138 206h0M166 135h0M85 20h0M137 94h0M57 205h0M75 91h0M184 129h0M38 139h0M153 49h0M48 159h0M141 184h0M6 25h0M22 176h0M168 213h0M207 162h0M127 205h0M141 173h0M61 69h0M206 186h0M176 146h0M154 90h0M170 110h0M211 200h0M188 106h0M30 64h0M26 179h0M3 148h0M181 40h0M38 183h0M197 82h0M183 62h0M20 37h0M177 134h0M114 205h0M101 217h0M21 102h0M127 51h0M78 124h0M153 109h0M57 127h0M30 212h0M37 51h0M13 102h0M181 180h0M80 153h0M97 86h0M162 184h0M169 109h0M65 112h0M3 103h0M64 89h0M83 79h0M203 114h0M31 101h0M120 142h0M185 221h0M147 129h0M93 141h0M15 130h0M148 0h0M54 5h0M96 115h0M122 200h0M164 88h0M135 53h0M157 95h0M86 47h0M148 42h0M149 39h0M95 19h0M139 115h0M220 12h0M191 120h0M80 128h0M26 182h0M5 43h0M205 188h0M118 148h0M117 144h0M126 135h0M80 148h0M14 68h0M34 85h0M215 186h0M133 123h0M120 9h0M102 195h0M39 65h0M144 122h0M103 32h0M30 179h0M192 109h0M26 114h0M150 156h0M72 128h0M50 86h0M115 208h0M41 31h0M180 77h0M40 93h0M97 12h0M121 203h0M101 166h0M34 51h0M128 198h0M78 17h0M170 138h0M92 80h0M213 67h0M117 157h0M155 38h0M109 37h0M176 203h0M91 221h0M99 191h0M153 59h0M143 80h0M78 97h0M12 182h0M36 44h0M96 151h0M214 103h0M175 10h0M176 134h0M130 163h0M218 141h0M220 48h0M115 54h0M120 216h0M115 118h0M60 31h0M91 4h0M70 178h0M96 152h0M191 60h0M145 10h0M132 131h0M207 81h0M156 6h0M164 69h0M108 189h0M94 11h0M138 25h0M212 160h0M157 31h0M173 137h0M164 24h0M190 14h0M51 140h0M120 4h0M155 47h0M71 206h0M133 59h0M161 159h0M2 10h0M184 128h0M148 114h0M198 36h0M2 24h0M24 114h0M87 159h0M111 72h0M161 87h0M204 74h0M140 93h0M56 53h0M70 24h0M130 173h0M116 132h0M109 152h0M180 115h0M166 51h0M193 100h0M163 72h0M51 184h0M207 145h0M122 111h0M190 38h0M193 139h0M100 71h0M220 128h0M128 98h0M215 10h0M123 146h0M187 188h0M157 14h0M163 92h0M12 214h0M28 159h0M198 198h0M12 177h0M21 167h0M60 6h0M144 23h0M186 48h0M10 13h0M179 90h0M142 120h0M34 43h0M7 63h0M27 222h0M135 154h0M81 128h0M11 97h0M184 99h0M37 158h0M177 182h0M143 197h0M102 213h0M210 134h0M9 43h0M111 77h0M135 31h0M130 153h0M69 189h0M157 88h0M36 98h0M75 121h0M71 147h0M63 177h0M144 201h0M72 187h0M39 206h0M89 221h0M23 141h0M155 165h0M21 142h0M36 29h0M213 90h0M189 5h0M77 58h0M218 140h0M39 3h0M165 193h0M48 195h0M81 63h0M103 210h0M28 122h0M203 217h0M216 164h0M111 141h0M10 85h0M32 159h0M202 85h0M89 221h0M50 117h0M59 141h0M34 16h0M64 207h0M186 21h0M36 155h0M25 155h0M4 92h0M67 127h0M160 178h0M191 143h0M55 24h0M111 182h0M130 84h0M148 134h0M173 199h0M179 5h0M103 181h0M150 167h0M103 40h0M204 7h0M158 55h0M178 60h0M169 169h0M19 5h0M69 194h0M220 202h0M126 131h0M167 106h0M126 190h0M68 159h0M91 181h0M54 120h0M73 129h0M33 23h0M20 159h0M56 47h0M27 71h0M209 97h0M141 27h0M1 206h0M200 219h0M191 207h0M170 135h0M18 66h0M64 65h0M141 164h0M121 142h0M82 181h0M94 69h0M162 5h0M63 68h0M41 113h0M19 12h0M179 54h0M199 195h0M154 94h0M162 114h0M162 134h0M184 111h0M24 157h0M186 162h0M177 134h0M132 181h0M172 21h0M90 50h0M28 186h0M84 156h0M48 38h0M89 35h0M209 219h0M73 80h0M191 209h0M97 141h0M76 172h0M108 137h0M96 98h0M21 41h0M178 17h0M141 40h0M170 106h0M167 126h0M74 5h0M65 113h0M141 97h0M62 157h0M125 104h0M102 78h0M170 32h0M45 90h0M21 111h0M29 170h0M161 201h0M181 104h0M198 29h0M70 205h0M11 5h0M143 119h0M209 132h0M54 202h0M141 184h0M161 19h0M180 191h0M40 132h0M123 155h0M69 154h0M100 30h0M129 109h0M101 203h0M186 62h0M107 24h0M20 108h0M144 101h0M50 88h0M208 12h0M72 85h0M84 182h0M185 190h0M15 179h0M49 123h0M28 186h0M104 126h0M36 40h0M157 133h0M210 118h0M3 175h0M96 94h0M29 47h0M158 9h0M80 19h0M175 217h0M87 207h0M69 162h0M177 149h0M174 21h0M189 173h0M218 93h0M161 80h0M18 167h0M37 28h0M65 145h0M220 161h0M22 212h0M173 1h0M210 12h0M192 132h0M70 99h0M19 148h0M89 32h0M32 105h0M78 95h0M61 65h0M89 99h0M167 85h0M84 188h0M215 78h0M208 1h0M22 114h0M104 128h0M73 116h0M201 157h0M100 153h0M108 21h0M96 112h0M106 101h0M182 28h0M144 51h0M29 132h0M24 193h0M174 65h0M41 74h0M84 148h0M165 22h0M195 26h0M38 213h0M46 96h0M118 65h0M91 43h0M116 76h0M33 108h0M89 137h0M175 21h0M63 53h0M31 144h0M20 13h0M55 89h0M167 148h0M47 118h0M32 2h0M155 92h0M191 192h0M128 145h0M219 46h0M68 31h0M94 85h0M179 24h0M73 215h0M93 177h0M70 192h0M131 215h0M56 3h0M56 49h0M124 202h0M202 103h0M49 191h0M155 32h0M82 143h0M205 57h0M29 102h0M23 117h0M48 27h0M77 7h0M144 197h0M62 190h0M205 180h0M30 59h0M173 11h0M204 159h0M103 169h0M221 83h0M77 174h0M43 186h0M177 204h0M36 70h0M217 222h0M73 204h0M33 72h0M203 120h0M29 191h0M161 172h0M77 31h0M99 135h0M193 92h0M213 162h0M91 206h0M136 212h0M9 11h0M87 124h0M158 60h0M153 136h0M201 33h0M16 104h0M74 52h0M134 38h0M219 101h0M86 18h0M199 160h0M108 72h0M63 222h0M131 14h0M129 112h0M39 163h0M191 114h0M8 148h0M57 183h0M181 95h0M41 139h0M214 206h0M96 191h0M58 77h0M116 96h0M34 153h0M29 53h0M84 106h0M171 197h0M184 141h0M114 189h0M58 35h0M45 24h0M48 138h0M10 212h0M46 36h0M91 204h0M191 28h0M115 159h0M44 11h0M41 56h0M35 151h0M10 158h0M95 213h0M26 115h0M45 65h0M17 159h0M149 49h0M64 154h0M40 53h0M153 33h0M188 109h0M33 115h0M123 41h0M114 221h0M91 70h0M197 1h0M96 188h0M22 18h0M32 157h0M66 103h0M91 155h0M42 135h0M56 68h0M74 11h0M61 168h0M201 113h0M200 140h0M19 28h0M211 137h0M178 56h0M46 50h0M62 71h0M149 216h0M81 50h0M150 166h0M156 132h0M52 170h0M68 144h0M147 130h0M120 176h0M63 8h0M190 32h0M99 141h0M12 114h0M133 111h0M111 64h0M146 132h0M161 142h0M145 124h0M81 157h0M95 14h0M81 144h0M91 28h0M134 96h0M68 83h0M30 5h0M148 18h0M30 75h0M62 9h0M60 17h0M29 127h0M32 125h0M180 154h0M68 35h0M35 53h0M220 193h0M176 209h0M125 145h0M114 202h0M27 33h0M97 6h0M67 140h0M164 59h0M24 27h0M187 54h0M107 148h0M153 181h0M97 200h0M212 106h0M189 52h0M61 197h0M9 84h0M161 156h0M27 174h0M56 88h0M53 121h0M137 189h0M19 22h0M44 106h0M177 145h0M171 111h0M56 110h0M9 87h0M193 194h0M4 39h0M220 195h0M2 181h0M213 108h0M92 24h0M53 99h0M85 108h0M101 83h0M106 174h0M188 188h0M220 118h0M71 128h0M201 14h0M6 97h0M63 139h0M85 89h0M37 151h0M28 114h0M29 158h0M123 123h0M37 69h0M219 128h0M122 51h0M189 93h0M129 29h0M193 177h0M175 214h0M12 198h0M64 150h0M136 104h0M21 67h0M67 206h0M0 73h0M93 60h0M172 74h0M159 8h0M218 148h0M17 124h0M203 20h0M64 39h0M76 71h0M108 110h0M201 86h0M22 16h0M154 186h0M9 76h0M79 172h0M112 89h0M217 205h0M196 14h0M132 34h0M101 195h0M159 51h0M121 158h0M162 182h0M94 87h0M19 113h0M125 50h0M48 205h0M205 5h0M16 20h0M211 39h0M190 129h0M16 153h0M195 91h0M144 8h0" stroke="#d4cfe0" stroke-width="2.0" stroke-linecap="round" stroke-opacity="0.45"/><path transform="translate(37.5 904) scale(.5)" d="M176 59h0M179 197h0M167 97h0M69 204h0M63 125h0M106 74h0M20 39h0M215 210h0M47 105h0M137 202h0M9 76h0M48 99h0M83 24h0M173 51h0M10 14h0M160 78h0M173 71h0M149 80h0M156 72h0M94 201h0M194 161h0M211 82h0M159 11h0M172 206h0M203 21h0M18 195h0M154 0h0M213 27h0M185 114h0M50 68h0M158 71h0M23 100h0M116 193h0M103 172h0M89 12h0M80 127h0M219 134h0M197 201h0M105 162h0M82 76h0M87 149h0M66 173h0M146 196h0M197 192h0M91 98h0M157 89h0M165 40h0M65 77h0M173 70h0M154 44h0M52 188h0M104 124h0M122 194h0M6 52h0M92 206h0M170 62h0M141 46h0M75 137h0M196 145h0M212 155h0M47 67h0M63 101h0M23 13h0M55 109h0M44 132h0M57 122h0M200 57h0M124 85h0M62 13h0M55 159h0M167 45h0M128 101h0M137 103h0M191 126h0M90 50h0M208 25h0M168 178h0M114 21h0M137 66h0M130 129h0M180 166h0M66 219h0M193 116h0M111 191h0M177 111h0M82 192h0M123 171h0M192 35h0M84 158h0M47 2h0M142 51h0M1 76h0M135 69h0M46 101h0M13 134h0M200 63h0M19 215h0M76 45h0M215 175h0M17 165h0M221 197h0M72 85h0M172 56h0M128 80h0M32 130h0M170 202h0M154 45h0M141 138h0M175 174h0M190 160h0M15 14h0M26 146h0M135 116h0M196 217h0M46 121h0M142 64h0M104 29h0M161 95h0M65 19h0M136 41h0M70 206h0M61 206h0M137 169h0M40 93h0M198 41h0M32 117h0M46 213h0M23 214h0M192 153h0M38 97h0M113 65h0M40 113h0M136 96h0M201 8h0M158 183h0M141 100h0M122 194h0M86 166h0M178 190h0M99 24h0M27 24h0M202 10h0M30 142h0M177 105h0M25 141h0M107 155h0M156 174h0M124 163h0M26 116h0M218 145h0M0 173h0M19 130h0M60 64h0M73 80h0M202 114h0M1 38h0M125 162h0M107 64h0M212 165h0M149 198h0M151 40h0M13 35h0M137 164h0M33 133h0M138 75h0M22 167h0M1 134h0M190 103h0M21 98h0M120 99h0M97 113h0M138 205h0M214 75h0M205 139h0M72 173h0M198 167h0M4 119h0M62 121h0M43 148h0M135 126h0M11 141h0M96 115h0M131 46h0M73 120h0M131 18h0M74 175h0M67 128h0M62 77h0M32 172h0M201 202h0M183 22h0M144 120h0M44 61h0M211 113h0M8 5h0M220 156h0M40 194h0M214 164h0M133 90h0M106 50h0M184 40h0M144 147h0M29 189h0M122 0h0M171 115h0M63 130h0M64 97h0M32 85h0M36 191h0M215 73h0M115 106h0M198 74h0M83 63h0M70 85h0M86 113h0M105 160h0M174 72h0M205 104h0M115 159h0M152 169h0M168 196h0M133 142h0M198 48h0M215 62h0M140 220h0M15 12h0M124 14h0M92 130h0M175 96h0M65 62h0M158 122h0M138 193h0M184 75h0M78 82h0M179 140h0M119 58h0M198 180h0M181 54h0M173 79h0M35 117h0M168 180h0M173 180h0M93 47h0M12 170h0M120 118h0M166 103h0M54 80h0M39 24h0M131 192h0M206 87h0M97 72h0M91 170h0M172 13h0M56 13h0M60 4h0M51 93h0M26 119h0M195 48h0M96 15h0M164 156h0M87 175h0M0 125h0M38 218h0M10 57h0M43 100h0M178 25h0M138 79h0M106 209h0M59 68h0M10 82h0M6 219h0M119 188h0M214 132h0M110 24h0M101 47h0M1 139h0M20 167h0M151 212h0M62 24h0M73 102h0M64 195h0M169 89h0M114 127h0M113 76h0M39 17h0M185 135h0M180 20h0M102 106h0M210 214h0M207 142h0M160 212h0M65 97h0M64 104h0M53 120h0M79 173h0M4 119h0M76 46h0M105 159h0M105 41h0M42 114h0M81 212h0M154 190h0M177 159h0M146 17h0M123 153h0M28 163h0M131 84h0M78 142h0M172 207h0M19 124h0M19 37h0M181 164h0M27 200h0M93 95h0M1 177h0M40 157h0M168 172h0M84 150h0M86 121h0M37 31h0M62 96h0M164 1h0M56 105h0M213 174h0M36 202h0M192 132h0M138 34h0M178 116h0M161 42h0M45 93h0M212 135h0M124 8h0M155 114h0M116 123h0M70 170h0M212 213h0M16 27h0M125 160h0M22 62h0M143 149h0M43 101h0M99 115h0M92 158h0M136 222h0M37 109h0M154 122h0M34 190h0M190 171h0M131 179h0M60 48h0M204 130h0M176 132h0M204 74h0M89 137h0M49 175h0M57 128h0M191 14h0M16 118h0M181 35h0M80 58h0M133 202h0M164 203h0M152 179h0M6 190h0M216 24h0M152 198h0M58 34h0M29 140h0M43 29h0M113 53h0M210 174h0M130 1h0M194 101h0M137 215h0M117 65h0M64 59h0M178 75h0M39 58h0M32 121h0M75 213h0M127 89h0M196 13h0M118 174h0M95 138h0M187 100h0M65 40h0M25 55h0M77 35h0M22 64h0M105 105h0M59 73h0M201 32h0M113 117h0M151 204h0M118 184h0M161 96h0M196 26h0M208 42h0M187 185h0M13 41h0M180 216h0M191 26h0M156 99h0M15 186h0M117 146h0M88 211h0M73 118h0M189 119h0M79 147h0M103 68h0M80 193h0M160 125h0M86 221h0M50 6h0M154 217h0M141 109h0M114 132h0M110 100h0M185 212h0M139 145h0M27 126h0M13 33h0M209 28h0M101 17h0M168 218h0M147 60h0M64 26h0M59 36h0M51 5h0M191 66h0M53 192h0M5 108h0M14 29h0M49 14h0M42 220h0M68 166h0M62 215h0M173 184h0M29 35h0M219 120h0M145 203h0M2 94h0M199 21h0M129 103h0M185 118h0M212 57h0M42 165h0M178 221h0M72 129h0M39 115h0M204 197h0M20 92h0M209 71h0M203 83h0M111 189h0M186 171h0M121 73h0M217 102h0M90 87h0M7 89h0M84 201h0M101 207h0M194 123h0M38 201h0M173 205h0M26 161h0M155 210h0M13 109h0M203 154h0M182 179h0M185 33h0M87 217h0M72 176h0M87 183h0M221 52h0M131 43h0M125 77h0M158 30h0M34 174h0M99 37h0M26 10h0M12 44h0M34 153h0M172 185h0M185 94h0M10 169h0M219 211h0M76 122h0M100 76h0M39 101h0M157 29h0M149 205h0M87 174h0M176 180h0M104 76h0M142 183h0M99 54h0M148 84h0M37 76h0M5 196h0M172 146h0M42 125h0M19 97h0M156 27h0M144 172h0M48 219h0M73 86h0M61 105h0M143 87h0M94 113h0M11 50h0M201 116h0M183 94h0M18 172h0M53 51h0M219 111h0M198 160h0M110 15h0M168 69h0M16 219h0M120 128h0M115 156h0M176 167h0M76 69h0M156 103h0M30 188h0M48 41h0M81 123h0M108 140h0M165 110h0M94 197h0M74 182h0M193 151h0M117 82h0M74 108h0M62 124h0M39 83h0M137 220h0M208 119h0M121 129h0M43 178h0M39 39h0M176 141h0M86 113h0M70 112h0M152 197h0M169 155h0M111 27h0M28 73h0M77 145h0M11 144h0M95 193h0M124 119h0M69 95h0M71 114h0M63 1h0M148 157h0M106 103h0M41 170h0M95 11h0M35 143h0M7 55h0M94 149h0M11 112h0M58 71h0M202 102h0M110 87h0M177 131h0M209 97h0M39 105h0M163 134h0M207 149h0M1 7h0M129 100h0M102 211h0M160 164h0M18 138h0M169 41h0M218 43h0M143 167h0M22 48h0M26 146h0M48 100h0M31 166h0M72 91h0M140 206h0M99 157h0M72 220h0M138 142h0M88 158h0M164 76h0M101 135h0M59 100h0M122 177h0M195 113h0M195 195h0M32 197h0M18 33h0M108 189h0M172 214h0M12 24h0M35 26h0M121 145h0M114 69h0M112 14h0M212 49h0M219 159h0M19 107h0M184 82h0M215 122h0M54 196h0M153 125h0M138 148h0M111 95h0M94 213h0M91 172h0M195 146h0M209 56h0M125 43h0M204 60h0M156 38h0M201 215h0M33 122h0M170 70h0M30 163h0M65 170h0M137 88h0M155 99h0M123 126h0M61 201h0M99 125h0M157 119h0M98 61h0M20 41h0M14 202h0M14 135h0M202 197h0M107 195h0M127 211h0M2 115h0M64 61h0M47 82h0M153 176h0M43 171h0M194 4h0M205 126h0M136 79h0M106 31h0M150 129h0M207 213h0M51 139h0M23 121h0M189 1h0M108 189h0M147 187h0M46 172h0M204 140h0M74 102h0M186 179h0M137 154h0M156 127h0M96 213h0M96 81h0M18 65h0M47 79h0M141 146h0M202 40h0M20 175h0M53 122h0M14 111h0M27 74h0M8 44h0M175 107h0M118 7h0M44 93h0M107 118h0M86 88h0M194 156h0M1 179h0M178 63h0M36 17h0M42 3h0M11 38h0M135 199h0M201 43h0M96 55h0M7 31h0M129 93h0M167 139h0M157 83h0M93 85h0M133 65h0M198 170h0M162 49h0M175 22h0M28 184h0M36 202h0M181 216h0M189 170h0M196 219h0M88 76h0M125 210h0M85 110h0M30 153h0M142 152h0M11 9h0M106 187h0M30 21h0M166 86h0M194 40h0M49 83h0M96 149h0M57 49h0M142 145h0M91 190h0M89 201h0M57 126h0M135 38h0M174 121h0M20 69h0M139 28h0M81 116h0M142 196h0M209 145h0M217 194h0M65 83h0M19 79h0M201 109h0M39 193h0M195 196h0M128 166h0M26 84h0M160 213h0M191 14h0M31 99h0M91 135h0M159 30h0M145 124h0M113 192h0M38 129h0M121 97h0M212 150h0M162 212h0M214 192h0M72 104h0M1 98h0M38 179h0M162 214h0M29 25h0M182 51h0M195 197h0M97 59h0M208 194h0M212 170h0M150 109h0M189 102h0M162 72h0M121 151h0M43 144h0M188 213h0M187 152h0M154 14h0M115 83h0M185 6h0M41 81h0M6 33h0M104 43h0M183 173h0M134 157h0M146 107h0M198 205h0M47 40h0M93 16h0M169 59h0M3 183h0M29 164h0M28 50h0M13 35h0M2 34h0M86 96h0M157 110h0M155 5h0M122 212h0M98 182h0M187 42h0M68 122h0M132 160h0M87 92h0M93 66h0M50 13h0M101 166h0M66 58h0M142 175h0M143 102h0M27 110h0M113 121h0M84 107h0M145 84h0M75 212h0M33 207h0M84 96h0M92 0h0M79 192h0M46 189h0M34 78h0M182 60h0M208 153h0M136 218h0M199 50h0M64 9h0M132 105h0M148 188h0M168 172h0M29 70h0M27 101h0M156 137h0M203 159h0M2 83h0M156 143h0M100 75h0M104 172h0M23 103h0M36 132h0M219 51h0M36 85h0M12 91h0M14 39h0M107 221h0M23 206h0M82 174h0M53 54h0M21 72h0M197 117h0M10 130h0M87 174h0M110 125h0M106 17h0M38 64h0M16 140h0M116 207h0M176 94h0M221 99h0M21 110h0M100 136h0M97 95h0M207 79h0M136 74h0M132 7h0M123 200h0M198 148h0M76 32h0M23 50h0M11 95h0M156 174h0M74 16h0M71 9h0M129 72h0M208 122h0M81 212h0M123 199h0M172 57h0M141 13h0M60 47h0M126 36h0M94 53h0M62 67h0M37 82h0M141 85h0M154 86h0M65 204h0M55 102h0M10 17h0M11 44h0M104 30h0M18 12h0M131 105h0M97 11h0M133 188h0M136 27h0M119 25h0M139 213h0M101 127h0M125 203h0M96 192h0M209 116h0M193 67h0M135 64h0M174 164h0M17 153h0M49 63h0M3 109h0M22 106h0M77 173h0M17 135h0M148 211h0M163 14h0M133 85h0M196 49h0M205 147h0M149 117h0M189 30h0M109 209h0M122 185h0M140 192h0M203 41h0M209 185h0M27 195h0M201 66h0M58 130h0M184 160h0M199 147h0M133 217h0M113 206h0M88 77h0M164 49h0M172 221h0M32 211h0M57 212h0M12 42h0M170 72h0M185 157h0M191 28h0M186 159h0M18 110h0M0 61h0M45 176h0M62 189h0M215 190h0M109 216h0M123 24h0M87 78h0M1 192h0M215 156h0M108 5h0M209 179h0M116 187h0M16 45h0M178 220h0M195 18h0M56 82h0M145 171h0M107 217h0M177 91h0M104 121h0M90 92h0M90 122h0M70 198h0M42 206h0M92 46h0M113 17h0M167 96h0M161 141h0M204 114h0M73 45h0M121 111h0M7 80h0M97 86h0M56 33h0M173 116h0M192 64h0M92 131h0M155 14h0M129 43h0M39 86h0M151 37h0M88 81h0M82 182h0M13 53h0M164 159h0M122 136h0M69 55h0M123 166h0M182 129h0M38 163h0M178 194h0M85 129h0M84 60h0M203 109h0M221 51h0M77 18h0M60 8h0M216 143h0M147 119h0M86 118h0M183 110h0M75 187h0M201 187h0M183 173h0M127 11h0M143 142h0M60 41h0M66 13h0M43 183h0M118 54h0M32 32h0M125 94h0M119 210h0M177 5h0M144 77h0M96 113h0M166 134h0M39 156h0M107 222h0M3 26h0M194 82h0M115 24h0M117 87h0M202 134h0M33 67h0M119 107h0M61 209h0M32 213h0M146 159h0M131 149h0M205 193h0M131 6h0M42 120h0M144 198h0M77 17h0M52 52h0M117 29h0M75 86h0M69 66h0M85 90h0M125 185h0M95 208h0M77 95h0M161 153h0M18 72h0M167 175h0M206 46h0M65 196h0M138 4h0M87 79h0M30 125h0M57 70h0M111 127h0M28 136h0M41 138h0M35 198h0M134 148h0M57 34h0M155 84h0M4 37h0M80 184h0M78 87h0M121 103h0M31 129h0M121 175h0M190 12h0M203 218h0M122 155h0M181 199h0M149 181h0M117 4h0M101 31h0M72 87h0M188 187h0M145 7h0M16 32h0M47 150h0M142 151h0M170 203h0M0 152h0M136 185h0M146 108h0M9 172h0M124 162h0M205 64h0M128 118h0M138 124h0M34 41h0M86 88h0M151 36h0M102 209h0M26 112h0M40 173h0M40 206h0M106 207h0M182 145h0M208 83h0M178 121h0M210 89h0M148 142h0M178 180h0M132 18h0M143 58h0M143 159h0M158 1h0M171 108h0M195 33h0M15 207h0M110 91h0M53 80h0M123 48h0M156 57h0M2 93h0M58 117h0M35 60h0M201 39h0M104 174h0M165 130h0M145 156h0M128 113h0M91 176h0M30 91h0M128 27h0M64 159h0M139 137h0M149 171h0M29 68h0M161 104h0M69 89h0M19 167h0M60 53h0M202 156h0M168 43h0M37 6h0M153 73h0M46 61h0M180 157h0M73 160h0M178 175h0M35 96h0M45 128h0M110 112h0M193 153h0M98 110h0M50 28h0M124 116h0M47 211h0M155 208h0M5 17h0M45 8h0M58 79h0M209 164h0M65 78h0M108 35h0M94 61h0M98 131h0M30 64h0M124 13h0M32 189h0M33 30h0M12 131h0M164 79h0M13 123h0M33 34h0M34 24h0M118 125h0M70 22h0M104 118h0M59 15h0M185 24h0M76 131h0M67 39h0M216 24h0M43 23h0M71 139h0M209 167h0M44 79h0M42 102h0M47 15h0M167 76h0M173 188h0M15 39h0M211 219h0M79 120h0M92 182h0M110 97h0M23 222h0M141 13h0M44 124h0M161 7h0M101 5h0M205 171h0M38 52h0M81 64h0M201 186h0M192 98h0M209 31h0M43 139h0M123 30h0M43 188h0M215 105h0M98 168h0M204 81h0M17 81h0M16 192h0M7 90h0M218 208h0M158 65h0M63 216h0M58 100h0M159 185h0M104 73h0M28 74h0M9 60h0M212 61h0M11 58h0M184 207h0M113 183h0M94 49h0M67 183h0M136 48h0M215 156h0M79 5h0M27 148h0M162 64h0M121 75h0M131 155h0M62 120h0M28 140h0M95 12h0M161 158h0M218 213h0M151 185h0M113 149h0M149 118h0M148 33h0M198 142h0M98 129h0M153 4h0M119 139h0M153 107h0M210 35h0M168 178h0M191 164h0M85 147h0M213 17h0M74 41h0M166 32h0M156 129h0M49 89h0M149 54h0M121 66h0M57 220h0M135 70h0M2 9h0M216 172h0M197 19h0M29 175h0M176 180h0M109 182h0M20 27h0M193 139h0M126 94h0M27 211h0M78 197h0M136 39h0M93 7h0M36 57h0M33 110h0M119 131h0M8 184h0M124 132h0M95 213h0M7 23h0M103 83h0M51 82h0M141 67h0M113 29h0M8 197h0M181 180h0M99 74h0M93 147h0M85 84h0M127 87h0M127 9h0M99 87h0M70 189h0M184 152h0M32 161h0M52 6h0M44 39h0M47 206h0M133 99h0M20 150h0M123 45h0M79 123h0M12 218h0M154 133h0M2 204h0M170 93h0M220 166h0M127 11h0M21 126h0M100 17h0M28 36h0M99 84h0M75 51h0M32 163h0M167 145h0M108 82h0M69 42h0M221 62h0M142 146h0M95 203h0M119 17h0M184 85h0M70 61h0M191 23h0M127 123h0M89 10h0M96 23h0M16 121h0M110 55h0M80 102h0M69 198h0M159 154h0M165 40h0M189 142h0M215 84h0M19 18h0M82 52h0M128 167h0M26 166h0M17 72h0M51 169h0M188 136h0M166 25h0M170 142h0M105 80h0M6 59h0M46 2h0M22 146h0M34 95h0M124 30h0M124 133h0M157 154h0M27 212h0M118 169h0M98 20h0M171 128h0M202 36h0M80 189h0M53 70h0M147 24h0M52 82h0M61 28h0M154 139h0M121 152h0M36 220h0M95 97h0M76 126h0M130 154h0M156 160h0M141 102h0M160 72h0M45 115h0M95 0h0M212 163h0M86 32h0M99 158h0M105 7h0M138 134h0M205 148h0M146 86h0M185 113h0M37 119h0M150 134h0M171 20h0M197 45h0M173 14h0M124 153h0M12 170h0M107 208h0M60 84h0M123 183h0M206 127h0M99 153h0M160 83h0M198 5h0M107 145h0M54 22h0M191 4h0M221 155h0M107 34h0M0 186h0M146 137h0M157 115h0M177 97h0M54 132h0M56 40h0M85 76h0M5 63h0M125 89h0M129 216h0M149 9h0M164 190h0M180 198h0M164 127h0M103 27h0M92 133h0M25 132h0M199 219h0M28 187h0M179 78h0M189 196h0M104 192h0M83 217h0M53 186h0M118 79h0M188 104h0M166 7h0M6 194h0M131 191h0M186 212h0M14 214h0M25 150h0M202 182h0M16 182h0M180 166h0M52 69h0M194 162h0M194 30h0M102 129h0M50 154h0M103 192h0M138 184h0M7 106h0M128 46h0M3 212h0M189 143h0M203 122h0M133 200h0M59 6h0M115 141h0M174 103h0M149 51h0M74 50h0M38 16h0M195 49h0M186 120h0M103 152h0M172 175h0M53 108h0M57 44h0M30 66h0M105 129h0M181 33h0M198 171h0M24 165h0M146 64h0M151 7h0M38 135h0M179 193h0M215 175h0M44 61h0M185 65h0" stroke="#4c4cc4" stroke-width="2.5" stroke-linecap="round" stroke-opacity="0.85"/><ellipse cx="56" cy="951" rx="8" ry="5" fill="#fff" filter="url(#bl2)"/><ellipse cx="86.5" cy="952" rx="3.5" ry="8" fill="#fff" transform="rotate(-25 86.5 952)" filter="url(#bl2)"/><ellipse cx="115" cy="988.5" rx="6.5" ry="3.5" fill="#fff" filter="url(#bl2)"/><ellipse cx="68" cy="978" rx="7" ry="7" fill="#f6f5f8" opacity="0.8" filter="url(#bl2)"/></g><text x="38.3" y="669" font-size="7.2" fill="#222">100 µm</text><line x1="38.3" y1="671.4" x2="62" y2="671.4" stroke="#444" stroke-width="0.6"/><text x="88.7" y="657" text-anchor="middle" font-size="8.6" fill="#1a1a1a">Colorectal cancer</text><text x="223.4" y="657" text-anchor="middle" font-size="8.6" fill="#1a1a1a">Ovarian cancer</text><text x="348.6" y="657" text-anchor="middle" font-size="8.6" fill="#1a1a1a">Breast cancer</text><text x="93" y="781.2" text-anchor="middle" font-size="8.6" fill="#1a1a1a">Nasopharyngeal carcinoma</text><text x="226" y="781.2" text-anchor="middle" font-size="8.6" fill="#1a1a1a">Kidney cancer</text><text x="354.4" y="781.2" text-anchor="middle" font-size="8.6" fill="#1a1a1a">Cervical cancer</text><text x="87.3" y="902" text-anchor="middle" font-size="8.6" fill="#1a1a1a">Hemangioma</text><text x="224.5" y="643.3" text-anchor="middle" font-size="10" fill="#1a1a1a">Liver tissues</text><line x1="38.1" y1="647.5" x2="410.6" y2="647.5" stroke="#555" stroke-width="0.8"/><line x1="24.5" y1="659.4" x2="24.5" y2="1015" stroke="#333" stroke-width="1"/><text transform="translate(21,834.5) rotate(-90)" text-anchor="middle" font-size="11" fill="#1a1a1a">PDCD1/PD-1</text><text x="289.7" y="919.7" text-anchor="middle" font-size="7.9" fill="#333">PDCD1/PD-1 expression</text><line x1="200.7" y1="925.3" x2="381" y2="925.3" stroke="#808080" stroke-width="1.1"/><line x1="200.7" y1="946.3" x2="381" y2="946.3" stroke="#808080" stroke-width="1.1"/><line x1="200.7" y1="999.8" x2="381" y2="999.8" stroke="#808080" stroke-width="1.1"/><text x="289" y="938.3" text-anchor="middle" font-size="7.9" fill="#333">Positive</text><text x="327" y="938.3" text-anchor="middle" font-size="7.9" fill="#333">Negative</text><text x="362.4" y="938.3" text-anchor="middle" font-size="7.9" fill="#333">P value</text><text x="202.2" y="963.3" font-size="7.9" fill="#333">Liver (metastases)</text><text x="289" y="963.3" text-anchor="middle" font-size="7.9" fill="#333">38</text><text x="327" y="963.3" text-anchor="middle" font-size="7.9" fill="#333">5</text><text x="202.2" y="987.7" font-size="7.9" fill="#333">Liver (hemangioma)</text><text x="289" y="987.7" text-anchor="middle" font-size="7.9" fill="#333">12</text><text x="327" y="987.7" text-anchor="middle" font-size="7.9" fill="#333">7</text><text x="362.4" y="977.9" text-anchor="middle" font-size="7.9" fill="#333">0.034</text><text x="201.7" y="1011.0" font-size="7.9" fill="#333">Chi-square (χ2) test</text></svg><div class="t" style="left:0px;top:627.5px;font-size:15px;">h</div><svg style="position:absolute;left:410px;top:620px" width="312" height="395" viewBox="410 620 312 395"><clipPath id="cp11"><rect x="462" y="660" width="112.2" height="111.5"/></clipPath><g clip-path="url(#cp11)"><rect x="462" y="660" width="112.2" height="111.5" fill="#e8e4ee"/><path transform="translate(462 660) scale(.5)" d="M64 126h0M48 18h0M23 89h0M94 219h0M221 115h0M7 82h0M110 150h0M0 189h0M56 34h0M114 135h0M3 163h0M31 137h0M85 144h0M13 106h0M150 36h0M76 57h0M99 24h0M66 183h0M223 200h0M101 110h0M167 130h0M128 36h0M2 191h0M6 99h0M89 169h0M192 41h0M20 91h0M139 94h0M209 34h0M35 140h0M221 108h0M147 156h0M52 108h0M224 64h0M145 1h0M83 108h0M178 25h0M172 149h0M86 80h0M37 24h0M177 84h0M19 98h0M166 111h0M141 82h0M60 127h0M12 75h0M134 156h0M158 176h0M57 183h0M71 109h0M73 153h0M132 196h0M178 142h0M150 219h0M67 52h0M41 90h0M139 72h0M1 142h0M112 107h0M42 63h0M199 33h0M104 195h0M150 47h0M173 176h0M37 111h0M158 39h0M164 220h0M196 65h0M95 147h0M134 50h0M40 97h0M167 179h0M147 123h0M121 188h0M68 169h0M40 132h0M216 101h0M17 113h0M147 13h0M184 176h0M204 15h0M85 31h0M33 219h0M153 108h0M18 183h0M133 91h0M65 21h0M101 50h0M144 162h0M207 71h0M134 60h0M52 164h0M219 183h0M45 131h0M197 31h0M53 129h0M5 93h0M214 0h0M99 213h0M67 208h0M216 195h0M107 187h0M137 137h0M224 46h0M180 190h0M2 65h0M136 114h0M127 107h0M133 184h0M107 172h0M67 112h0M81 163h0M191 0h0M104 100h0M9 36h0M155 34h0M162 98h0M0 129h0M123 64h0M189 168h0M78 210h0M175 207h0M149 180h0M69 142h0M86 94h0M63 55h0M191 167h0M82 220h0M182 200h0M5 19h0M12 130h0M102 190h0M210 147h0M182 158h0M217 153h0M78 149h0M212 105h0M48 18h0M52 109h0M81 56h0M151 131h0M54 38h0M103 125h0M205 91h0M124 221h0M175 119h0M114 189h0M40 71h0M48 71h0M200 4h0M96 28h0M136 84h0M183 103h0M160 96h0M57 76h0M64 222h0M212 162h0M37 221h0M194 98h0M67 52h0M11 138h0M17 211h0M138 149h0M157 91h0M166 193h0M217 67h0M40 140h0M112 183h0M125 221h0M13 195h0M202 129h0M85 44h0M11 2h0M108 170h0M79 16h0M102 18h0M102 141h0M147 86h0M21 59h0M97 71h0M156 14h0M149 217h0M208 83h0M30 75h0M69 118h0M135 167h0M185 91h0M43 174h0M121 14h0M51 176h0M68 44h0M211 219h0M100 137h0M145 210h0M169 114h0M89 117h0M39 55h0M211 200h0M46 215h0M136 219h0M77 99h0M151 196h0M221 71h0M77 39h0M129 22h0M205 44h0M193 110h0M214 156h0M89 214h0M84 211h0M161 50h0M57 204h0M115 12h0M186 107h0M147 70h0M84 69h0M82 107h0M203 97h0M105 157h0M184 70h0M60 44h0M167 9h0M224 186h0M61 64h0M43 60h0M116 96h0M176 19h0M156 42h0M59 162h0M99 166h0M7 178h0M183 112h0M123 27h0M161 24h0M16 105h0M91 20h0M144 209h0M177 67h0M216 134h0M162 66h0M152 48h0M44 221h0M30 173h0M209 105h0M185 73h0M112 90h0M88 150h0M45 87h0M33 195h0M49 160h0M113 127h0M176 106h0M33 82h0M184 30h0M93 29h0M173 42h0M88 15h0M97 54h0M85 202h0M119 167h0M52 182h0M156 192h0M210 70h0M149 166h0M74 60h0M129 42h0M86 221h0M81 68h0M81 121h0M140 118h0M156 12h0M21 12h0M170 187h0M109 41h0M186 130h0M21 1h0M151 191h0M57 89h0M18 80h0M100 217h0M17 79h0M71 153h0M15 67h0M36 124h0M210 91h0M221 122h0M205 16h0M141 118h0M110 9h0M31 146h0M89 128h0M184 33h0M54 193h0M138 204h0M10 66h0M121 81h0M223 115h0M141 129h0M101 103h0M108 74h0M204 198h0M116 186h0M24 176h0M104 78h0M182 32h0M37 121h0M66 106h0M102 138h0M203 102h0M194 189h0M25 7h0M190 135h0M97 41h0M143 108h0M63 14h0M122 70h0M89 27h0M190 53h0M42 220h0M30 182h0M88 194h0M62 105h0M95 107h0M199 188h0M90 189h0M192 117h0M158 92h0M174 183h0M158 164h0M55 33h0M153 160h0M54 164h0M121 100h0M112 75h0M48 90h0M50 6h0M220 154h0M4 181h0M84 139h0M89 111h0M48 157h0M56 41h0M78 192h0M56 191h0M202 221h0M184 81h0M43 208h0M36 43h0M117 161h0M6 137h0M100 149h0M60 55h0M50 4h0M63 12h0M112 206h0M109 170h0M194 97h0M73 73h0M3 37h0M88 84h0M83 211h0M52 159h0M81 204h0M78 66h0M53 40h0M216 84h0M88 95h0M81 194h0M112 150h0M137 1h0M56 50h0M182 204h0M195 180h0M160 18h0M212 186h0M47 0h0M157 63h0M223 14h0M77 99h0M1 117h0M198 139h0M164 115h0M130 20h0M192 44h0M20 157h0M77 42h0M92 168h0M32 41h0M170 145h0M66 196h0M22 61h0M171 173h0M97 160h0M107 113h0M223 217h0M134 29h0M12 88h0M54 97h0M213 46h0M122 200h0M25 23h0M138 20h0M182 181h0M88 95h0M154 55h0M61 149h0M192 110h0M175 38h0M91 93h0M140 205h0M102 137h0M198 7h0M191 161h0M196 164h0M95 82h0M168 56h0M51 3h0M85 184h0M202 130h0M88 82h0M123 159h0M175 218h0M57 153h0M122 146h0M184 208h0M168 25h0M146 118h0M118 124h0M159 54h0M191 42h0M141 63h0M88 100h0M108 120h0M44 180h0M101 175h0M116 16h0M49 123h0M208 211h0M55 163h0M21 149h0M11 128h0M137 21h0M173 52h0M167 212h0M83 194h0M103 137h0M18 207h0M2 14h0M211 16h0M36 167h0M196 199h0M69 135h0M197 41h0M202 173h0M89 164h0M174 115h0M73 132h0M76 218h0M181 161h0M69 202h0M76 9h0M182 193h0M189 20h0M173 37h0M184 13h0M50 137h0M160 154h0M122 148h0M166 112h0M83 32h0M160 171h0M219 85h0M194 19h0M180 84h0M140 67h0M196 208h0M91 139h0M196 139h0M128 95h0M23 97h0M22 14h0M46 115h0M59 171h0M54 82h0M44 175h0M168 127h0M137 7h0M8 29h0M116 44h0M89 189h0M55 168h0M182 53h0M0 49h0M224 86h0M19 51h0M180 143h0M18 115h0M16 171h0M28 83h0M11 71h0M95 74h0M41 180h0M9 47h0M110 147h0M189 21h0M142 31h0M203 99h0M199 9h0M100 128h0M103 25h0M26 157h0M199 56h0M165 214h0M152 184h0M153 128h0M141 109h0M156 103h0M169 164h0M69 129h0M16 138h0M194 23h0M65 133h0M166 5h0M172 201h0M13 52h0M170 136h0M60 174h0M2 139h0M36 218h0M25 135h0M47 152h0M66 89h0M25 27h0M49 150h0M110 95h0M105 102h0M189 80h0M127 65h0M46 214h0M16 87h0M133 46h0M53 185h0M102 73h0M76 175h0M133 89h0M8 17h0M124 214h0M18 52h0M150 203h0M152 46h0M185 214h0M19 131h0M134 201h0M70 193h0M43 116h0M59 12h0M153 76h0M201 22h0M212 197h0M213 35h0M85 194h0M137 94h0M192 182h0M86 34h0M32 213h0M129 164h0M119 82h0M86 39h0M24 106h0M150 99h0M222 170h0M160 83h0M104 56h0M44 165h0M191 222h0M36 136h0M214 192h0M6 96h0M17 71h0M141 87h0M185 152h0M44 186h0M120 210h0M146 196h0M159 109h0M170 41h0M134 86h0M16 41h0M177 201h0M79 140h0M211 21h0M160 173h0M160 98h0M217 88h0M120 90h0M80 37h0M31 19h0M33 18h0M78 179h0M81 206h0M208 76h0M59 90h0M87 116h0M29 84h0M89 194h0M79 31h0M33 138h0M100 31h0M202 50h0M59 221h0M171 158h0M141 140h0M198 52h0M40 195h0M34 136h0M151 219h0M19 90h0M142 85h0M153 135h0M39 55h0M70 196h0M41 209h0M103 210h0M38 169h0M25 137h0M201 177h0M126 124h0M54 18h0M34 140h0M173 215h0M71 101h0M121 138h0M144 19h0M31 194h0M122 85h0M19 156h0M119 112h0M22 163h0M194 141h0M174 150h0M84 115h0M137 103h0M23 35h0M120 218h0M137 31h0M11 222h0M154 188h0M18 178h0M93 187h0M160 78h0M115 17h0M64 126h0M172 38h0M143 84h0M24 189h0M56 194h0M161 1h0M173 66h0M63 23h0M166 119h0M114 172h0M4 174h0M113 70h0M169 1h0M9 1h0M148 129h0M221 45h0M56 109h0M11 172h0M138 180h0M210 71h0M82 195h0M77 216h0M141 20h0M204 175h0M185 52h0M140 223h0M15 110h0M86 32h0M143 157h0M184 122h0M105 77h0M110 80h0M43 106h0M197 218h0M148 94h0M15 159h0M190 22h0M181 79h0M10 154h0M42 213h0M27 35h0M55 212h0M199 113h0M212 148h0M145 7h0M195 28h0M80 192h0M168 117h0M17 58h0" stroke="#c8bfd4" stroke-width="2.4" stroke-linecap="round" stroke-opacity="0.5"/><path transform="translate(462 660) scale(.5)" d="M89 113h0M8 209h0M148 126h0M98 154h0M213 198h0M194 91h0M150 91h0M160 29h0M50 153h0M10 65h0M70 58h0M35 153h0M70 90h0M188 175h0M213 91h0M38 191h0M45 154h0M210 80h0M120 42h0M165 164h0M209 92h0M66 131h0M35 133h0M44 142h0M192 199h0M80 191h0M95 148h0M211 152h0M177 202h0M87 200h0M157 95h0M153 75h0M220 119h0M52 204h0M108 143h0M162 156h0M116 57h0M51 216h0M130 30h0M136 26h0M160 138h0M81 66h0M28 199h0M124 171h0M193 94h0M87 40h0M20 128h0M85 89h0M181 96h0M207 166h0M99 152h0M191 97h0M184 185h0M49 214h0M72 86h0M178 129h0M93 151h0M199 132h0M93 154h0M139 9h0M143 123h0M202 126h0M216 205h0M47 51h0M152 218h0M80 157h0M54 149h0M159 191h0M144 147h0M99 115h0M82 42h0M130 32h0M139 26h0M21 98h0M46 154h0M188 124h0M182 38h0M66 208h0M91 204h0M167 142h0M116 193h0M111 32h0M152 179h0M73 157h0M197 61h0M121 79h0M216 129h0M210 52h0M1 126h0M101 104h0M57 127h0M185 81h0M193 223h0M172 124h0M132 14h0M162 188h0M151 191h0M85 26h0M208 138h0M103 101h0M2 108h0M126 149h0M104 53h0M59 198h0M149 190h0M33 176h0M159 124h0M116 31h0M128 6h0M154 64h0M144 193h0M157 216h0M103 4h0M133 50h0M51 171h0M202 86h0M129 177h0M124 200h0M189 98h0M130 91h0M88 33h0M89 171h0M177 18h0M122 212h0M49 88h0M99 49h0M161 44h0M132 45h0M171 11h0M11 198h0M184 163h0M28 187h0M180 181h0M192 106h0M188 168h0M153 128h0M193 85h0M161 184h0M103 107h0M92 168h0M22 204h0M115 69h0M19 71h0M131 116h0M128 30h0M198 173h0M120 10h0M17 202h0M63 122h0M175 124h0M114 176h0M123 2h0M32 81h0M110 207h0M162 70h0M101 0h0M120 45h0M157 201h0M130 46h0M130 10h0M177 61h0M183 187h0M63 105h0M40 96h0M135 82h0M136 11h0M173 191h0M202 109h0M146 110h0M107 42h0M97 218h0M101 115h0M94 97h0M151 9h0M95 34h0M150 26h0M130 0h0M208 39h0M71 70h0M200 41h0M187 130h0M221 73h0M193 117h0M155 172h0M166 63h0M45 121h0M73 123h0M206 142h0M167 28h0M186 162h0M61 219h0M160 39h0M22 134h0M96 32h0M71 160h0M2 99h0M173 149h0M163 14h0M76 57h0M202 124h0M98 31h0M84 105h0M137 62h0M223 119h0M200 151h0M48 139h0M132 37h0M30 175h0M82 91h0M37 67h0M214 49h0M156 199h0M190 42h0M132 126h0M180 116h0M202 159h0M185 121h0M217 156h0M109 26h0M160 50h0M139 209h0M33 211h0M32 147h0M73 173h0M53 61h0M220 10h0M80 204h0M34 214h0M100 162h0M21 124h0M15 192h0M61 89h0M21 142h0M203 26h0M51 74h0M165 134h0M172 200h0M59 115h0M126 8h0M139 173h0M64 211h0M76 181h0M197 169h0M131 78h0M46 194h0M81 129h0M149 72h0M171 75h0M82 48h0M216 160h0M169 192h0M169 144h0M95 13h0M218 179h0M85 108h0M203 221h0M176 31h0M82 184h0M1 138h0M61 152h0M170 142h0M171 85h0M196 83h0M106 213h0M164 71h0M36 215h0M148 184h0M198 101h0M120 109h0M136 208h0M20 184h0M194 10h0M214 118h0M196 68h0M163 15h0M215 55h0M180 199h0M209 61h0M129 204h0M167 161h0M207 207h0M91 206h0M7 189h0M185 215h0M113 51h0M71 199h0M69 57h0M69 182h0M177 6h0M149 202h0M80 181h0M128 18h0M130 150h0M166 109h0M94 135h0M82 48h0M51 215h0M86 100h0M150 206h0M87 195h0M146 159h0M102 151h0M145 56h0M87 164h0M89 135h0M192 221h0M54 74h0M194 96h0M108 197h0M2 117h0M12 87h0M183 41h0M68 150h0M137 140h0M45 118h0M4 56h0M74 67h0M201 62h0M54 66h0M55 56h0M9 125h0M118 30h0M138 111h0M141 141h0M29 103h0M60 128h0M102 60h0M155 173h0M153 153h0M10 71h0M193 86h0M178 163h0M155 49h0M171 218h0M128 93h0M208 168h0M47 81h0M9 70h0M180 91h0M26 106h0M126 31h0M12 131h0M124 167h0M46 212h0M161 170h0M127 214h0M198 158h0M17 68h0M106 65h0M13 120h0M29 202h0M157 85h0M140 38h0M20 89h0M138 47h0M121 132h0M151 100h0M4 47h0M182 116h0M128 15h0M181 106h0M199 15h0M26 45h0M17 108h0M116 13h0M92 75h0M114 96h0M75 221h0M168 125h0M150 80h0M29 49h0M184 210h0M141 64h0M188 146h0M174 127h0M3 128h0M42 115h0M62 42h0M84 78h0M130 134h0M34 149h0M154 31h0M139 15h0M102 177h0M195 121h0M20 128h0M200 61h0M126 200h0M85 30h0M70 38h0M74 169h0M100 154h0M146 94h0M148 29h0M30 79h0M164 174h0M66 143h0M218 134h0M170 207h0M71 105h0M214 214h0M36 121h0M133 169h0M142 165h0M87 119h0M91 188h0M112 173h0M147 49h0M121 196h0M160 189h0M186 169h0M50 177h0M145 210h0M156 137h0M194 140h0M108 47h0M215 139h0M42 63h0M190 59h0M89 94h0M208 44h0M120 70h0M86 215h0M135 170h0M161 212h0M147 164h0M115 77h0M89 52h0M210 190h0M120 73h0M137 100h0M199 166h0M216 122h0M111 37h0M73 48h0M131 156h0M66 174h0M141 210h0M217 170h0M169 187h0M60 78h0M154 24h0M189 175h0M41 172h0M114 141h0M100 141h0M126 86h0M133 85h0M47 121h0M175 25h0M48 81h0M177 214h0M221 179h0M9 73h0M74 11h0M86 138h0M134 110h0M64 22h0M127 150h0M31 105h0M163 113h0M22 180h0M69 153h0M12 158h0M93 188h0M109 204h0M129 146h0M193 61h0M198 32h0M134 196h0M51 216h0M160 35h0M58 78h0M135 91h0M121 141h0M151 114h0M136 70h0M118 145h0M70 73h0M93 207h0M115 220h0M80 70h0M221 68h0M56 172h0M160 121h0M108 197h0M9 53h0M158 175h0M138 69h0M9 204h0M138 8h0M138 213h0M128 39h0M113 167h0M186 106h0M164 184h0M182 132h0M148 155h0M187 49h0M129 98h0M202 11h0M208 91h0M178 211h0M105 127h0M103 51h0M24 200h0M125 40h0M104 187h0M223 98h0M217 109h0M146 4h0M98 75h0M156 198h0M196 105h0M166 155h0M172 152h0M50 191h0M62 106h0M213 68h0M100 141h0M141 191h0M34 78h0M175 180h0M149 76h0M123 218h0M128 52h0M42 68h0M157 84h0M35 219h0M51 136h0M108 156h0M61 214h0M206 92h0M206 46h0M137 169h0M56 106h0M125 220h0M19 150h0M155 95h0M59 113h0M94 122h0M68 117h0M182 96h0M84 91h0M128 165h0M72 128h0M35 218h0M109 171h0M3 182h0M38 127h0M19 187h0M122 30h0M6 221h0M5 92h0M179 153h0M70 133h0M105 112h0M5 95h0M12 91h0M23 63h0M212 1h0M153 107h0M11 139h0M126 68h0M114 145h0M125 215h0M92 175h0M111 172h0M171 155h0M200 165h0M49 62h0M66 95h0M79 207h0M27 183h0M155 206h0M54 126h0M41 204h0M76 185h0M119 57h0M40 130h0M186 120h0M181 194h0M171 102h0M117 87h0M155 50h0M29 186h0M79 63h0M62 142h0M143 33h0M8 102h0M24 113h0M19 155h0M96 194h0M184 95h0M164 56h0M197 137h0M161 191h0M120 68h0M104 180h0M118 219h0M198 191h0M115 213h0M91 93h0M171 84h0M183 93h0M139 5h0M27 64h0M222 136h0M35 141h0M89 178h0M165 194h0M103 48h0M55 203h0M208 220h0M90 104h0M93 21h0M213 162h0M53 185h0M60 193h0M119 187h0M89 1h0M127 185h0M67 59h0M183 107h0M182 109h0M160 80h0M203 145h0M110 52h0M94 177h0M14 165h0M223 98h0M72 172h0M133 162h0M162 186h0M147 13h0M204 72h0M84 40h0M48 75h0M42 195h0M56 160h0M103 56h0M203 61h0M193 105h0M153 188h0M174 176h0M197 20h0M71 57h0M181 57h0M70 74h0M165 5h0M115 182h0M18 195h0M217 57h0M140 29h0M34 178h0M136 213h0M52 176h0M186 209h0M46 213h0M54 80h0M158 30h0M47 105h0M173 141h0M109 14h0M135 178h0M26 104h0M145 59h0M103 42h0M204 71h0M202 78h0M142 12h0M105 32h0M139 117h0M98 173h0M156 94h0M72 14h0M170 117h0M52 214h0M52 99h0M199 3h0M102 127h0M35 204h0M66 129h0M162 170h0M54 70h0M137 155h0M108 104h0M85 18h0M130 167h0M35 68h0M156 191h0M108 8h0M124 48h0M127 33h0M19 199h0M151 155h0M91 131h0M152 23h0M183 136h0M195 177h0M133 27h0M169 70h0M44 72h0M100 30h0M222 42h0M41 176h0M217 99h0M126 190h0M148 183h0M149 125h0M158 158h0M172 131h0M222 71h0M161 27h0M170 69h0M211 37h0M10 152h0M148 199h0M209 65h0M29 122h0M63 55h0M140 95h0M122 169h0M58 217h0M38 171h0M181 31h0M164 13h0M194 116h0M76 112h0M80 207h0M200 57h0M17 71h0M222 130h0M172 155h0M148 105h0M48 160h0M192 174h0M201 143h0M194 79h0M172 79h0M14 180h0M86 173h0M133 193h0M91 103h0M211 98h0M145 132h0M97 17h0M73 214h0M23 213h0M200 133h0M61 150h0M210 46h0M145 201h0M133 217h0M165 46h0M88 183h0M218 205h0M160 93h0M214 61h0M78 101h0M24 71h0M155 137h0M211 164h0M189 142h0M113 209h0M223 109h0M183 80h0M38 135h0M145 211h0M126 61h0M13 147h0M115 185h0M221 99h0M101 169h0M44 117h0M49 143h0M65 122h0M166 213h0M206 10h0M124 127h0M74 153h0M163 42h0M124 140h0M73 142h0M218 92h0M217 111h0M76 185h0M129 91h0M7 126h0M183 210h0M93 56h0M37 110h0M67 138h0M80 140h0M200 168h0M211 109h0M83 16h0M40 164h0M142 196h0M4 71h0M127 13h0M153 156h0M156 64h0M111 144h0M198 117h0M223 192h0M113 82h0M222 164h0M12 91h0M29 160h0M97 181h0M29 178h0M199 124h0M40 206h0M58 50h0M173 114h0M29 198h0M135 135h0M156 156h0M112 11h0M127 149h0M67 77h0M99 98h0M212 46h0M152 73h0M187 154h0M75 139h0M31 127h0M113 69h0M194 54h0M147 125h0M198 45h0M165 222h0M36 159h0M76 204h0M94 206h0M184 108h0M1 64h0M218 139h0M61 81h0M50 115h0M25 151h0M203 134h0M135 114h0M206 173h0M107 8h0M42 128h0M91 216h0M174 50h0M117 68h0M57 136h0M202 89h0M85 46h0M102 106h0M55 166h0M109 46h0M135 97h0M61 157h0M152 0h0M156 56h0M175 132h0M157 190h0M27 94h0M133 32h0M183 70h0M170 46h0M24 127h0M94 43h0M216 113h0M41 220h0M202 59h0M110 222h0M22 124h0M88 157h0M194 62h0M161 88h0M151 67h0M125 122h0M143 169h0M105 117h0M147 136h0M7 135h0M47 188h0M139 222h0M66 38h0M195 36h0M112 181h0M190 90h0M60 132h0M209 130h0M195 167h0M199 115h0M216 211h0M48 132h0M156 63h0M181 131h0M169 80h0M70 142h0M21 96h0M61 122h0M28 174h0M126 164h0M133 7h0M29 150h0M165 205h0M77 33h0M193 179h0M174 175h0M194 84h0M71 3h0M25 111h0M166 160h0M215 42h0M27 151h0M188 207h0M54 58h0M42 199h0M43 126h0M12 156h0M15 123h0M55 27h0M158 128h0M116 154h0M25 91h0M155 71h0M212 219h0M203 49h0M188 53h0M178 93h0M57 100h0M179 111h0M52 75h0M15 173h0M214 43h0M204 123h0M27 202h0M13 165h0M96 161h0M170 120h0M31 132h0M166 102h0M212 135h0M129 215h0M124 39h0M222 156h0M96 200h0M4 153h0M22 110h0M221 185h0M224 210h0M51 68h0M93 56h0M137 19h0M150 78h0M22 111h0M64 112h0M27 217h0M119 18h0M71 57h0M151 20h0M90 214h0M160 99h0M28 175h0M78 133h0M190 33h0M17 107h0M126 8h0M71 19h0M163 124h0M157 67h0M61 127h0M21 100h0M10 176h0M24 47h0M96 78h0M170 14h0M93 55h0M72 67h0M193 66h0M218 222h0M199 212h0M219 106h0M171 184h0M65 126h0M73 163h0M92 87h0M67 154h0M183 2h0M33 164h0M77 184h0M135 12h0M183 170h0M90 75h0M199 4h0M69 118h0M56 117h0M153 192h0M32 93h0M111 22h0M94 168h0M176 215h0M125 143h0M91 15h0M175 32h0M63 106h0M73 35h0M49 66h0M77 170h0M49 115h0M224 71h0M136 159h0M117 100h0M17 78h0M51 161h0M93 98h0M208 40h0M198 223h0M27 195h0M96 79h0M106 43h0M180 7h0M98 148h0M13 217h0M77 105h0M49 220h0M206 83h0M94 66h0M221 144h0M78 13h0M105 55h0M218 161h0M155 165h0M213 147h0M13 202h0M150 86h0M37 148h0M11 119h0M8 155h0M218 111h0M49 139h0M88 216h0M145 180h0M157 179h0M147 139h0M44 184h0M141 55h0M165 211h0M90 52h0M22 206h0M60 99h0M51 83h0M115 17h0M80 159h0M195 119h0M2 211h0M81 66h0M135 211h0M152 186h0M109 97h0M168 212h0M167 172h0M170 218h0M208 50h0M45 215h0M31 58h0M162 68h0M147 44h0M92 147h0M203 116h0M128 47h0M121 146h0M186 128h0M136 186h0M99 119h0M37 188h0M196 12h0M136 61h0M129 60h0M12 149h0M9 102h0M7 164h0M111 63h0M77 178h0M2 75h0M113 147h0M87 155h0M198 214h0M154 187h0M212 19h0M134 185h0M183 80h0M69 100h0M173 103h0M131 101h0M113 89h0M55 183h0M108 59h0M196 12h0M110 190h0M73 174h0M184 149h0M116 112h0M155 199h0M49 102h0M122 157h0M153 26h0M5 195h0M38 127h0M60 102h0M143 158h0M75 139h0M137 163h0M34 131h0M78 210h0M219 122h0M157 30h0M136 73h0M128 41h0M38 184h0M99 90h0M212 82h0M219 8h0M67 143h0M49 173h0M34 159h0M203 155h0M35 87h0M137 162h0M48 66h0M16 151h0M153 107h0M137 183h0M186 138h0M153 193h0M73 202h0M47 107h0M77 171h0M115 8h0M180 96h0M98 220h0M5 222h0M157 104h0M24 106h0M69 199h0M199 171h0M46 75h0M119 56h0M159 209h0M217 117h0M126 9h0M133 184h0M37 58h0M76 83h0M11 216h0M126 66h0M170 15h0M105 117h0M103 137h0M122 65h0M140 33h0M119 146h0M124 153h0M115 38h0M104 84h0M211 47h0M73 192h0M143 72h0M26 164h0M102 220h0M172 76h0M223 70h0M20 113h0M206 62h0M182 27h0M171 198h0M151 66h0M121 65h0M103 58h0M27 189h0M200 103h0M90 76h0M29 124h0M2 125h0M152 51h0M191 1h0M41 140h0M119 213h0M207 181h0M28 133h0M15 187h0M47 157h0M143 77h0M17 105h0M207 202h0M185 216h0M81 99h0M126 180h0M142 27h0M58 177h0M78 200h0M142 29h0M213 45h0M200 185h0M53 101h0M186 62h0M24 103h0M67 61h0M145 117h0M175 89h0M132 47h0M186 142h0M204 105h0M115 145h0M59 113h0M142 179h0M77 139h0M162 136h0M204 49h0M196 22h0M105 202h0M60 125h0M166 15h0M188 223h0M159 17h0M67 212h0M103 135h0M224 183h0M15 99h0M99 80h0M176 33h0M140 192h0M74 114h0M2 114h0M60 111h0M75 65h0M157 31h0M202 20h0M189 66h0M134 184h0M124 217h0M169 114h0M204 4h0M101 218h0M200 82h0M206 33h0M74 219h0M115 71h0M58 125h0M106 124h0M97 89h0M198 66h0M158 154h0M183 120h0M170 21h0M175 68h0M127 123h0M55 221h0M190 151h0M222 114h0M103 82h0M209 33h0M175 8h0M201 56h0M51 168h0M156 94h0M20 82h0M123 7h0M90 66h0M102 42h0M187 118h0M158 75h0M75 215h0M82 205h0M93 129h0M100 57h0M211 119h0M72 182h0M102 38h0M74 100h0M44 96h0M109 213h0M200 213h0M75 182h0M46 173h0M139 207h0M87 30h0M3 156h0M151 63h0M81 88h0M138 172h0M15 152h0M129 39h0M48 116h0M126 179h0M152 197h0M171 51h0M26 183h0M25 151h0M204 161h0M96 71h0M97 165h0M181 20h0M75 92h0M61 64h0M191 212h0M192 85h0M98 68h0M158 81h0M185 4h0M123 58h0M184 96h0M86 122h0M209 99h0M147 3h0M43 100h0M167 175h0M41 101h0M130 218h0M163 178h0M155 123h0M72 112h0M78 172h0M159 4h0M19 157h0M168 21h0M83 220h0M72 109h0M204 41h0M88 115h0M52 82h0M137 27h0M169 176h0M172 102h0M168 89h0M9 155h0M177 138h0M63 21h0M17 208h0M53 175h0M223 179h0M27 111h0M12 157h0M222 193h0M222 131h0M28 79h0M86 195h0M211 206h0M162 130h0M158 184h0M33 49h0M216 45h0M37 173h0M80 172h0M213 88h0M76 216h0M189 190h0M58 172h0M159 120h0M39 98h0M5 165h0M159 89h0M139 104h0M161 95h0M147 111h0M71 196h0M169 103h0M152 66h0M105 126h0M150 56h0M22 166h0M47 77h0M96 125h0M125 45h0M35 164h0M185 72h0M211 70h0M221 78h0M5 160h0M131 87h0M160 22h0M68 55h0M131 47h0M50 112h0M122 203h0M162 126h0M12 80h0M221 220h0M73 190h0M162 38h0M94 31h0M1 1h0M171 35h0M125 36h0M109 213h0M146 100h0M105 166h0M187 59h0M125 43h0M218 28h0M198 103h0M223 35h0M171 188h0M193 192h0M1 121h0M215 178h0M10 220h0M129 53h0M40 60h0M2 221h0M58 44h0M4 128h0M159 96h0M104 119h0M100 148h0M43 163h0M160 17h0M92 67h0M42 170h0M132 81h0M132 195h0M147 46h0M44 220h0M194 60h0M59 129h0M164 51h0M20 50h0M205 217h0M23 65h0M126 45h0M41 82h0M162 186h0M52 198h0M148 125h0M32 140h0M37 60h0M61 142h0M202 130h0M176 220h0M168 149h0M189 66h0M169 217h0M160 141h0M206 204h0M112 35h0M190 97h0M102 20h0M152 25h0M142 24h0M148 80h0M162 20h0M149 46h0M154 12h0M40 189h0M142 82h0M144 189h0M114 4h0M33 89h0M150 60h0M106 46h0M65 96h0M153 72h0M46 60h0M189 95h0M46 66h0M27 119h0M74 76h0M158 80h0M160 174h0M99 209h0M192 169h0M192 192h0M105 3h0M203 11h0M177 76h0M94 8h0M80 37h0M92 35h0M83 168h0M25 133h0M143 46h0M53 213h0M138 67h0M187 1h0M57 174h0M223 140h0M126 142h0M137 135h0M222 102h0M159 80h0M171 223h0M97 68h0M207 50h0M132 139h0M35 122h0M103 132h0M68 129h0M132 175h0M158 21h0M46 46h0M184 5h0M65 96h0M166 166h0M5 124h0M29 118h0M216 150h0M10 93h0M122 46h0M64 118h0M123 150h0M80 122h0M154 150h0M53 54h0M139 37h0M106 56h0M218 166h0M9 124h0M84 131h0M164 9h0M75 222h0M127 146h0M17 72h0M23 124h0M68 61h0M135 70h0M63 116h0M5 173h0M97 26h0M69 206h0M108 0h0M21 202h0M174 28h0M52 109h0M186 55h0M212 140h0M200 122h0M137 154h0M19 161h0M213 4h0M65 25h0M82 147h0M132 159h0M56 186h0M80 74h0M127 9h0M39 60h0M210 122h0M48 153h0M78 97h0M155 100h0M5 129h0M176 82h0M181 182h0M111 23h0M61 39h0M23 179h0M147 211h0M200 100h0M113 83h0M92 134h0M216 84h0M157 157h0M63 98h0M28 177h0M175 107h0M116 205h0M87 105h0M193 2h0M161 3h0M171 106h0M202 29h0M95 94h0M170 9h0M12 84h0M75 205h0M161 167h0M108 140h0M65 73h0M165 111h0M194 175h0M104 32h0M112 73h0M213 95h0M193 162h0M112 86h0M98 112h0M186 67h0M24 117h0M166 30h0M48 27h0M101 108h0M40 152h0M97 4h0M98 165h0M192 106h0M146 96h0M208 73h0M199 160h0M75 94h0M100 14h0M183 180h0M167 165h0M135 26h0M10 198h0M205 165h0M66 4h0M143 8h0M202 22h0M34 108h0M121 15h0M56 123h0M144 15h0M121 136h0M50 170h0M125 202h0M48 150h0M104 15h0M137 167h0M52 119h0M52 212h0M154 136h0M79 69h0M127 196h0M37 129h0M36 212h0M160 184h0M52 95h0M224 84h0M174 120h0M131 207h0M47 182h0M134 12h0M140 7h0M6 216h0M94 32h0M182 33h0M49 75h0M171 31h0M133 124h0M143 193h0M75 101h0M1 222h0M129 111h0M2 113h0M104 81h0M47 154h0M108 98h0M105 186h0M161 120h0M83 88h0M165 102h0M107 100h0M114 136h0M127 26h0M68 178h0M146 51h0M163 18h0M18 109h0M20 191h0M20 189h0M190 36h0M203 108h0M84 17h0M114 161h0M46 214h0M196 32h0M22 212h0M184 75h0M152 19h0M38 208h0M82 17h0M144 199h0M134 161h0M104 62h0M207 74h0M117 67h0M85 145h0M46 179h0M194 145h0M75 68h0M101 173h0M111 42h0M129 167h0M220 97h0M166 32h0M98 211h0M92 124h0M103 47h0M101 21h0M71 168h0M164 20h0M16 201h0M220 127h0M49 105h0M178 32h0M77 220h0M169 200h0M101 46h0M95 27h0M25 143h0M183 163h0M165 164h0M100 100h0M207 49h0M106 19h0M99 151h0M140 15h0M207 163h0M137 3h0M72 70h0M175 36h0M92 129h0M61 59h0M186 53h0M32 49h0M61 83h0M102 150h0M1 87h0M207 207h0M90 20h0M113 67h0M128 207h0M25 178h0M113 217h0M194 17h0M219 141h0M3 95h0M67 102h0M6 209h0M124 153h0M160 140h0M190 2h0M184 178h0M57 69h0M184 85h0M88 142h0M169 90h0M42 56h0M42 76h0M184 66h0M17 160h0M195 4h0M89 164h0M98 67h0M167 108h0M183 12h0M88 27h0M88 207h0M91 13h0M32 211h0M220 16h0M177 88h0M194 95h0M124 199h0M199 203h0M222 185h0M183 65h0M110 169h0M161 132h0M78 146h0M22 171h0M42 208h0M154 28h0M193 93h0M5 184h0M90 201h0M109 76h0M150 98h0M77 48h0M94 209h0M91 176h0M130 221h0M129 148h0M114 116h0M162 127h0M151 30h0M155 74h0M94 41h0M142 158h0M187 9h0M112 69h0M165 69h0M217 107h0M139 94h0M149 214h0M196 55h0M156 75h0M127 159h0M173 130h0M78 41h0M168 25h0M82 171h0M158 92h0M92 179h0M197 177h0M115 56h0M157 212h0M184 125h0M119 89h0M42 98h0M156 6h0M49 81h0M84 96h0M157 147h0M155 143h0M190 108h0M182 201h0M145 25h0M17 133h0M171 170h0M31 109h0M210 217h0M190 133h0M98 195h0M10 178h0M200 129h0M171 21h0M90 1h0M151 17h0M97 114h0M31 174h0M101 91h0M215 223h0M190 125h0M49 124h0M196 3h0M111 197h0M49 0h0M88 163h0M136 1h0M17 86h0M61 99h0M48 189h0M81 57h0M52 189h0M209 58h0M108 130h0M95 115h0M122 170h0M81 178h0M217 106h0M193 18h0M134 176h0M31 109h0M107 122h0M148 59h0M111 67h0M10 181h0M180 188h0M168 114h0M209 83h0M96 202h0M173 209h0M30 195h0M196 205h0M199 150h0M149 39h0M116 30h0M26 119h0M7 68h0M221 124h0M97 172h0M199 28h0M22 106h0M17 221h0M82 190h0M166 67h0M91 15h0M113 11h0M156 31h0M192 141h0M106 78h0M50 156h0M16 153h0M77 81h0M201 83h0M95 222h0M138 140h0M148 103h0M100 57h0M10 75h0M202 45h0M92 179h0M65 170h0M95 137h0M3 126h0M10 185h0M73 74h0M153 8h0M111 203h0M101 46h0M213 172h0M40 186h0M159 157h0M137 147h0M211 57h0M217 88h0M129 135h0M7 73h0M201 87h0M68 147h0M112 216h0M140 69h0M111 186h0M121 110h0M47 133h0M142 39h0M5 152h0M52 134h0M187 124h0M116 124h0M94 119h0M134 191h0M158 117h0M139 99h0M73 217h0M178 182h0M66 75h0M103 169h0M69 70h0M40 162h0M22 196h0M14 191h0M62 59h0M164 75h0M13 127h0M170 15h0M24 214h0M181 109h0M60 50h0M137 147h0M130 74h0M89 61h0M106 90h0M60 159h0M67 92h0M155 189h0M159 48h0M48 86h0M200 121h0M219 84h0M192 15h0M28 141h0M195 174h0M199 172h0M211 147h0M176 31h0M152 89h0M105 141h0M16 129h0M101 223h0M116 156h0M204 156h0M118 220h0M5 70h0M110 35h0M222 85h0M144 210h0M112 222h0M166 195h0M67 5h0M136 140h0M30 204h0M60 90h0M213 122h0M146 88h0M215 69h0M7 219h0M187 160h0M203 38h0M203 70h0M122 170h0M27 104h0M59 146h0M47 151h0M90 157h0M191 146h0M219 44h0M161 117h0M3 185h0M147 84h0M190 157h0M167 118h0M141 58h0M147 29h0M94 91h0M130 167h0M38 196h0M190 14h0M111 32h0M104 217h0M73 19h0M50 208h0M103 140h0M96 99h0M135 21h0M78 13h0M145 65h0M163 190h0M101 188h0M196 118h0M35 56h0M214 83h0M156 79h0M136 109h0M74 94h0M220 145h0M150 26h0M103 100h0M77 109h0M143 168h0M151 58h0M216 177h0M208 197h0M90 141h0M209 75h0M169 136h0M103 33h0M57 218h0M26 162h0M179 212h0M67 96h0M218 39h0M37 70h0M169 117h0M176 54h0M81 64h0M204 80h0M44 216h0M106 163h0M89 201h0M134 99h0M164 2h0M132 23h0M127 17h0M94 118h0M114 73h0M83 118h0M80 201h0M61 180h0M97 89h0M58 25h0M176 101h0M81 17h0M110 72h0M196 151h0M3 126h0M151 127h0M78 76h0M74 199h0M77 86h0M38 190h0M85 170h0M108 220h0M106 7h0M215 177h0M71 135h0M24 91h0M35 176h0M63 201h0M163 102h0M57 139h0M177 80h0M89 172h0M210 182h0M62 187h0M122 181h0M87 67h0M171 175h0M38 207h0M183 9h0M89 11h0M114 128h0M204 141h0M62 64h0M204 108h0M131 184h0M35 181h0M114 197h0M185 89h0M53 136h0M26 202h0M2 156h0M82 135h0M32 177h0M69 122h0M133 53h0M99 146h0M223 195h0M203 153h0M163 178h0M145 62h0M113 163h0M108 196h0M129 172h0M130 170h0M182 66h0M159 89h0M79 180h0M57 147h0M77 70h0M92 123h0M214 137h0M120 132h0M168 205h0M199 147h0M64 182h0M54 191h0M125 183h0M137 144h0M17 118h0M23 70h0M36 46h0M108 216h0M193 2h0M28 53h0M162 130h0M209 67h0M4 68h0M120 4h0M69 46h0M13 165h0M139 181h0M218 122h0M42 135h0M137 144h0M129 184h0M95 57h0M107 150h0M23 65h0M30 114h0M220 132h0M91 161h0M114 97h0M17 214h0M89 195h0M176 39h0M147 30h0M127 49h0M183 52h0M200 136h0M133 31h0M149 137h0M95 173h0M108 39h0M173 75h0M49 118h0M151 132h0M103 125h0M31 119h0M110 44h0M119 74h0M44 170h0M212 97h0M125 157h0M85 153h0M1 90h0M65 208h0M202 216h0M142 146h0M84 116h0M96 1h0M212 106h0M17 120h0M149 188h0M3 108h0M116 134h0M112 146h0M205 149h0M30 124h0M19 65h0M182 114h0M97 28h0M180 152h0M94 10h0M203 77h0M28 124h0M26 125h0M186 206h0M115 174h0M222 88h0M98 159h0M155 51h0M108 111h0M158 64h0M11 172h0M159 149h0M55 48h0M26 99h0M55 194h0M190 48h0M160 177h0M49 104h0M82 29h0M189 104h0M102 128h0M82 112h0M67 206h0M40 172h0M135 148h0M105 57h0M79 10h0M3 108h0M154 180h0M188 13h0M122 78h0M199 12h0M186 4h0M181 51h0M45 160h0M107 61h0M109 138h0M102 152h0M124 41h0M122 20h0M186 43h0M171 186h0M99 67h0M132 219h0M102 102h0M79 18h0M132 85h0M220 151h0M149 107h0M180 103h0M23 114h0M135 36h0M78 124h0M147 98h0M173 33h0M83 124h0M153 59h0M51 126h0M195 12h0M124 100h0M36 176h0M56 70h0M158 60h0M96 149h0M156 185h0M78 182h0M147 160h0M27 85h0M137 190h0M162 139h0M213 140h0M64 145h0M181 138h0M206 88h0M116 13h0M197 91h0M9 44h0M56 34h0M183 222h0M72 60h0M160 200h0M146 154h0M81 22h0M32 117h0M78 29h0M81 96h0M203 101h0M58 98h0M188 139h0M147 18h0M217 151h0M100 97h0M224 140h0M96 212h0M182 126h0M68 213h0M45 123h0M93 34h0M13 112h0M173 141h0M53 163h0M95 17h0M221 197h0M206 59h0M16 150h0M31 122h0M105 79h0M15 139h0M60 55h0M38 164h0M171 213h0M66 92h0M128 178h0M217 147h0M51 169h0M159 50h0M176 75h0M90 83h0M217 173h0M5 135h0M110 31h0M106 23h0M155 205h0M66 64h0M157 182h0M165 193h0" stroke="#28288e" stroke-width="3.8" stroke-linecap="round" stroke-opacity="0.92"/><path transform="translate(462 660) scale(.5)" d="M47 208h0M169 216h0M164 119h0M36 208h0M11 191h0M46 157h0M141 192h0M77 106h0M45 101h0M209 114h0M84 21h0M99 145h0M196 58h0M190 153h0M22 105h0M132 4h0M19 105h0M9 80h0M46 160h0M215 111h0M171 203h0M59 118h0M147 149h0M121 14h0M36 50h0M85 59h0M182 83h0M9 164h0M87 56h0M192 222h0M193 141h0M87 27h0M202 120h0M181 37h0M136 159h0M145 133h0M108 157h0M59 102h0M134 54h0M91 39h0M40 151h0M156 207h0M65 106h0M136 173h0M155 138h0M102 179h0M112 221h0M186 28h0M218 124h0M46 197h0M153 127h0M189 97h0M142 123h0M131 216h0M125 177h0M142 168h0M208 139h0M209 115h0M110 30h0M140 40h0M34 222h0M119 23h0M11 220h0M155 10h0M205 162h0M161 130h0M57 193h0M210 113h0M152 50h0M140 84h0M190 13h0M170 185h0M164 84h0M107 59h0M212 181h0M165 151h0M30 181h0M199 97h0M33 220h0M195 50h0M157 195h0M36 132h0M80 39h0M175 40h0M105 57h0M146 30h0M81 179h0M152 145h0M149 30h0M15 102h0M69 102h0M172 173h0M142 185h0M127 195h0M183 108h0M206 89h0M115 41h0M141 217h0M129 50h0M136 37h0M201 196h0M56 45h0M87 127h0M91 189h0M179 161h0M145 209h0M76 89h0M23 220h0M128 218h0M117 203h0M184 169h0M147 165h0M55 122h0M175 205h0M190 64h0M137 211h0M141 144h0M119 50h0M180 173h0M17 89h0M14 143h0M70 28h0M2 37h0M137 51h0M31 90h0M74 208h0M91 74h0M73 124h0M23 188h0M77 112h0M20 160h0M147 212h0M221 160h0M46 171h0M175 37h0M144 17h0M185 198h0M114 69h0M162 42h0M222 125h0M159 208h0M71 26h0M46 91h0M132 188h0M90 166h0M59 60h0M187 57h0M142 200h0M185 78h0M152 66h0M138 146h0M166 7h0M157 163h0M115 155h0M71 219h0M32 181h0M151 75h0M8 79h0M7 151h0M147 186h0M163 7h0M30 148h0M6 178h0M188 58h0M162 199h0M89 18h0M73 69h0M152 12h0M100 23h0M33 143h0M90 151h0M133 133h0M25 104h0M16 59h0M186 21h0M153 113h0M144 16h0M48 156h0M94 50h0M34 201h0M88 155h0M194 139h0M23 207h0M26 63h0M210 157h0M110 155h0M139 199h0M83 179h0M180 213h0M85 131h0M169 87h0M75 115h0M168 1h0M224 182h0M213 148h0M115 171h0M206 171h0M194 219h0M56 80h0M32 151h0M109 98h0M10 160h0M159 148h0M137 103h0M85 24h0M138 126h0M107 181h0M83 106h0M170 155h0M198 50h0M33 139h0M99 192h0M198 64h0M96 38h0M158 174h0M38 60h0M27 208h0M120 59h0M186 56h0M112 130h0M113 65h0M203 216h0M118 51h0M3 166h0M1 137h0M200 51h0M57 108h0M201 122h0M55 194h0M116 64h0M166 187h0M159 66h0M127 217h0M143 156h0M182 74h0M100 122h0M131 152h0M138 86h0M42 98h0M213 115h0M116 67h0M66 139h0M23 168h0M76 112h0M23 106h0M85 39h0M217 148h0M220 84h0M175 53h0M142 73h0M176 199h0M182 61h0M54 98h0M157 11h0M0 149h0M55 181h0M164 207h0M220 173h0M163 98h0M174 217h0M170 75h0M27 125h0M132 218h0M102 159h0M137 30h0M223 90h0M48 167h0M196 145h0M156 222h0M94 28h0M167 51h0M137 98h0M182 55h0M17 203h0M150 215h0M201 61h0M57 186h0M77 31h0M154 189h0M161 211h0M86 146h0M113 201h0M50 126h0M7 90h0M207 69h0M120 170h0M40 0h0M15 162h0M34 157h0M72 161h0M210 202h0M193 136h0M163 193h0M114 59h0M143 123h0M205 136h0M199 190h0M53 210h0M175 92h0M190 141h0M132 215h0M71 84h0M6 152h0M58 153h0M204 172h0M40 176h0M46 184h0M155 192h0M39 108h0M5 3h0M179 148h0M72 103h0M224 130h0M78 119h0M158 205h0M73 25h0M11 69h0M210 186h0M92 122h0M197 74h0M61 141h0M3 79h0M42 85h0M187 88h0M102 158h0M67 89h0M69 214h0M58 175h0M94 146h0M199 149h0M174 25h0M110 66h0M3 199h0M146 179h0M223 159h0M117 36h0M202 5h0M151 42h0M11 209h0M5 66h0M205 179h0M126 60h0M223 150h0M172 25h0M38 83h0M60 195h0M68 75h0M55 2h0M72 35h0M167 43h0M178 79h0M110 87h0M171 191h0M128 56h0M104 149h0M70 199h0M152 108h0M107 141h0M179 22h0M55 170h0M180 148h0M1 153h0M20 220h0M2 96h0M212 143h0M211 140h0M141 181h0M166 58h0M111 56h0M219 124h0M36 161h0M177 162h0M132 90h0M62 100h0M178 129h0M37 201h0M122 205h0M101 177h0M116 6h0M190 154h0M180 45h0M68 76h0M141 60h0M137 57h0M82 25h0M180 219h0M81 180h0M80 88h0M181 192h0M170 108h0M49 183h0M190 95h0M86 195h0M164 222h0M138 195h0M71 78h0M2 67h0M3 97h0M186 180h0M148 65h0M80 171h0M129 6h0M173 79h0M85 130h0M167 180h0M89 45h0M96 56h0M45 42h0M107 37h0M59 57h0M177 71h0M108 163h0M132 103h0M90 33h0M91 105h0M10 157h0M49 106h0M203 160h0M116 30h0M99 139h0M214 115h0M217 80h0M160 39h0M178 185h0M224 195h0M190 125h0M206 42h0M213 43h0M167 58h0M143 85h0M35 158h0M185 219h0M103 9h0M62 175h0M65 184h0M29 112h0M144 21h0M140 3h0M79 186h0M100 127h0M135 63h0M70 92h0M210 53h0M140 75h0M69 113h0M142 166h0M82 135h0M174 15h0M155 214h0M147 23h0M105 180h0M103 82h0M137 149h0M48 115h0M154 65h0M35 68h0M158 166h0M165 175h0M14 221h0M60 198h0M9 100h0M204 34h0M175 159h0M193 73h0M29 160h0M212 179h0M153 40h0M97 126h0M147 35h0M51 137h0M51 113h0M222 107h0M147 150h0M141 147h0M50 186h0M156 130h0M194 116h0M149 141h0M131 125h0M94 25h0M153 196h0M49 63h0M168 181h0M94 50h0M55 96h0M99 100h0M190 22h0M195 105h0M115 95h0M113 51h0M128 205h0M167 122h0M143 194h0M36 147h0M120 63h0M19 106h0M65 196h0M132 146h0M224 159h0M68 104h0M87 67h0M181 6h0M38 215h0M67 103h0M189 86h0M95 19h0M97 5h0M147 156h0M126 153h0M117 222h0M97 176h0M6 105h0M30 43h0M190 42h0M140 133h0M174 153h0M28 107h0M150 19h0M142 202h0M195 41h0M80 145h0M62 196h0M215 180h0M104 1h0M30 181h0M90 13h0M50 93h0M221 52h0M6 121h0M45 181h0M152 10h0M97 18h0M57 163h0M94 46h0M50 179h0M140 211h0M159 30h0M190 105h0M26 174h0M100 217h0M23 100h0M202 48h0M189 137h0M41 190h0M43 99h0M57 177h0M114 93h0M144 14h0M78 25h0M78 213h0M211 125h0M107 157h0M57 52h0M49 77h0M43 211h0M54 62h0M65 69h0M88 4h0M52 205h0M26 113h0M164 63h0M106 36h0M71 69h0M204 201h0M157 173h0M160 22h0M86 6h0M89 155h0M101 89h0M214 47h0M27 132h0M64 110h0M144 53h0M136 48h0M41 112h0M34 114h0M105 182h0M67 137h0M166 140h0M144 81h0M177 46h0M217 196h0M86 96h0M30 121h0M25 164h0M82 109h0M205 205h0M153 110h0M26 46h0M63 96h0M93 102h0M202 136h0M190 79h0M41 205h0M173 118h0M170 117h0M224 8h0M185 40h0M71 160h0M29 94h0" stroke="#3c3cae" stroke-width="4.0" stroke-linecap="round" stroke-opacity="0.85"/><path transform="translate(462 660) scale(.5)" d="M38 38h0M18 50h0M29 88h0M193 207h0M198 189h0M14 50h0M39 38h0M20 24h0M12 67h0M214 220h0M16 45h0M219 19h0M19 35h0M221 12h0M217 10h0M190 34h0M82 41h0M205 19h0M203 17h0M38 15h0M212 216h0M62 32h0M53 26h0M163 187h0M48 56h0M222 25h0M210 23h0M43 55h0M39 46h0M0 5h0M57 69h0M25 28h0M21 53h0M36 51h0M177 5h0M215 192h0M195 222h0M7 17h0M205 202h0M10 51h0M191 204h0M67 8h0M12 60h0M195 10h0M3 12h0M223 7h0M63 59h0M37 45h0M36 7h0M221 18h0M210 221h0M6 81h0M59 7h0M208 179h0M12 21h0M217 42h0M16 10h0M22 52h0M11 41h0M221 9h0M220 22h0M218 220h0M40 47h0M202 218h0M201 176h0M3 1h0M16 12h0M25 18h0M18 33h0M204 169h0M199 196h0M217 53h0M193 215h0M44 33h0M44 40h0M44 52h0M214 13h0M19 3h0M12 47h0M5 79h0" stroke="#5454c6" stroke-width="5.8" stroke-linecap="round" stroke-opacity="0.9"/><path transform="translate(462 660) scale(.5)" d="M171 53h0M164 63h0M157 104h0M159 102h0M175 76h0M166 61h0M171 71h0M168 84h0M173 83h0M169 126h0M172 90h0M174 88h0M164 104h0M173 64h0M158 70h0M168 44h0M163 91h0M166 47h0M166 52h0M174 94h0M161 90h0M160 114h0M85 123h0M164 48h0M72 129h0M164 88h0M167 96h0M63 133h0M163 69h0M84 132h0M84 134h0M159 91h0M179 116h0M174 95h0M74 131h0M170 92h0M172 78h0" stroke="#b86a36" stroke-width="3.2" stroke-linecap="round" stroke-opacity="0.85"/></g><clipPath id="cp12"><rect x="610" y="660" width="112" height="111.5"/></clipPath><g clip-path="url(#cp12)"><rect x="610" y="660" width="112" height="111.5" fill="#e9e6ef"/><path transform="translate(610 660) scale(.5)" d="M69 174h0M53 192h0M111 148h0M129 29h0M222 156h0M164 46h0M74 143h0M200 109h0M69 75h0M31 188h0M155 136h0M118 55h0M180 67h0M76 209h0M38 83h0M95 198h0M89 112h0M160 188h0M23 17h0M141 210h0M56 141h0M36 107h0M90 62h0M192 22h0M175 8h0M35 131h0M23 12h0M182 134h0M59 64h0M39 215h0M146 169h0M22 166h0M64 88h0M9 183h0M140 155h0M92 193h0M9 146h0M145 182h0M80 181h0M189 118h0M200 201h0M1 212h0M136 102h0M94 188h0M205 80h0M143 133h0M126 198h0M132 95h0M76 186h0M197 39h0M77 39h0M170 20h0M176 142h0M172 43h0M92 173h0M23 44h0M174 181h0M167 214h0M90 57h0M98 223h0M75 172h0M129 12h0M22 60h0M22 13h0M108 143h0M195 168h0M26 166h0M16 44h0M200 214h0M104 114h0M198 170h0M185 18h0M112 43h0M187 14h0M210 140h0M167 127h0M103 147h0M111 197h0M88 16h0M188 164h0M118 81h0M32 52h0M142 202h0M213 46h0M47 194h0M194 185h0M56 189h0M43 98h0M203 35h0M16 20h0M143 85h0M133 193h0M143 214h0M4 46h0M101 48h0M216 107h0M103 156h0M93 16h0M215 203h0M174 89h0M194 219h0M85 131h0M46 66h0M153 84h0M1 171h0M211 160h0M18 185h0M74 100h0M41 170h0M72 47h0M71 58h0M156 219h0M179 61h0M203 207h0M194 21h0M86 16h0M41 114h0M43 89h0M174 55h0M47 144h0M31 198h0M91 175h0M80 96h0M106 43h0M73 176h0M93 161h0M99 59h0M25 46h0M63 1h0M212 144h0M204 113h0M12 190h0M172 99h0M6 19h0M19 198h0M122 63h0M107 205h0M68 1h0M122 53h0M23 162h0M177 76h0M170 25h0M121 134h0M49 205h0M83 39h0M50 186h0M149 103h0M144 146h0M214 193h0M107 181h0M15 169h0M193 209h0M194 203h0M56 87h0M102 206h0M215 115h0M87 189h0M173 97h0M23 114h0M72 9h0M43 127h0M222 140h0M45 170h0M143 5h0M92 214h0M179 95h0M222 37h0M7 49h0M71 128h0M28 15h0M86 153h0M153 130h0M15 156h0M154 79h0M154 171h0M50 37h0M89 28h0M110 156h0M54 83h0M182 28h0M14 96h0M56 93h0M95 41h0M216 10h0M22 178h0M140 56h0M38 166h0M69 201h0M80 79h0M171 59h0M16 187h0M188 221h0M69 184h0M156 58h0M203 211h0M94 172h0M125 208h0M123 35h0M202 90h0M66 99h0M210 2h0M102 71h0M47 67h0M115 164h0M20 181h0M84 184h0M199 82h0M199 64h0M88 61h0M96 159h0M25 184h0M7 196h0M52 75h0M31 39h0M32 90h0M47 159h0M39 99h0M176 138h0M37 33h0M124 186h0M14 105h0M145 146h0M94 86h0M115 64h0M20 8h0M91 192h0M9 218h0M39 193h0M179 142h0M197 54h0M209 58h0M135 134h0M45 55h0M58 177h0M112 102h0M7 172h0M12 23h0M21 48h0M163 202h0M141 73h0M3 42h0M75 124h0M169 196h0M161 16h0M189 204h0M114 97h0M63 207h0M173 26h0M211 145h0M221 64h0M165 156h0M207 52h0M189 69h0M59 99h0M47 212h0M36 170h0M101 19h0M156 178h0M82 202h0M182 212h0M89 68h0M1 50h0M190 43h0M202 119h0M198 13h0M163 123h0M207 136h0M172 67h0M44 4h0M61 138h0M201 122h0M164 212h0M151 66h0M3 16h0M80 177h0M47 3h0M45 165h0M80 144h0M222 50h0M221 12h0M118 87h0M27 5h0M85 121h0M75 65h0M183 171h0M100 201h0M21 195h0M144 223h0M161 100h0M206 178h0M139 166h0M102 36h0M9 134h0M3 195h0M207 131h0M79 34h0M119 44h0M35 120h0M204 61h0M116 103h0M140 146h0M113 17h0M127 175h0M75 192h0M187 172h0M24 89h0M204 31h0M64 153h0M183 24h0M119 7h0M185 36h0M216 31h0M46 122h0M154 123h0M72 161h0M200 193h0M194 174h0M191 127h0M6 131h0M115 212h0M135 177h0M83 116h0M96 87h0M12 217h0M133 41h0M100 55h0M85 51h0M44 144h0M31 92h0M43 160h0M53 46h0M131 18h0M209 157h0M100 74h0M63 4h0M203 115h0M107 81h0M41 158h0M131 168h0M47 159h0M198 181h0M3 113h0M101 193h0M131 51h0M208 166h0M67 221h0M128 149h0M209 21h0M76 180h0M183 76h0M58 51h0M173 135h0M207 156h0M42 167h0M218 107h0M65 36h0M43 154h0M116 119h0M91 160h0M10 59h0M60 107h0M158 217h0M18 35h0M15 188h0M187 49h0M178 90h0M41 90h0M161 216h0M41 75h0M52 157h0M36 37h0M169 142h0M163 205h0M95 141h0M6 126h0M158 38h0M146 86h0M176 60h0M118 45h0M38 46h0M171 219h0M52 15h0M88 190h0M144 13h0M6 172h0M165 33h0M8 153h0M162 163h0M189 105h0M126 89h0M142 188h0M135 46h0M96 31h0M60 70h0M211 46h0M156 43h0M65 188h0M95 68h0M169 87h0M103 11h0M170 212h0M138 98h0M129 190h0M168 51h0M91 57h0M24 64h0M148 72h0M191 35h0M162 112h0M170 146h0M78 154h0M171 38h0M11 220h0M151 29h0M42 42h0M74 43h0M158 117h0M85 179h0M167 43h0M170 75h0M130 31h0M143 21h0M58 180h0M181 169h0M103 179h0M223 135h0M136 172h0M120 76h0M97 121h0M69 144h0M144 145h0M14 192h0M49 182h0M147 85h0M172 55h0M4 192h0M63 37h0M208 186h0M60 115h0M68 164h0M157 128h0M158 190h0M39 125h0M201 170h0M119 213h0M15 59h0M161 168h0M165 28h0M190 29h0M86 47h0M196 60h0M60 219h0M95 203h0M201 65h0M146 110h0M58 61h0M187 190h0M209 163h0M157 142h0M96 75h0M21 119h0M184 211h0M170 31h0M83 174h0M211 93h0M92 51h0M184 193h0M35 77h0M192 173h0M21 91h0M175 178h0M125 116h0M11 123h0M201 60h0M144 37h0M205 52h0M220 195h0M41 19h0M127 127h0M8 191h0M1 52h0M130 169h0M68 153h0M24 113h0M62 142h0M178 107h0M51 156h0M69 137h0M54 92h0M221 149h0M131 29h0M96 114h0M102 97h0M223 172h0M109 182h0M164 167h0M33 76h0M70 153h0M161 74h0M34 8h0M209 88h0M82 44h0M166 42h0M105 121h0M27 27h0M129 129h0M125 221h0M122 137h0M184 49h0M118 47h0M135 164h0M95 158h0M154 20h0M196 45h0M215 55h0M22 47h0M54 88h0M198 169h0M4 202h0M201 183h0M84 155h0M188 222h0M54 169h0M214 38h0M126 129h0M82 203h0M99 95h0M47 148h0M112 54h0M74 8h0M167 145h0M165 98h0M215 65h0M46 126h0M40 20h0M37 133h0M171 60h0M52 105h0M194 87h0M184 139h0M127 172h0M179 37h0M218 38h0M114 73h0M134 145h0M99 74h0M77 78h0M67 201h0M111 140h0M148 129h0M105 87h0M2 144h0M98 140h0M186 201h0M128 55h0M91 187h0M109 142h0M22 149h0M54 40h0M105 88h0M152 216h0M223 172h0M102 120h0M92 215h0M79 57h0M6 177h0M147 71h0M198 18h0M196 11h0M205 100h0M124 28h0M41 203h0M52 219h0M112 7h0M29 46h0M101 211h0M222 205h0M209 127h0M78 3h0M197 72h0M88 19h0M215 68h0M39 148h0M162 72h0M114 27h0M170 43h0M25 163h0M180 218h0M134 197h0M160 189h0M29 205h0M173 30h0M188 83h0M39 20h0M102 172h0M210 107h0M143 70h0M200 43h0M218 137h0M223 102h0M47 52h0M54 194h0M158 133h0M52 221h0M33 80h0M52 116h0M159 169h0M28 166h0M106 76h0M170 181h0M119 117h0M210 40h0M136 174h0M213 28h0M36 99h0M11 117h0M19 24h0M173 200h0M31 90h0M119 35h0M75 56h0M115 119h0M29 204h0M26 179h0M220 176h0M42 31h0M52 38h0M49 208h0M213 112h0M177 104h0M168 220h0M207 88h0M162 193h0M64 65h0M109 3h0M63 110h0M202 126h0M189 132h0M34 102h0M100 79h0M19 158h0M209 111h0M92 31h0M113 9h0M188 174h0M210 220h0M75 46h0M74 204h0M206 26h0M211 158h0M78 117h0M51 161h0M172 168h0M148 162h0M66 143h0M162 126h0M94 53h0M176 54h0M79 216h0M212 113h0M216 59h0M185 153h0M205 25h0M170 109h0M97 183h0M81 129h0M63 75h0M18 192h0M11 192h0M49 84h0M120 141h0M25 208h0M114 99h0M39 105h0M78 7h0M131 72h0M109 108h0M179 153h0M222 31h0M51 94h0M84 157h0M166 93h0M205 91h0M129 37h0M82 215h0M80 36h0M214 100h0M217 211h0M113 123h0M107 35h0M198 108h0M117 223h0M39 145h0M16 14h0M113 213h0M125 211h0M146 209h0M128 162h0M156 52h0M62 104h0" stroke="#cfc8d8" stroke-width="2.4" stroke-linecap="round" stroke-opacity="0.5"/><path transform="translate(610 660) scale(.5)" d="M12 176h0M53 74h0M1 168h0M158 113h0M117 126h0M87 156h0M54 44h0M196 91h0M68 17h0M56 80h0M107 200h0M77 70h0M56 185h0M50 59h0M120 176h0M186 133h0M113 147h0M76 204h0M197 75h0M223 70h0M40 214h0M96 36h0M88 113h0M102 130h0M61 96h0M101 191h0M25 188h0M71 121h0M9 77h0M102 164h0M78 16h0M1 209h0M58 2h0M186 5h0M163 54h0M11 54h0M217 43h0M135 118h0M143 135h0M162 207h0M22 212h0M178 147h0M27 196h0M107 114h0M119 15h0M122 31h0M186 163h0M99 71h0M127 60h0M163 162h0M124 146h0M208 183h0M121 93h0M137 195h0M8 67h0M213 29h0M202 128h0M169 166h0M152 59h0M130 146h0M10 35h0M154 174h0M92 199h0M36 90h0M196 121h0M85 5h0M4 154h0M201 107h0M35 164h0M21 94h0M118 137h0M201 63h0M97 34h0M20 179h0M69 122h0M4 48h0M59 119h0M176 172h0M20 101h0M22 27h0M104 47h0M159 125h0M205 184h0M172 43h0M165 12h0M169 140h0M188 110h0M210 213h0M65 17h0M65 167h0M196 132h0M146 160h0M90 183h0M157 176h0M146 137h0M72 72h0M129 143h0M102 28h0M121 3h0M33 102h0M198 39h0M194 150h0M145 219h0M118 200h0M48 81h0M57 49h0M149 73h0M13 134h0M146 55h0M84 179h0M184 117h0M182 56h0M7 69h0M168 17h0M21 33h0M137 206h0M1 182h0M205 211h0M157 186h0M202 12h0M42 220h0M146 158h0M86 1h0M93 73h0M85 194h0M200 105h0M53 16h0M58 1h0M17 101h0M72 72h0M150 29h0M130 210h0M154 48h0M74 210h0M185 188h0M64 156h0M16 190h0M160 91h0M187 19h0M22 80h0M128 56h0M3 51h0M167 34h0M12 116h0M185 160h0M29 71h0M192 160h0M3 112h0M105 156h0M205 29h0M100 7h0M137 196h0M16 173h0M66 221h0M187 112h0M163 106h0M134 106h0M170 45h0M186 49h0M192 22h0M215 18h0M83 30h0M223 127h0M59 50h0M41 66h0M127 183h0M194 56h0M193 105h0M97 205h0M209 81h0M80 208h0M35 83h0M115 85h0M126 2h0M166 216h0M181 5h0M71 104h0M157 8h0M133 192h0M112 73h0M135 16h0M28 133h0M190 50h0M113 61h0M201 113h0M163 145h0M130 9h0M165 48h0M214 3h0M120 115h0M17 208h0M78 215h0M78 149h0M76 187h0M223 156h0M32 219h0M83 146h0M67 159h0M7 99h0M213 175h0M98 24h0M90 91h0M52 30h0M54 202h0M15 4h0M133 175h0M101 4h0M67 220h0M86 200h0M167 49h0M161 84h0M111 57h0M150 172h0M58 52h0M146 91h0M209 70h0M214 185h0M123 110h0M79 173h0M187 219h0M134 78h0M18 36h0M129 182h0M50 91h0M113 223h0M97 26h0M162 107h0M210 55h0M160 94h0M128 131h0M70 4h0M135 87h0M110 15h0M130 183h0M157 188h0M173 91h0M36 190h0M48 160h0M23 38h0M159 213h0M150 64h0M206 216h0M28 219h0M9 68h0M95 138h0M52 96h0M212 15h0M57 65h0M216 29h0M11 86h0" stroke="#c0b0a8" stroke-width="2.0" stroke-linecap="round" stroke-opacity="0.4"/><path transform="translate(610 660) scale(.5)" d="M121 112h0M93 122h0M115 111h0M108 102h0M95 111h0M103 109h0M124 99h0M110 117h0M102 120h0M110 105h0M104 121h0M116 97h0M98 107h0M108 117h0M109 110h0M102 119h0M107 101h0M116 105h0" stroke="#b8703e" stroke-width="3.6" stroke-linecap="round" stroke-opacity="0.85"/><path transform="translate(610 660) scale(.5)" d="M34 56h0M96 32h0M189 205h0M111 30h0M154 221h0M3 7h0M154 31h0M111 114h0M117 56h0M78 186h0M117 85h0M198 17h0M39 104h0M74 87h0M29 136h0M90 100h0M103 160h0M55 101h0M97 201h0M113 170h0M73 10h0M175 172h0M20 30h0M38 174h0M176 160h0M22 14h0M123 113h0M217 106h0M97 184h0M64 27h0M195 152h0M142 152h0M198 77h0M178 51h0M119 91h0M33 47h0M134 74h0M186 7h0M163 136h0M196 83h0M50 119h0M67 210h0M86 142h0M92 219h0M144 29h0M104 185h0M170 79h0M80 144h0M82 42h0M185 186h0M16 93h0M15 191h0M39 3h0M135 9h0M109 66h0M148 53h0M56 89h0M221 72h0M120 34h0M118 4h0M83 197h0M191 61h0M151 198h0M44 58h0M205 91h0M142 47h0M54 10h0M6 182h0M93 0h0M120 181h0M106 148h0M21 161h0M169 214h0M194 143h0M134 117h0M166 71h0M73 23h0M32 111h0M186 124h0M140 169h0M197 77h0M115 53h0M205 175h0M214 170h0M122 68h0M128 118h0M144 180h0M122 197h0M219 145h0M89 103h0M2 5h0M77 53h0M69 78h0M93 218h0M128 122h0M172 4h0M35 186h0M194 94h0M167 27h0M54 112h0M58 105h0M75 85h0M166 74h0M214 97h0M118 92h0M172 223h0M94 222h0M185 202h0M160 194h0M199 185h0M133 145h0M216 56h0M196 214h0M88 207h0M34 174h0M160 25h0M138 191h0M19 140h0M148 113h0M62 1h0M164 25h0M83 109h0M25 33h0M58 17h0M71 97h0M197 79h0M59 103h0M92 162h0M122 106h0M48 215h0M63 101h0M69 27h0M206 118h0M23 10h0M37 72h0M89 97h0M217 195h0M143 154h0M7 176h0M116 217h0M195 37h0M111 93h0M172 93h0M195 113h0M177 142h0M87 66h0M208 157h0M140 0h0M217 141h0M182 129h0M113 51h0M88 136h0M69 170h0M92 220h0M220 16h0M30 79h0M61 128h0M170 221h0M34 18h0M32 84h0M44 97h0M118 54h0M29 43h0M41 121h0M45 110h0M74 209h0M160 145h0M65 72h0M218 150h0M209 107h0M178 133h0M114 120h0M201 24h0M12 150h0M13 35h0M7 66h0M49 40h0M115 1h0M57 125h0M67 174h0M214 105h0M89 19h0M158 42h0M87 168h0M148 51h0M93 107h0M72 57h0M66 105h0M197 173h0M49 167h0M190 16h0M195 174h0M84 52h0M187 98h0M0 174h0M132 180h0M41 86h0M204 79h0M32 193h0M196 112h0M197 56h0M158 42h0M3 121h0M137 40h0M36 140h0M40 174h0M206 11h0M219 85h0M189 20h0M96 74h0M168 7h0M45 6h0M51 219h0M31 206h0M148 137h0M220 51h0M57 199h0M102 216h0M86 69h0M28 15h0M75 188h0M12 162h0M182 146h0M86 185h0M196 161h0M198 122h0M124 26h0M130 74h0M64 198h0M110 211h0M93 121h0M196 50h0M65 166h0M23 119h0M75 14h0M169 194h0M71 27h0M166 75h0M44 125h0M152 201h0M53 184h0M11 222h0M155 137h0M174 138h0M65 195h0M174 26h0M108 117h0M144 84h0M173 196h0M63 56h0M68 27h0M43 7h0M168 100h0M48 218h0M1 120h0M111 105h0M188 94h0M114 71h0M94 68h0M201 21h0" stroke="#5454c8" stroke-width="4.8" stroke-linecap="round" stroke-opacity="0.9"/><path transform="translate(610 660) scale(.5)" d="M204 203h0M97 188h0M67 138h0M176 202h0M217 21h0M139 86h0M15 111h0M21 65h0M134 176h0M187 181h0M59 20h0M169 218h0M219 51h0M141 76h0M108 50h0M16 142h0M95 78h0M91 119h0M98 170h0M108 93h0M25 158h0M138 59h0M215 67h0M106 178h0M150 131h0M194 23h0M110 72h0M68 144h0M185 28h0M48 174h0M152 192h0M212 159h0M71 22h0M119 89h0M163 217h0M50 3h0M150 98h0M66 85h0M183 60h0M46 125h0M138 212h0M83 148h0M90 132h0M222 210h0M191 205h0M193 19h0M26 115h0M64 29h0M145 174h0M22 0h0M116 127h0M46 90h0M130 207h0M62 208h0M214 66h0M87 61h0M43 18h0M124 46h0M110 182h0M190 122h0" stroke="#4646bc" stroke-width="6.0" stroke-linecap="round" stroke-opacity="0.9"/><path transform="translate(610 660) scale(.5)" d="M175 173h0M127 123h0M14 199h0M137 67h0M220 124h0M191 35h0M47 164h0M100 190h0M23 52h0M76 77h0M131 81h0M207 185h0M135 117h0M106 132h0M135 34h0M129 96h0M62 27h0M199 187h0M38 37h0M205 87h0M21 126h0M108 103h0M128 159h0M93 209h0M170 95h0M124 0h0M46 117h0M162 113h0M39 107h0M77 219h0M75 159h0M161 160h0M68 125h0M92 169h0M160 39h0M93 117h0M174 6h0M33 21h0M93 209h0M195 188h0M100 214h0M129 150h0M86 166h0M150 31h0M11 20h0M81 111h0M56 222h0M147 26h0M168 13h0M43 24h0M181 179h0M11 141h0M49 127h0M201 115h0M80 45h0M188 211h0M93 49h0M55 164h0M130 170h0M173 201h0M133 218h0M145 163h0M118 147h0M184 168h0M14 20h0M2 157h0M43 83h0M95 222h0M89 139h0M85 10h0" stroke="#3a3aa8" stroke-width="3.2" stroke-linecap="round" stroke-opacity="0.9"/><ellipse cx="617" cy="707" rx="5" ry="6.5" fill="#fbfafc" filter="url(#bl2)"/><ellipse cx="650" cy="668" rx="25" ry="5" fill="#f2f0f5" opacity="0.8" transform="rotate(-12 650 668)" filter="url(#bl2)"/></g><clipPath id="cp13"><rect x="462" y="784.3" width="112.2" height="111.9"/></clipPath><g clip-path="url(#cp13)"><rect x="462" y="784.3" width="112.2" height="111.9" fill="#e8e4ec"/><path transform="translate(462 784.3) scale(.5)" d="M178 18h0M151 100h0M160 54h0M118 128h0M171 123h0M111 19h0M222 167h0M181 189h0M212 133h0M50 160h0M185 136h0M136 45h0M186 221h0M169 174h0M112 123h0M31 9h0M48 156h0M62 36h0M93 25h0M41 183h0M105 165h0M162 155h0M162 109h0M161 130h0M53 217h0M7 9h0M139 98h0M186 186h0M117 46h0M201 61h0M103 117h0M114 207h0M57 49h0M62 216h0M53 8h0M221 112h0M88 7h0M72 216h0M142 95h0M205 67h0M22 217h0M11 214h0M196 164h0M30 119h0M30 117h0M168 108h0M9 154h0M86 5h0M88 194h0M94 104h0M142 205h0M39 66h0M167 2h0M37 150h0M169 89h0M119 148h0M53 60h0M24 175h0M113 46h0M73 197h0M133 56h0M35 115h0M153 85h0M138 40h0M99 58h0M153 181h0M26 139h0M59 5h0M112 151h0M101 187h0M71 204h0M145 79h0M180 175h0M110 222h0M182 145h0M21 73h0M99 26h0M63 58h0M100 11h0M13 63h0M90 61h0M184 115h0M21 189h0M0 173h0M11 74h0M94 127h0M177 184h0M33 122h0M181 189h0M65 203h0M12 104h0M66 50h0M183 174h0M11 163h0M130 104h0M72 8h0M100 88h0M86 138h0M207 158h0M63 160h0M200 111h0M65 139h0M84 153h0M123 101h0M60 7h0M26 222h0M79 178h0M47 125h0M29 191h0M182 12h0M152 33h0M164 107h0M157 163h0M17 172h0M40 162h0M137 49h0M173 102h0M201 8h0M44 26h0M163 189h0M60 197h0M47 184h0M56 192h0M46 117h0M47 36h0M214 4h0M67 24h0M162 35h0M163 49h0M179 59h0M199 16h0M132 186h0M116 36h0M96 20h0M181 31h0M71 174h0M21 133h0M80 128h0M149 97h0M120 200h0M46 102h0M224 212h0M157 185h0M67 184h0M185 80h0M218 90h0M167 82h0M16 70h0M26 38h0M129 124h0M222 73h0M16 79h0M194 138h0M167 183h0M161 102h0M135 198h0M142 58h0M127 1h0M197 191h0M47 103h0M143 192h0M63 153h0M61 51h0M219 3h0M142 131h0M81 122h0M104 37h0M28 152h0M67 13h0M26 183h0M69 173h0M208 52h0M118 83h0M28 111h0M17 137h0M223 162h0M9 39h0M160 59h0M191 117h0M160 156h0M18 82h0M224 54h0M66 127h0M8 196h0M122 51h0M124 92h0M71 53h0M222 117h0M186 101h0M198 182h0M39 63h0M83 30h0M164 105h0M122 165h0M14 36h0M124 78h0M74 171h0M153 6h0M150 131h0M51 93h0M168 42h0M126 184h0M191 42h0M103 130h0M96 212h0M209 140h0M129 185h0M197 118h0M185 123h0M97 179h0M206 148h0M211 166h0M88 99h0M149 151h0M68 143h0M96 196h0M99 82h0M132 103h0M68 67h0M30 67h0M80 130h0M169 177h0M183 212h0M146 9h0M9 186h0M216 40h0M23 35h0M14 82h0M170 61h0M31 63h0M174 178h0M218 31h0M59 117h0M168 158h0M123 224h0M177 103h0M117 193h0M63 44h0M4 153h0M114 87h0M6 212h0M150 16h0M43 219h0M221 110h0M186 39h0M193 140h0M40 50h0M41 61h0M32 56h0M87 21h0M219 48h0M188 127h0M82 138h0M13 214h0M25 158h0M52 105h0M130 91h0M96 69h0M145 77h0M2 2h0M25 197h0M210 52h0M104 133h0M43 108h0M62 114h0M211 90h0M11 95h0M218 20h0M190 43h0M29 115h0M46 0h0M39 195h0M184 207h0M21 127h0M125 1h0M185 10h0M114 149h0M9 217h0M206 192h0M41 123h0M52 67h0M8 160h0M109 182h0M204 16h0M75 214h0M160 171h0M83 82h0M131 91h0M195 90h0M154 76h0M114 68h0M45 149h0M13 185h0M74 41h0M27 53h0M32 162h0M22 146h0M49 25h0M103 105h0M69 126h0M17 46h0M223 186h0M4 35h0M110 76h0M160 73h0M216 49h0M71 26h0M4 21h0M132 128h0M187 107h0M177 165h0M207 69h0M171 193h0M47 80h0M217 118h0M203 153h0M159 162h0M33 8h0M5 162h0M193 96h0M210 111h0M164 132h0M127 141h0M149 72h0M43 12h0M45 79h0M42 185h0M106 21h0M107 57h0M91 6h0M7 204h0M209 71h0M185 78h0M20 23h0M88 5h0M79 157h0M165 59h0M95 61h0M202 45h0M39 47h0M107 167h0M167 111h0M186 106h0M153 54h0M149 148h0M10 42h0M12 31h0M134 142h0M65 128h0M142 137h0M5 187h0M35 13h0M121 27h0M82 102h0M63 50h0M32 152h0M221 134h0M83 223h0M78 222h0M155 196h0M161 18h0M165 20h0M34 158h0M184 197h0M65 141h0M52 52h0M177 12h0M79 91h0M69 195h0M118 81h0M87 199h0M59 127h0M82 38h0M97 180h0M95 126h0M148 122h0M217 76h0M76 18h0M117 1h0M150 14h0M90 132h0M210 34h0M26 148h0M18 57h0M147 7h0M101 81h0M141 219h0M74 89h0M168 221h0M9 74h0M171 104h0M140 184h0M129 74h0M86 102h0M141 37h0M101 211h0M82 27h0M217 89h0M139 127h0M1 70h0M198 80h0M17 24h0M199 167h0M5 107h0M59 32h0M115 89h0M75 156h0M122 160h0M34 115h0M3 139h0M118 38h0M145 111h0M206 157h0M207 199h0M81 35h0M215 205h0M220 198h0M58 102h0M126 21h0M139 93h0M45 46h0M185 15h0M121 175h0M157 41h0M203 222h0M130 57h0M29 42h0M163 201h0M150 197h0M126 121h0M103 59h0M146 99h0M7 210h0M131 99h0M212 10h0M116 55h0M26 223h0M153 74h0M64 31h0M114 150h0M214 197h0M129 2h0M95 66h0M207 165h0M224 133h0M104 76h0M97 157h0M25 160h0M148 184h0M181 86h0M77 27h0M15 68h0M102 187h0M196 199h0M36 183h0M53 187h0M130 215h0M213 70h0M32 203h0M17 111h0M213 48h0M82 117h0M3 49h0M188 90h0M206 222h0M49 52h0M170 114h0M205 134h0M223 137h0M164 93h0M49 169h0M19 162h0M24 210h0M26 212h0M211 164h0M172 98h0M18 20h0M187 25h0M9 102h0M58 82h0M120 176h0M149 4h0M207 207h0M221 80h0M118 195h0M194 139h0M65 197h0M90 169h0M40 185h0M116 193h0M22 20h0M183 208h0M137 12h0M145 47h0M170 65h0M50 162h0M14 204h0M174 57h0M53 123h0M51 18h0M217 118h0M67 48h0M213 161h0M182 92h0M206 155h0M221 154h0M113 185h0M30 160h0M210 222h0M157 30h0M67 163h0M3 23h0M65 73h0M2 98h0M10 118h0M50 154h0M159 151h0M85 143h0M26 39h0M78 140h0M140 88h0M147 82h0M50 86h0M80 21h0M12 160h0M60 20h0M142 47h0M150 74h0M182 2h0M78 73h0M92 22h0M18 34h0M155 134h0M179 151h0M143 45h0M150 95h0M158 72h0M134 114h0M47 13h0M189 150h0M167 213h0M91 70h0M94 45h0M68 205h0M164 45h0M223 177h0M15 221h0M21 90h0M122 18h0M73 146h0M34 129h0M181 38h0M125 63h0M177 218h0M181 27h0M132 166h0M135 26h0M166 20h0M47 57h0M6 81h0M44 169h0M36 8h0M48 125h0M19 140h0M76 87h0M121 38h0M32 121h0M140 4h0M88 196h0M114 36h0M42 121h0M216 26h0M140 107h0M175 189h0M206 146h0M42 130h0M94 33h0M24 6h0M5 182h0M181 47h0M176 75h0M26 176h0M183 132h0M221 127h0M84 49h0M99 207h0M160 208h0M82 53h0M95 159h0M210 93h0M26 75h0M200 75h0M210 85h0M140 158h0M198 88h0M54 138h0M108 115h0M196 44h0M118 110h0M217 74h0M8 57h0M66 161h0M108 32h0M217 71h0M147 115h0M44 150h0M214 153h0M64 176h0M161 107h0M148 181h0M159 78h0M103 221h0M107 98h0M35 219h0M184 139h0M90 202h0M223 30h0M126 82h0M84 138h0M110 164h0M83 205h0M33 7h0M21 39h0M35 62h0M63 197h0M4 201h0M215 217h0M179 99h0M47 71h0M178 26h0M49 136h0M208 177h0M114 173h0M191 214h0M138 216h0M128 65h0M163 184h0M10 133h0M198 141h0M10 193h0M72 111h0M184 192h0M117 30h0M212 23h0M215 128h0M56 74h0M207 188h0M190 87h0M16 58h0M185 49h0M168 220h0M190 117h0M144 85h0M16 151h0M124 52h0M61 222h0M106 174h0M125 109h0M184 171h0M63 117h0M138 182h0M70 59h0M35 182h0M158 82h0M126 6h0M32 45h0M150 160h0M166 218h0M135 95h0M34 33h0M61 80h0M173 43h0M80 218h0M155 9h0M113 77h0M167 146h0M213 98h0M202 99h0M105 59h0M94 69h0M47 172h0M28 58h0M85 162h0M168 107h0M145 138h0M114 106h0M108 59h0M59 106h0M40 129h0M125 56h0M157 68h0M20 15h0M110 58h0M113 26h0M164 168h0M87 196h0M197 71h0M200 153h0M95 101h0M60 0h0" stroke="#cdc3d2" stroke-width="2.4" stroke-linecap="round" stroke-opacity="0.5"/><path transform="translate(462 784.3) scale(.5)" d="M175 149h0M188 143h0M122 87h0M195 13h0M119 119h0M152 209h0M71 128h0M114 117h0M14 6h0M198 162h0M99 123h0M34 190h0M61 111h0M177 51h0M76 72h0M123 143h0M122 196h0M63 21h0M223 15h0M159 135h0M120 110h0M71 58h0M164 12h0M185 19h0M107 153h0M200 22h0M34 49h0M75 181h0M177 22h0M153 142h0M24 104h0M15 197h0M69 18h0M96 77h0M81 15h0M213 147h0M140 168h0M86 155h0M136 220h0M108 87h0M99 148h0M79 52h0M169 125h0M44 41h0M179 166h0M164 210h0M88 210h0M112 33h0M83 87h0M42 77h0M158 35h0M114 40h0M190 1h0M153 185h0M167 183h0M138 46h0M34 100h0M49 138h0M99 198h0M163 76h0M117 93h0M222 47h0M56 130h0M215 1h0M198 5h0M222 221h0M162 214h0M111 101h0M28 143h0M193 46h0M54 156h0M86 38h0M112 135h0M63 193h0M46 10h0M31 74h0M129 169h0M203 5h0M106 152h0M2 183h0M70 22h0M46 53h0M208 67h0M26 183h0M55 156h0M96 158h0M17 52h0M141 30h0M157 99h0M191 208h0M175 176h0M13 177h0M23 130h0M195 49h0M152 13h0M106 21h0M182 4h0M57 1h0M144 132h0M133 181h0M68 156h0M157 28h0M105 36h0M219 51h0M222 109h0M34 89h0M38 18h0M170 124h0M32 190h0M85 106h0M104 152h0M130 134h0M171 146h0M42 25h0M161 82h0M61 10h0M80 7h0M183 24h0M84 106h0M56 147h0M97 48h0M140 213h0M99 201h0M197 176h0M23 42h0M168 65h0M186 185h0M32 177h0M132 153h0M117 122h0M44 140h0M135 222h0M102 30h0M147 21h0M212 110h0M85 41h0M33 66h0M219 198h0M102 106h0M125 127h0M117 156h0M95 138h0M213 185h0M92 101h0M175 167h0M115 5h0M79 101h0M137 96h0M117 122h0M213 125h0M209 59h0M70 27h0M104 37h0M27 158h0M107 36h0M108 119h0M36 2h0M219 26h0M22 60h0M174 170h0M112 181h0M18 29h0M120 68h0M179 58h0M125 45h0M27 221h0M211 55h0M131 33h0M54 21h0M211 187h0M209 164h0M159 87h0M119 29h0M137 129h0M17 19h0M209 75h0M208 59h0M223 216h0M73 186h0M191 21h0M58 180h0M13 222h0M178 161h0M65 218h0M145 125h0M31 210h0M6 35h0M130 201h0M91 214h0M115 74h0M106 131h0M218 159h0M191 26h0M193 174h0M94 6h0M134 109h0M37 117h0M51 62h0M103 36h0M5 158h0M86 184h0M59 211h0M198 30h0M89 125h0M18 99h0M108 128h0M138 179h0M78 2h0M148 67h0M197 13h0M223 42h0M34 83h0M29 41h0M104 157h0M185 194h0M13 223h0M29 29h0M176 159h0M217 205h0M200 1h0M96 8h0M199 30h0M41 133h0M150 93h0M43 195h0M43 127h0M103 169h0M29 45h0M180 87h0M182 204h0M90 124h0M48 77h0M10 16h0M148 114h0M11 56h0M153 132h0M40 114h0M5 158h0M93 140h0M182 215h0M140 80h0M34 74h0M18 104h0M59 29h0M38 180h0M17 208h0M92 24h0M184 2h0M57 17h0M117 24h0M177 84h0M203 198h0M148 182h0M216 107h0M46 42h0M124 155h0M184 67h0M4 195h0M59 41h0M177 155h0M157 36h0M35 127h0M213 210h0M151 120h0M186 199h0M18 39h0M84 78h0M63 60h0M19 28h0M65 164h0M52 119h0M145 164h0M169 51h0M49 17h0M11 101h0M154 222h0M161 202h0M69 7h0M30 12h0M217 161h0M97 182h0M29 164h0M116 6h0M10 57h0M186 136h0M152 132h0M177 23h0M66 157h0M102 196h0M3 22h0M176 3h0M18 208h0M198 14h0M83 93h0M76 143h0M141 212h0M30 78h0M128 136h0M98 62h0M70 199h0" stroke="#bfb2a8" stroke-width="2.0" stroke-linecap="round" stroke-opacity="0.45"/><path transform="translate(462 784.3) scale(.5)" d="M103 130h0M107 126h0M120 137h0M108 124h0M90 124h0M100 122h0M107 116h0M114 126h0M107 111h0" stroke="#c0703e" stroke-width="3.6" stroke-linecap="round" stroke-opacity="0.85"/><path transform="translate(462 784.3) scale(.5)" d="M189 40h0M187 137h0M2 106h0M175 74h0M180 4h0M14 68h0M164 114h0M15 96h0M62 114h0M18 36h0M154 122h0M22 38h0M167 117h0M72 88h0M147 60h0M183 93h0M53 188h0M69 143h0M105 112h0M64 173h0M107 196h0M170 87h0M193 0h0M165 140h0M131 99h0M121 105h0M84 64h0M207 180h0M208 96h0M104 134h0M27 131h0M112 32h0M117 123h0M89 82h0M1 26h0M11 60h0M135 181h0M27 223h0M25 197h0M36 75h0M196 86h0M219 146h0M61 23h0M59 138h0M132 177h0M66 145h0M81 206h0M23 73h0M96 48h0M132 124h0M120 153h0M117 48h0M185 90h0M33 56h0M32 133h0M215 74h0M183 212h0M53 140h0M164 141h0M171 133h0M165 34h0M66 59h0M15 52h0M41 82h0M9 21h0M30 148h0M108 218h0M75 167h0M141 106h0M46 80h0M3 38h0M39 25h0M119 81h0M5 124h0M34 57h0M111 84h0M202 133h0M127 123h0M126 118h0M163 208h0M137 27h0M178 204h0M177 59h0M153 8h0M90 77h0M114 81h0M187 115h0M31 204h0M88 120h0M45 58h0M48 183h0M74 22h0M180 20h0M210 111h0M143 113h0M188 165h0M107 23h0M134 164h0M148 71h0M203 198h0M162 132h0M203 133h0M165 53h0M9 220h0M132 135h0M26 145h0M123 172h0M2 126h0M213 110h0M192 14h0M174 118h0M69 46h0M44 18h0M6 168h0M147 86h0M108 78h0M58 146h0M179 151h0M144 30h0M66 53h0M14 218h0M87 81h0M40 85h0M105 109h0M185 70h0M219 89h0M210 34h0M18 30h0M203 46h0M147 94h0M160 56h0M111 120h0M169 187h0M111 2h0M171 195h0M122 160h0M161 119h0M166 199h0M85 204h0M95 131h0M23 166h0M112 127h0M223 7h0M182 22h0M125 106h0M160 8h0M162 156h0M97 96h0M91 122h0M133 146h0M74 74h0M115 117h0M152 189h0M55 32h0M164 85h0M184 138h0M91 174h0M126 67h0M133 176h0M162 21h0M207 93h0M51 148h0M194 222h0M173 149h0M47 195h0M183 96h0M134 187h0M106 180h0M125 52h0M128 213h0M11 66h0M160 181h0M31 85h0M145 36h0M154 97h0M30 15h0M52 52h0M84 219h0M196 93h0M53 34h0M144 146h0M204 152h0M151 92h0M165 2h0M175 86h0M205 36h0M36 66h0M87 168h0M131 52h0M78 197h0M0 147h0M214 112h0M11 182h0M209 84h0M73 193h0M115 97h0M43 80h0M79 125h0M214 36h0M224 22h0M157 74h0M168 218h0M5 79h0M32 22h0M104 51h0M149 78h0M50 131h0M197 92h0M39 45h0M87 12h0M46 169h0M11 73h0M128 171h0M72 145h0M78 102h0M36 91h0M144 187h0M105 65h0M154 112h0M117 103h0M90 55h0M147 133h0M147 181h0M132 45h0M104 154h0M185 186h0M39 118h0M84 147h0M36 61h0M134 9h0M94 59h0M177 123h0M88 113h0M113 8h0M127 83h0M124 101h0M92 223h0M79 36h0M182 130h0M124 211h0M35 186h0M79 5h0M8 39h0M29 10h0M6 205h0M15 37h0M159 75h0M171 186h0M98 7h0M43 93h0M131 121h0M120 63h0M119 135h0M149 121h0M192 178h0M66 221h0M31 17h0M224 180h0M119 115h0M146 197h0M190 60h0M157 77h0M104 102h0M61 125h0M213 152h0M130 170h0M108 108h0M125 134h0M224 18h0M17 200h0M53 122h0M146 76h0M131 200h0M89 22h0M40 101h0M214 141h0M10 121h0M52 187h0M37 186h0M222 195h0M62 152h0M218 155h0M78 63h0M219 129h0M120 204h0M9 124h0M106 104h0M17 211h0M218 16h0M95 176h0M74 205h0M217 77h0M216 110h0M58 113h0M135 60h0M150 8h0M219 175h0M224 109h0M98 150h0M118 128h0M157 223h0M102 119h0M212 88h0M117 31h0M90 21h0M160 90h0M191 2h0M40 27h0M11 18h0M215 189h0M88 10h0M2 75h0M85 157h0M55 43h0M141 96h0M137 193h0M179 118h0M195 67h0M90 111h0M123 91h0M8 130h0M25 5h0M148 47h0M198 70h0M177 135h0M78 106h0M161 39h0M170 183h0M185 49h0M6 144h0M164 158h0M34 170h0M48 35h0M6 187h0M9 221h0M209 9h0M5 3h0M206 38h0M23 221h0M121 122h0M170 143h0M180 45h0M153 73h0M135 200h0M56 206h0M221 81h0M188 17h0M124 113h0M75 15h0M10 36h0M75 117h0M131 153h0M171 22h0M208 86h0M95 84h0M207 141h0M158 162h0M27 180h0M26 82h0M6 93h0M148 156h0M24 2h0M77 59h0M194 116h0M175 47h0M166 125h0M219 46h0M89 154h0M90 128h0M116 45h0M116 133h0M177 21h0M79 70h0M160 41h0M209 203h0M28 57h0M111 25h0M91 82h0M145 16h0M92 11h0" stroke="#4848bc" stroke-width="5.0" stroke-linecap="round" stroke-opacity="0.9"/><path transform="translate(462 784.3) scale(.5)" d="M54 99h0M210 144h0M15 78h0M138 171h0M4 193h0M176 51h0M96 128h0M52 99h0M192 113h0M156 194h0M109 101h0M143 12h0M23 200h0M89 147h0M34 53h0M214 53h0M145 100h0M184 15h0M2 212h0M12 109h0M105 17h0M130 203h0M172 207h0M207 131h0M184 32h0M154 17h0M138 8h0M10 32h0M36 75h0M59 111h0M1 165h0M186 130h0M112 124h0M129 185h0M177 143h0M191 38h0M152 74h0M126 110h0M93 39h0M125 158h0M33 85h0M31 163h0M163 133h0M119 181h0M19 59h0M178 169h0M82 100h0M57 206h0M57 14h0M47 49h0M97 204h0M182 206h0M170 92h0M15 16h0M27 66h0M11 180h0M80 103h0M29 148h0M70 143h0M196 169h0M11 43h0M218 131h0M58 121h0M70 85h0M198 25h0M109 34h0M111 119h0M9 78h0M117 33h0M90 5h0M18 198h0M176 161h0M89 39h0M108 168h0M11 76h0M157 13h0M100 2h0M216 208h0M146 176h0M82 80h0" stroke="#3a3aae" stroke-width="6.2" stroke-linecap="round" stroke-opacity="0.9"/><path transform="translate(462 784.3) scale(.5)" d="M111 109h0M137 79h0M119 114h0M58 140h0M102 102h0M116 120h0M150 100h0M77 128h0M104 117h0M97 82h0M122 96h0M78 106h0M127 139h0M107 125h0M141 96h0M128 90h0M175 131h0M127 144h0M109 118h0M73 117h0M149 114h0M126 99h0M130 103h0M73 132h0M128 118h0M150 118h0M134 86h0M97 90h0M98 108h0M132 48h0M119 102h0M114 118h0M109 126h0M80 92h0M101 107h0M138 137h0M118 100h0M116 112h0M114 105h0M108 85h0M115 141h0M115 106h0M115 131h0M129 145h0M96 119h0M101 86h0M78 89h0M106 147h0M132 96h0M105 98h0M86 115h0M74 117h0M127 131h0M128 80h0M122 130h0M124 102h0M114 125h0M92 101h0M102 113h0M161 107h0M98 84h0M138 131h0M126 146h0M90 112h0M150 125h0M112 71h0M89 129h0M99 90h0M149 104h0M89 137h0M107 81h0M121 83h0M110 120h0M106 111h0M83 90h0M90 118h0M121 102h0M108 105h0M88 90h0M95 132h0M128 130h0M109 132h0M127 98h0M133 103h0M106 130h0M97 145h0M77 96h0M131 112h0M121 99h0M112 125h0M103 93h0M116 159h0M117 128h0M105 80h0M146 96h0M98 96h0M68 94h0M137 135h0M125 119h0M99 135h0M119 160h0M112 94h0M138 109h0M129 99h0M114 116h0M145 100h0M120 153h0M130 107h0M106 136h0M154 120h0M115 120h0M126 114h0M105 109h0M114 110h0M99 120h0M99 93h0M127 112h0M121 129h0M115 109h0M90 110h0" stroke="#2e2e9c" stroke-width="3.4" stroke-linecap="round" stroke-opacity="0.9"/></g><clipPath id="cp14"><rect x="610" y="784.3" width="112" height="111.9"/></clipPath><g clip-path="url(#cp14)"><rect x="610" y="784.3" width="112" height="111.9" fill="#eae6ef"/><path transform="translate(610 784.3) scale(.5)" d="M98 131h0M201 222h0M115 52h0M189 145h0M131 127h0M170 104h0M76 118h0M134 41h0M119 213h0M117 98h0M223 66h0M159 70h0M216 139h0M1 46h0M45 61h0M99 137h0M100 25h0M160 68h0M217 194h0M153 105h0M108 218h0M125 48h0M156 198h0M32 113h0M214 167h0M69 29h0M160 206h0M194 160h0M49 55h0M157 57h0M204 82h0M43 3h0M22 69h0M13 71h0M145 137h0M105 158h0M166 211h0M33 173h0M102 175h0M128 36h0M210 170h0M37 16h0M139 72h0M213 81h0M53 193h0M145 4h0M70 119h0M188 223h0M14 149h0M50 170h0M10 164h0M48 18h0M17 119h0M4 168h0M65 181h0M51 109h0M83 144h0M200 151h0M99 183h0M8 78h0M67 215h0M21 115h0M29 34h0M163 192h0M136 122h0M38 101h0M31 50h0M131 105h0M145 208h0M170 90h0M9 128h0M129 29h0M46 171h0M47 25h0M218 128h0M210 7h0M70 46h0M198 209h0M115 192h0M71 155h0M85 21h0M121 169h0M205 109h0M55 4h0M181 40h0M34 150h0M70 20h0M115 46h0M48 11h0M44 37h0M157 214h0M100 3h0M163 215h0M66 142h0M10 24h0M114 222h0M96 96h0M142 45h0M81 182h0M182 64h0M32 34h0M34 99h0M119 34h0M192 46h0M125 152h0M120 2h0M120 221h0M110 194h0M25 177h0M107 124h0M3 119h0M160 46h0M172 147h0M109 125h0M127 178h0M129 214h0M79 167h0M58 60h0M14 42h0M132 194h0M19 108h0M74 189h0M196 171h0M17 73h0M168 25h0M13 117h0M90 47h0M20 51h0M7 171h0M76 85h0M107 58h0M192 206h0M223 102h0M73 137h0M181 181h0M64 160h0M196 27h0M147 14h0M103 173h0M204 187h0M135 173h0M128 45h0M74 67h0M177 73h0M219 155h0M115 145h0M170 35h0M179 202h0M122 34h0M39 105h0M39 220h0M97 215h0M85 97h0M157 172h0M46 213h0M166 20h0M53 181h0M1 208h0M78 135h0M181 68h0M54 181h0M1 62h0M116 108h0M116 13h0M70 25h0M37 82h0M204 14h0M206 142h0M27 188h0M20 89h0M177 139h0M177 91h0M175 123h0M15 122h0M72 25h0M48 187h0M86 60h0M25 87h0M206 93h0M218 172h0M63 218h0M178 138h0M160 95h0M2 183h0M50 10h0M213 166h0M34 195h0M8 186h0M58 205h0M209 190h0M54 170h0M7 9h0M71 39h0M104 115h0M99 47h0M152 128h0M28 167h0M140 208h0M157 165h0M45 199h0M6 24h0M218 34h0M104 22h0M35 9h0M75 172h0M174 135h0M61 33h0M40 69h0M115 94h0M63 47h0M157 137h0M158 217h0M197 85h0M206 55h0M41 182h0M76 63h0M186 172h0M35 13h0M189 214h0M138 81h0M201 153h0M75 12h0M183 53h0M183 216h0M4 85h0M180 66h0M205 90h0M98 220h0M203 149h0M58 12h0M34 95h0M171 101h0M166 28h0M95 37h0M7 60h0M134 56h0M21 67h0M35 176h0M39 97h0M34 48h0M26 78h0M80 130h0M71 122h0M19 220h0M207 211h0M171 82h0M197 68h0M84 35h0M71 107h0M97 146h0M32 134h0M8 9h0M71 97h0M140 61h0M203 31h0M189 82h0M85 182h0M132 78h0M49 49h0M19 85h0M190 30h0M57 36h0M172 70h0M73 72h0M73 81h0M174 188h0M142 64h0M182 68h0M34 165h0M45 183h0M87 209h0M50 88h0M96 163h0M79 115h0M8 154h0M129 65h0M91 164h0M103 4h0M217 56h0M75 181h0M222 153h0M137 78h0M176 78h0M66 52h0M19 146h0M139 167h0M57 193h0M221 94h0M11 90h0M151 18h0M190 187h0M22 158h0M23 214h0M147 152h0M139 30h0M198 63h0M40 116h0M69 63h0M152 113h0M103 71h0M39 87h0M96 50h0M83 37h0M39 148h0M217 6h0M123 134h0M70 130h0M74 39h0M112 133h0M215 157h0M118 67h0M101 29h0M65 70h0M57 23h0M179 56h0M174 149h0M182 5h0M99 141h0M18 65h0M58 53h0M54 115h0M163 110h0M164 73h0M77 184h0M110 14h0M161 219h0M53 75h0M83 12h0M45 1h0M89 121h0M129 9h0M44 148h0M168 42h0M7 129h0M48 6h0M205 204h0M224 11h0M212 16h0M199 111h0M179 129h0M130 114h0M157 24h0M102 55h0M131 222h0M87 66h0M178 77h0M122 128h0M84 107h0M106 217h0M36 102h0M201 154h0M190 23h0M127 167h0M195 141h0M58 139h0M159 91h0M107 95h0M181 126h0M196 30h0M211 186h0M192 109h0M171 12h0M93 217h0M149 117h0M43 28h0M5 50h0M101 64h0M156 17h0M95 69h0M23 8h0M144 202h0M150 4h0M191 89h0M149 207h0M97 82h0M46 168h0M143 189h0M27 63h0M158 40h0M224 41h0M21 22h0M155 83h0M92 79h0M8 111h0M20 94h0M132 165h0M134 107h0M112 185h0M33 191h0M214 27h0M175 1h0M202 53h0M145 21h0M85 23h0M164 213h0M111 128h0M122 212h0M93 37h0M197 152h0M3 124h0M150 154h0M140 159h0M128 102h0M95 79h0M68 96h0M92 12h0M79 47h0M111 182h0M82 120h0M12 159h0M18 137h0M137 150h0M4 91h0M61 20h0M38 97h0M83 93h0M34 108h0M210 155h0M173 42h0M127 149h0M159 154h0M0 214h0M49 136h0M36 120h0M71 2h0M35 187h0M139 222h0M119 147h0M36 141h0M91 167h0M125 120h0M91 111h0M17 79h0M98 217h0M193 49h0M206 71h0M127 89h0M222 4h0M78 117h0M164 38h0M135 105h0M80 219h0M40 156h0M151 144h0M94 148h0M169 148h0M186 136h0M24 63h0M201 25h0M197 42h0M84 66h0M57 223h0M88 197h0M122 14h0M121 3h0M138 132h0M175 117h0M196 95h0M54 62h0M181 29h0M174 101h0M91 68h0M31 34h0M114 112h0M146 120h0M47 14h0M186 215h0M149 80h0M124 66h0M147 185h0M209 89h0M105 42h0M92 161h0M197 48h0M12 34h0M207 50h0M60 31h0M58 20h0M176 167h0M9 135h0M44 101h0M107 144h0M8 13h0M29 210h0M189 83h0M32 32h0M210 117h0M107 144h0M176 79h0M89 122h0M82 1h0M90 187h0M162 78h0M63 156h0M57 213h0M100 53h0M82 209h0M127 149h0M91 107h0M133 91h0M96 136h0M56 151h0M56 82h0M52 214h0M157 80h0M115 97h0M103 13h0M90 162h0M215 86h0M15 180h0M105 160h0M49 87h0M123 34h0M129 23h0M28 168h0M192 204h0M211 44h0M159 54h0M78 92h0M86 19h0M143 120h0M4 150h0M65 21h0M171 15h0M127 49h0M177 53h0M97 10h0M170 124h0M111 53h0M132 91h0M92 149h0M165 105h0M96 93h0M142 186h0M29 70h0M25 212h0M169 100h0M88 57h0M224 3h0M192 44h0M171 28h0M139 21h0M28 55h0M207 92h0M61 134h0M106 38h0M36 42h0M193 99h0M208 5h0M67 31h0M98 195h0M182 43h0M152 85h0M97 1h0M61 219h0M157 108h0M18 163h0M154 145h0M165 160h0M14 29h0M69 68h0M138 52h0M51 122h0M27 175h0M139 133h0M152 169h0M178 59h0M54 31h0M164 66h0M90 142h0M114 24h0M196 17h0M168 158h0M128 67h0M61 31h0M132 82h0M189 215h0M130 15h0M141 165h0M215 34h0M215 30h0M121 111h0M108 112h0M217 188h0M125 178h0M221 140h0M86 22h0M138 96h0M68 77h0M80 193h0M201 88h0M28 203h0M52 61h0M174 116h0M209 122h0M74 48h0M173 134h0M37 37h0M11 24h0M122 158h0M125 3h0M8 172h0M142 136h0M99 108h0M194 41h0M10 157h0M99 36h0M90 143h0M124 216h0M33 198h0M115 10h0M53 23h0M24 223h0M102 69h0M59 155h0M18 61h0M167 158h0M209 100h0M10 156h0M194 201h0M84 48h0M190 16h0M218 166h0M160 118h0M23 157h0M3 189h0M8 20h0M130 157h0M208 62h0M75 109h0M204 141h0M137 70h0M123 175h0M66 112h0M187 198h0M53 7h0M162 221h0M7 170h0M17 194h0M38 35h0M67 191h0M130 155h0M51 80h0M98 112h0M19 61h0M116 49h0M40 120h0M185 39h0M79 219h0M185 161h0M131 219h0M124 8h0M53 87h0M145 166h0M182 68h0M223 18h0M208 130h0M168 183h0M55 102h0M124 190h0M210 65h0M11 24h0M5 86h0M33 176h0M143 212h0M201 214h0M151 15h0M89 134h0M45 38h0M143 72h0M184 80h0M154 94h0M209 20h0M92 83h0M181 83h0M131 77h0M152 220h0M111 199h0M68 84h0M133 41h0M67 26h0M189 97h0M24 205h0M73 173h0M197 150h0M141 22h0M190 157h0M189 197h0M183 191h0M68 186h0M94 125h0M140 47h0M207 55h0M168 59h0M2 46h0M211 83h0M59 23h0M74 221h0M185 52h0M178 43h0" stroke="#cdc6da" stroke-width="2.4" stroke-linecap="round" stroke-opacity="0.5"/><path transform="translate(610 784.3) scale(.5)" d="M199 68h0M185 8h0M130 215h0M3 137h0M130 29h0M15 65h0M220 147h0M150 179h0M177 137h0M18 59h0M146 187h0M103 178h0M47 203h0M57 88h0M139 51h0M35 40h0M24 195h0M164 161h0M55 124h0M182 94h0M145 128h0M107 118h0M35 30h0M55 65h0M116 74h0M39 22h0M39 188h0M100 124h0M82 91h0M151 29h0M73 27h0M38 65h0M198 155h0M107 122h0M126 139h0M62 153h0M132 180h0M186 36h0M55 153h0M130 218h0M110 171h0M116 196h0M151 47h0M118 150h0M156 194h0M215 131h0M167 163h0M57 170h0M37 167h0M146 26h0M101 15h0M32 68h0M165 28h0M219 68h0M13 198h0M95 145h0M5 127h0M62 23h0M5 46h0M152 81h0M206 134h0M162 60h0M154 12h0M126 96h0M80 99h0M203 58h0M132 108h0M162 84h0M181 156h0M11 149h0M105 211h0M204 156h0M48 41h0M90 204h0M18 116h0M17 98h0M211 185h0M131 118h0M190 49h0M193 66h0M97 148h0M128 167h0M119 115h0M73 82h0M190 37h0M68 156h0M116 89h0M145 7h0M71 63h0M24 94h0M222 166h0M214 14h0M21 7h0M167 35h0M13 197h0M140 148h0M41 208h0M121 73h0M148 197h0M126 7h0M154 82h0M86 12h0M116 69h0M92 10h0M78 122h0M105 125h0M69 151h0M39 99h0M1 11h0M79 78h0M22 69h0M9 117h0M13 25h0M82 153h0M73 150h0M50 188h0M27 4h0M41 85h0M111 113h0M97 42h0M113 188h0M206 183h0M1 33h0M149 74h0M128 189h0M156 61h0M116 21h0M20 44h0M210 5h0M188 163h0M15 26h0M219 75h0M166 92h0M36 113h0M44 57h0M13 90h0M188 71h0M224 88h0M53 145h0M84 84h0M92 72h0M198 48h0M4 68h0M21 143h0M80 128h0M223 40h0M176 21h0M79 127h0M173 63h0M49 194h0M14 98h0M26 35h0M183 56h0M71 55h0M116 4h0M151 45h0M211 150h0M149 53h0M124 56h0M13 64h0M203 224h0M20 183h0M69 38h0M203 26h0M140 180h0M133 120h0M12 48h0M181 158h0M96 45h0M183 10h0M179 49h0M2 202h0M104 70h0M0 123h0M222 58h0M199 47h0M47 170h0M179 27h0M185 119h0M81 114h0M156 32h0M64 127h0M155 177h0M105 68h0M199 145h0M44 24h0M131 57h0M214 76h0M35 26h0M35 56h0M157 16h0M136 192h0M12 215h0M39 59h0M93 184h0M147 149h0M42 213h0M67 201h0M91 146h0M128 197h0" stroke="#c0b4ac" stroke-width="2.0" stroke-linecap="round" stroke-opacity="0.4"/><path transform="translate(610 784.3) scale(.5)" d="M198 110h0M64 17h0M109 166h0M136 98h0M98 202h0M196 105h0M85 80h0M35 165h0M166 194h0M134 109h0M145 170h0M4 140h0M30 178h0M34 206h0M152 175h0M8 36h0M222 46h0M9 2h0M40 13h0M78 36h0M69 69h0M99 73h0M94 6h0M70 223h0M155 168h0M52 136h0M151 208h0M85 31h0M55 10h0M84 162h0M97 144h0M9 41h0M204 133h0M74 5h0M104 48h0M17 32h0M120 100h0M26 101h0M123 61h0M136 195h0M43 6h0M57 191h0M193 127h0M175 11h0M173 80h0M53 64h0M132 136h0M150 204h0M123 160h0M186 28h0M164 181h0M50 203h0M72 117h0M105 33h0M114 110h0M183 87h0M19 44h0M106 95h0M97 215h0M183 142h0M70 220h0M212 83h0M213 200h0M158 43h0M161 154h0M162 190h0M24 128h0M135 58h0M93 116h0M13 108h0M29 63h0M138 211h0M113 181h0M79 87h0M214 222h0M148 56h0M25 145h0M164 141h0M63 213h0M117 39h0M131 100h0M208 188h0M216 126h0M166 145h0M56 76h0M37 79h0M83 112h0M224 179h0M112 149h0M187 211h0M44 132h0M223 44h0M220 92h0M187 221h0M163 132h0M206 193h0M86 15h0M128 125h0M35 173h0M80 147h0M48 104h0M78 59h0M16 171h0M120 47h0M113 213h0M177 82h0M31 40h0M110 37h0M120 78h0M115 129h0M54 24h0M27 158h0M62 107h0M7 64h0M73 182h0M92 68h0M41 49h0M133 5h0M184 137h0M3 64h0M142 174h0M75 10h0M56 188h0M120 31h0M111 89h0M214 3h0M141 143h0M118 44h0M103 45h0M208 155h0M179 58h0M67 81h0M48 101h0M14 15h0M181 50h0M74 155h0M174 64h0M153 29h0M158 49h0M144 123h0M89 122h0M12 19h0M134 115h0M49 21h0M108 136h0M178 0h0M144 176h0M90 44h0M59 42h0M21 81h0M200 223h0M12 188h0M38 70h0M209 203h0M104 182h0M111 73h0M83 172h0M126 76h0M72 171h0M172 205h0M62 98h0M110 132h0M19 117h0M218 221h0M35 105h0M192 122h0M13 222h0M42 221h0M117 49h0M34 175h0M89 212h0M43 76h0M27 81h0M133 157h0M145 43h0M48 209h0M144 122h0M32 107h0M108 160h0M79 210h0M44 5h0M19 153h0M34 3h0M191 113h0M25 141h0M53 42h0M6 150h0M124 170h0M75 212h0M212 10h0M132 216h0M66 165h0M61 187h0M159 184h0M180 111h0M107 85h0M49 71h0M131 2h0M187 10h0M28 162h0M89 145h0M127 29h0M61 213h0M68 63h0M203 194h0M73 151h0M167 11h0M157 87h0M202 152h0M57 57h0M187 221h0M126 199h0M126 114h0M152 161h0M198 178h0M214 199h0M116 73h0M197 119h0M27 109h0M135 184h0M141 69h0M214 133h0M149 105h0M41 88h0M87 167h0M103 126h0M159 6h0M105 67h0M164 47h0M186 11h0M44 114h0M156 186h0M212 203h0M149 175h0M26 173h0M194 187h0M72 120h0M122 210h0M97 157h0M25 1h0M165 13h0M211 66h0M89 176h0M147 145h0M142 202h0M63 136h0M188 39h0M78 2h0M9 18h0M14 178h0M223 146h0M186 19h0M88 63h0M204 107h0M49 48h0M53 56h0M159 30h0M155 177h0M217 14h0M146 153h0" stroke="#5050c6" stroke-width="5.4" stroke-linecap="round" stroke-opacity="0.9"/><path transform="translate(610 784.3) scale(.5)" d="M125 91h0M162 81h0M96 147h0M86 49h0M169 85h0M47 51h0M182 81h0M208 85h0M214 62h0M91 223h0M15 79h0M8 21h0M54 67h0M220 25h0M149 28h0M200 102h0M111 173h0M88 85h0M209 75h0M202 67h0M176 110h0M191 169h0M139 117h0M135 217h0M21 157h0M162 149h0M210 60h0M124 111h0M38 193h0M219 218h0M168 126h0M28 117h0M64 53h0M84 34h0M96 64h0M199 178h0M160 183h0M43 187h0M79 21h0M107 30h0M97 29h0M166 1h0M116 47h0M50 126h0M114 75h0M176 56h0M22 34h0M128 159h0M16 198h0M103 211h0M199 134h0M26 107h0M209 113h0M50 222h0M6 184h0M72 51h0M209 99h0M3 83h0M191 86h0M6 148h0" stroke="#4444b8" stroke-width="6.6" stroke-linecap="round" stroke-opacity="0.9"/><path transform="translate(610 784.3) scale(.5)" d="M76 135h0M41 201h0M15 145h0M192 77h0M44 104h0M129 106h0M179 89h0M136 38h0M100 174h0M15 50h0M12 67h0M107 87h0M135 54h0M24 131h0M7 173h0M95 12h0M45 46h0M25 158h0M22 120h0M219 3h0M142 17h0M49 198h0M88 212h0M97 155h0M40 65h0M78 109h0M202 113h0M118 181h0M47 157h0M60 34h0M50 201h0M21 78h0M168 124h0M145 161h0M4 45h0M20 129h0M64 3h0M159 22h0M210 179h0M94 62h0M62 5h0M134 125h0M5 16h0M186 194h0M162 119h0M29 92h0M97 158h0M144 126h0M162 73h0M140 125h0M75 85h0M142 147h0M57 159h0M34 137h0M25 215h0M220 121h0M171 125h0M155 60h0M98 168h0M114 21h0" stroke="#3a3aa8" stroke-width="3.4" stroke-linecap="round" stroke-opacity="0.9"/><polygon points="654,835 662,832 665,842 661,851 655,849" fill="#fff" filter="url(#bl2)"/></g><text x="463.5" y="666.5" font-size="7.2" fill="#222">50 µm</text><line x1="463" y1="669.5" x2="487" y2="669.5" stroke="#444" stroke-width="0.6"/><text x="518" y="656.2" text-anchor="middle" font-size="8.6" fill="#1a1a1a">Colorectal cancer</text><text x="663.7" y="656.2" text-anchor="middle" font-size="8.6" fill="#1a1a1a">Ovarian cancer</text><text x="519.3" y="780.7" text-anchor="middle" font-size="8.6" fill="#1a1a1a">Nasopharyngeal carcinoma</text><text x="667.1" y="780.7" text-anchor="middle" font-size="8.6" fill="#1a1a1a">Hemangioma</text><text x="593.7" y="642.8" text-anchor="middle" font-size="10" fill="#1a1a1a">Liver tissues</text><line x1="462.7" y1="647.2" x2="722" y2="647.2" stroke="#555" stroke-width="0.8"/><line x1="445.5" y1="658" x2="445.5" y2="1015" stroke="#333" stroke-width="1"/><text transform="translate(436.2,834.8) rotate(-90)" text-anchor="middle" font-size="11" fill="#1a1a1a">CD274/PD-L1</text><text x="595" y="919.5" text-anchor="middle" font-size="7.9" fill="#333">CD274/PD-L1 expression</text><line x1="505" y1="925.6" x2="687.4" y2="925.6" stroke="#808080" stroke-width="1.1"/><line x1="505" y1="946.3" x2="687.4" y2="946.3" stroke="#808080" stroke-width="1.1"/><line x1="505" y1="1001.2" x2="687.4" y2="1001.2" stroke="#808080" stroke-width="1.1"/><text x="595" y="938.9" text-anchor="middle" font-size="7.9" fill="#333">Positive</text><text x="632.6" y="938.9" text-anchor="middle" font-size="7.9" fill="#333">Negative</text><text x="668.4" y="938.9" text-anchor="middle" font-size="7.9" fill="#333">P value</text><text x="506.5" y="963.9" font-size="7.9" fill="#333">Liver (metastases)</text><text x="595" y="963.9" text-anchor="middle" font-size="7.9" fill="#333">13</text><text x="632.6" y="963.9" text-anchor="middle" font-size="7.9" fill="#333">30</text><text x="506.5" y="988.5" font-size="7.9" fill="#333">Liver (hemangioma)</text><text x="595" y="988.5" text-anchor="middle" font-size="7.9" fill="#333">0</text><text x="632.6" y="988.5" text-anchor="middle" font-size="7.9" fill="#333">19</text><text x="668.4" y="979.1" text-anchor="middle" font-size="7.9" fill="#333">0.006</text><text x="506" y="1011.5" font-size="7.9" fill="#333">Chi-square (χ2) test</text></svg><div class="t" style="left:416px;top:628.5px;font-size:15px;">i</div>
</body></html>
